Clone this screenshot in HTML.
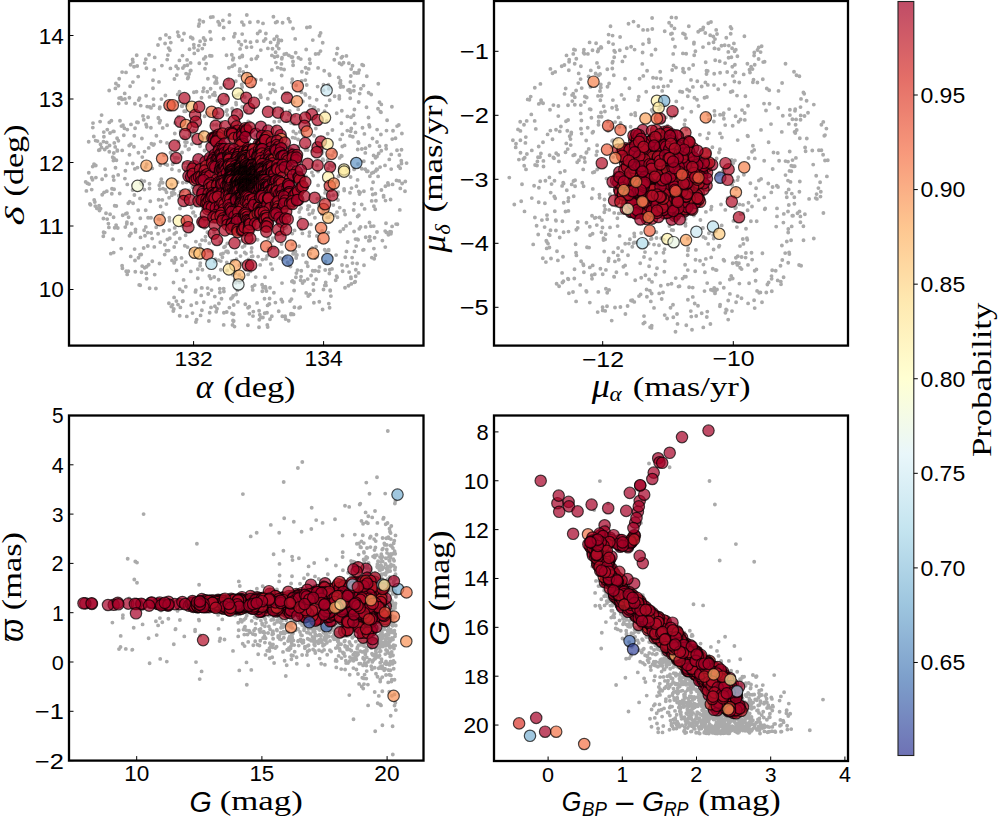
<!DOCTYPE html><html><head><meta charset="utf-8"><style>html,body{margin:0;padding:0;background:#fff;overflow:hidden}svg{display:block}.m circle{r:5.7px;stroke:#000;stroke-width:1.2px;stroke-opacity:.7;fill-opacity:.7}.c0{fill:#313695}.c1{fill:#36469d}.c2{fill:#3b56a5}.c3{fill:#4066ad}.c4{fill:#4676b5}.c5{fill:#5285bc}.c6{fill:#5e93c4}.c7{fill:#6aa2cb}.c8{fill:#77afd2}.c9{fill:#85bbd8}.c10{fill:#93c6df}.c11{fill:#a1d1e5}.c12{fill:#afdbea}.c13{fill:#bde2ee}.c14{fill:#cae8f2}.c15{fill:#d8eff6}.c16{fill:#e3f4f2}.c17{fill:#ebf7e4}.c18{fill:#f3fad5}.c19{fill:#fbfdc6}.c20{fill:#fffbb9}.c21{fill:#fff3ad}.c22{fill:#feeba1}.c23{fill:#fee395}.c24{fill:#fed889}.c25{fill:#fecb7d}.c26{fill:#fdbf71}.c27{fill:#fdb265}.c28{fill:#fba25c}.c29{fill:#f99254}.c30{fill:#f7814c}.c31{fill:#f47045}.c32{fill:#ee603d}.c33{fill:#e75136}.c34{fill:#df412f}.c35{fill:#d83228}.c36{fill:#cb2527}.c37{fill:#bf1927}.c38{fill:#b20c26}.c39{fill:#a50026}</style></head><body>
<svg width="1000" height="818" viewBox="0 0 1000 818">
<rect width="1000" height="818" fill="#fff"/>
<svg x="69" y="1" width="354.5" height="344.6" overflow="hidden"><g transform="translate(-69,-1)">
<path stroke="#aaaaaa" stroke-width="3.9" stroke-linecap="round" fill="none" d="M305.1 93.9h0M270.0 319.2h0M352.5 263.1h0M195.3 205.4h0M159.9 107.1h0M214.3 117.7h0M129.2 145.5h0M286.5 144.7h0M212.9 94.8h0M400.3 188.4h0M246.9 130.0h0M145.8 226.9h0M269.1 221.9h0M200.0 144.7h0M381.4 190.0h0M174.8 133.5h0M210.7 17.3h0M293.5 314.4h0M209.4 276.0h0M330.2 290.7h0M190.7 37.3h0M116.3 206.0h0M281.2 158.5h0M167.9 55.1h0M363.3 65.4h0M310.8 249.2h0M257.5 56.5h0M309.2 214.3h0M199.3 63.2h0M88.7 141.8h0M375.5 157.7h0M216.1 130.9h0M274.0 108.7h0M180.6 130.9h0M398.8 125.0h0M126.9 222.2h0M179.4 60.4h0M264.7 313.3h0M244.7 252.4h0M282.6 22.7h0M283.0 179.9h0M159.8 189.1h0M100.6 208.6h0M134.4 195.0h0M121.2 248.6h0M192.9 212.7h0M305.5 94.9h0M257.6 199.3h0M187.7 78.5h0M315.8 128.5h0M314.6 107.8h0M174.7 193.7h0M194.6 122.4h0M151.2 233.0h0M300.8 59.1h0M241.0 114.9h0M153.3 145.0h0M105.1 169.3h0M207.4 232.2h0M181.8 196.1h0M205.4 165.2h0M252.0 231.9h0M150.9 127.8h0M195.4 291.9h0M280.3 210.6h0M144.8 63.1h0M144.6 267.7h0M144.5 151.6h0M352.5 65.8h0M242.2 87.0h0M141.9 138.5h0M236.0 252.5h0M285.9 257.4h0M335.7 280.2h0M169.5 220.7h0M205.9 138.0h0M239.2 274.9h0M378.7 153.5h0M354.3 203.6h0M162.7 127.9h0M197.3 118.5h0M255.7 277.1h0M253.0 85.9h0M145.0 235.7h0M215.4 208.0h0M185.0 142.1h0M120.0 120.7h0M214.7 261.6h0M292.3 79.2h0M252.7 256.2h0M375.4 255.2h0M174.3 233.9h0M349.2 89.6h0M159.0 81.9h0M354.1 169.4h0M125.3 227.1h0M93.0 123.1h0M344.2 190.6h0M190.2 203.6h0M308.7 68.9h0M153.0 88.2h0M94.2 199.9h0M91.7 177.8h0M155.9 288.5h0M186.1 73.6h0M292.2 193.2h0M344.1 189.0h0M368.8 240.7h0M247.9 77.6h0M337.5 48.4h0M187.4 163.2h0M169.4 217.6h0M218.5 160.2h0M359.3 228.7h0M298.2 109.4h0M128.6 217.2h0M101.5 147.4h0M242.5 247.1h0M162.3 199.9h0M328.8 303.6h0M183.0 301.0h0M292.6 204.1h0M236.1 294.5h0M103.9 136.8h0M246.0 253.6h0M325.2 270.0h0M242.1 162.8h0M218.5 260.1h0M143.0 115.9h0M264.1 173.6h0M110.0 133.0h0M154.3 246.9h0M211.0 173.3h0M104.7 232.6h0M250.2 100.9h0M99.6 149.9h0M182.6 301.2h0M247.9 325.2h0M287.4 193.2h0M125.4 170.7h0M353.8 90.7h0M329.6 307.7h0M173.3 311.0h0M358.4 72.9h0M270.0 287.7h0M200.0 146.3h0M189.6 134.9h0M177.6 182.2h0M334.2 165.0h0M257.6 239.7h0M193.8 44.6h0M108.9 227.4h0M273.4 16.7h0M330.2 290.1h0M258.6 160.1h0M301.9 71.7h0M307.7 209.4h0M152.3 261.3h0M227.7 251.4h0M353.5 115.2h0M181.5 257.9h0M399.4 155.0h0M178.0 68.6h0M93.8 136.5h0M391.2 232.0h0M172.5 304.9h0M306.2 49.5h0M299.4 178.6h0M388.5 184.9h0M318.1 171.5h0M238.9 94.2h0M195.6 189.4h0M271.9 55.4h0M290.1 101.3h0M372.3 162.7h0M300.2 307.2h0M159.6 219.6h0M357.3 239.1h0M292.5 280.9h0M145.7 210.2h0M171.3 306.6h0M373.6 155.4h0M234.3 152.3h0M182.2 106.2h0M86.4 190.9h0M195.1 171.0h0M326.0 285.4h0M200.4 248.3h0M343.5 62.7h0M210.6 88.8h0M294.6 230.4h0M193.9 92.3h0M226.8 262.5h0M135.4 231.9h0M248.2 121.5h0M301.1 229.3h0M294.4 307.3h0M239.9 69.0h0M283.9 149.8h0M246.8 15.0h0M227.3 243.4h0M251.4 59.2h0M226.7 312.0h0M227.1 270.4h0M106.7 142.4h0M307.6 150.0h0M252.7 289.9h0M303.5 135.7h0M115.4 88.4h0M313.5 290.3h0M331.2 214.1h0M312.2 248.0h0M263.8 195.8h0M122.7 215.3h0M248.5 259.5h0M120.9 97.6h0M369.6 145.8h0M196.7 205.2h0M267.9 48.4h0M388.4 234.7h0M264.9 137.6h0M362.1 64.7h0M325.1 192.9h0M320.6 33.0h0M229.5 14.9h0M235.8 282.7h0M129.5 154.7h0M287.9 93.1h0M350.0 135.9h0M268.4 248.4h0M306.2 113.7h0M139.2 284.9h0M386.4 232.4h0M95.6 140.6h0M355.7 276.3h0M356.2 246.1h0M190.8 271.4h0M215.8 152.8h0M165.3 189.8h0M115.5 167.7h0M148.7 147.9h0M265.3 286.6h0M154.1 144.1h0M144.1 230.2h0M269.1 164.0h0M223.7 288.6h0M182.8 182.8h0M310.1 63.3h0M146.3 273.3h0M289.7 110.9h0M301.0 276.6h0M293.3 131.5h0M393.0 130.7h0M105.8 175.5h0M246.2 111.0h0M189.1 74.1h0M206.2 63.6h0M159.5 122.7h0M219.4 24.9h0M124.7 93.4h0M263.8 41.0h0M376.6 169.3h0M309.2 235.9h0M239.6 148.6h0M169.5 37.6h0M375.2 209.3h0M282.2 108.9h0M386.0 223.2h0M107.2 219.1h0M259.1 310.8h0M220.8 261.1h0M163.6 230.7h0M128.3 271.3h0M118.4 140.8h0M243.1 226.7h0M312.2 151.1h0M308.1 205.9h0M209.0 233.6h0M350.4 81.9h0M371.8 188.9h0M310.2 253.8h0M392.1 226.4h0M294.0 123.9h0M209.3 243.3h0M373.4 172.4h0M296.1 85.3h0M236.5 259.2h0M350.2 98.2h0M113.3 176.5h0M252.4 286.8h0M275.6 52.2h0M189.1 149.0h0M371.8 257.6h0M298.8 146.5h0M338.7 77.4h0M228.2 79.4h0M193.7 130.6h0M153.5 99.1h0M355.5 239.1h0M248.1 274.4h0M274.2 184.5h0M212.8 166.6h0M293.2 165.9h0M115.9 83.5h0M222.4 257.2h0M318.1 67.9h0M372.7 194.5h0M281.0 68.7h0M95.9 177.6h0M242.2 278.0h0M315.2 258.1h0M242.2 106.9h0M109.3 151.7h0M241.7 213.6h0M251.4 251.9h0M173.0 192.4h0M337.6 194.6h0M160.2 165.2h0M380.1 167.1h0M313.9 302.7h0M174.1 262.9h0M227.3 114.9h0M309.5 232.2h0M113.8 180.1h0M251.6 256.6h0M361.7 204.5h0M327.5 160.2h0M405.0 191.2h0M138.2 210.2h0M232.6 110.9h0M242.0 153.7h0M386.0 145.6h0M292.4 244.4h0M186.6 182.4h0M170.4 68.4h0M255.8 79.6h0M286.9 120.9h0M322.6 309.5h0M251.7 248.0h0M209.7 312.7h0M401.5 149.7h0M293.0 28.5h0M225.1 246.4h0M126.2 103.1h0M140.0 254.6h0M148.1 117.3h0M247.4 234.4h0M339.6 157.9h0M334.3 59.8h0M262.4 148.4h0M385.4 186.2h0M279.3 121.3h0M340.5 80.8h0M399.2 180.9h0M207.1 175.9h0M130.7 256.4h0M249.8 196.5h0M338.5 176.2h0M259.8 314.7h0M189.1 190.4h0M151.4 143.7h0M219.8 288.7h0M277.5 224.0h0M215.0 210.3h0M165.9 34.9h0M162.7 223.2h0M252.1 215.8h0M118.7 103.5h0M372.5 138.5h0M211.6 158.8h0M295.2 38.9h0M273.8 163.6h0M284.3 202.1h0M133.1 203.2h0M354.6 282.2h0M232.0 260.9h0M296.4 273.1h0M311.1 275.5h0M359.5 194.1h0M400.2 168.3h0M339.6 170.9h0M192.5 313.1h0M390.9 233.7h0M337.0 212.1h0M146.7 126.7h0M347.7 242.0h0M164.0 155.3h0M262.3 291.2h0M113.7 252.6h0M248.0 307.8h0M210.1 31.8h0M233.2 295.9h0M147.2 106.6h0M306.7 147.5h0M318.6 53.8h0M229.6 203.5h0M390.6 199.5h0M137.5 167.6h0M184.8 245.7h0M302.9 101.5h0M293.1 253.8h0M171.9 195.2h0M375.7 170.9h0M242.2 34.1h0M195.9 322.0h0M211.8 219.6h0M104.1 192.4h0M166.4 204.1h0M245.4 269.6h0M169.9 50.2h0M238.1 143.3h0M181.9 197.2h0M234.9 33.7h0M267.8 98.8h0M291.0 123.1h0M267.6 133.4h0M220.1 101.1h0M108.4 223.6h0M233.0 320.5h0M250.9 158.2h0M251.5 47.1h0M256.2 58.5h0M342.6 271.3h0M102.1 179.2h0M158.0 45.0h0M348.9 63.3h0M324.7 249.7h0M114.7 205.7h0M272.3 269.2h0M117.8 228.0h0M214.8 296.6h0M227.1 214.7h0M196.5 91.7h0M127.0 213.2h0M318.9 204.6h0M272.5 48.8h0M375.4 193.7h0M282.3 316.3h0M163.1 188.6h0M223.0 217.6h0M113.8 153.0h0M174.1 297.4h0M340.6 83.8h0M283.5 140.3h0M190.9 122.4h0M354.0 86.1h0M304.3 280.9h0M238.7 228.2h0M302.7 133.8h0M339.5 63.2h0M361.8 149.0h0M159.3 185.2h0M140.5 237.4h0M345.0 287.7h0M201.6 287.9h0M215.8 168.8h0M326.3 105.6h0M123.8 135.2h0M247.2 145.2h0M190.6 182.0h0M314.9 217.7h0M110.1 214.3h0M350.2 223.2h0M276.8 136.6h0M270.4 92.5h0M315.2 270.7h0M398.6 166.2h0M294.0 282.6h0M153.0 80.3h0M397.4 224.2h0M223.9 312.8h0M197.0 186.9h0M343.2 86.8h0M364.6 208.9h0M229.8 203.8h0M113.1 239.3h0M187.1 59.9h0M363.8 161.3h0M247.4 210.6h0M267.7 327.1h0M229.4 307.6h0M152.2 238.6h0M246.6 47.2h0M245.3 304.2h0M116.1 225.1h0M322.1 231.0h0M272.1 241.0h0M295.7 52.8h0M296.2 258.1h0M324.6 111.2h0M200.1 41.3h0M214.6 92.6h0M401.3 160.7h0M205.2 40.3h0M377.1 129.6h0M171.9 169.2h0M294.3 115.7h0M164.8 244.7h0M369.5 222.5h0M318.7 271.3h0M288.9 55.4h0M227.0 110.0h0M185.8 286.7h0M371.7 200.9h0M274.6 57.0h0M201.9 287.9h0M317.3 198.8h0M309.8 294.4h0M232.1 297.8h0M207.6 288.1h0M207.1 112.6h0M94.0 164.3h0M114.1 189.3h0M279.7 218.1h0M126.0 72.4h0M341.8 156.1h0M350.0 192.8h0M377.0 142.0h0M122.2 150.4h0M143.7 119.8h0M233.4 58.1h0M324.8 285.4h0M370.9 226.3h0M332.5 166.1h0M124.9 178.6h0M229.6 229.1h0M290.8 148.7h0M101.6 115.1h0M245.2 150.7h0M293.1 65.3h0M328.3 232.6h0M344.6 145.4h0M275.6 22.6h0M148.1 217.7h0M146.6 266.7h0M174.9 162.2h0M370.1 240.5h0M204.6 116.2h0M299.1 212.1h0M265.3 206.3h0M203.8 58.9h0M200.6 315.4h0M191.9 135.9h0M354.3 72.8h0M325.7 282.5h0M185.8 262.1h0M203.3 21.8h0M328.4 84.8h0M130.1 86.3h0M277.1 234.7h0M89.1 184.1h0M363.5 85.6h0M281.4 40.5h0M317.0 256.7h0M341.3 155.7h0M173.8 102.1h0M257.1 302.9h0M323.5 90.3h0M390.0 231.8h0M115.2 146.9h0M226.2 111.4h0M169.8 238.3h0M237.4 95.4h0M215.0 83.0h0M168.6 250.6h0M146.7 164.3h0M201.5 97.8h0M276.6 161.6h0M199.2 23.9h0M179.8 238.5h0M281.1 117.4h0M149.5 188.5h0M337.1 277.2h0M306.0 176.4h0M189.1 180.5h0M104.7 149.5h0M396.5 180.4h0M168.6 48.1h0M165.4 95.5h0M312.8 40.1h0M357.6 179.9h0M165.2 164.1h0M143.7 248.0h0M301.8 131.3h0M237.5 290.4h0M96.9 208.4h0M240.7 264.1h0M128.3 203.3h0M92.7 166.6h0M234.1 201.7h0M153.6 105.3h0M140.3 218.3h0M218.6 279.7h0M103.4 218.5h0M292.5 57.1h0M232.8 274.7h0M242.3 55.5h0M310.0 27.0h0M288.7 114.6h0M169.1 197.8h0M103.5 141.6h0M103.6 232.3h0M252.4 239.9h0M255.8 186.9h0M160.6 141.6h0M244.6 245.8h0M219.5 23.7h0M172.6 164.2h0M240.5 256.1h0M196.6 319.6h0M328.9 88.8h0M231.6 159.0h0M295.4 251.4h0M132.9 61.9h0M391.2 169.1h0M251.0 184.6h0M305.6 67.8h0M385.5 200.6h0M191.8 144.1h0M161.3 179.2h0M160.1 38.7h0M293.8 253.7h0M106.9 147.4h0M336.7 113.2h0M265.6 38.9h0M200.2 220.1h0M365.7 237.2h0M217.5 100.7h0M273.7 158.7h0M314.0 135.8h0M329.7 200.5h0M113.2 131.4h0M278.1 43.0h0M352.1 257.6h0M94.8 202.0h0M351.5 188.1h0M201.9 310.3h0M218.1 21.7h0M271.1 133.3h0M267.6 305.4h0M224.0 247.3h0M371.2 94.5h0M379.5 102.3h0M205.5 236.7h0M151.0 217.7h0M221.5 122.2h0M135.0 260.5h0M257.6 33.5h0M161.9 65.6h0M295.9 277.3h0M256.5 218.8h0M167.1 125.3h0M178.4 141.5h0M350.7 131.3h0M260.3 95.3h0M160.5 182.8h0M189.5 49.2h0M307.8 266.3h0M328.7 217.2h0M246.4 204.1h0M280.0 258.0h0M170.5 152.8h0M381.3 150.7h0M299.1 246.2h0M122.0 99.4h0M245.3 187.0h0M386.5 130.6h0M140.0 198.4h0M197.3 192.0h0M191.6 207.6h0M195.8 290.2h0M185.8 170.0h0M249.9 22.2h0M260.2 264.9h0M178.8 195.8h0M329.6 196.3h0M203.7 88.2h0M107.3 129.6h0M295.0 138.1h0M113.6 217.2h0M112.0 188.8h0M365.6 226.9h0M117.3 150.9h0M250.5 271.4h0M241.3 44.8h0M234.6 95.9h0M299.7 131.9h0M323.2 160.4h0M159.5 263.5h0M167.3 165.0h0M374.6 237.8h0M230.4 164.7h0M290.9 314.6h0M208.9 321.0h0M290.0 301.1h0M156.4 135.7h0M373.9 248.6h0M219.9 292.5h0M181.6 106.0h0M365.5 148.3h0M395.5 138.3h0M369.9 176.3h0M203.6 38.0h0M216.8 83.0h0M329.7 100.3h0M329.8 269.7h0M181.9 225.7h0M187.3 65.2h0M185.8 167.7h0M226.1 251.5h0M341.4 57.7h0M313.4 107.3h0M91.7 189.6h0M319.3 301.8h0M228.1 252.5h0M346.5 170.0h0M294.2 251.1h0M214.2 76.6h0M207.9 78.7h0M112.7 157.3h0M323.0 199.5h0M321.0 197.8h0M303.4 170.5h0M243.5 131.9h0M329.4 273.5h0M146.6 278.7h0M218.9 303.5h0M103.8 132.1h0M233.0 193.5h0M262.4 259.6h0M253.4 215.6h0M182.1 265.3h0M190.5 225.0h0M264.9 146.7h0M233.4 321.4h0M150.3 201.2h0M268.1 143.2h0M350.3 92.5h0M269.5 83.9h0M232.5 324.9h0M263.0 287.5h0M246.4 205.7h0M345.3 257.3h0M298.4 57.7h0M280.1 231.8h0M285.3 93.2h0M252.3 214.2h0M244.4 129.5h0M312.6 212.8h0M330.9 296.1h0M201.8 249.6h0M217.0 308.8h0M240.1 48.9h0M135.3 271.7h0M254.8 199.9h0M358.8 191.5h0M109.3 122.4h0M168.9 303.2h0M180.0 208.5h0M221.3 190.4h0M276.9 36.5h0M118.4 85.8h0M235.1 273.2h0M328.7 249.8h0M302.6 283.1h0M339.3 96.0h0M360.1 192.4h0M281.8 58.8h0M387.9 183.0h0M129.5 235.7h0M325.5 189.9h0M169.3 230.1h0M134.8 168.9h0M202.3 48.6h0M291.8 82.6h0M385.2 231.1h0M287.7 262.5h0M233.7 305.0h0M182.5 55.6h0M273.9 292.7h0M309.1 124.7h0M241.3 93.7h0M172.0 260.4h0M292.6 137.6h0M311.9 172.4h0M162.8 213.2h0M278.6 40.0h0M95.8 165.5h0M119.7 193.5h0M173.8 189.6h0M173.8 309.0h0M216.3 80.9h0M289.3 265.6h0M223.6 38.7h0M201.2 295.4h0M127.3 184.4h0M254.7 285.1h0M195.3 215.9h0M134.9 103.8h0M165.1 43.5h0M241.3 263.4h0M186.9 105.2h0M260.9 97.2h0M261.5 201.5h0M220.7 150.4h0M234.5 326.6h0M241.1 184.4h0M244.8 97.0h0M281.4 63.9h0M358.1 239.8h0M379.5 146.3h0M324.2 70.8h0M261.1 79.8h0M360.5 226.9h0M387.1 120.3h0M321.9 214.2h0M320.5 51.1h0M185.6 235.2h0M182.9 68.0h0M211.5 290.1h0M392.2 139.1h0M282.2 88.3h0M182.2 40.1h0M190.9 250.0h0M402.1 183.5h0M174.3 262.5h0M185.5 138.3h0M175.3 257.8h0M356.8 73.0h0M222.7 208.8h0M351.0 117.3h0M276.9 45.7h0M215.4 259.3h0M183.6 103.7h0M268.9 304.3h0M151.0 107.9h0M271.8 316.3h0M325.6 261.6h0M132.8 163.5h0M321.9 153.3h0M127.1 163.4h0M238.9 122.9h0M170.8 42.6h0M266.0 258.9h0M336.6 276.1h0M285.4 165.5h0M273.0 134.1h0M198.9 45.6h0M358.2 142.0h0M211.5 134.5h0M182.7 191.2h0M220.3 242.0h0M309.9 105.6h0M176.2 232.4h0M138.4 152.8h0M364.4 133.9h0M397.0 150.2h0M355.8 269.7h0M198.0 50.3h0M401.5 163.5h0M313.3 284.0h0M99.1 205.7h0M290.6 174.3h0M284.1 69.5h0M319.4 266.9h0M319.2 241.0h0M164.7 254.6h0M138.5 257.8h0M174.2 247.0h0M285.6 171.1h0M141.2 254.5h0M183.2 198.3h0M371.8 173.1h0M340.2 139.4h0M329.8 165.0h0M196.8 172.4h0M251.7 127.5h0M185.3 145.9h0M148.7 264.8h0M197.5 168.9h0M198.7 26.1h0M277.6 67.6h0M179.2 101.6h0M213.0 183.5h0M285.1 316.3h0M363.9 191.2h0M301.4 92.3h0M167.2 59.6h0M336.1 255.1h0M323.3 210.8h0M357.7 149.5h0M205.4 240.6h0M234.4 64.9h0M118.2 174.9h0M176.4 301.1h0M210.1 193.3h0M232.5 137.6h0M224.2 84.9h0M231.8 54.7h0M306.7 85.0h0M264.0 186.9h0M307.2 187.4h0M186.9 142.3h0M114.3 142.9h0M380.4 111.8h0M208.3 293.7h0M241.7 84.5h0M209.5 96.9h0M350.9 277.1h0M406.6 163.1h0M190.8 70.5h0M329.3 74.1h0M347.1 265.9h0M299.9 209.4h0M348.5 285.8h0M366.8 76.3h0M293.7 102.3h0M212.9 16.9h0M187.5 247.1h0M263.1 172.3h0M137.2 66.0h0M160.2 120.6h0M288.7 320.8h0M316.1 246.6h0M220.8 87.9h0M282.4 301.7h0M114.7 227.7h0M210.2 156.7h0M117.3 150.3h0M405.3 181.5h0M195.9 241.6h0M244.6 197.7h0M350.0 90.3h0M292.7 195.4h0M175.9 259.5h0M134.0 66.7h0M243.3 72.0h0M332.0 155.5h0M217.9 113.2h0M200.0 170.3h0M274.2 247.8h0M223.9 291.5h0M135.5 229.4h0M223.7 324.9h0M204.6 228.1h0M278.3 191.8h0M132.6 59.4h0M178.4 35.8h0M199.9 244.7h0M243.7 24.9h0M228.9 67.7h0M336.5 182.0h0M355.5 132.4h0M182.1 152.5h0M285.6 319.0h0M267.1 255.9h0M367.8 171.2h0M192.5 38.3h0M179.2 170.7h0M253.7 106.9h0M136.7 55.3h0M215.6 134.6h0M399.8 209.9h0M358.6 143.1h0M116.4 160.3h0M175.1 122.9h0M341.4 123.3h0M342.0 265.0h0M255.6 178.9h0M317.6 86.6h0M146.1 95.8h0M327.7 133.7h0M232.5 233.6h0M290.0 21.8h0M274.3 103.3h0M347.3 130.6h0M141.3 180.4h0M257.3 174.1h0M227.4 131.1h0M215.6 217.1h0M212.1 251.5h0M401.9 133.5h0M320.4 207.5h0M296.9 254.9h0M277.5 56.2h0M241.7 240.8h0M184.2 111.2h0M294.0 282.0h0M122.4 268.3h0M329.7 75.2h0M346.4 251.4h0M292.3 233.6h0M192.6 187.2h0M154.2 69.9h0M127.2 274.4h0M140.6 183.1h0M259.3 319.8h0M95.3 206.1h0M278.8 48.6h0M238.7 41.7h0M204.5 150.5h0M199.6 173.9h0M342.3 146.5h0M183.4 137.3h0M305.3 80.1h0M272.9 238.1h0M201.6 218.4h0M121.4 126.1h0M328.1 168.6h0M233.7 222.9h0M353.7 210.0h0M162.7 182.8h0M250.5 171.2h0M247.4 74.8h0M265.4 168.8h0M360.9 88.7h0M180.4 307.4h0M282.0 57.8h0M138.0 122.5h0M274.1 110.7h0M358.0 164.0h0M138.2 76.6h0M204.4 44.4h0M383.6 196.9h0M221.9 105.2h0M362.5 127.7h0M171.7 192.8h0M389.3 159.4h0M190.6 225.3h0M171.6 184.6h0M275.1 126.6h0M315.6 54.0h0M92.8 127.6h0M246.4 66.3h0M189.5 193.1h0M209.3 134.4h0M196.6 303.0h0M232.7 213.7h0M316.9 236.0h0M146.4 68.3h0M257.0 41.3h0M328.5 195.0h0M158.4 219.1h0M207.7 154.7h0M140.7 105.6h0M156.2 227.3h0M212.1 152.1h0M354.4 251.4h0M338.0 200.0h0M215.3 173.6h0M232.3 66.2h0M316.9 165.4h0M344.1 210.8h0M274.2 121.7h0M141.9 184.4h0M134.3 135.7h0M291.5 299.1h0M373.7 226.1h0M199.6 20.1h0M369.1 125.0h0M265.7 288.3h0M260.1 183.5h0M248.9 165.8h0M233.3 260.8h0M346.4 55.9h0M262.1 284.7h0M142.3 157.1h0M234.6 128.7h0M249.9 122.4h0M348.0 90.2h0M241.0 163.5h0M291.3 201.6h0M179.7 315.8h0M208.5 250.7h0M241.9 22.1h0M369.6 126.8h0M290.5 266.5h0M378.1 176.4h0M264.5 298.8h0M261.9 165.1h0M385.0 165.4h0M382.4 240.6h0M332.4 130.0h0M245.1 194.1h0M217.8 130.2h0M275.9 62.6h0M255.3 135.2h0M300.6 280.3h0M357.6 216.5h0M253.8 220.8h0M294.1 290.5h0M334.6 215.2h0M149.5 183.7h0M144.4 181.1h0M246.2 263.3h0M255.3 149.0h0M216.4 133.0h0M341.7 64.6h0M291.2 259.4h0M265.0 277.2h0M281.6 114.8h0M291.4 56.9h0M352.8 136.7h0M100.5 144.3h0M271.9 69.9h0M177.7 94.4h0M113.4 160.6h0M319.5 35.7h0M184.4 65.9h0M322.6 152.0h0M296.8 198.7h0M179.7 289.3h0M339.7 207.6h0M349.1 272.1h0M301.3 270.8h0M109.6 145.5h0M228.3 220.1h0M149.6 288.3h0M100.1 121.6h0M245.8 191.1h0M203.8 302.3h0M132.9 82.1h0M357.1 263.5h0M200.1 265.7h0M327.1 217.4h0M114.0 158.2h0M210.9 39.2h0M290.0 153.3h0M194.0 47.7h0M375.9 200.8h0M299.1 307.9h0M99.5 210.5h0M368.6 92.8h0M224.8 187.9h0M391.9 106.7h0M265.9 33.5h0M253.3 311.6h0M312.7 270.8h0M358.6 272.9h0M138.7 100.1h0M303.0 255.0h0M323.5 84.7h0M332.0 268.9h0M178.0 304.6h0M328.1 154.9h0M378.3 83.8h0M239.8 282.4h0M216.2 311.7h0M359.2 70.1h0M283.1 235.1h0M130.6 64.7h0M345.1 214.5h0M182.6 291.5h0M267.0 312.7h0M283.1 187.6h0M149.8 106.9h0M144.4 189.6h0M207.3 91.7h0M184.8 221.9h0M212.8 178.3h0M316.1 279.2h0M158.1 233.7h0M347.4 116.4h0M296.0 133.6h0M368.5 117.5h0M237.8 301.9h0M270.6 42.4h0M202.0 240.1h0M167.0 142.9h0M341.8 110.7h0M109.2 90.5h0M318.3 110.0h0M273.7 84.3h0M210.4 218.0h0M229.9 184.5h0M339.7 82.9h0M127.3 129.6h0M397.1 126.1h0M204.2 220.8h0M354.1 231.5h0M208.2 294.0h0M158.4 117.8h0M226.2 214.7h0M126.2 271.3h0M373.1 182.3h0M166.4 250.8h0M233.6 314.3h0M205.5 56.9h0M339.3 98.2h0M342.3 134.4h0M354.8 123.4h0M92.5 179.8h0M309.6 59.3h0M154.7 57.4h0M285.5 137.6h0M216.4 153.2h0M261.9 193.8h0M176.8 75.1h0M361.8 168.8h0M216.5 78.1h0M236.0 102.7h0M378.0 108.8h0M306.9 262.7h0M216.3 132.6h0M177.7 32.1h0M87.3 183.3h0M236.1 111.0h0M176.2 157.8h0M126.8 223.8h0M333.3 205.1h0M359.7 93.6h0M192.3 251.4h0M258.1 256.6h0M339.3 98.7h0M392.6 184.4h0M322.7 42.7h0M293.0 61.5h0M336.7 53.8h0M334.2 152.0h0M205.0 68.7h0M241.5 191.9h0M343.4 229.0h0M342.4 56.6h0M176.1 66.2h0M249.4 313.7h0M192.6 165.8h0M292.0 314.0h0M267.3 324.9h0M297.5 270.1h0M298.1 139.5h0M245.3 41.1h0M306.1 262.4h0M129.7 201.8h0M232.2 108.5h0M225.9 159.0h0M306.7 73.1h0M358.8 215.3h0M374.2 258.7h0M270.8 263.9h0M338.1 192.1h0M383.6 195.6h0M391.2 154.4h0M158.4 118.2h0M190.4 70.7h0M351.0 278.4h0M301.1 208.0h0M235.1 225.4h0M188.3 77.3h0M214.9 306.3h0M310.9 224.4h0M209.9 55.7h0M110.8 253.6h0M249.3 306.7h0M211.2 193.4h0M282.7 259.3h0M142.2 266.1h0M251.6 193.8h0M251.8 210.9h0M351.3 283.9h0M135.1 128.3h0M224.5 134.5h0M325.8 251.1h0M318.1 185.4h0M230.9 298.8h0M113.9 131.4h0M190.0 180.4h0M281.9 252.1h0M197.8 269.2h0M176.6 270.4h0M282.0 283.1h0M281.7 75.5h0M396.1 224.1h0M102.2 194.8h0M365.3 152.9h0M301.6 81.0h0M172.0 155.1h0M297.7 161.7h0M380.9 134.5h0M211.2 217.9h0M366.7 171.2h0M262.9 317.5h0M198.3 222.1h0M184.0 33.5h0M291.0 313.8h0M377.0 156.5h0M180.5 191.8h0M220.9 254.2h0M223.0 253.4h0M381.0 112.2h0M221.5 298.8h0M211.0 307.4h0M229.3 22.3h0M222.1 215.2h0M130.9 144.1h0M355.2 281.8h0M178.2 158.1h0M284.3 54.3h0M239.5 71.3h0M90.5 204.7h0M119.2 78.7h0M242.6 138.9h0M122.1 72.1h0M354.4 109.5h0M351.3 128.5h0M222.9 20.4h0M214.8 177.1h0M226.5 55.3h0M214.2 277.0h0M291.6 57.3h0M333.4 195.2h0M174.9 157.9h0M346.0 225.9h0M239.4 265.2h0M277.1 21.8h0M125.9 213.7h0M197.8 278.3h0M356.4 186.3h0M97.5 141.1h0M239.7 57.5h0M193.5 212.3h0M385.3 247.1h0M133.9 146.7h0M386.2 148.7h0M174.9 105.1h0M266.4 291.0h0M253.0 316.1h0M186.6 177.2h0M217.0 117.7h0M263.0 23.4h0M255.2 229.6h0M241.8 154.5h0M286.4 53.7h0M288.5 18.7h0M160.6 206.5h0M152.3 168.4h0M369.7 236.7h0M236.2 104.5h0M284.3 228.4h0M275.3 91.2h0M307.7 279.1h0M309.6 97.8h0M202.4 132.1h0M209.7 114.5h0M98.8 150.3h0M350.6 177.0h0M300.2 217.6h0M337.5 217.3h0M183.7 163.1h0M351.2 69.1h0M193.2 109.3h0M253.5 162.8h0M363.0 250.1h0M188.0 177.2h0M291.9 281.5h0M296.0 191.6h0M119.1 98.1h0M281.8 166.2h0M194.3 53.4h0M196.9 203.1h0M260.0 31.3h0M316.7 99.8h0M366.5 107.3h0M274.2 39.2h0M216.6 124.9h0M281.4 109.9h0M260.8 317.5h0M306.2 292.9h0M85.7 181.9h0M234.7 280.3h0M176.0 242.4h0M309.4 206.2h0M334.6 96.3h0M269.6 298.5h0M275.4 302.6h0M258.0 21.8h0M201.4 192.3h0M281.3 299.4h0M227.4 134.8h0M259.8 131.9h0M203.0 91.4h0M377.2 169.6h0M220.8 269.7h0M313.2 210.4h0M322.8 159.2h0M188.4 149.5h0M326.7 120.9h0M226.4 95.4h0M231.1 211.6h0M88.8 172.8h0M213.0 124.9h0M373.9 206.3h0M313.2 175.6h0M173.5 282.5h0M299.8 160.6h0M122.1 265.8h0M223.7 27.4h0M243.6 223.6h0M174.7 227.9h0M250.0 79.5h0M286.2 227.6h0M318.8 239.6h0M186.8 316.4h0M161.4 99.1h0M260.8 50.1h0M210.7 278.6h0M174.4 79.0h0M206.3 186.0h0M233.9 36.8h0M158.6 199.8h0M308.2 296.1h0M140.2 285.2h0M147.7 232.6h0M264.2 223.7h0M111.8 193.7h0M350.8 76.0h0M377.0 232.0h0M323.5 289.5h0M307.5 113.5h0M272.7 89.6h0M159.6 108.5h0M269.4 303.9h0M214.3 112.4h0M239.5 75.4h0M146.1 124.4h0M276.9 198.5h0M103.3 236.2h0M211.7 55.9h0M302.4 233.4h0M305.4 150.1h0M358.7 102.0h0M134.6 249.1h0M202.4 269.8h0M214.1 232.2h0M232.1 313.5h0M147.8 246.0h0M167.4 239.5h0M106.0 213.3h0M111.4 120.7h0M248.3 133.7h0M124.9 98.9h0M259.0 327.2h0M275.0 141.9h0M149.0 54.8h0M124.4 128.3h0M252.6 229.7h0M222.2 145.7h0M199.7 169.7h0M160.3 242.2h0M131.0 124.4h0M323.5 198.7h0M200.7 166.3h0M268.3 238.6h0M136.9 122.2h0M193.1 193.2h0M190.6 62.9h0M200.3 263.1h0M271.5 247.6h0M131.7 223.8h0M363.7 249.7h0M306.9 27.5h0M247.7 221.7h0M129.4 97.8h0M141.5 272.2h0M278.7 311.3h0M183.6 279.9h0M145.8 59.3h0M235.8 81.3h0M139.5 98.3h0M364.0 265.3h0M340.2 231.5h0M232.8 59.7h0M191.2 305.2h0M233.7 320.9h0M117.1 138.3h0M178.9 36.4h0M220.8 181.1h0M281.6 244.1h0M292.2 153.7h0M106.8 191.2h0M215.1 95.2h0M219.2 206.3h0M154.7 274.6h0M123.0 125.2h0M296.2 256.7h0M250.5 42.2h0M179.5 91.7h0M192.7 38.8h0M178.4 116.8h0M365.3 169.3h0M130.9 233.4h0M239.0 127.5h0M89.9 204.0h0M242.3 56.5h0M381.3 104.4h0M132.6 190.0h0M328.7 250.5h0M166.5 192.2h0M340.5 87.0h0M185.7 111.2h0M145.6 167.1h0"/><g class="m"><circle cx="169.5" cy="105.2" r="5.7" class="c34"/><circle cx="172.8" cy="105.2" r="5.7" class="c32"/><circle cx="184.4" cy="98.1" r="5.7" class="c38"/><circle cx="191.8" cy="106.8" r="5.7" class="c26"/><circle cx="195.1" cy="115.1" r="5.7" class="c38"/><circle cx="174.5" cy="145.6" r="5.7" class="c38"/><circle cx="180.2" cy="121.7" r="5.7" class="c38"/><circle cx="186.0" cy="125.0" r="5.7" class="c29"/><circle cx="195.9" cy="121.7" r="5.7" class="c38"/><circle cx="192.6" cy="127.5" r="5.7" class="c38"/><circle cx="185.2" cy="134.0" r="5.7" class="c38"/><circle cx="199.2" cy="106.8" r="5.7" class="c38"/><circle cx="211.6" cy="111.8" r="5.7" class="c31"/><circle cx="223.6" cy="99.1" r="5.7" class="c38"/><circle cx="218.2" cy="113.4" r="5.7" class="c38"/><circle cx="197.6" cy="139.0" r="5.7" class="c38"/><circle cx="204.2" cy="136.5" r="5.7" class="c27"/><circle cx="211.5" cy="147.0" r="5.7" class="c39"/><circle cx="215.7" cy="125.8" r="5.7" class="c38"/><circle cx="225.3" cy="126.2" r="5.7" class="c38"/><circle cx="212.5" cy="138.0" r="5.7" class="c39"/><circle cx="215.4" cy="136.5" r="5.7" class="c39"/><circle cx="215.7" cy="137.5" r="5.7" class="c38"/><circle cx="214.1" cy="138.5" r="5.7" class="c39"/><circle cx="218.6" cy="134.7" r="5.7" class="c39"/><circle cx="218.1" cy="137.1" r="5.7" class="c38"/><circle cx="219.4" cy="137.9" r="5.7" class="c39"/><circle cx="216.0" cy="140.7" r="5.7" class="c39"/><circle cx="216.2" cy="141.5" r="5.7" class="c38"/><circle cx="222.5" cy="133.6" r="5.7" class="c37"/><circle cx="221.5" cy="146.2" r="5.7" class="c38"/><circle cx="224.5" cy="143.6" r="5.7" class="c39"/><circle cx="146.4" cy="165.7" r="5.7" class="c28"/><circle cx="162.1" cy="158.5" r="5.7" class="c31"/><circle cx="137.5" cy="185.9" r="5.7" class="c18"/><circle cx="159.7" cy="220.1" r="5.7" class="c30"/><circle cx="176.1" cy="158.0" r="5.7" class="c38"/><circle cx="187.7" cy="166.2" r="5.7" class="c38"/><circle cx="194.3" cy="166.2" r="5.7" class="c38"/><circle cx="192.6" cy="168.7" r="5.7" class="c38"/><circle cx="188.5" cy="176.1" r="5.7" class="c39"/><circle cx="191.1" cy="176.7" r="5.7" class="c39"/><circle cx="192.9" cy="173.9" r="5.7" class="c38"/><circle cx="171.7" cy="183.5" r="5.7" class="c27"/><circle cx="185.2" cy="194.6" r="5.7" class="c35"/><circle cx="194.9" cy="180.0" r="5.7" class="c37"/><circle cx="183.6" cy="201.0" r="5.7" class="c38"/><circle cx="189.9" cy="199.8" r="5.7" class="c38"/><circle cx="198.4" cy="159.4" r="5.7" class="c39"/><circle cx="205.5" cy="161.6" r="5.7" class="c39"/><circle cx="210.1" cy="157.7" r="5.7" class="c39"/><circle cx="210.4" cy="163.5" r="5.7" class="c38"/><circle cx="200.1" cy="169.3" r="5.7" class="c38"/><circle cx="196.8" cy="178.6" r="5.7" class="c39"/><circle cx="199.0" cy="176.9" r="5.7" class="c39"/><circle cx="201.3" cy="176.5" r="5.7" class="c37"/><circle cx="206.0" cy="166.2" r="5.7" class="c37"/><circle cx="204.8" cy="170.5" r="5.7" class="c38"/><circle cx="204.8" cy="175.9" r="5.7" class="c39"/><circle cx="207.2" cy="174.4" r="5.7" class="c38"/><circle cx="205.7" cy="177.5" r="5.7" class="c39"/><circle cx="210.0" cy="175.8" r="5.7" class="c38"/><circle cx="214.7" cy="154.7" r="5.7" class="c39"/><circle cx="219.1" cy="149.2" r="5.7" class="c39"/><circle cx="218.7" cy="151.0" r="5.7" class="c38"/><circle cx="219.5" cy="154.7" r="5.7" class="c39"/><circle cx="213.9" cy="158.3" r="5.7" class="c39"/><circle cx="212.7" cy="160.2" r="5.7" class="c39"/><circle cx="212.1" cy="163.4" r="5.7" class="c38"/><circle cx="216.4" cy="159.5" r="5.7" class="c38"/><circle cx="217.4" cy="158.9" r="5.7" class="c39"/><circle cx="218.4" cy="159.4" r="5.7" class="c38"/><circle cx="218.9" cy="162.3" r="5.7" class="c39"/><circle cx="222.6" cy="149.1" r="5.7" class="c39"/><circle cx="220.4" cy="154.1" r="5.7" class="c38"/><circle cx="221.4" cy="154.9" r="5.7" class="c38"/><circle cx="224.4" cy="149.1" r="5.7" class="c39"/><circle cx="224.7" cy="152.7" r="5.7" class="c39"/><circle cx="227.3" cy="152.7" r="5.7" class="c38"/><circle cx="221.0" cy="158.5" r="5.7" class="c39"/><circle cx="222.3" cy="158.3" r="5.7" class="c39"/><circle cx="222.2" cy="159.3" r="5.7" class="c39"/><circle cx="213.4" cy="166.6" r="5.7" class="c38"/><circle cx="215.2" cy="167.2" r="5.7" class="c39"/><circle cx="219.8" cy="170.5" r="5.7" class="c38"/><circle cx="219.6" cy="173.4" r="5.7" class="c38"/><circle cx="216.8" cy="179.7" r="5.7" class="c38"/><circle cx="221.8" cy="164.4" r="5.7" class="c39"/><circle cx="220.8" cy="167.2" r="5.7" class="c39"/><circle cx="223.5" cy="165.2" r="5.7" class="c39"/><circle cx="221.6" cy="169.4" r="5.7" class="c38"/><circle cx="220.4" cy="170.4" r="5.7" class="c39"/><circle cx="222.4" cy="169.7" r="5.7" class="c38"/><circle cx="223.9" cy="169.6" r="5.7" class="c39"/><circle cx="222.5" cy="170.1" r="5.7" class="c38"/><circle cx="223.7" cy="170.3" r="5.7" class="c39"/><circle cx="224.8" cy="166.2" r="5.7" class="c39"/><circle cx="226.9" cy="167.9" r="5.7" class="c39"/><circle cx="225.6" cy="170.3" r="5.7" class="c38"/><circle cx="222.9" cy="176.9" r="5.7" class="c38"/><circle cx="226.9" cy="172.8" r="5.7" class="c39"/><circle cx="225.2" cy="179.9" r="5.7" class="c39"/><circle cx="201.4" cy="181.0" r="5.7" class="c39"/><circle cx="203.6" cy="180.2" r="5.7" class="c39"/><circle cx="198.4" cy="190.3" r="5.7" class="c38"/><circle cx="202.9" cy="191.9" r="5.7" class="c39"/><circle cx="202.3" cy="194.2" r="5.7" class="c39"/><circle cx="210.5" cy="183.0" r="5.7" class="c39"/><circle cx="209.2" cy="184.7" r="5.7" class="c38"/><circle cx="209.7" cy="188.1" r="5.7" class="c38"/><circle cx="211.0" cy="191.7" r="5.7" class="c37"/><circle cx="208.6" cy="193.5" r="5.7" class="c38"/><circle cx="198.5" cy="201.3" r="5.7" class="c38"/><circle cx="203.3" cy="199.7" r="5.7" class="c39"/><circle cx="203.6" cy="199.8" r="5.7" class="c38"/><circle cx="201.9" cy="200.2" r="5.7" class="c38"/><circle cx="206.5" cy="199.6" r="5.7" class="c38"/><circle cx="206.3" cy="203.4" r="5.7" class="c38"/><circle cx="207.7" cy="202.6" r="5.7" class="c37"/><circle cx="209.2" cy="199.5" r="5.7" class="c39"/><circle cx="210.9" cy="198.3" r="5.7" class="c38"/><circle cx="207.7" cy="209.1" r="5.7" class="c38"/><circle cx="209.0" cy="206.8" r="5.7" class="c39"/><circle cx="211.9" cy="207.3" r="5.7" class="c38"/><circle cx="212.3" cy="186.1" r="5.7" class="c38"/><circle cx="217.7" cy="183.5" r="5.7" class="c38"/><circle cx="218.9" cy="182.1" r="5.7" class="c38"/><circle cx="216.9" cy="185.6" r="5.7" class="c38"/><circle cx="212.3" cy="193.1" r="5.7" class="c39"/><circle cx="212.9" cy="195.0" r="5.7" class="c38"/><circle cx="216.0" cy="192.9" r="5.7" class="c38"/><circle cx="216.0" cy="193.4" r="5.7" class="c39"/><circle cx="218.3" cy="192.1" r="5.7" class="c38"/><circle cx="221.4" cy="181.1" r="5.7" class="c39"/><circle cx="222.7" cy="181.6" r="5.7" class="c39"/><circle cx="221.0" cy="184.3" r="5.7" class="c39"/><circle cx="222.1" cy="184.1" r="5.7" class="c39"/><circle cx="224.4" cy="182.6" r="5.7" class="c38"/><circle cx="227.9" cy="183.9" r="5.7" class="c38"/><circle cx="226.2" cy="185.7" r="5.7" class="c39"/><circle cx="221.0" cy="193.3" r="5.7" class="c39"/><circle cx="221.7" cy="194.4" r="5.7" class="c39"/><circle cx="226.5" cy="192.3" r="5.7" class="c39"/><circle cx="226.5" cy="193.2" r="5.7" class="c38"/><circle cx="212.3" cy="196.5" r="5.7" class="c39"/><circle cx="214.6" cy="198.0" r="5.7" class="c38"/><circle cx="218.0" cy="196.8" r="5.7" class="c38"/><circle cx="215.8" cy="207.7" r="5.7" class="c39"/><circle cx="219.9" cy="205.8" r="5.7" class="c39"/><circle cx="219.6" cy="209.6" r="5.7" class="c39"/><circle cx="222.6" cy="202.9" r="5.7" class="c38"/><circle cx="226.6" cy="196.2" r="5.7" class="c39"/><circle cx="224.3" cy="204.4" r="5.7" class="c38"/><circle cx="224.2" cy="209.2" r="5.7" class="c38"/><circle cx="178.8" cy="220.9" r="5.7" class="c21"/><circle cx="186.8" cy="220.9" r="5.7" class="c35"/><circle cx="188.4" cy="227.2" r="5.7" class="c38"/><circle cx="194.7" cy="252.7" r="5.7" class="c27"/><circle cx="202.5" cy="221.9" r="5.7" class="c39"/><circle cx="205.9" cy="214.5" r="5.7" class="c38"/><circle cx="204.3" cy="222.5" r="5.7" class="c38"/><circle cx="215.4" cy="215.3" r="5.7" class="c38"/><circle cx="213.4" cy="217.2" r="5.7" class="c39"/><circle cx="216.8" cy="217.5" r="5.7" class="c37"/><circle cx="214.6" cy="224.9" r="5.7" class="c38"/><circle cx="221.5" cy="213.1" r="5.7" class="c38"/><circle cx="220.5" cy="215.8" r="5.7" class="c38"/><circle cx="223.3" cy="218.3" r="5.7" class="c38"/><circle cx="226.0" cy="219.6" r="5.7" class="c38"/><circle cx="222.5" cy="220.9" r="5.7" class="c38"/><circle cx="227.6" cy="220.0" r="5.7" class="c39"/><circle cx="227.5" cy="224.8" r="5.7" class="c38"/><circle cx="213.8" cy="233.6" r="5.7" class="c38"/><circle cx="217.0" cy="240.0" r="5.7" class="c38"/><circle cx="224.9" cy="230.4" r="5.7" class="c38"/><circle cx="199.5" cy="253.5" r="5.7" class="c26"/><circle cx="207.4" cy="254.3" r="5.7" class="c35"/><circle cx="211.4" cy="263.8" r="5.7" class="c12"/><circle cx="228.9" cy="83.7" r="5.7" class="c38"/><circle cx="247.0" cy="78.0" r="5.7" class="c29"/><circle cx="250.7" cy="82.1" r="5.7" class="c32"/><circle cx="238.0" cy="93.6" r="5.7" class="c21"/><circle cx="237.2" cy="114.3" r="5.7" class="c38"/><circle cx="246.2" cy="97.8" r="5.7" class="c38"/><circle cx="249.0" cy="108.5" r="5.7" class="c38"/><circle cx="254.0" cy="102.7" r="5.7" class="c38"/><circle cx="233.9" cy="120.9" r="5.7" class="c38"/><circle cx="234.8" cy="131.4" r="5.7" class="c39"/><circle cx="236.5" cy="126.4" r="5.7" class="c38"/><circle cx="237.7" cy="130.7" r="5.7" class="c38"/><circle cx="242.6" cy="132.0" r="5.7" class="c38"/><circle cx="230.1" cy="132.7" r="5.7" class="c38"/><circle cx="232.0" cy="132.9" r="5.7" class="c39"/><circle cx="232.3" cy="134.0" r="5.7" class="c38"/><circle cx="234.4" cy="138.0" r="5.7" class="c37"/><circle cx="238.9" cy="136.7" r="5.7" class="c39"/><circle cx="242.1" cy="133.7" r="5.7" class="c39"/><circle cx="242.3" cy="135.8" r="5.7" class="c39"/><circle cx="239.6" cy="143.7" r="5.7" class="c38"/><circle cx="242.4" cy="141.2" r="5.7" class="c39"/><circle cx="242.7" cy="143.9" r="5.7" class="c38"/><circle cx="240.7" cy="145.0" r="5.7" class="c37"/><circle cx="245.1" cy="128.3" r="5.7" class="c38"/><circle cx="246.4" cy="129.6" r="5.7" class="c38"/><circle cx="246.5" cy="130.9" r="5.7" class="c39"/><circle cx="249.7" cy="127.5" r="5.7" class="c38"/><circle cx="245.4" cy="137.1" r="5.7" class="c39"/><circle cx="255.7" cy="133.9" r="5.7" class="c39"/><circle cx="258.5" cy="144.6" r="5.7" class="c39"/><circle cx="259.6" cy="145.9" r="5.7" class="c38"/><circle cx="259.0" cy="147.8" r="5.7" class="c38"/><circle cx="268.0" cy="111.8" r="5.7" class="c38"/><circle cx="287.0" cy="97.8" r="5.7" class="c38"/><circle cx="278.0" cy="112.6" r="5.7" class="c38"/><circle cx="260.9" cy="126.8" r="5.7" class="c39"/><circle cx="268.1" cy="130.6" r="5.7" class="c39"/><circle cx="262.1" cy="135.8" r="5.7" class="c39"/><circle cx="265.5" cy="138.1" r="5.7" class="c39"/><circle cx="267.3" cy="136.3" r="5.7" class="c37"/><circle cx="261.4" cy="143.7" r="5.7" class="c39"/><circle cx="263.3" cy="143.3" r="5.7" class="c39"/><circle cx="261.4" cy="145.1" r="5.7" class="c39"/><circle cx="262.0" cy="145.2" r="5.7" class="c38"/><circle cx="264.8" cy="140.2" r="5.7" class="c39"/><circle cx="265.4" cy="140.2" r="5.7" class="c38"/><circle cx="271.8" cy="142.3" r="5.7" class="c38"/><circle cx="271.4" cy="147.6" r="5.7" class="c39"/><circle cx="277.0" cy="130.9" r="5.7" class="c38"/><circle cx="286.2" cy="116.7" r="5.7" class="c38"/><circle cx="280.6" cy="135.2" r="5.7" class="c39"/><circle cx="281.3" cy="139.0" r="5.7" class="c29"/><circle cx="277.1" cy="140.8" r="5.7" class="c39"/><circle cx="276.7" cy="145.1" r="5.7" class="c38"/><circle cx="278.7" cy="146.5" r="5.7" class="c38"/><circle cx="284.8" cy="142.5" r="5.7" class="c38"/><circle cx="297.8" cy="86.2" r="5.7" class="c32"/><circle cx="296.9" cy="101.4" r="5.7" class="c29"/><circle cx="311.8" cy="114.3" r="5.7" class="c38"/><circle cx="296.1" cy="119.2" r="5.7" class="c38"/><circle cx="305.2" cy="117.6" r="5.7" class="c38"/><circle cx="304.4" cy="125.8" r="5.7" class="c38"/><circle cx="306.8" cy="131.6" r="5.7" class="c32"/><circle cx="305.2" cy="143.1" r="5.7" class="c38"/><circle cx="317.6" cy="120.0" r="5.7" class="c38"/><circle cx="317.6" cy="147.3" r="5.7" class="c38"/><circle cx="320.9" cy="141.5" r="5.7" class="c38"/><circle cx="326.6" cy="90.3" r="5.7" class="c14"/><circle cx="325.0" cy="117.6" r="5.7" class="c22"/><circle cx="327.5" cy="144.0" r="5.7" class="c22"/><circle cx="229.2" cy="149.0" r="5.7" class="c38"/><circle cx="228.4" cy="155.9" r="5.7" class="c39"/><circle cx="228.5" cy="155.4" r="5.7" class="c39"/><circle cx="229.8" cy="154.1" r="5.7" class="c38"/><circle cx="231.3" cy="153.3" r="5.7" class="c38"/><circle cx="233.8" cy="149.3" r="5.7" class="c39"/><circle cx="235.1" cy="154.0" r="5.7" class="c39"/><circle cx="229.3" cy="157.8" r="5.7" class="c38"/><circle cx="228.9" cy="159.4" r="5.7" class="c38"/><circle cx="229.2" cy="159.5" r="5.7" class="c38"/><circle cx="235.6" cy="159.7" r="5.7" class="c38"/><circle cx="239.7" cy="151.7" r="5.7" class="c38"/><circle cx="238.2" cy="154.9" r="5.7" class="c38"/><circle cx="238.5" cy="154.8" r="5.7" class="c38"/><circle cx="244.0" cy="151.4" r="5.7" class="c39"/><circle cx="237.1" cy="157.2" r="5.7" class="c39"/><circle cx="237.4" cy="157.6" r="5.7" class="c38"/><circle cx="237.3" cy="159.4" r="5.7" class="c38"/><circle cx="239.9" cy="159.9" r="5.7" class="c37"/><circle cx="236.6" cy="162.6" r="5.7" class="c38"/><circle cx="241.4" cy="158.5" r="5.7" class="c39"/><circle cx="243.0" cy="156.7" r="5.7" class="c38"/><circle cx="242.7" cy="160.0" r="5.7" class="c39"/><circle cx="240.7" cy="163.3" r="5.7" class="c39"/><circle cx="241.6" cy="163.1" r="5.7" class="c39"/><circle cx="243.9" cy="160.7" r="5.7" class="c38"/><circle cx="242.3" cy="162.7" r="5.7" class="c39"/><circle cx="228.7" cy="164.0" r="5.7" class="c39"/><circle cx="228.9" cy="165.2" r="5.7" class="c39"/><circle cx="228.8" cy="166.1" r="5.7" class="c38"/><circle cx="231.8" cy="164.3" r="5.7" class="c39"/><circle cx="230.7" cy="166.7" r="5.7" class="c37"/><circle cx="231.0" cy="169.9" r="5.7" class="c38"/><circle cx="230.7" cy="170.3" r="5.7" class="c39"/><circle cx="231.6" cy="170.6" r="5.7" class="c39"/><circle cx="231.2" cy="171.3" r="5.7" class="c38"/><circle cx="235.2" cy="166.1" r="5.7" class="c39"/><circle cx="232.5" cy="169.6" r="5.7" class="c39"/><circle cx="232.2" cy="171.7" r="5.7" class="c39"/><circle cx="233.4" cy="171.3" r="5.7" class="c38"/><circle cx="233.9" cy="171.8" r="5.7" class="c39"/><circle cx="236.0" cy="168.1" r="5.7" class="c38"/><circle cx="235.8" cy="169.3" r="5.7" class="c39"/><circle cx="236.0" cy="169.7" r="5.7" class="c39"/><circle cx="234.8" cy="171.5" r="5.7" class="c38"/><circle cx="235.7" cy="172.0" r="5.7" class="c38"/><circle cx="232.0" cy="172.2" r="5.7" class="c39"/><circle cx="230.2" cy="174.9" r="5.7" class="c38"/><circle cx="231.3" cy="174.2" r="5.7" class="c38"/><circle cx="231.5" cy="175.4" r="5.7" class="c38"/><circle cx="231.7" cy="175.3" r="5.7" class="c38"/><circle cx="228.7" cy="178.1" r="5.7" class="c38"/><circle cx="230.8" cy="176.8" r="5.7" class="c37"/><circle cx="230.1" cy="177.9" r="5.7" class="c38"/><circle cx="230.2" cy="178.1" r="5.7" class="c39"/><circle cx="230.7" cy="179.3" r="5.7" class="c39"/><circle cx="231.7" cy="179.1" r="5.7" class="c36"/><circle cx="235.1" cy="172.9" r="5.7" class="c39"/><circle cx="235.7" cy="173.5" r="5.7" class="c39"/><circle cx="234.8" cy="175.0" r="5.7" class="c38"/><circle cx="235.9" cy="174.4" r="5.7" class="c39"/><circle cx="232.1" cy="176.6" r="5.7" class="c39"/><circle cx="235.3" cy="176.9" r="5.7" class="c38"/><circle cx="235.9" cy="179.6" r="5.7" class="c39"/><circle cx="238.8" cy="166.8" r="5.7" class="c39"/><circle cx="239.5" cy="166.7" r="5.7" class="c37"/><circle cx="239.5" cy="167.1" r="5.7" class="c39"/><circle cx="237.3" cy="169.9" r="5.7" class="c38"/><circle cx="237.7" cy="171.6" r="5.7" class="c38"/><circle cx="238.5" cy="168.7" r="5.7" class="c38"/><circle cx="239.3" cy="168.4" r="5.7" class="c39"/><circle cx="239.5" cy="168.6" r="5.7" class="c38"/><circle cx="238.6" cy="170.9" r="5.7" class="c39"/><circle cx="239.8" cy="171.3" r="5.7" class="c38"/><circle cx="240.6" cy="166.0" r="5.7" class="c39"/><circle cx="240.9" cy="165.7" r="5.7" class="c38"/><circle cx="240.9" cy="165.5" r="5.7" class="c39"/><circle cx="240.5" cy="167.4" r="5.7" class="c39"/><circle cx="242.2" cy="164.4" r="5.7" class="c39"/><circle cx="243.3" cy="165.2" r="5.7" class="c38"/><circle cx="242.9" cy="167.9" r="5.7" class="c39"/><circle cx="243.1" cy="166.1" r="5.7" class="c38"/><circle cx="240.6" cy="168.5" r="5.7" class="c39"/><circle cx="240.5" cy="168.8" r="5.7" class="c37"/><circle cx="240.5" cy="171.0" r="5.7" class="c39"/><circle cx="241.0" cy="170.7" r="5.7" class="c39"/><circle cx="241.9" cy="171.3" r="5.7" class="c39"/><circle cx="243.6" cy="170.4" r="5.7" class="c39"/><circle cx="243.0" cy="171.1" r="5.7" class="c39"/><circle cx="236.2" cy="175.8" r="5.7" class="c38"/><circle cx="236.8" cy="175.2" r="5.7" class="c38"/><circle cx="237.7" cy="174.3" r="5.7" class="c39"/><circle cx="237.6" cy="175.0" r="5.7" class="c39"/><circle cx="239.9" cy="172.7" r="5.7" class="c38"/><circle cx="239.8" cy="173.4" r="5.7" class="c39"/><circle cx="238.4" cy="175.0" r="5.7" class="c38"/><circle cx="236.1" cy="176.6" r="5.7" class="c39"/><circle cx="237.6" cy="176.7" r="5.7" class="c39"/><circle cx="238.0" cy="176.8" r="5.7" class="c39"/><circle cx="237.4" cy="178.7" r="5.7" class="c39"/><circle cx="237.7" cy="178.5" r="5.7" class="c38"/><circle cx="238.1" cy="176.9" r="5.7" class="c39"/><circle cx="238.4" cy="177.0" r="5.7" class="c38"/><circle cx="239.5" cy="176.8" r="5.7" class="c38"/><circle cx="239.6" cy="177.8" r="5.7" class="c38"/><circle cx="240.0" cy="177.8" r="5.7" class="c39"/><circle cx="238.3" cy="178.4" r="5.7" class="c38"/><circle cx="239.2" cy="178.0" r="5.7" class="c38"/><circle cx="239.8" cy="179.5" r="5.7" class="c39"/><circle cx="240.2" cy="172.7" r="5.7" class="c39"/><circle cx="241.0" cy="173.1" r="5.7" class="c38"/><circle cx="241.8" cy="173.4" r="5.7" class="c39"/><circle cx="240.4" cy="174.8" r="5.7" class="c38"/><circle cx="240.6" cy="174.7" r="5.7" class="c39"/><circle cx="241.5" cy="174.7" r="5.7" class="c38"/><circle cx="241.8" cy="174.9" r="5.7" class="c39"/><circle cx="241.6" cy="175.9" r="5.7" class="c38"/><circle cx="242.4" cy="173.7" r="5.7" class="c39"/><circle cx="242.8" cy="173.1" r="5.7" class="c39"/><circle cx="242.8" cy="173.8" r="5.7" class="c38"/><circle cx="243.3" cy="173.3" r="5.7" class="c39"/><circle cx="243.4" cy="173.6" r="5.7" class="c39"/><circle cx="243.9" cy="173.2" r="5.7" class="c37"/><circle cx="242.9" cy="175.9" r="5.7" class="c38"/><circle cx="240.4" cy="176.8" r="5.7" class="c39"/><circle cx="240.9" cy="176.1" r="5.7" class="c38"/><circle cx="240.9" cy="176.0" r="5.7" class="c39"/><circle cx="240.7" cy="177.3" r="5.7" class="c39"/><circle cx="240.9" cy="177.7" r="5.7" class="c38"/><circle cx="242.0" cy="178.2" r="5.7" class="c39"/><circle cx="241.8" cy="178.7" r="5.7" class="c38"/><circle cx="242.0" cy="179.3" r="5.7" class="c39"/><circle cx="241.7" cy="179.6" r="5.7" class="c38"/><circle cx="242.9" cy="176.3" r="5.7" class="c38"/><circle cx="243.0" cy="176.5" r="5.7" class="c39"/><circle cx="243.0" cy="176.7" r="5.7" class="c39"/><circle cx="242.4" cy="177.7" r="5.7" class="c39"/><circle cx="243.9" cy="176.2" r="5.7" class="c38"/><circle cx="243.3" cy="178.7" r="5.7" class="c38"/><circle cx="243.9" cy="178.7" r="5.7" class="c38"/><circle cx="243.8" cy="178.7" r="5.7" class="c38"/><circle cx="247.8" cy="148.4" r="5.7" class="c39"/><circle cx="247.1" cy="151.2" r="5.7" class="c39"/><circle cx="244.1" cy="155.8" r="5.7" class="c38"/><circle cx="248.7" cy="150.2" r="5.7" class="c39"/><circle cx="248.2" cy="152.1" r="5.7" class="c36"/><circle cx="249.0" cy="154.1" r="5.7" class="c39"/><circle cx="249.5" cy="154.7" r="5.7" class="c37"/><circle cx="250.2" cy="155.8" r="5.7" class="c39"/><circle cx="245.2" cy="156.1" r="5.7" class="c37"/><circle cx="245.8" cy="156.4" r="5.7" class="c38"/><circle cx="245.7" cy="158.3" r="5.7" class="c39"/><circle cx="245.4" cy="160.0" r="5.7" class="c37"/><circle cx="246.6" cy="158.1" r="5.7" class="c38"/><circle cx="244.8" cy="160.1" r="5.7" class="c38"/><circle cx="246.7" cy="160.1" r="5.7" class="c38"/><circle cx="249.9" cy="157.2" r="5.7" class="c37"/><circle cx="250.9" cy="157.6" r="5.7" class="c39"/><circle cx="249.7" cy="160.5" r="5.7" class="c39"/><circle cx="249.3" cy="162.1" r="5.7" class="c38"/><circle cx="250.9" cy="163.5" r="5.7" class="c39"/><circle cx="253.1" cy="149.6" r="5.7" class="c39"/><circle cx="253.0" cy="149.5" r="5.7" class="c38"/><circle cx="253.5" cy="149.3" r="5.7" class="c37"/><circle cx="252.1" cy="154.9" r="5.7" class="c38"/><circle cx="254.8" cy="153.2" r="5.7" class="c39"/><circle cx="259.1" cy="149.5" r="5.7" class="c38"/><circle cx="257.8" cy="154.8" r="5.7" class="c37"/><circle cx="258.7" cy="156.0" r="5.7" class="c39"/><circle cx="252.5" cy="162.2" r="5.7" class="c39"/><circle cx="257.2" cy="156.9" r="5.7" class="c38"/><circle cx="258.4" cy="156.5" r="5.7" class="c38"/><circle cx="256.0" cy="163.4" r="5.7" class="c39"/><circle cx="258.5" cy="162.6" r="5.7" class="c39"/><circle cx="259.0" cy="163.5" r="5.7" class="c39"/><circle cx="245.2" cy="164.8" r="5.7" class="c38"/><circle cx="245.1" cy="165.1" r="5.7" class="c39"/><circle cx="245.5" cy="165.9" r="5.7" class="c39"/><circle cx="245.8" cy="166.9" r="5.7" class="c39"/><circle cx="246.1" cy="164.2" r="5.7" class="c38"/><circle cx="247.4" cy="165.3" r="5.7" class="c38"/><circle cx="246.2" cy="167.0" r="5.7" class="c39"/><circle cx="245.7" cy="169.6" r="5.7" class="c39"/><circle cx="245.7" cy="170.1" r="5.7" class="c39"/><circle cx="245.2" cy="171.1" r="5.7" class="c39"/><circle cx="245.8" cy="171.5" r="5.7" class="c39"/><circle cx="246.4" cy="168.8" r="5.7" class="c39"/><circle cx="246.5" cy="168.5" r="5.7" class="c39"/><circle cx="246.7" cy="169.5" r="5.7" class="c38"/><circle cx="247.2" cy="170.0" r="5.7" class="c39"/><circle cx="247.9" cy="169.6" r="5.7" class="c38"/><circle cx="247.0" cy="170.3" r="5.7" class="c39"/><circle cx="246.8" cy="172.0" r="5.7" class="c39"/><circle cx="247.4" cy="170.3" r="5.7" class="c38"/><circle cx="247.7" cy="170.4" r="5.7" class="c39"/><circle cx="248.1" cy="165.6" r="5.7" class="c38"/><circle cx="249.5" cy="165.4" r="5.7" class="c38"/><circle cx="248.6" cy="167.6" r="5.7" class="c37"/><circle cx="251.4" cy="165.4" r="5.7" class="c39"/><circle cx="250.4" cy="166.6" r="5.7" class="c37"/><circle cx="248.9" cy="168.4" r="5.7" class="c39"/><circle cx="248.5" cy="169.5" r="5.7" class="c38"/><circle cx="249.5" cy="169.8" r="5.7" class="c39"/><circle cx="249.7" cy="169.8" r="5.7" class="c38"/><circle cx="248.7" cy="170.8" r="5.7" class="c37"/><circle cx="249.1" cy="170.4" r="5.7" class="c38"/><circle cx="249.4" cy="171.0" r="5.7" class="c39"/><circle cx="251.8" cy="169.7" r="5.7" class="c39"/><circle cx="250.9" cy="172.0" r="5.7" class="c39"/><circle cx="251.1" cy="170.1" r="5.7" class="c39"/><circle cx="251.3" cy="170.1" r="5.7" class="c38"/><circle cx="251.9" cy="170.3" r="5.7" class="c38"/><circle cx="251.6" cy="170.8" r="5.7" class="c38"/><circle cx="251.9" cy="171.4" r="5.7" class="c38"/><circle cx="251.8" cy="171.6" r="5.7" class="c38"/><circle cx="244.3" cy="172.5" r="5.7" class="c39"/><circle cx="244.7" cy="172.6" r="5.7" class="c38"/><circle cx="244.9" cy="173.0" r="5.7" class="c39"/><circle cx="244.5" cy="173.8" r="5.7" class="c39"/><circle cx="244.7" cy="173.0" r="5.7" class="c39"/><circle cx="245.2" cy="173.0" r="5.7" class="c39"/><circle cx="245.8" cy="172.1" r="5.7" class="c38"/><circle cx="244.8" cy="174.7" r="5.7" class="c39"/><circle cx="245.9" cy="174.4" r="5.7" class="c38"/><circle cx="245.5" cy="176.0" r="5.7" class="c39"/><circle cx="245.8" cy="175.6" r="5.7" class="c37"/><circle cx="245.9" cy="175.5" r="5.7" class="c38"/><circle cx="246.0" cy="172.6" r="5.7" class="c38"/><circle cx="246.9" cy="172.1" r="5.7" class="c38"/><circle cx="246.1" cy="173.1" r="5.7" class="c38"/><circle cx="247.7" cy="172.6" r="5.7" class="c38"/><circle cx="247.4" cy="173.2" r="5.7" class="c39"/><circle cx="247.7" cy="173.1" r="5.7" class="c39"/><circle cx="247.0" cy="174.4" r="5.7" class="c39"/><circle cx="246.9" cy="174.5" r="5.7" class="c38"/><circle cx="247.0" cy="175.8" r="5.7" class="c39"/><circle cx="247.2" cy="174.2" r="5.7" class="c38"/><circle cx="247.5" cy="174.1" r="5.7" class="c39"/><circle cx="247.1" cy="175.1" r="5.7" class="c38"/><circle cx="247.9" cy="175.6" r="5.7" class="c39"/><circle cx="244.3" cy="178.4" r="5.7" class="c38"/><circle cx="244.1" cy="179.8" r="5.7" class="c39"/><circle cx="245.0" cy="178.6" r="5.7" class="c39"/><circle cx="245.1" cy="179.8" r="5.7" class="c38"/><circle cx="245.4" cy="179.7" r="5.7" class="c38"/><circle cx="246.3" cy="177.2" r="5.7" class="c38"/><circle cx="246.3" cy="177.8" r="5.7" class="c38"/><circle cx="246.9" cy="177.0" r="5.7" class="c39"/><circle cx="247.5" cy="176.4" r="5.7" class="c38"/><circle cx="246.5" cy="178.2" r="5.7" class="c39"/><circle cx="246.4" cy="178.5" r="5.7" class="c38"/><circle cx="246.8" cy="178.6" r="5.7" class="c38"/><circle cx="246.0" cy="179.1" r="5.7" class="c39"/><circle cx="247.0" cy="179.5" r="5.7" class="c38"/><circle cx="248.0" cy="178.5" r="5.7" class="c38"/><circle cx="247.1" cy="179.6" r="5.7" class="c38"/><circle cx="247.1" cy="179.8" r="5.7" class="c39"/><circle cx="248.2" cy="172.8" r="5.7" class="c38"/><circle cx="248.4" cy="173.4" r="5.7" class="c39"/><circle cx="249.5" cy="172.6" r="5.7" class="c39"/><circle cx="249.7" cy="172.8" r="5.7" class="c38"/><circle cx="249.6" cy="173.9" r="5.7" class="c38"/><circle cx="249.2" cy="174.0" r="5.7" class="c39"/><circle cx="249.0" cy="174.3" r="5.7" class="c39"/><circle cx="249.6" cy="174.6" r="5.7" class="c38"/><circle cx="250.0" cy="174.9" r="5.7" class="c39"/><circle cx="249.7" cy="175.4" r="5.7" class="c39"/><circle cx="250.2" cy="173.2" r="5.7" class="c38"/><circle cx="250.4" cy="173.4" r="5.7" class="c39"/><circle cx="250.1" cy="174.0" r="5.7" class="c38"/><circle cx="250.6" cy="173.3" r="5.7" class="c38"/><circle cx="250.7" cy="173.6" r="5.7" class="c39"/><circle cx="250.8" cy="173.6" r="5.7" class="c38"/><circle cx="251.9" cy="173.7" r="5.7" class="c39"/><circle cx="250.5" cy="175.4" r="5.7" class="c39"/><circle cx="252.0" cy="175.3" r="5.7" class="c39"/><circle cx="252.0" cy="176.0" r="5.7" class="c38"/><circle cx="248.0" cy="176.6" r="5.7" class="c39"/><circle cx="249.1" cy="176.0" r="5.7" class="c39"/><circle cx="249.3" cy="176.9" r="5.7" class="c39"/><circle cx="249.8" cy="176.0" r="5.7" class="c39"/><circle cx="249.5" cy="177.5" r="5.7" class="c38"/><circle cx="250.0" cy="177.2" r="5.7" class="c39"/><circle cx="249.8" cy="177.7" r="5.7" class="c39"/><circle cx="248.9" cy="178.7" r="5.7" class="c37"/><circle cx="248.9" cy="178.6" r="5.7" class="c37"/><circle cx="248.7" cy="179.4" r="5.7" class="c39"/><circle cx="249.1" cy="178.9" r="5.7" class="c39"/><circle cx="250.1" cy="176.9" r="5.7" class="c38"/><circle cx="250.6" cy="177.9" r="5.7" class="c38"/><circle cx="251.2" cy="176.8" r="5.7" class="c38"/><circle cx="251.8" cy="176.3" r="5.7" class="c39"/><circle cx="251.7" cy="176.6" r="5.7" class="c38"/><circle cx="251.5" cy="176.8" r="5.7" class="c38"/><circle cx="251.8" cy="176.8" r="5.7" class="c37"/><circle cx="251.3" cy="177.4" r="5.7" class="c38"/><circle cx="251.3" cy="178.0" r="5.7" class="c39"/><circle cx="250.1" cy="178.6" r="5.7" class="c39"/><circle cx="250.5" cy="178.9" r="5.7" class="c39"/><circle cx="250.5" cy="179.5" r="5.7" class="c38"/><circle cx="251.1" cy="179.6" r="5.7" class="c38"/><circle cx="251.5" cy="179.7" r="5.7" class="c39"/><circle cx="251.3" cy="179.9" r="5.7" class="c39"/><circle cx="252.2" cy="164.8" r="5.7" class="c38"/><circle cx="252.4" cy="165.7" r="5.7" class="c39"/><circle cx="252.5" cy="165.0" r="5.7" class="c39"/><circle cx="254.7" cy="164.9" r="5.7" class="c38"/><circle cx="252.4" cy="168.4" r="5.7" class="c39"/><circle cx="253.2" cy="168.3" r="5.7" class="c39"/><circle cx="253.4" cy="170.8" r="5.7" class="c39"/><circle cx="253.7" cy="171.4" r="5.7" class="c38"/><circle cx="253.8" cy="172.0" r="5.7" class="c38"/><circle cx="255.6" cy="169.8" r="5.7" class="c38"/><circle cx="254.5" cy="170.5" r="5.7" class="c39"/><circle cx="256.4" cy="164.9" r="5.7" class="c39"/><circle cx="256.2" cy="166.7" r="5.7" class="c38"/><circle cx="257.1" cy="166.5" r="5.7" class="c38"/><circle cx="257.6" cy="167.6" r="5.7" class="c38"/><circle cx="258.5" cy="164.0" r="5.7" class="c39"/><circle cx="258.1" cy="167.9" r="5.7" class="c39"/><circle cx="259.4" cy="167.9" r="5.7" class="c39"/><circle cx="256.1" cy="171.0" r="5.7" class="c38"/><circle cx="256.2" cy="171.7" r="5.7" class="c38"/><circle cx="257.1" cy="170.3" r="5.7" class="c38"/><circle cx="259.2" cy="169.9" r="5.7" class="c38"/><circle cx="259.3" cy="172.0" r="5.7" class="c39"/><circle cx="252.6" cy="172.4" r="5.7" class="c39"/><circle cx="252.3" cy="173.2" r="5.7" class="c39"/><circle cx="253.1" cy="172.6" r="5.7" class="c39"/><circle cx="253.9" cy="172.3" r="5.7" class="c39"/><circle cx="253.9" cy="173.0" r="5.7" class="c39"/><circle cx="252.5" cy="174.0" r="5.7" class="c36"/><circle cx="252.0" cy="175.6" r="5.7" class="c38"/><circle cx="252.7" cy="175.3" r="5.7" class="c39"/><circle cx="252.8" cy="175.0" r="5.7" class="c39"/><circle cx="252.9" cy="175.4" r="5.7" class="c39"/><circle cx="252.6" cy="175.9" r="5.7" class="c38"/><circle cx="253.1" cy="174.3" r="5.7" class="c39"/><circle cx="255.0" cy="173.0" r="5.7" class="c38"/><circle cx="254.6" cy="173.7" r="5.7" class="c38"/><circle cx="255.7" cy="172.7" r="5.7" class="c38"/><circle cx="255.7" cy="173.4" r="5.7" class="c39"/><circle cx="255.7" cy="173.8" r="5.7" class="c39"/><circle cx="254.0" cy="174.3" r="5.7" class="c39"/><circle cx="254.8" cy="174.9" r="5.7" class="c38"/><circle cx="255.1" cy="175.1" r="5.7" class="c39"/><circle cx="252.2" cy="176.2" r="5.7" class="c37"/><circle cx="253.0" cy="176.6" r="5.7" class="c38"/><circle cx="252.5" cy="177.4" r="5.7" class="c39"/><circle cx="253.2" cy="177.7" r="5.7" class="c38"/><circle cx="253.4" cy="177.7" r="5.7" class="c39"/><circle cx="253.6" cy="177.2" r="5.7" class="c38"/><circle cx="252.3" cy="178.9" r="5.7" class="c37"/><circle cx="252.6" cy="178.7" r="5.7" class="c39"/><circle cx="253.0" cy="178.7" r="5.7" class="c39"/><circle cx="252.8" cy="179.0" r="5.7" class="c39"/><circle cx="253.0" cy="179.7" r="5.7" class="c38"/><circle cx="253.2" cy="179.9" r="5.7" class="c38"/><circle cx="253.9" cy="179.0" r="5.7" class="c38"/><circle cx="254.9" cy="176.8" r="5.7" class="c38"/><circle cx="254.5" cy="177.7" r="5.7" class="c39"/><circle cx="255.6" cy="177.3" r="5.7" class="c37"/><circle cx="254.3" cy="178.5" r="5.7" class="c39"/><circle cx="254.3" cy="179.2" r="5.7" class="c39"/><circle cx="255.4" cy="178.7" r="5.7" class="c37"/><circle cx="256.0" cy="179.0" r="5.7" class="c38"/><circle cx="256.3" cy="172.1" r="5.7" class="c39"/><circle cx="257.2" cy="172.5" r="5.7" class="c38"/><circle cx="257.2" cy="173.7" r="5.7" class="c39"/><circle cx="257.6" cy="173.2" r="5.7" class="c39"/><circle cx="256.2" cy="174.8" r="5.7" class="c39"/><circle cx="256.8" cy="174.3" r="5.7" class="c37"/><circle cx="259.3" cy="172.6" r="5.7" class="c38"/><circle cx="258.8" cy="174.2" r="5.7" class="c39"/><circle cx="259.5" cy="174.7" r="5.7" class="c39"/><circle cx="259.0" cy="175.2" r="5.7" class="c38"/><circle cx="259.5" cy="175.6" r="5.7" class="c39"/><circle cx="256.3" cy="176.5" r="5.7" class="c39"/><circle cx="256.2" cy="178.8" r="5.7" class="c39"/><circle cx="256.0" cy="179.6" r="5.7" class="c39"/><circle cx="256.4" cy="179.8" r="5.7" class="c38"/><circle cx="257.5" cy="178.9" r="5.7" class="c38"/><circle cx="257.3" cy="179.5" r="5.7" class="c39"/><circle cx="257.7" cy="179.8" r="5.7" class="c38"/><circle cx="258.1" cy="176.2" r="5.7" class="c39"/><circle cx="258.3" cy="176.4" r="5.7" class="c38"/><circle cx="258.2" cy="177.2" r="5.7" class="c38"/><circle cx="258.1" cy="178.0" r="5.7" class="c39"/><circle cx="258.8" cy="178.8" r="5.7" class="c39"/><circle cx="259.2" cy="178.9" r="5.7" class="c39"/><circle cx="259.6" cy="178.4" r="5.7" class="c39"/><circle cx="259.2" cy="179.2" r="5.7" class="c39"/><circle cx="259.5" cy="179.2" r="5.7" class="c38"/><circle cx="259.5" cy="179.0" r="5.7" class="c39"/><circle cx="259.7" cy="179.8" r="5.7" class="c39"/><circle cx="259.8" cy="179.6" r="5.7" class="c38"/><circle cx="228.6" cy="180.3" r="5.7" class="c37"/><circle cx="229.2" cy="180.5" r="5.7" class="c38"/><circle cx="229.6" cy="181.3" r="5.7" class="c39"/><circle cx="228.6" cy="183.3" r="5.7" class="c39"/><circle cx="228.7" cy="183.8" r="5.7" class="c39"/><circle cx="230.2" cy="180.5" r="5.7" class="c38"/><circle cx="230.6" cy="180.7" r="5.7" class="c38"/><circle cx="228.3" cy="186.5" r="5.7" class="c37"/><circle cx="230.4" cy="185.1" r="5.7" class="c39"/><circle cx="230.6" cy="185.8" r="5.7" class="c39"/><circle cx="233.0" cy="181.0" r="5.7" class="c38"/><circle cx="232.1" cy="181.5" r="5.7" class="c38"/><circle cx="235.9" cy="182.3" r="5.7" class="c39"/><circle cx="235.5" cy="183.4" r="5.7" class="c39"/><circle cx="235.4" cy="183.7" r="5.7" class="c39"/><circle cx="235.0" cy="185.2" r="5.7" class="c39"/><circle cx="235.2" cy="187.0" r="5.7" class="c39"/><circle cx="229.2" cy="188.4" r="5.7" class="c39"/><circle cx="229.5" cy="189.9" r="5.7" class="c39"/><circle cx="230.5" cy="190.8" r="5.7" class="c37"/><circle cx="229.7" cy="193.7" r="5.7" class="c39"/><circle cx="229.3" cy="195.4" r="5.7" class="c38"/><circle cx="233.0" cy="189.6" r="5.7" class="c38"/><circle cx="234.5" cy="190.0" r="5.7" class="c37"/><circle cx="234.9" cy="189.8" r="5.7" class="c39"/><circle cx="232.5" cy="193.3" r="5.7" class="c39"/><circle cx="233.8" cy="193.4" r="5.7" class="c39"/><circle cx="233.8" cy="194.7" r="5.7" class="c38"/><circle cx="234.9" cy="193.6" r="5.7" class="c39"/><circle cx="234.9" cy="194.1" r="5.7" class="c39"/><circle cx="236.2" cy="181.4" r="5.7" class="c38"/><circle cx="237.0" cy="181.3" r="5.7" class="c39"/><circle cx="237.3" cy="180.5" r="5.7" class="c38"/><circle cx="237.7" cy="181.4" r="5.7" class="c38"/><circle cx="237.7" cy="181.9" r="5.7" class="c38"/><circle cx="238.5" cy="180.3" r="5.7" class="c38"/><circle cx="239.8" cy="181.6" r="5.7" class="c39"/><circle cx="239.6" cy="183.0" r="5.7" class="c38"/><circle cx="238.0" cy="184.6" r="5.7" class="c39"/><circle cx="237.9" cy="185.2" r="5.7" class="c37"/><circle cx="236.3" cy="186.5" r="5.7" class="c38"/><circle cx="237.0" cy="186.3" r="5.7" class="c39"/><circle cx="237.5" cy="187.6" r="5.7" class="c39"/><circle cx="238.1" cy="185.5" r="5.7" class="c38"/><circle cx="239.0" cy="184.4" r="5.7" class="c39"/><circle cx="239.4" cy="185.4" r="5.7" class="c38"/><circle cx="238.2" cy="186.2" r="5.7" class="c38"/><circle cx="239.8" cy="186.4" r="5.7" class="c38"/><circle cx="240.5" cy="181.9" r="5.7" class="c39"/><circle cx="240.9" cy="181.4" r="5.7" class="c38"/><circle cx="241.4" cy="180.4" r="5.7" class="c39"/><circle cx="241.7" cy="181.2" r="5.7" class="c39"/><circle cx="241.5" cy="182.2" r="5.7" class="c38"/><circle cx="241.6" cy="182.5" r="5.7" class="c39"/><circle cx="242.0" cy="182.3" r="5.7" class="c38"/><circle cx="241.5" cy="183.8" r="5.7" class="c38"/><circle cx="241.9" cy="183.1" r="5.7" class="c38"/><circle cx="242.1" cy="180.2" r="5.7" class="c37"/><circle cx="243.3" cy="180.9" r="5.7" class="c37"/><circle cx="243.1" cy="182.1" r="5.7" class="c38"/><circle cx="243.7" cy="183.5" r="5.7" class="c38"/><circle cx="240.8" cy="184.7" r="5.7" class="c38"/><circle cx="241.1" cy="184.2" r="5.7" class="c39"/><circle cx="241.1" cy="184.6" r="5.7" class="c39"/><circle cx="241.0" cy="184.8" r="5.7" class="c39"/><circle cx="241.7" cy="185.1" r="5.7" class="c38"/><circle cx="243.0" cy="184.3" r="5.7" class="c39"/><circle cx="243.2" cy="184.4" r="5.7" class="c38"/><circle cx="243.6" cy="184.3" r="5.7" class="c37"/><circle cx="243.6" cy="184.6" r="5.7" class="c39"/><circle cx="243.8" cy="184.9" r="5.7" class="c39"/><circle cx="243.5" cy="185.9" r="5.7" class="c39"/><circle cx="243.6" cy="185.3" r="5.7" class="c39"/><circle cx="243.7" cy="185.8" r="5.7" class="c39"/><circle cx="242.6" cy="187.2" r="5.7" class="c39"/><circle cx="243.5" cy="186.1" r="5.7" class="c39"/><circle cx="236.4" cy="191.7" r="5.7" class="c39"/><circle cx="237.0" cy="190.7" r="5.7" class="c38"/><circle cx="238.4" cy="190.5" r="5.7" class="c39"/><circle cx="238.3" cy="190.9" r="5.7" class="c39"/><circle cx="239.7" cy="190.2" r="5.7" class="c38"/><circle cx="239.4" cy="195.1" r="5.7" class="c38"/><circle cx="239.7" cy="195.4" r="5.7" class="c39"/><circle cx="242.3" cy="188.1" r="5.7" class="c39"/><circle cx="243.7" cy="188.2" r="5.7" class="c39"/><circle cx="243.5" cy="189.2" r="5.7" class="c38"/><circle cx="243.6" cy="189.9" r="5.7" class="c39"/><circle cx="243.1" cy="192.8" r="5.7" class="c39"/><circle cx="242.8" cy="195.0" r="5.7" class="c39"/><circle cx="242.1" cy="195.3" r="5.7" class="c37"/><circle cx="228.3" cy="199.6" r="5.7" class="c38"/><circle cx="230.3" cy="199.4" r="5.7" class="c38"/><circle cx="235.6" cy="198.6" r="5.7" class="c39"/><circle cx="233.3" cy="202.5" r="5.7" class="c39"/><circle cx="235.9" cy="202.1" r="5.7" class="c38"/><circle cx="228.6" cy="205.2" r="5.7" class="c39"/><circle cx="229.7" cy="208.2" r="5.7" class="c39"/><circle cx="230.8" cy="209.2" r="5.7" class="c38"/><circle cx="233.1" cy="210.1" r="5.7" class="c38"/><circle cx="235.8" cy="209.2" r="5.7" class="c37"/><circle cx="236.4" cy="199.0" r="5.7" class="c39"/><circle cx="239.9" cy="197.2" r="5.7" class="c37"/><circle cx="238.9" cy="198.5" r="5.7" class="c38"/><circle cx="239.1" cy="199.2" r="5.7" class="c39"/><circle cx="236.3" cy="200.3" r="5.7" class="c39"/><circle cx="240.7" cy="197.8" r="5.7" class="c38"/><circle cx="241.8" cy="197.4" r="5.7" class="c39"/><circle cx="242.0" cy="196.6" r="5.7" class="c38"/><circle cx="242.0" cy="199.9" r="5.7" class="c39"/><circle cx="243.4" cy="198.2" r="5.7" class="c39"/><circle cx="241.9" cy="202.0" r="5.7" class="c39"/><circle cx="240.9" cy="203.1" r="5.7" class="c39"/><circle cx="239.8" cy="204.7" r="5.7" class="c39"/><circle cx="237.3" cy="209.3" r="5.7" class="c38"/><circle cx="239.3" cy="209.1" r="5.7" class="c38"/><circle cx="240.9" cy="204.4" r="5.7" class="c39"/><circle cx="241.6" cy="205.9" r="5.7" class="c39"/><circle cx="243.8" cy="204.6" r="5.7" class="c38"/><circle cx="241.7" cy="209.9" r="5.7" class="c38"/><circle cx="242.1" cy="208.2" r="5.7" class="c38"/><circle cx="244.2" cy="180.4" r="5.7" class="c39"/><circle cx="244.6" cy="180.5" r="5.7" class="c38"/><circle cx="244.7" cy="180.7" r="5.7" class="c39"/><circle cx="244.0" cy="181.3" r="5.7" class="c39"/><circle cx="245.1" cy="180.1" r="5.7" class="c39"/><circle cx="245.3" cy="180.3" r="5.7" class="c39"/><circle cx="245.3" cy="180.7" r="5.7" class="c38"/><circle cx="246.0" cy="181.1" r="5.7" class="c39"/><circle cx="244.9" cy="183.3" r="5.7" class="c38"/><circle cx="245.8" cy="182.6" r="5.7" class="c38"/><circle cx="246.2" cy="180.2" r="5.7" class="c38"/><circle cx="246.2" cy="181.7" r="5.7" class="c38"/><circle cx="246.8" cy="181.6" r="5.7" class="c38"/><circle cx="246.8" cy="181.5" r="5.7" class="c38"/><circle cx="247.6" cy="180.8" r="5.7" class="c38"/><circle cx="246.5" cy="182.2" r="5.7" class="c39"/><circle cx="246.9" cy="182.3" r="5.7" class="c38"/><circle cx="246.9" cy="183.3" r="5.7" class="c38"/><circle cx="245.0" cy="184.3" r="5.7" class="c38"/><circle cx="244.5" cy="185.4" r="5.7" class="c39"/><circle cx="245.0" cy="185.7" r="5.7" class="c39"/><circle cx="245.3" cy="184.5" r="5.7" class="c39"/><circle cx="245.3" cy="185.0" r="5.7" class="c39"/><circle cx="245.6" cy="184.4" r="5.7" class="c39"/><circle cx="245.8" cy="184.9" r="5.7" class="c38"/><circle cx="246.0" cy="185.0" r="5.7" class="c39"/><circle cx="244.9" cy="187.8" r="5.7" class="c38"/><circle cx="245.1" cy="186.9" r="5.7" class="c39"/><circle cx="245.5" cy="187.5" r="5.7" class="c38"/><circle cx="245.8" cy="187.9" r="5.7" class="c38"/><circle cx="246.5" cy="184.3" r="5.7" class="c39"/><circle cx="246.7" cy="184.2" r="5.7" class="c38"/><circle cx="246.5" cy="186.0" r="5.7" class="c39"/><circle cx="246.9" cy="185.4" r="5.7" class="c39"/><circle cx="247.2" cy="184.2" r="5.7" class="c39"/><circle cx="247.6" cy="184.8" r="5.7" class="c37"/><circle cx="246.7" cy="186.3" r="5.7" class="c39"/><circle cx="246.9" cy="187.9" r="5.7" class="c39"/><circle cx="247.2" cy="186.6" r="5.7" class="c38"/><circle cx="248.8" cy="180.1" r="5.7" class="c39"/><circle cx="248.9" cy="181.8" r="5.7" class="c39"/><circle cx="249.3" cy="180.9" r="5.7" class="c38"/><circle cx="249.1" cy="181.2" r="5.7" class="c38"/><circle cx="249.0" cy="181.5" r="5.7" class="c38"/><circle cx="248.1" cy="183.8" r="5.7" class="c39"/><circle cx="248.7" cy="183.2" r="5.7" class="c39"/><circle cx="249.5" cy="182.2" r="5.7" class="c39"/><circle cx="249.6" cy="183.6" r="5.7" class="c39"/><circle cx="250.4" cy="180.1" r="5.7" class="c37"/><circle cx="250.7" cy="180.9" r="5.7" class="c38"/><circle cx="250.5" cy="181.1" r="5.7" class="c38"/><circle cx="250.8" cy="181.4" r="5.7" class="c38"/><circle cx="250.9" cy="181.9" r="5.7" class="c38"/><circle cx="251.4" cy="180.4" r="5.7" class="c38"/><circle cx="252.0" cy="180.2" r="5.7" class="c38"/><circle cx="251.5" cy="181.6" r="5.7" class="c38"/><circle cx="250.0" cy="183.7" r="5.7" class="c38"/><circle cx="251.7" cy="183.1" r="5.7" class="c39"/><circle cx="248.5" cy="184.1" r="5.7" class="c38"/><circle cx="248.7" cy="184.3" r="5.7" class="c38"/><circle cx="248.8" cy="184.4" r="5.7" class="c37"/><circle cx="248.0" cy="185.5" r="5.7" class="c38"/><circle cx="249.5" cy="184.2" r="5.7" class="c38"/><circle cx="249.1" cy="184.9" r="5.7" class="c38"/><circle cx="249.1" cy="185.6" r="5.7" class="c38"/><circle cx="248.5" cy="186.6" r="5.7" class="c39"/><circle cx="248.4" cy="187.6" r="5.7" class="c39"/><circle cx="249.0" cy="187.3" r="5.7" class="c38"/><circle cx="249.1" cy="187.3" r="5.7" class="c38"/><circle cx="250.1" cy="185.8" r="5.7" class="c39"/><circle cx="251.1" cy="184.0" r="5.7" class="c38"/><circle cx="251.8" cy="185.5" r="5.7" class="c38"/><circle cx="250.5" cy="186.0" r="5.7" class="c39"/><circle cx="250.8" cy="187.4" r="5.7" class="c39"/><circle cx="251.1" cy="186.2" r="5.7" class="c39"/><circle cx="251.4" cy="186.2" r="5.7" class="c38"/><circle cx="244.9" cy="188.2" r="5.7" class="c39"/><circle cx="245.9" cy="188.8" r="5.7" class="c38"/><circle cx="244.1" cy="190.0" r="5.7" class="c39"/><circle cx="244.6" cy="191.2" r="5.7" class="c39"/><circle cx="245.9" cy="190.3" r="5.7" class="c38"/><circle cx="245.2" cy="191.1" r="5.7" class="c38"/><circle cx="246.4" cy="189.3" r="5.7" class="c39"/><circle cx="246.9" cy="189.6" r="5.7" class="c38"/><circle cx="247.0" cy="190.0" r="5.7" class="c38"/><circle cx="246.5" cy="190.8" r="5.7" class="c38"/><circle cx="246.2" cy="191.4" r="5.7" class="c39"/><circle cx="246.4" cy="191.6" r="5.7" class="c39"/><circle cx="246.8" cy="191.1" r="5.7" class="c39"/><circle cx="247.1" cy="190.8" r="5.7" class="c38"/><circle cx="245.0" cy="192.4" r="5.7" class="c38"/><circle cx="245.5" cy="192.8" r="5.7" class="c39"/><circle cx="245.8" cy="193.9" r="5.7" class="c39"/><circle cx="247.6" cy="192.2" r="5.7" class="c38"/><circle cx="246.7" cy="194.6" r="5.7" class="c38"/><circle cx="248.0" cy="189.4" r="5.7" class="c39"/><circle cx="248.0" cy="189.7" r="5.7" class="c38"/><circle cx="248.5" cy="189.8" r="5.7" class="c39"/><circle cx="249.2" cy="188.3" r="5.7" class="c39"/><circle cx="249.6" cy="189.3" r="5.7" class="c38"/><circle cx="248.2" cy="190.8" r="5.7" class="c39"/><circle cx="248.9" cy="191.4" r="5.7" class="c38"/><circle cx="249.4" cy="190.9" r="5.7" class="c38"/><circle cx="250.3" cy="188.7" r="5.7" class="c39"/><circle cx="251.7" cy="188.2" r="5.7" class="c38"/><circle cx="250.8" cy="191.1" r="5.7" class="c38"/><circle cx="251.4" cy="190.0" r="5.7" class="c38"/><circle cx="251.1" cy="191.3" r="5.7" class="c39"/><circle cx="249.6" cy="192.3" r="5.7" class="c39"/><circle cx="250.5" cy="192.0" r="5.7" class="c39"/><circle cx="250.7" cy="192.3" r="5.7" class="c38"/><circle cx="251.8" cy="192.9" r="5.7" class="c38"/><circle cx="251.7" cy="193.8" r="5.7" class="c39"/><circle cx="252.6" cy="180.3" r="5.7" class="c38"/><circle cx="252.5" cy="180.6" r="5.7" class="c38"/><circle cx="252.9" cy="180.6" r="5.7" class="c38"/><circle cx="252.4" cy="181.3" r="5.7" class="c38"/><circle cx="252.6" cy="181.8" r="5.7" class="c39"/><circle cx="252.9" cy="181.6" r="5.7" class="c38"/><circle cx="253.2" cy="180.1" r="5.7" class="c38"/><circle cx="252.5" cy="182.4" r="5.7" class="c39"/><circle cx="252.7" cy="182.3" r="5.7" class="c38"/><circle cx="252.6" cy="182.5" r="5.7" class="c39"/><circle cx="252.3" cy="183.8" r="5.7" class="c38"/><circle cx="253.7" cy="182.1" r="5.7" class="c39"/><circle cx="254.0" cy="182.3" r="5.7" class="c38"/><circle cx="254.6" cy="180.5" r="5.7" class="c38"/><circle cx="254.6" cy="180.7" r="5.7" class="c38"/><circle cx="254.4" cy="181.9" r="5.7" class="c38"/><circle cx="254.7" cy="181.2" r="5.7" class="c38"/><circle cx="254.9" cy="182.0" r="5.7" class="c38"/><circle cx="255.1" cy="181.0" r="5.7" class="c37"/><circle cx="255.7" cy="182.0" r="5.7" class="c39"/><circle cx="254.6" cy="183.7" r="5.7" class="c38"/><circle cx="255.9" cy="183.7" r="5.7" class="c38"/><circle cx="252.5" cy="185.5" r="5.7" class="c39"/><circle cx="253.1" cy="185.4" r="5.7" class="c39"/><circle cx="253.2" cy="185.4" r="5.7" class="c38"/><circle cx="253.2" cy="185.6" r="5.7" class="c39"/><circle cx="253.8" cy="185.7" r="5.7" class="c39"/><circle cx="254.5" cy="184.6" r="5.7" class="c39"/><circle cx="254.5" cy="185.1" r="5.7" class="c39"/><circle cx="254.9" cy="185.1" r="5.7" class="c38"/><circle cx="255.3" cy="184.9" r="5.7" class="c38"/><circle cx="254.3" cy="187.5" r="5.7" class="c39"/><circle cx="254.2" cy="187.9" r="5.7" class="c38"/><circle cx="255.4" cy="186.5" r="5.7" class="c39"/><circle cx="256.6" cy="180.1" r="5.7" class="c39"/><circle cx="256.9" cy="180.1" r="5.7" class="c38"/><circle cx="256.6" cy="181.5" r="5.7" class="c38"/><circle cx="256.8" cy="182.1" r="5.7" class="c39"/><circle cx="256.5" cy="183.7" r="5.7" class="c38"/><circle cx="257.1" cy="182.5" r="5.7" class="c39"/><circle cx="257.3" cy="182.5" r="5.7" class="c38"/><circle cx="259.1" cy="180.5" r="5.7" class="c38"/><circle cx="259.0" cy="182.1" r="5.7" class="c38"/><circle cx="256.3" cy="184.7" r="5.7" class="c38"/><circle cx="256.4" cy="184.9" r="5.7" class="c39"/><circle cx="256.8" cy="184.5" r="5.7" class="c39"/><circle cx="257.2" cy="184.3" r="5.7" class="c38"/><circle cx="257.9" cy="184.5" r="5.7" class="c38"/><circle cx="256.9" cy="186.8" r="5.7" class="c38"/><circle cx="257.7" cy="186.0" r="5.7" class="c38"/><circle cx="257.3" cy="188.0" r="5.7" class="c38"/><circle cx="258.9" cy="185.5" r="5.7" class="c39"/><circle cx="259.1" cy="185.7" r="5.7" class="c38"/><circle cx="258.3" cy="186.4" r="5.7" class="c39"/><circle cx="258.3" cy="187.0" r="5.7" class="c38"/><circle cx="252.7" cy="189.3" r="5.7" class="c38"/><circle cx="252.5" cy="190.3" r="5.7" class="c38"/><circle cx="252.6" cy="190.8" r="5.7" class="c39"/><circle cx="253.3" cy="191.2" r="5.7" class="c39"/><circle cx="255.7" cy="191.8" r="5.7" class="c38"/><circle cx="252.6" cy="192.3" r="5.7" class="c38"/><circle cx="252.4" cy="193.0" r="5.7" class="c39"/><circle cx="253.5" cy="193.1" r="5.7" class="c39"/><circle cx="252.5" cy="194.3" r="5.7" class="c38"/><circle cx="252.5" cy="196.0" r="5.7" class="c39"/><circle cx="253.1" cy="194.3" r="5.7" class="c38"/><circle cx="255.1" cy="193.5" r="5.7" class="c39"/><circle cx="257.6" cy="190.6" r="5.7" class="c39"/><circle cx="258.4" cy="188.3" r="5.7" class="c38"/><circle cx="258.6" cy="189.2" r="5.7" class="c39"/><circle cx="259.5" cy="188.6" r="5.7" class="c39"/><circle cx="259.4" cy="189.3" r="5.7" class="c39"/><circle cx="259.1" cy="191.0" r="5.7" class="c39"/><circle cx="257.2" cy="192.4" r="5.7" class="c39"/><circle cx="258.0" cy="195.3" r="5.7" class="c37"/><circle cx="258.6" cy="194.8" r="5.7" class="c38"/><circle cx="259.6" cy="195.4" r="5.7" class="c39"/><circle cx="245.7" cy="197.4" r="5.7" class="c39"/><circle cx="246.4" cy="196.3" r="5.7" class="c38"/><circle cx="247.6" cy="196.9" r="5.7" class="c38"/><circle cx="245.8" cy="201.3" r="5.7" class="c38"/><circle cx="247.7" cy="201.6" r="5.7" class="c39"/><circle cx="249.2" cy="197.9" r="5.7" class="c39"/><circle cx="251.0" cy="199.8" r="5.7" class="c39"/><circle cx="250.5" cy="200.4" r="5.7" class="c38"/><circle cx="248.6" cy="204.5" r="5.7" class="c38"/><circle cx="249.1" cy="208.6" r="5.7" class="c38"/><circle cx="251.4" cy="208.3" r="5.7" class="c39"/><circle cx="253.2" cy="199.0" r="5.7" class="c38"/><circle cx="255.0" cy="202.2" r="5.7" class="c39"/><circle cx="259.1" cy="202.7" r="5.7" class="c38"/><circle cx="253.6" cy="205.1" r="5.7" class="c39"/><circle cx="259.8" cy="206.0" r="5.7" class="c38"/><circle cx="258.8" cy="207.8" r="5.7" class="c38"/><circle cx="261.5" cy="149.0" r="5.7" class="c39"/><circle cx="261.4" cy="149.6" r="5.7" class="c39"/><circle cx="262.5" cy="149.2" r="5.7" class="c39"/><circle cx="260.5" cy="155.1" r="5.7" class="c39"/><circle cx="262.2" cy="153.5" r="5.7" class="c37"/><circle cx="265.5" cy="155.5" r="5.7" class="c38"/><circle cx="260.6" cy="158.2" r="5.7" class="c39"/><circle cx="261.0" cy="161.1" r="5.7" class="c37"/><circle cx="263.5" cy="163.6" r="5.7" class="c39"/><circle cx="265.8" cy="158.9" r="5.7" class="c39"/><circle cx="264.8" cy="163.4" r="5.7" class="c38"/><circle cx="270.1" cy="151.8" r="5.7" class="c39"/><circle cx="269.3" cy="154.3" r="5.7" class="c38"/><circle cx="270.3" cy="155.6" r="5.7" class="c39"/><circle cx="275.0" cy="149.8" r="5.7" class="c39"/><circle cx="269.0" cy="159.5" r="5.7" class="c38"/><circle cx="271.4" cy="160.0" r="5.7" class="c39"/><circle cx="268.5" cy="163.1" r="5.7" class="c39"/><circle cx="271.5" cy="160.7" r="5.7" class="c39"/><circle cx="273.9" cy="159.4" r="5.7" class="c36"/><circle cx="272.7" cy="163.3" r="5.7" class="c39"/><circle cx="261.8" cy="165.9" r="5.7" class="c39"/><circle cx="262.0" cy="164.1" r="5.7" class="c38"/><circle cx="262.9" cy="167.2" r="5.7" class="c39"/><circle cx="263.3" cy="167.9" r="5.7" class="c39"/><circle cx="260.2" cy="169.1" r="5.7" class="c38"/><circle cx="260.7" cy="169.9" r="5.7" class="c39"/><circle cx="261.0" cy="172.0" r="5.7" class="c38"/><circle cx="261.5" cy="170.7" r="5.7" class="c38"/><circle cx="262.5" cy="171.6" r="5.7" class="c39"/><circle cx="263.7" cy="171.3" r="5.7" class="c38"/><circle cx="267.8" cy="165.4" r="5.7" class="c39"/><circle cx="264.3" cy="169.5" r="5.7" class="c38"/><circle cx="265.5" cy="170.6" r="5.7" class="c38"/><circle cx="265.5" cy="171.8" r="5.7" class="c38"/><circle cx="266.9" cy="169.4" r="5.7" class="c38"/><circle cx="267.9" cy="168.9" r="5.7" class="c39"/><circle cx="266.0" cy="170.5" r="5.7" class="c39"/><circle cx="260.6" cy="173.8" r="5.7" class="c38"/><circle cx="261.4" cy="173.4" r="5.7" class="c39"/><circle cx="261.1" cy="173.9" r="5.7" class="c39"/><circle cx="260.3" cy="174.8" r="5.7" class="c39"/><circle cx="261.6" cy="174.3" r="5.7" class="c39"/><circle cx="262.1" cy="172.3" r="5.7" class="c38"/><circle cx="260.7" cy="176.9" r="5.7" class="c38"/><circle cx="261.8" cy="177.7" r="5.7" class="c38"/><circle cx="260.5" cy="179.5" r="5.7" class="c39"/><circle cx="260.6" cy="179.8" r="5.7" class="c38"/><circle cx="261.7" cy="178.1" r="5.7" class="c39"/><circle cx="262.0" cy="176.4" r="5.7" class="c39"/><circle cx="262.3" cy="177.1" r="5.7" class="c39"/><circle cx="263.3" cy="177.6" r="5.7" class="c38"/><circle cx="262.2" cy="178.5" r="5.7" class="c39"/><circle cx="262.1" cy="178.9" r="5.7" class="c38"/><circle cx="262.4" cy="179.1" r="5.7" class="c38"/><circle cx="262.5" cy="179.9" r="5.7" class="c38"/><circle cx="265.2" cy="174.7" r="5.7" class="c38"/><circle cx="267.1" cy="172.6" r="5.7" class="c39"/><circle cx="267.6" cy="173.4" r="5.7" class="c38"/><circle cx="265.2" cy="176.7" r="5.7" class="c38"/><circle cx="264.3" cy="179.9" r="5.7" class="c39"/><circle cx="265.8" cy="179.5" r="5.7" class="c39"/><circle cx="267.1" cy="179.1" r="5.7" class="c39"/><circle cx="268.7" cy="167.9" r="5.7" class="c38"/><circle cx="269.0" cy="166.8" r="5.7" class="c39"/><circle cx="270.8" cy="166.4" r="5.7" class="c38"/><circle cx="268.6" cy="169.5" r="5.7" class="c39"/><circle cx="271.6" cy="168.1" r="5.7" class="c38"/><circle cx="270.4" cy="170.9" r="5.7" class="c38"/><circle cx="272.0" cy="167.2" r="5.7" class="c38"/><circle cx="274.0" cy="170.8" r="5.7" class="c39"/><circle cx="268.4" cy="174.9" r="5.7" class="c38"/><circle cx="271.0" cy="172.9" r="5.7" class="c39"/><circle cx="270.9" cy="175.8" r="5.7" class="c39"/><circle cx="268.5" cy="179.2" r="5.7" class="c38"/><circle cx="269.6" cy="179.0" r="5.7" class="c38"/><circle cx="270.5" cy="176.1" r="5.7" class="c39"/><circle cx="270.3" cy="177.9" r="5.7" class="c39"/><circle cx="271.1" cy="179.2" r="5.7" class="c39"/><circle cx="272.1" cy="172.5" r="5.7" class="c39"/><circle cx="274.3" cy="173.0" r="5.7" class="c38"/><circle cx="274.5" cy="174.1" r="5.7" class="c39"/><circle cx="272.7" cy="179.6" r="5.7" class="c38"/><circle cx="276.1" cy="150.5" r="5.7" class="c39"/><circle cx="278.7" cy="154.6" r="5.7" class="c37"/><circle cx="281.2" cy="148.3" r="5.7" class="c39"/><circle cx="280.2" cy="152.7" r="5.7" class="c39"/><circle cx="283.5" cy="155.5" r="5.7" class="c39"/><circle cx="281.3" cy="156.8" r="5.7" class="c39"/><circle cx="282.5" cy="156.3" r="5.7" class="c39"/><circle cx="289.7" cy="153.7" r="5.7" class="c39"/><circle cx="291.5" cy="155.4" r="5.7" class="c39"/><circle cx="284.0" cy="156.2" r="5.7" class="c39"/><circle cx="286.8" cy="158.6" r="5.7" class="c38"/><circle cx="285.8" cy="163.9" r="5.7" class="c38"/><circle cx="288.0" cy="160.5" r="5.7" class="c38"/><circle cx="277.4" cy="164.9" r="5.7" class="c38"/><circle cx="277.2" cy="168.3" r="5.7" class="c39"/><circle cx="277.5" cy="169.4" r="5.7" class="c38"/><circle cx="282.7" cy="164.9" r="5.7" class="c39"/><circle cx="281.0" cy="170.4" r="5.7" class="c38"/><circle cx="282.7" cy="177.1" r="5.7" class="c38"/><circle cx="284.7" cy="167.4" r="5.7" class="c39"/><circle cx="290.5" cy="171.8" r="5.7" class="c37"/><circle cx="289.6" cy="179.5" r="5.7" class="c38"/><circle cx="261.9" cy="182.2" r="5.7" class="c38"/><circle cx="261.8" cy="183.5" r="5.7" class="c39"/><circle cx="263.0" cy="180.1" r="5.7" class="c39"/><circle cx="262.7" cy="180.7" r="5.7" class="c39"/><circle cx="263.5" cy="180.2" r="5.7" class="c38"/><circle cx="264.0" cy="182.4" r="5.7" class="c38"/><circle cx="260.0" cy="184.6" r="5.7" class="c38"/><circle cx="261.3" cy="184.1" r="5.7" class="c39"/><circle cx="260.4" cy="186.7" r="5.7" class="c39"/><circle cx="260.2" cy="188.0" r="5.7" class="c39"/><circle cx="262.0" cy="187.7" r="5.7" class="c39"/><circle cx="262.2" cy="184.5" r="5.7" class="c38"/><circle cx="262.2" cy="186.1" r="5.7" class="c39"/><circle cx="263.9" cy="187.3" r="5.7" class="c38"/><circle cx="264.3" cy="180.1" r="5.7" class="c38"/><circle cx="265.5" cy="180.4" r="5.7" class="c39"/><circle cx="266.1" cy="182.7" r="5.7" class="c37"/><circle cx="267.7" cy="182.3" r="5.7" class="c38"/><circle cx="264.1" cy="184.9" r="5.7" class="c39"/><circle cx="264.2" cy="187.5" r="5.7" class="c39"/><circle cx="266.2" cy="184.7" r="5.7" class="c38"/><circle cx="266.8" cy="186.6" r="5.7" class="c38"/><circle cx="266.2" cy="187.1" r="5.7" class="c39"/><circle cx="266.3" cy="187.4" r="5.7" class="c38"/><circle cx="266.6" cy="187.2" r="5.7" class="c39"/><circle cx="261.0" cy="195.5" r="5.7" class="c38"/><circle cx="263.8" cy="193.2" r="5.7" class="c39"/><circle cx="266.7" cy="188.5" r="5.7" class="c39"/><circle cx="265.6" cy="192.2" r="5.7" class="c39"/><circle cx="265.3" cy="193.1" r="5.7" class="c38"/><circle cx="265.9" cy="194.9" r="5.7" class="c39"/><circle cx="266.1" cy="195.4" r="5.7" class="c39"/><circle cx="268.7" cy="184.5" r="5.7" class="c39"/><circle cx="269.7" cy="185.6" r="5.7" class="c39"/><circle cx="269.1" cy="186.4" r="5.7" class="c39"/><circle cx="273.3" cy="181.8" r="5.7" class="c38"/><circle cx="275.0" cy="181.5" r="5.7" class="c38"/><circle cx="274.5" cy="183.8" r="5.7" class="c39"/><circle cx="273.5" cy="187.1" r="5.7" class="c38"/><circle cx="269.9" cy="190.5" r="5.7" class="c38"/><circle cx="270.7" cy="190.3" r="5.7" class="c38"/><circle cx="268.8" cy="192.8" r="5.7" class="c38"/><circle cx="269.7" cy="194.6" r="5.7" class="c38"/><circle cx="272.3" cy="189.7" r="5.7" class="c39"/><circle cx="273.3" cy="189.8" r="5.7" class="c38"/><circle cx="274.9" cy="192.4" r="5.7" class="c39"/><circle cx="260.5" cy="196.9" r="5.7" class="c37"/><circle cx="260.5" cy="197.3" r="5.7" class="c39"/><circle cx="262.0" cy="196.2" r="5.7" class="c39"/><circle cx="264.3" cy="198.3" r="5.7" class="c38"/><circle cx="268.0" cy="199.7" r="5.7" class="c39"/><circle cx="267.5" cy="203.6" r="5.7" class="c38"/><circle cx="261.4" cy="209.0" r="5.7" class="c38"/><circle cx="261.4" cy="211.4" r="5.7" class="c39"/><circle cx="262.6" cy="209.2" r="5.7" class="c39"/><circle cx="262.3" cy="211.0" r="5.7" class="c39"/><circle cx="267.4" cy="204.7" r="5.7" class="c39"/><circle cx="268.4" cy="198.0" r="5.7" class="c39"/><circle cx="268.7" cy="198.3" r="5.7" class="c38"/><circle cx="270.0" cy="208.1" r="5.7" class="c38"/><circle cx="275.7" cy="206.1" r="5.7" class="c39"/><circle cx="276.3" cy="180.6" r="5.7" class="c39"/><circle cx="279.0" cy="181.2" r="5.7" class="c38"/><circle cx="279.9" cy="181.9" r="5.7" class="c39"/><circle cx="276.9" cy="187.8" r="5.7" class="c37"/><circle cx="279.6" cy="185.1" r="5.7" class="c39"/><circle cx="281.7" cy="183.1" r="5.7" class="c37"/><circle cx="276.3" cy="191.8" r="5.7" class="c38"/><circle cx="277.4" cy="190.9" r="5.7" class="c38"/><circle cx="279.3" cy="193.7" r="5.7" class="c39"/><circle cx="281.4" cy="191.9" r="5.7" class="c39"/><circle cx="282.5" cy="189.4" r="5.7" class="c39"/><circle cx="281.9" cy="195.8" r="5.7" class="c38"/><circle cx="287.6" cy="187.5" r="5.7" class="c37"/><circle cx="288.2" cy="184.1" r="5.7" class="c38"/><circle cx="288.5" cy="184.4" r="5.7" class="c39"/><circle cx="289.0" cy="186.2" r="5.7" class="c39"/><circle cx="284.6" cy="194.8" r="5.7" class="c38"/><circle cx="286.6" cy="195.9" r="5.7" class="c39"/><circle cx="287.8" cy="195.1" r="5.7" class="c39"/><circle cx="288.9" cy="192.4" r="5.7" class="c38"/><circle cx="289.6" cy="192.3" r="5.7" class="c39"/><circle cx="289.4" cy="194.1" r="5.7" class="c38"/><circle cx="276.5" cy="203.2" r="5.7" class="c39"/><circle cx="278.3" cy="201.4" r="5.7" class="c38"/><circle cx="283.9" cy="196.6" r="5.7" class="c39"/><circle cx="278.1" cy="206.6" r="5.7" class="c37"/><circle cx="277.1" cy="209.3" r="5.7" class="c38"/><circle cx="282.5" cy="207.8" r="5.7" class="c38"/><circle cx="282.6" cy="208.5" r="5.7" class="c39"/><circle cx="285.4" cy="200.7" r="5.7" class="c38"/><circle cx="284.1" cy="203.5" r="5.7" class="c39"/><circle cx="290.1" cy="203.5" r="5.7" class="c38"/><circle cx="286.2" cy="211.5" r="5.7" class="c38"/><circle cx="231.4" cy="212.1" r="5.7" class="c39"/><circle cx="234.5" cy="216.2" r="5.7" class="c39"/><circle cx="231.7" cy="223.5" r="5.7" class="c37"/><circle cx="231.9" cy="224.2" r="5.7" class="c39"/><circle cx="235.7" cy="223.6" r="5.7" class="c39"/><circle cx="233.8" cy="226.2" r="5.7" class="c38"/><circle cx="238.3" cy="212.1" r="5.7" class="c38"/><circle cx="237.3" cy="219.0" r="5.7" class="c38"/><circle cx="239.6" cy="219.5" r="5.7" class="c39"/><circle cx="243.4" cy="219.3" r="5.7" class="c39"/><circle cx="236.9" cy="221.7" r="5.7" class="c39"/><circle cx="243.4" cy="227.5" r="5.7" class="c38"/><circle cx="231.3" cy="228.8" r="5.7" class="c38"/><circle cx="234.5" cy="243.1" r="5.7" class="c38"/><circle cx="237.4" cy="229.8" r="5.7" class="c38"/><circle cx="237.6" cy="232.0" r="5.7" class="c36"/><circle cx="241.9" cy="230.2" r="5.7" class="c39"/><circle cx="243.0" cy="229.9" r="5.7" class="c38"/><circle cx="244.2" cy="213.9" r="5.7" class="c39"/><circle cx="245.3" cy="213.2" r="5.7" class="c39"/><circle cx="246.0" cy="214.9" r="5.7" class="c37"/><circle cx="246.0" cy="217.7" r="5.7" class="c37"/><circle cx="247.8" cy="216.7" r="5.7" class="c39"/><circle cx="247.1" cy="220.1" r="5.7" class="c39"/><circle cx="247.3" cy="220.7" r="5.7" class="c38"/><circle cx="244.6" cy="227.4" r="5.7" class="c38"/><circle cx="248.9" cy="220.9" r="5.7" class="c38"/><circle cx="249.9" cy="221.9" r="5.7" class="c39"/><circle cx="249.4" cy="224.0" r="5.7" class="c39"/><circle cx="249.0" cy="228.0" r="5.7" class="c38"/><circle cx="250.2" cy="224.1" r="5.7" class="c38"/><circle cx="255.1" cy="215.6" r="5.7" class="c38"/><circle cx="254.6" cy="216.1" r="5.7" class="c37"/><circle cx="257.7" cy="213.5" r="5.7" class="c37"/><circle cx="259.8" cy="213.3" r="5.7" class="c39"/><circle cx="255.0" cy="223.6" r="5.7" class="c39"/><circle cx="257.9" cy="224.9" r="5.7" class="c38"/><circle cx="248.6" cy="230.5" r="5.7" class="c38"/><circle cx="247.2" cy="238.4" r="5.7" class="c38"/><circle cx="250.3" cy="238.4" r="5.7" class="c38"/><circle cx="235.3" cy="265.4" r="5.7" class="c28"/><circle cx="228.9" cy="269.4" r="5.7" class="c23"/><circle cx="239.2" cy="275.7" r="5.7" class="c27"/><circle cx="248.0" cy="265.4" r="5.7" class="c38"/><circle cx="251.1" cy="265.4" r="5.7" class="c38"/><circle cx="260.6" cy="212.9" r="5.7" class="c38"/><circle cx="263.8" cy="212.4" r="5.7" class="c38"/><circle cx="265.5" cy="215.8" r="5.7" class="c38"/><circle cx="264.0" cy="219.0" r="5.7" class="c38"/><circle cx="265.0" cy="219.7" r="5.7" class="c38"/><circle cx="266.9" cy="218.1" r="5.7" class="c38"/><circle cx="268.0" cy="222.7" r="5.7" class="c38"/><circle cx="267.4" cy="223.5" r="5.7" class="c38"/><circle cx="265.5" cy="226.4" r="5.7" class="c39"/><circle cx="266.9" cy="226.7" r="5.7" class="c38"/><circle cx="275.1" cy="212.8" r="5.7" class="c38"/><circle cx="274.4" cy="215.2" r="5.7" class="c38"/><circle cx="266.3" cy="231.6" r="5.7" class="c38"/><circle cx="276.4" cy="213.6" r="5.7" class="c39"/><circle cx="279.4" cy="217.7" r="5.7" class="c39"/><circle cx="282.2" cy="222.1" r="5.7" class="c39"/><circle cx="285.2" cy="218.5" r="5.7" class="c39"/><circle cx="287.7" cy="219.3" r="5.7" class="c38"/><circle cx="278.2" cy="229.6" r="5.7" class="c38"/><circle cx="280.5" cy="236.8" r="5.7" class="c38"/><circle cx="286.1" cy="229.6" r="5.7" class="c38"/><circle cx="266.2" cy="246.3" r="5.7" class="c32"/><circle cx="273.4" cy="251.9" r="5.7" class="c38"/><circle cx="290.9" cy="245.5" r="5.7" class="c31"/><circle cx="287.7" cy="260.6" r="5.7" class="c3"/><circle cx="293.9" cy="150.0" r="5.7" class="c39"/><circle cx="293.3" cy="154.9" r="5.7" class="c39"/><circle cx="297.0" cy="155.0" r="5.7" class="c38"/><circle cx="292.6" cy="157.5" r="5.7" class="c38"/><circle cx="296.0" cy="160.3" r="5.7" class="c38"/><circle cx="296.5" cy="157.5" r="5.7" class="c39"/><circle cx="307.7" cy="163.8" r="5.7" class="c38"/><circle cx="292.1" cy="165.7" r="5.7" class="c39"/><circle cx="296.8" cy="171.7" r="5.7" class="c38"/><circle cx="293.0" cy="175.1" r="5.7" class="c39"/><circle cx="298.6" cy="176.9" r="5.7" class="c39"/><circle cx="299.0" cy="177.9" r="5.7" class="c38"/><circle cx="299.8" cy="179.6" r="5.7" class="c38"/><circle cx="300.9" cy="170.1" r="5.7" class="c39"/><circle cx="316.7" cy="152.2" r="5.7" class="c38"/><circle cx="317.6" cy="165.4" r="5.7" class="c38"/><circle cx="293.9" cy="195.5" r="5.7" class="c38"/><circle cx="295.6" cy="193.7" r="5.7" class="c39"/><circle cx="297.7" cy="190.1" r="5.7" class="c39"/><circle cx="298.1" cy="191.6" r="5.7" class="c38"/><circle cx="301.5" cy="187.3" r="5.7" class="c38"/><circle cx="302.7" cy="186.4" r="5.7" class="c38"/><circle cx="305.3" cy="182.1" r="5.7" class="c38"/><circle cx="292.5" cy="201.0" r="5.7" class="c38"/><circle cx="292.4" cy="204.0" r="5.7" class="c38"/><circle cx="298.3" cy="199.8" r="5.7" class="c39"/><circle cx="297.0" cy="200.2" r="5.7" class="c39"/><circle cx="304.4" cy="196.2" r="5.7" class="c38"/><circle cx="314.7" cy="197.8" r="5.7" class="c38"/><circle cx="323.5" cy="209.0" r="5.7" class="c30"/><circle cx="331.6" cy="153.9" r="5.7" class="c32"/><circle cx="330.0" cy="167.0" r="5.7" class="c38"/><circle cx="328.2" cy="177.2" r="5.7" class="c21"/><circle cx="344.0" cy="169.5" r="5.7" class="c21"/><circle cx="344.1" cy="171.6" r="5.7" class="c22"/><circle cx="329.8" cy="185.9" r="5.7" class="c36"/><circle cx="333.8" cy="183.5" r="5.7" class="c30"/><circle cx="332.2" cy="195.4" r="5.7" class="c38"/><circle cx="325.0" cy="204.2" r="5.7" class="c36"/><circle cx="302.8" cy="224.1" r="5.7" class="c38"/><circle cx="321.1" cy="228.0" r="5.7" class="c31"/><circle cx="323.5" cy="238.4" r="5.7" class="c31"/><circle cx="313.1" cy="253.5" r="5.7" class="c29"/><circle cx="328.2" cy="217.7" r="5.7" class="c26"/><circle cx="327.4" cy="259.0" r="5.7" class="c4"/><circle cx="238.4" cy="284.5" r="5.7" class="c16"/><circle cx="356.3" cy="163.0" r="5.7" class="c6"/></g>
</g></svg>
<svg x="494" y="1" width="354" height="344.6" overflow="hidden"><g transform="translate(-494,-1)">
<path stroke="#aaaaaa" stroke-width="3.9" stroke-linecap="round" fill="none" d="M672.2 70.0h0M728.2 319.6h0M676.0 67.6h0M806.6 100.7h0M747.4 63.7h0M551.6 184.1h0M621.6 179.5h0M804.9 214.2h0M651.7 325.7h0M562.4 282.5h0M689.0 68.8h0M711.5 161.1h0M752.9 82.2h0M624.1 99.1h0M824.3 135.8h0M568.9 293.3h0M604.9 111.5h0M789.9 109.7h0M664.3 271.7h0M577.7 227.9h0M728.3 51.9h0M656.1 201.7h0M714.7 48.4h0M758.7 47.4h0M556.2 153.2h0M761.1 178.9h0M607.5 86.8h0M583.6 52.8h0M582.3 182.8h0M799.5 211.4h0M708.8 133.2h0M678.5 286.6h0M607.3 69.2h0M718.9 246.8h0M706.9 97.0h0M639.6 78.7h0M711.2 257.4h0M672.0 33.4h0M676.3 101.4h0M801.1 265.7h0M610.5 26.3h0M586.2 290.9h0M525.8 137.1h0M612.4 62.7h0M705.1 178.9h0M823.3 121.9h0M689.4 90.9h0M724.3 260.7h0M794.7 166.3h0M747.5 135.8h0M640.2 263.3h0M703.0 47.1h0M734.6 51.2h0M791.1 240.3h0M740.6 119.5h0M732.2 184.9h0M663.5 252.8h0M760.4 292.4h0M625.1 201.3h0M574.7 154.8h0M534.9 217.5h0M778.5 90.9h0M580.9 66.3h0M512.9 140.2h0M687.8 238.8h0M782.8 115.8h0M622.4 61.4h0M755.5 195.5h0M732.7 125.7h0M746.0 228.8h0M518.9 159.6h0M772.7 169.0h0M747.6 210.2h0M673.3 317.2h0M638.1 100.1h0M592.6 233.8h0M737.0 95.6h0M793.0 215.7h0M617.0 151.4h0M604.5 199.5h0M521.2 201.3h0M711.0 209.6h0M565.5 152.3h0M586.6 152.2h0M713.0 290.6h0M786.3 192.7h0M645.4 275.3h0M584.6 102.1h0M741.5 298.2h0M595.7 217.6h0M645.3 162.1h0M715.0 293.4h0M691.5 205.3h0M556.0 220.8h0M634.4 236.4h0M729.8 279.5h0M564.8 171.0h0M543.0 142.3h0M543.1 103.2h0M586.2 140.5h0M580.8 105.1h0M793.1 166.2h0M688.2 248.2h0M699.9 134.7h0M600.0 91.0h0M777.0 216.4h0M731.5 28.6h0M673.2 230.3h0M703.4 264.6h0M632.4 300.1h0M592.4 132.7h0M554.8 211.3h0M663.0 292.4h0M687.7 203.7h0M781.9 245.5h0M748.5 202.8h0M625.2 243.8h0M664.7 315.1h0M635.1 112.9h0M739.3 82.5h0M776.8 185.7h0M619.3 179.7h0M563.0 256.8h0M652.0 281.9h0M597.7 51.5h0M794.6 131.9h0M641.2 233.0h0M704.5 291.1h0M620.4 307.0h0M780.8 281.6h0M771.5 276.1h0M575.1 49.9h0M650.8 239.1h0M675.5 331.7h0M524.7 157.7h0M745.9 253.0h0M673.0 304.7h0M683.9 153.0h0M704.9 272.2h0M686.3 325.3h0M567.9 278.8h0M594.8 274.2h0M790.5 181.9h0M718.7 49.1h0M789.7 151.5h0M621.5 213.0h0M580.2 284.9h0M685.5 223.3h0M705.6 238.3h0M515.7 147.4h0M612.7 127.5h0M597.0 151.4h0M568.8 70.3h0M586.7 97.5h0M648.9 39.4h0M687.7 255.2h0M781.0 284.2h0M697.0 99.7h0M695.2 271.3h0M785.5 63.7h0M552.5 139.3h0M739.4 204.4h0M556.6 283.7h0M590.7 109.5h0M736.1 302.2h0M800.5 119.8h0M618.1 189.6h0M648.6 243.5h0M761.0 129.9h0M743.9 174.8h0M594.4 172.0h0M520.2 121.7h0M785.5 161.1h0M580.9 156.7h0M659.2 213.8h0M643.1 29.9h0M563.6 183.6h0M563.7 202.8h0M658.2 87.1h0M661.7 299.0h0M591.8 198.2h0M735.9 257.7h0M721.0 204.5h0M621.5 94.9h0M538.7 146.5h0M758.7 200.1h0M783.6 277.3h0M664.8 261.3h0M799.8 138.3h0M725.3 209.9h0M573.0 292.0h0M713.3 235.0h0M713.6 249.5h0M557.9 260.4h0M595.6 73.4h0M574.5 269.3h0M598.5 124.7h0M788.7 189.4h0M649.9 290.6h0M792.5 160.1h0M625.1 127.0h0M601.5 95.8h0M663.7 121.5h0M701.7 313.2h0M537.4 161.4h0M641.2 277.8h0M823.1 154.8h0M694.2 55.2h0M568.0 105.3h0M764.2 197.4h0M776.2 226.6h0M614.2 212.9h0M614.2 276.9h0M762.8 79.2h0M796.5 75.3h0M605.2 209.5h0M531.8 150.4h0M745.6 257.6h0M754.1 55.6h0M664.5 177.7h0M731.6 160.0h0M625.4 314.0h0M565.7 88.5h0M683.0 68.8h0M687.0 162.6h0M520.4 140.2h0M659.6 158.0h0M598.7 67.3h0M682.6 278.6h0M576.1 90.5h0M743.4 243.9h0M643.3 75.9h0M576.1 301.4h0M762.4 253.3h0M823.4 213.0h0M740.0 246.1h0M656.1 252.7h0M728.6 57.8h0M682.4 108.1h0M653.0 77.7h0M688.8 26.3h0M715.8 231.6h0M696.8 166.3h0M600.1 73.9h0M729.1 109.1h0M538.9 187.8h0M551.0 258.5h0M618.1 248.0h0M769.5 103.8h0M673.2 53.9h0M542.8 258.2h0M825.0 135.1h0M728.8 45.6h0M655.6 274.5h0M651.7 293.5h0M676.9 167.1h0M583.2 169.4h0M805.1 147.4h0M705.3 33.0h0M720.0 114.7h0M661.7 143.9h0M789.4 254.0h0M524.2 165.8h0M620.6 122.9h0M680.0 91.5h0M761.6 46.3h0M652.3 29.0h0M611.5 147.3h0M756.1 188.2h0M708.2 114.7h0M613.1 44.1h0M815.7 198.1h0M564.4 65.0h0M605.9 288.8h0M603.7 106.2h0M601.0 112.5h0M651.5 54.9h0M549.7 235.2h0M617.4 218.2h0M794.4 203.8h0M714.0 85.1h0M754.3 52.5h0M684.4 124.5h0M742.8 239.0h0M573.2 93.8h0M664.7 31.3h0M679.7 180.5h0M667.9 284.6h0M796.1 119.4h0M600.9 87.6h0M748.5 158.0h0M748.0 105.8h0M646.2 91.7h0M682.9 163.5h0M744.4 36.3h0M538.7 202.2h0M656.3 118.3h0M764.2 160.8h0M584.4 53.8h0M625.0 78.8h0M683.0 33.4h0M631.8 300.7h0M562.4 221.2h0M562.1 185.9h0M752.9 145.8h0M732.7 263.2h0M550.4 130.6h0M656.5 78.1h0M566.8 190.3h0M671.2 146.0h0M555.2 198.2h0M726.7 310.1h0M576.0 252.8h0M650.1 327.2h0M689.2 196.4h0M583.9 49.7h0M685.9 164.8h0M628.0 255.3h0M659.2 293.4h0M685.6 219.0h0M693.9 215.6h0M590.8 70.4h0M544.9 203.2h0M692.0 329.8h0M608.1 131.0h0M818.9 150.3h0M573.5 181.0h0M619.8 50.2h0M575.6 244.2h0M541.1 100.2h0M618.8 259.8h0M573.7 196.3h0M691.0 79.9h0M643.3 323.6h0M531.3 114.4h0M581.1 261.2h0M615.1 52.1h0M726.1 309.5h0M690.1 207.7h0M697.6 180.2h0M628.9 243.6h0M720.1 304.8h0M788.2 262.8h0M799.4 191.8h0M630.6 126.8h0M692.7 287.6h0M743.0 204.9h0M796.7 130.0h0M735.1 196.5h0M622.1 251.2h0M615.4 185.2h0M578.9 160.2h0M574.8 104.8h0M766.3 292.5h0M526.0 169.4h0M652.6 111.5h0M608.4 261.0h0M707.2 152.0h0M583.2 264.3h0M804.2 93.7h0M673.5 65.4h0M644.0 316.1h0M612.9 140.3h0M778.0 187.0h0M567.3 130.8h0M671.5 184.6h0M686.3 129.6h0M568.4 279.2h0M737.4 56.3h0M610.1 186.4h0M737.8 256.2h0M653.5 87.3h0M792.3 215.7h0M659.0 245.2h0M600.6 87.4h0M748.0 264.9h0M598.1 51.1h0M757.4 82.5h0M644.0 257.0h0M806.8 138.5h0M635.2 280.3h0M703.3 27.4h0M535.8 128.9h0M723.5 259.8h0M683.1 71.4h0M604.3 212.3h0M754.2 149.9h0M607.0 306.3h0M588.6 76.4h0M663.3 141.9h0M596.3 155.1h0M717.0 34.0h0M629.9 239.3h0M692.1 141.2h0M591.8 275.2h0M712.8 268.8h0M614.2 57.3h0M597.2 169.5h0M545.4 180.8h0M584.9 162.0h0M629.4 88.3h0M767.4 284.5h0M544.6 227.1h0M558.4 106.0h0M801.0 98.9h0M786.8 197.3h0M557.0 251.2h0M732.3 66.8h0M714.2 73.7h0M578.3 83.1h0M651.9 195.2h0M763.2 62.1h0M804.5 116.0h0M726.3 37.8h0M704.5 97.8h0M564.5 93.9h0M631.0 300.4h0M716.6 158.5h0M674.1 217.1h0M719.3 172.7h0M797.5 213.3h0M634.6 49.6h0M674.9 135.5h0M734.9 64.8h0M752.0 206.5h0M758.9 180.5h0M752.0 151.8h0M653.8 113.3h0M724.2 170.8h0M671.4 25.7h0M589.6 109.1h0M572.3 101.1h0M626.8 48.2h0M707.2 283.1h0M619.6 235.9h0M530.7 96.6h0M645.5 144.0h0M586.3 152.7h0M684.4 276.7h0M596.1 43.3h0M723.2 114.9h0M589.1 247.6h0M589.8 302.6h0M671.0 81.0h0M620.1 37.0h0M722.9 171.0h0M791.7 226.4h0M573.9 49.5h0M766.8 88.5h0M596.8 225.1h0M664.5 249.3h0M694.7 303.5h0M743.7 74.4h0M612.6 35.6h0M725.1 63.1h0M535.1 165.0h0M568.4 210.9h0M735.9 207.4h0M625.1 265.4h0M788.0 211.5h0M721.7 225.4h0M733.3 163.0h0M715.2 291.4h0M613.4 252.4h0M691.1 159.7h0M605.2 310.9h0M536.6 225.8h0M678.8 149.1h0M613.8 75.3h0M695.9 249.9h0M589.6 42.4h0M694.0 42.5h0M795.0 110.8h0M638.8 96.7h0M691.3 316.6h0M640.6 294.4h0M705.0 157.6h0M609.9 194.2h0M553.4 105.1h0M725.2 125.1h0M619.4 127.1h0M795.3 133.0h0M709.0 119.4h0M738.2 177.1h0M744.7 113.0h0M732.1 48.2h0M789.5 170.9h0M538.0 157.3h0M754.7 270.7h0M705.9 164.6h0M580.6 79.1h0M703.4 236.9h0M710.2 35.3h0M571.7 184.4h0M684.2 183.4h0M635.3 115.4h0M816.6 194.1h0M613.1 157.1h0M634.3 242.5h0M538.2 234.5h0M599.4 194.6h0M590.4 86.9h0M758.6 59.0h0M649.2 139.6h0M723.5 174.3h0M581.0 128.8h0M660.8 78.8h0M611.1 126.3h0M742.9 213.4h0M661.5 169.0h0M568.1 120.0h0M608.6 34.6h0M594.7 218.1h0M769.2 90.2h0M566.5 55.4h0M636.5 242.5h0M566.3 143.4h0M617.0 109.4h0M638.6 206.5h0M764.6 61.8h0M574.3 278.5h0M617.6 226.1h0M675.0 46.7h0M676.9 161.1h0M750.4 183.2h0M646.2 202.3h0M719.4 245.6h0M618.8 213.4h0M751.2 68.1h0M560.2 172.6h0M655.7 164.4h0M685.1 264.7h0M730.7 92.0h0M616.4 139.5h0M580.7 113.4h0M611.7 320.6h0M561.7 66.3h0M705.4 82.4h0M692.8 296.9h0M809.1 198.9h0M700.3 181.9h0M525.4 142.9h0M732.8 75.9h0M700.0 260.8h0M612.9 100.1h0M682.3 92.0h0M537.0 165.5h0M559.7 237.5h0M768.6 282.4h0M827.8 160.3h0M566.0 121.2h0M552.5 73.3h0M587.7 127.7h0M772.6 187.0h0M717.5 174.9h0M599.5 217.5h0M800.4 216.4h0M737.6 180.1h0M541.2 102.2h0M727.6 198.2h0M550.4 68.9h0M687.6 145.5h0M691.8 170.4h0M751.5 252.7h0M714.4 48.4h0M696.2 316.0h0M605.6 234.3h0M721.5 45.7h0M825.0 160.5h0M563.6 232.2h0M740.2 267.8h0M614.2 50.8h0M795.2 109.3h0M720.0 133.4h0M657.0 268.3h0M600.4 268.8h0M734.4 81.5h0M590.1 235.2h0M786.8 241.5h0M785.2 253.1h0M714.4 110.9h0M600.4 100.2h0M783.8 213.9h0M602.7 274.3h0M757.1 290.9h0M684.9 34.5h0M575.1 186.2h0M609.1 83.5h0M733.6 181.2h0M670.9 34.0h0M560.9 126.5h0M711.5 206.7h0M656.7 188.9h0M756.7 221.2h0M608.7 258.5h0M558.9 161.4h0M818.4 188.1h0M713.3 36.5h0M687.8 96.3h0M518.0 129.4h0M781.8 131.9h0M550.0 109.7h0M671.5 17.4h0M651.6 238.7h0M547.6 134.4h0M534.7 120.9h0M700.4 30.0h0M792.4 119.2h0M687.9 250.4h0M708.8 43.4h0M749.1 283.2h0M732.5 91.2h0M577.8 222.0h0M529.4 99.8h0M546.7 248.4h0M685.4 150.4h0M611.7 124.4h0M688.1 151.2h0M647.1 70.7h0M751.1 66.8h0M720.1 283.1h0M685.9 173.2h0M712.4 147.2h0M800.4 222.2h0M586.5 222.7h0M592.0 215.8h0M733.4 220.9h0M707.3 311.6h0M707.7 71.0h0M734.9 160.4h0M724.8 84.6h0M655.5 49.5h0M698.5 106.0h0M548.0 243.6h0M766.0 110.5h0M685.9 276.7h0M768.3 183.5h0M791.3 165.7h0M586.6 291.7h0M614.9 261.4h0M696.2 164.2h0M549.6 155.2h0M713.5 42.3h0M698.2 31.7h0M703.3 327.4h0M583.9 272.3h0M597.1 145.2h0M622.3 207.8h0M679.5 286.3h0M816.2 175.7h0M718.2 89.3h0M723.9 118.7h0M601.4 47.8h0M675.7 278.1h0M791.8 193.6h0M701.7 86.5h0M756.4 269.4h0M540.0 157.0h0M730.5 26.9h0M645.0 252.1h0M677.0 314.0h0M612.1 107.8h0M522.0 184.2h0M713.7 238.5h0M603.5 240.1h0M698.4 192.6h0M631.1 46.8h0M744.8 119.9h0M731.2 275.9h0M514.3 204.5h0M630.8 150.4h0M765.2 208.4h0M598.3 291.9h0M607.2 292.7h0M710.4 324.0h0M693.9 43.8h0M671.5 283.8h0M813.8 238.5h0M523.4 159.0h0M706.5 70.8h0M741.6 269.1h0M656.5 238.0h0M633.8 150.5h0M729.9 293.9h0M598.7 116.8h0M813.8 104.6h0M650.2 259.1h0M812.3 150.5h0M813.2 164.6h0M750.9 221.3h0M737.4 264.9h0M578.7 73.4h0M558.2 154.9h0M559.1 286.2h0M612.1 140.9h0M671.6 229.9h0M628.8 170.5h0M795.6 124.7h0M616.4 272.2h0M725.4 312.8h0M568.5 231.6h0M589.8 226.7h0M732.7 278.5h0M654.0 244.6h0M660.2 71.7h0M707.4 157.3h0M559.8 131.4h0M600.8 84.5h0M803.4 226.3h0M649.1 279.5h0M592.8 188.9h0M642.6 52.5h0M534.1 185.8h0M646.6 289.5h0M568.2 201.2h0M788.8 205.0h0M714.2 288.0h0M713.8 121.5h0M543.5 166.5h0M634.3 301.9h0M702.8 29.5h0M550.7 192.6h0M587.0 247.2h0M752.1 259.6h0M631.1 114.4h0M746.9 238.3h0M562.1 272.9h0M677.5 323.9h0M757.5 50.0h0M671.2 140.8h0M540.4 83.9h0M719.7 61.2h0M724.7 45.2h0M607.9 121.4h0M627.1 149.7h0M788.3 228.9h0M662.2 90.9h0M664.5 179.0h0M654.0 307.9h0M606.5 178.6h0M638.2 186.6h0M581.6 133.6h0M570.7 145.1h0M659.2 109.3h0M705.8 258.9h0M808.0 112.8h0M816.9 198.9h0M623.4 200.5h0M604.4 205.8h0M750.0 72.6h0M592.0 278.8h0M543.4 160.9h0M736.9 227.1h0M754.8 158.4h0M573.2 155.4h0M772.2 270.2h0M644.7 322.4h0M612.3 68.5h0M570.5 139.1h0M820.1 182.3h0M710.9 289.8h0M614.0 276.7h0M719.9 306.2h0M616.3 106.2h0M524.0 124.8h0M555.2 71.9h0M609.1 289.9h0M738.9 263.2h0M692.9 86.9h0M509.3 177.6h0M626.6 273.9h0M698.4 197.2h0M608.6 42.2h0M760.6 52.1h0M745.4 96.3h0M754.7 308.1h0M646.9 296.8h0M526.7 120.9h0M615.1 122.1h0M700.4 220.0h0M714.7 115.3h0M554.5 180.8h0M627.6 306.0h0M587.9 53.9h0M526.9 154.0h0M789.1 252.5h0M571.3 132.5h0M654.3 211.8h0M625.6 177.3h0M634.2 233.4h0M826.9 176.4h0M651.5 327.9h0M668.0 85.9h0M720.1 72.7h0M618.5 117.4h0M656.4 164.3h0M652.4 129.4h0M727.2 72.0h0M737.7 140.1h0M684.2 72.4h0M736.3 262.8h0M693.2 65.0h0M754.1 300.2h0M597.7 312.1h0M622.5 212.9h0M610.0 227.4h0M548.8 234.4h0M741.6 257.0h0M643.0 44.1h0M665.9 117.4h0M669.6 188.9h0M633.5 243.0h0M799.8 181.5h0M721.9 137.5h0M633.5 21.6h0M589.8 267.4h0M576.4 255.4h0M687.8 270.1h0M605.1 239.4h0M777.7 280.4h0M740.6 214.0h0M550.5 230.2h0M605.9 269.9h0M669.1 22.8h0M660.8 285.7h0M574.8 97.3h0M785.5 175.1h0M684.8 181.3h0M624.9 56.6h0M623.4 266.8h0M775.7 270.8h0M602.7 310.4h0M788.0 180.6h0M592.7 265.4h0M702.9 228.0h0M583.5 265.2h0M556.0 129.8h0M591.4 117.7h0M540.9 153.4h0M576.3 58.8h0M735.6 116.3h0M821.4 124.8h0M581.4 120.5h0M689.1 287.2h0M698.0 305.7h0M752.5 69.1h0M563.2 182.8h0M674.5 28.4h0M672.8 39.1h0M631.2 158.9h0M668.9 152.3h0M820.5 196.6h0M545.9 262.1h0M719.5 174.2h0M584.9 96.5h0M597.0 62.9h0M691.3 111.8h0M531.8 198.1h0M663.6 86.4h0M565.5 211.5h0M667.4 125.7h0M747.3 239.7h0M707.8 84.9h0M656.4 232.2h0M651.7 110.0h0M788.8 123.9h0M730.7 33.7h0M782.1 83.0h0M706.5 74.0h0M749.5 69.7h0M695.5 259.7h0M677.7 199.9h0M783.4 222.6h0M541.9 220.1h0M617.9 255.4h0M764.0 103.6h0M795.9 157.9h0M779.1 160.8h0M628.5 23.8h0M569.1 61.8h0M571.2 133.9h0M642.3 63.9h0M723.7 113.3h0M546.8 241.7h0M576.3 229.7h0M581.7 88.1h0M601.6 116.7h0M676.1 17.8h0M715.2 60.3h0M575.1 180.2h0M661.3 238.3h0M592.5 50.2h0M573.3 53.9h0M592.8 172.6h0M527.7 99.4h0M705.9 211.9h0M568.5 197.9h0M584.4 158.0h0M546.3 240.7h0M676.6 160.8h0M755.6 280.8h0M682.9 53.4h0M538.8 103.9h0M667.1 318.5h0M638.4 26.0h0M742.0 110.1h0M664.2 105.3h0M652.1 18.0h0M612.8 61.6h0M547.0 215.1h0M677.4 136.2h0M569.2 59.7h0M656.0 177.1h0M737.6 296.1h0M671.2 117.8h0M715.0 39.1h0M649.1 266.2h0M574.7 63.7h0M753.5 79.8h0M599.6 197.7h0M820.8 191.8h0M715.9 270.0h0M602.0 220.3h0M716.6 270.1h0M732.0 311.1h0M695.4 51.2h0M707.3 138.4h0M540.2 181.2h0M773.5 152.5h0M674.6 115.6h0M633.9 187.0h0M609.2 209.9h0M708.9 233.2h0M663.8 239.8h0M788.2 232.5h0M735.8 49.8h0M723.8 287.8h0M524.5 211.4h0M777.0 208.4h0M669.8 183.5h0M685.1 120.1h0M583.6 186.2h0M687.9 299.8h0M771.8 291.3h0M735.3 208.3h0M669.4 226.0h0M705.7 62.3h0M800.7 115.4h0M691.2 144.4h0M534.8 87.8h0M778.2 108.0h0M731.4 57.2h0M794.3 197.2h0M708.3 23.2h0M609.8 194.1h0M733.9 43.4h0M803.4 92.4h0M554.3 196.5h0M685.5 225.7h0M549.4 247.5h0M647.6 29.9h0M748.1 303.4h0M821.4 150.3h0M789.9 115.1h0M549.4 177.4h0M780.5 265.7h0M788.0 161.6h0M547.2 219.3h0M697.3 81.2h0M555.9 230.5h0M602.5 227.5h0M670.5 307.7h0M800.5 107.1h0M554.0 158.3h0M735.4 72.5h0M593.2 131.8h0M771.6 278.8h0M708.2 243.9h0M799.4 76.2h0M748.0 136.3h0M567.7 149.1h0M791.3 171.3h0M598.0 95.9h0M577.2 162.3h0M777.8 153.0h0M768.6 142.2h0M615.0 307.5h0M598.6 121.5h0M702.3 154.5h0M553.4 157.5h0M602.6 307.3h0M588.7 148.9h0M569.7 136.2h0M719.9 149.2h0M598.8 75.2h0M632.3 246.7h0M782.3 260.0h0M690.8 311.1h0M803.5 240.3h0M686.0 38.1h0M520.5 152.8h0M649.0 42.3h0M695.3 172.0h0M771.0 124.1h0M719.0 152.5h0M616.2 205.7h0M716.2 29.9h0M764.8 209.2h0M762.0 302.3h0M799.1 265.0h0M580.9 128.7h0M555.8 220.2h0M651.3 185.7h0M634.2 181.4h0M648.8 180.6h0M684.1 195.0h0M563.4 281.3h0M558.3 116.1h0M572.1 95.1h0M604.2 251.5h0M660.3 107.7h0M694.4 97.7h0M739.4 283.6h0M600.9 47.0h0M759.2 292.8h0M595.8 73.9h0M706.8 317.0h0M601.4 232.3h0M771.3 192.4h0M667.4 197.0h0M686.2 53.7h0M689.9 197.5h0M738.6 121.8h0M805.6 151.3h0M603.5 238.2h0M516.0 143.8h0M717.0 289.5h0M711.0 22.0h0M794.0 71.8h0M520.4 130.9h0M736.2 189.1h0M687.1 89.4h0M826.4 128.6h0M598.6 49.3h0M691.6 167.1h0M728.2 300.5h0M754.7 64.8h0M650.8 301.4h0M533.2 244.4h0M639.0 296.1h0"/><g class="m"><circle cx="639.1" cy="190.0" r="5.7" class="c39"/><circle cx="689.2" cy="142.5" r="5.7" class="c39"/><circle cx="696.1" cy="198.7" r="5.7" class="c39"/><circle cx="650.8" cy="171.3" r="5.7" class="c39"/><circle cx="647.3" cy="171.4" r="5.7" class="c39"/><circle cx="677.2" cy="147.6" r="5.7" class="c39"/><circle cx="649.5" cy="180.9" r="5.7" class="c38"/><circle cx="659.2" cy="207.7" r="5.7" class="c39"/><circle cx="672.7" cy="166.2" r="5.7" class="c38"/><circle cx="681.2" cy="197.0" r="5.7" class="c39"/><circle cx="636.6" cy="195.6" r="5.7" class="c38"/><circle cx="672.2" cy="195.3" r="5.7" class="c39"/><circle cx="633.6" cy="159.6" r="5.7" class="c38"/><circle cx="661.7" cy="140.9" r="5.7" class="c39"/><circle cx="638.3" cy="179.9" r="5.7" class="c38"/><circle cx="691.0" cy="169.1" r="5.7" class="c37"/><circle cx="649.6" cy="175.6" r="5.7" class="c39"/><circle cx="649.4" cy="158.0" r="5.7" class="c39"/><circle cx="649.3" cy="173.9" r="5.7" class="c38"/><circle cx="682.5" cy="192.0" r="5.7" class="c39"/><circle cx="651.4" cy="180.4" r="5.7" class="c38"/><circle cx="689.4" cy="183.7" r="5.7" class="c39"/><circle cx="641.4" cy="171.0" r="5.7" class="c39"/><circle cx="667.6" cy="138.8" r="5.7" class="c38"/><circle cx="664.1" cy="131.7" r="5.7" class="c38"/><circle cx="656.3" cy="148.6" r="5.7" class="c39"/><circle cx="638.6" cy="189.7" r="5.7" class="c38"/><circle cx="656.2" cy="130.2" r="5.7" class="c38"/><circle cx="641.6" cy="174.7" r="5.7" class="c38"/><circle cx="619.2" cy="189.6" r="5.7" class="c39"/><circle cx="632.6" cy="168.7" r="5.7" class="c37"/><circle cx="683.9" cy="163.1" r="5.7" class="c38"/><circle cx="636.1" cy="144.2" r="5.7" class="c39"/><circle cx="658.6" cy="187.7" r="5.7" class="c38"/><circle cx="664.3" cy="177.1" r="5.7" class="c39"/><circle cx="645.6" cy="158.5" r="5.7" class="c39"/><circle cx="629.1" cy="156.6" r="5.7" class="c39"/><circle cx="626.9" cy="166.8" r="5.7" class="c39"/><circle cx="657.6" cy="172.6" r="5.7" class="c38"/><circle cx="656.8" cy="180.6" r="5.7" class="c38"/><circle cx="654.2" cy="192.5" r="5.7" class="c38"/><circle cx="667.7" cy="134.2" r="5.7" class="c39"/><circle cx="665.7" cy="163.6" r="5.7" class="c39"/><circle cx="687.6" cy="198.7" r="5.7" class="c38"/><circle cx="692.8" cy="182.7" r="5.7" class="c39"/><circle cx="621.4" cy="184.8" r="5.7" class="c39"/><circle cx="650.4" cy="195.5" r="5.7" class="c39"/><circle cx="667.9" cy="175.8" r="5.7" class="c39"/><circle cx="668.0" cy="189.7" r="5.7" class="c39"/><circle cx="624.0" cy="184.6" r="5.7" class="c38"/><circle cx="653.5" cy="137.5" r="5.7" class="c38"/><circle cx="664.6" cy="170.7" r="5.7" class="c38"/><circle cx="656.8" cy="160.6" r="5.7" class="c38"/><circle cx="645.2" cy="141.8" r="5.7" class="c38"/><circle cx="671.2" cy="183.8" r="5.7" class="c38"/><circle cx="672.6" cy="183.6" r="5.7" class="c39"/><circle cx="643.0" cy="160.9" r="5.7" class="c39"/><circle cx="667.0" cy="174.9" r="5.7" class="c38"/><circle cx="646.7" cy="158.7" r="5.7" class="c38"/><circle cx="655.9" cy="171.7" r="5.7" class="c39"/><circle cx="661.7" cy="200.8" r="5.7" class="c39"/><circle cx="668.3" cy="201.4" r="5.7" class="c38"/><circle cx="698.7" cy="193.2" r="5.7" class="c39"/><circle cx="699.8" cy="165.7" r="5.7" class="c38"/><circle cx="659.7" cy="177.2" r="5.7" class="c38"/><circle cx="658.7" cy="197.6" r="5.7" class="c39"/><circle cx="661.5" cy="175.2" r="5.7" class="c39"/><circle cx="684.3" cy="172.5" r="5.7" class="c38"/><circle cx="684.4" cy="148.7" r="5.7" class="c38"/><circle cx="660.3" cy="161.6" r="5.7" class="c39"/><circle cx="667.5" cy="146.3" r="5.7" class="c38"/><circle cx="665.9" cy="179.9" r="5.7" class="c39"/><circle cx="696.7" cy="183.2" r="5.7" class="c38"/><circle cx="680.5" cy="168.3" r="5.7" class="c38"/><circle cx="657.9" cy="147.5" r="5.7" class="c39"/><circle cx="673.7" cy="196.3" r="5.7" class="c38"/><circle cx="669.5" cy="211.7" r="5.7" class="c38"/><circle cx="656.4" cy="175.4" r="5.7" class="c38"/><circle cx="667.0" cy="172.7" r="5.7" class="c38"/><circle cx="668.0" cy="184.3" r="5.7" class="c37"/><circle cx="655.1" cy="155.0" r="5.7" class="c38"/><circle cx="638.6" cy="182.1" r="5.7" class="c38"/><circle cx="675.1" cy="212.9" r="5.7" class="c38"/><circle cx="688.6" cy="167.5" r="5.7" class="c38"/><circle cx="683.8" cy="166.6" r="5.7" class="c38"/><circle cx="655.2" cy="183.2" r="5.7" class="c38"/><circle cx="670.4" cy="177.1" r="5.7" class="c39"/><circle cx="674.3" cy="196.0" r="5.7" class="c38"/><circle cx="640.6" cy="161.8" r="5.7" class="c39"/><circle cx="658.6" cy="169.8" r="5.7" class="c39"/><circle cx="631.6" cy="155.1" r="5.7" class="c39"/><circle cx="678.2" cy="208.7" r="5.7" class="c38"/><circle cx="700.8" cy="165.6" r="5.7" class="c38"/><circle cx="685.1" cy="146.6" r="5.7" class="c38"/><circle cx="674.6" cy="196.5" r="5.7" class="c39"/><circle cx="642.7" cy="172.3" r="5.7" class="c38"/><circle cx="675.0" cy="188.9" r="5.7" class="c39"/><circle cx="676.9" cy="154.7" r="5.7" class="c39"/><circle cx="625.1" cy="162.7" r="5.7" class="c38"/><circle cx="636.0" cy="213.0" r="5.7" class="c39"/><circle cx="664.1" cy="144.0" r="5.7" class="c39"/><circle cx="666.8" cy="141.8" r="5.7" class="c37"/><circle cx="664.4" cy="146.5" r="5.7" class="c38"/><circle cx="685.4" cy="179.6" r="5.7" class="c38"/><circle cx="636.9" cy="174.6" r="5.7" class="c39"/><circle cx="622.5" cy="150.3" r="5.7" class="c38"/><circle cx="635.4" cy="189.4" r="5.7" class="c38"/><circle cx="662.5" cy="153.9" r="5.7" class="c38"/><circle cx="670.9" cy="179.7" r="5.7" class="c38"/><circle cx="674.5" cy="197.4" r="5.7" class="c39"/><circle cx="648.1" cy="179.8" r="5.7" class="c38"/><circle cx="638.4" cy="170.2" r="5.7" class="c38"/><circle cx="707.5" cy="164.1" r="5.7" class="c38"/><circle cx="657.8" cy="192.3" r="5.7" class="c38"/><circle cx="641.5" cy="178.1" r="5.7" class="c38"/><circle cx="676.0" cy="207.4" r="5.7" class="c38"/><circle cx="652.4" cy="196.4" r="5.7" class="c38"/><circle cx="635.8" cy="145.0" r="5.7" class="c39"/><circle cx="665.4" cy="169.8" r="5.7" class="c39"/><circle cx="676.8" cy="156.7" r="5.7" class="c39"/><circle cx="668.3" cy="151.7" r="5.7" class="c38"/><circle cx="647.2" cy="175.9" r="5.7" class="c38"/><circle cx="673.6" cy="165.6" r="5.7" class="c39"/><circle cx="659.3" cy="182.8" r="5.7" class="c39"/><circle cx="673.7" cy="185.1" r="5.7" class="c38"/><circle cx="628.7" cy="178.0" r="5.7" class="c39"/><circle cx="669.2" cy="140.5" r="5.7" class="c38"/><circle cx="640.7" cy="180.3" r="5.7" class="c38"/><circle cx="620.7" cy="198.3" r="5.7" class="c37"/><circle cx="653.9" cy="173.1" r="5.7" class="c38"/><circle cx="688.0" cy="180.0" r="5.7" class="c38"/><circle cx="685.6" cy="172.4" r="5.7" class="c39"/><circle cx="669.7" cy="174.8" r="5.7" class="c38"/><circle cx="674.6" cy="197.9" r="5.7" class="c39"/><circle cx="630.7" cy="212.0" r="5.7" class="c39"/><circle cx="650.4" cy="213.5" r="5.7" class="c38"/><circle cx="634.3" cy="140.4" r="5.7" class="c38"/><circle cx="672.2" cy="160.2" r="5.7" class="c39"/><circle cx="636.0" cy="174.8" r="5.7" class="c38"/><circle cx="666.1" cy="157.7" r="5.7" class="c39"/><circle cx="668.4" cy="174.6" r="5.7" class="c38"/><circle cx="626.8" cy="157.4" r="5.7" class="c38"/><circle cx="657.1" cy="185.4" r="5.7" class="c39"/><circle cx="637.8" cy="193.0" r="5.7" class="c39"/><circle cx="652.0" cy="200.9" r="5.7" class="c38"/><circle cx="674.7" cy="215.7" r="5.7" class="c38"/><circle cx="661.0" cy="160.1" r="5.7" class="c39"/><circle cx="631.2" cy="193.9" r="5.7" class="c38"/><circle cx="653.8" cy="138.8" r="5.7" class="c38"/><circle cx="637.4" cy="169.2" r="5.7" class="c39"/><circle cx="687.7" cy="164.1" r="5.7" class="c38"/><circle cx="661.2" cy="161.4" r="5.7" class="c39"/><circle cx="625.4" cy="148.3" r="5.7" class="c39"/><circle cx="643.5" cy="185.2" r="5.7" class="c39"/><circle cx="706.6" cy="185.5" r="5.7" class="c38"/><circle cx="679.0" cy="179.5" r="5.7" class="c39"/><circle cx="680.1" cy="145.3" r="5.7" class="c38"/><circle cx="638.3" cy="181.8" r="5.7" class="c39"/><circle cx="634.1" cy="207.8" r="5.7" class="c38"/><circle cx="693.9" cy="158.7" r="5.7" class="c38"/><circle cx="670.1" cy="189.0" r="5.7" class="c39"/><circle cx="654.7" cy="142.1" r="5.7" class="c38"/><circle cx="665.7" cy="161.8" r="5.7" class="c39"/><circle cx="678.5" cy="172.3" r="5.7" class="c39"/><circle cx="657.5" cy="194.8" r="5.7" class="c39"/><circle cx="667.6" cy="131.2" r="5.7" class="c38"/><circle cx="674.6" cy="196.9" r="5.7" class="c39"/><circle cx="636.1" cy="200.2" r="5.7" class="c37"/><circle cx="635.9" cy="161.5" r="5.7" class="c38"/><circle cx="649.5" cy="208.7" r="5.7" class="c39"/><circle cx="672.6" cy="184.7" r="5.7" class="c39"/><circle cx="665.3" cy="170.7" r="5.7" class="c38"/><circle cx="616.1" cy="180.5" r="5.7" class="c39"/><circle cx="635.4" cy="196.0" r="5.7" class="c38"/><circle cx="655.5" cy="176.8" r="5.7" class="c38"/><circle cx="645.4" cy="182.1" r="5.7" class="c38"/><circle cx="656.8" cy="191.2" r="5.7" class="c39"/><circle cx="657.6" cy="145.4" r="5.7" class="c39"/><circle cx="692.3" cy="209.8" r="5.7" class="c37"/><circle cx="639.8" cy="173.2" r="5.7" class="c38"/><circle cx="684.8" cy="178.9" r="5.7" class="c39"/><circle cx="658.8" cy="138.9" r="5.7" class="c39"/><circle cx="654.2" cy="162.7" r="5.7" class="c39"/><circle cx="647.2" cy="193.8" r="5.7" class="c38"/><circle cx="651.5" cy="169.2" r="5.7" class="c39"/><circle cx="706.2" cy="167.0" r="5.7" class="c39"/><circle cx="693.2" cy="163.8" r="5.7" class="c37"/><circle cx="643.6" cy="192.2" r="5.7" class="c39"/><circle cx="662.1" cy="201.4" r="5.7" class="c39"/><circle cx="669.5" cy="181.2" r="5.7" class="c38"/><circle cx="703.4" cy="189.5" r="5.7" class="c38"/><circle cx="674.0" cy="200.0" r="5.7" class="c39"/><circle cx="696.9" cy="195.1" r="5.7" class="c38"/><circle cx="632.1" cy="211.6" r="5.7" class="c39"/><circle cx="660.1" cy="194.8" r="5.7" class="c39"/><circle cx="653.6" cy="153.2" r="5.7" class="c38"/><circle cx="644.4" cy="153.6" r="5.7" class="c39"/><circle cx="680.5" cy="191.6" r="5.7" class="c38"/><circle cx="679.8" cy="179.5" r="5.7" class="c38"/><circle cx="664.1" cy="169.9" r="5.7" class="c38"/><circle cx="630.3" cy="148.2" r="5.7" class="c39"/><circle cx="691.4" cy="179.3" r="5.7" class="c39"/><circle cx="666.8" cy="153.6" r="5.7" class="c39"/><circle cx="639.0" cy="164.1" r="5.7" class="c38"/><circle cx="668.6" cy="196.9" r="5.7" class="c38"/><circle cx="654.2" cy="173.9" r="5.7" class="c38"/><circle cx="662.4" cy="185.1" r="5.7" class="c39"/><circle cx="649.2" cy="189.6" r="5.7" class="c37"/><circle cx="641.9" cy="198.1" r="5.7" class="c39"/><circle cx="680.7" cy="174.6" r="5.7" class="c39"/><circle cx="670.6" cy="154.9" r="5.7" class="c39"/><circle cx="658.2" cy="192.5" r="5.7" class="c38"/><circle cx="630.5" cy="172.3" r="5.7" class="c38"/><circle cx="685.4" cy="132.6" r="5.7" class="c37"/><circle cx="688.8" cy="158.1" r="5.7" class="c38"/><circle cx="669.2" cy="186.7" r="5.7" class="c39"/><circle cx="663.5" cy="159.0" r="5.7" class="c38"/><circle cx="697.5" cy="179.3" r="5.7" class="c39"/><circle cx="675.1" cy="169.5" r="5.7" class="c38"/><circle cx="676.0" cy="195.8" r="5.7" class="c39"/><circle cx="707.1" cy="172.5" r="5.7" class="c38"/><circle cx="646.9" cy="219.1" r="5.7" class="c39"/><circle cx="660.0" cy="152.9" r="5.7" class="c38"/><circle cx="679.2" cy="194.5" r="5.7" class="c38"/><circle cx="685.5" cy="171.0" r="5.7" class="c38"/><circle cx="660.6" cy="186.8" r="5.7" class="c38"/><circle cx="641.7" cy="184.5" r="5.7" class="c38"/><circle cx="669.6" cy="149.3" r="5.7" class="c39"/><circle cx="672.1" cy="162.3" r="5.7" class="c39"/><circle cx="664.9" cy="160.1" r="5.7" class="c38"/><circle cx="671.2" cy="185.0" r="5.7" class="c39"/><circle cx="671.3" cy="172.9" r="5.7" class="c39"/><circle cx="667.5" cy="172.6" r="5.7" class="c39"/><circle cx="618.1" cy="149.5" r="5.7" class="c37"/><circle cx="661.4" cy="158.7" r="5.7" class="c39"/><circle cx="648.3" cy="171.3" r="5.7" class="c38"/><circle cx="675.9" cy="214.0" r="5.7" class="c39"/><circle cx="652.7" cy="157.9" r="5.7" class="c39"/><circle cx="667.5" cy="132.9" r="5.7" class="c38"/><circle cx="662.1" cy="166.4" r="5.7" class="c39"/><circle cx="663.9" cy="192.6" r="5.7" class="c38"/><circle cx="678.6" cy="166.7" r="5.7" class="c38"/><circle cx="665.1" cy="179.2" r="5.7" class="c38"/><circle cx="655.4" cy="171.4" r="5.7" class="c39"/><circle cx="672.9" cy="182.7" r="5.7" class="c39"/><circle cx="688.9" cy="150.7" r="5.7" class="c38"/><circle cx="618.6" cy="176.7" r="5.7" class="c38"/><circle cx="640.4" cy="169.8" r="5.7" class="c38"/><circle cx="697.9" cy="201.2" r="5.7" class="c39"/><circle cx="671.4" cy="170.7" r="5.7" class="c38"/><circle cx="638.0" cy="168.0" r="5.7" class="c39"/><circle cx="700.7" cy="166.5" r="5.7" class="c37"/><circle cx="670.9" cy="158.2" r="5.7" class="c39"/><circle cx="624.6" cy="187.5" r="5.7" class="c38"/><circle cx="655.2" cy="159.4" r="5.7" class="c38"/><circle cx="658.0" cy="173.4" r="5.7" class="c39"/><circle cx="672.3" cy="140.5" r="5.7" class="c38"/><circle cx="657.4" cy="153.7" r="5.7" class="c38"/><circle cx="668.9" cy="152.6" r="5.7" class="c39"/><circle cx="681.6" cy="173.9" r="5.7" class="c39"/><circle cx="686.7" cy="154.4" r="5.7" class="c38"/><circle cx="666.3" cy="164.9" r="5.7" class="c39"/><circle cx="644.1" cy="152.8" r="5.7" class="c38"/><circle cx="652.2" cy="173.1" r="5.7" class="c38"/><circle cx="656.0" cy="204.2" r="5.7" class="c39"/><circle cx="658.7" cy="199.6" r="5.7" class="c39"/><circle cx="619.9" cy="191.8" r="5.7" class="c38"/><circle cx="643.4" cy="184.8" r="5.7" class="c38"/><circle cx="686.7" cy="162.7" r="5.7" class="c39"/><circle cx="694.8" cy="174.3" r="5.7" class="c38"/><circle cx="664.8" cy="187.8" r="5.7" class="c39"/><circle cx="674.3" cy="145.8" r="5.7" class="c39"/><circle cx="662.3" cy="172.2" r="5.7" class="c39"/><circle cx="695.9" cy="184.6" r="5.7" class="c39"/><circle cx="642.5" cy="211.2" r="5.7" class="c38"/><circle cx="665.1" cy="195.2" r="5.7" class="c39"/><circle cx="675.1" cy="188.0" r="5.7" class="c38"/><circle cx="648.8" cy="188.0" r="5.7" class="c39"/><circle cx="682.2" cy="159.1" r="5.7" class="c38"/><circle cx="673.4" cy="175.6" r="5.7" class="c39"/><circle cx="627.4" cy="203.5" r="5.7" class="c39"/><circle cx="672.7" cy="206.2" r="5.7" class="c37"/><circle cx="678.9" cy="165.2" r="5.7" class="c39"/><circle cx="693.1" cy="148.1" r="5.7" class="c38"/><circle cx="697.6" cy="171.2" r="5.7" class="c38"/><circle cx="700.1" cy="201.8" r="5.7" class="c37"/><circle cx="634.1" cy="163.4" r="5.7" class="c39"/><circle cx="644.5" cy="171.5" r="5.7" class="c39"/><circle cx="658.1" cy="163.2" r="5.7" class="c39"/><circle cx="657.6" cy="145.4" r="5.7" class="c38"/><circle cx="639.7" cy="170.2" r="5.7" class="c39"/><circle cx="645.9" cy="168.8" r="5.7" class="c38"/><circle cx="628.9" cy="166.5" r="5.7" class="c39"/><circle cx="667.0" cy="193.5" r="5.7" class="c39"/><circle cx="631.4" cy="193.4" r="5.7" class="c39"/><circle cx="662.6" cy="203.0" r="5.7" class="c38"/><circle cx="672.2" cy="149.7" r="5.7" class="c38"/><circle cx="646.1" cy="200.4" r="5.7" class="c38"/><circle cx="635.3" cy="137.3" r="5.7" class="c39"/><circle cx="665.1" cy="174.6" r="5.7" class="c39"/><circle cx="662.5" cy="180.8" r="5.7" class="c39"/><circle cx="638.9" cy="195.8" r="5.7" class="c37"/><circle cx="644.1" cy="184.3" r="5.7" class="c39"/><circle cx="622.8" cy="156.7" r="5.7" class="c38"/><circle cx="666.9" cy="166.3" r="5.7" class="c39"/><circle cx="619.4" cy="172.0" r="5.7" class="c39"/><circle cx="663.0" cy="194.4" r="5.7" class="c38"/><circle cx="661.4" cy="178.0" r="5.7" class="c38"/><circle cx="674.5" cy="144.0" r="5.7" class="c39"/><circle cx="672.2" cy="134.6" r="5.7" class="c39"/><circle cx="645.9" cy="148.9" r="5.7" class="c38"/><circle cx="664.8" cy="174.3" r="5.7" class="c39"/><circle cx="684.5" cy="211.4" r="5.7" class="c39"/><circle cx="672.6" cy="144.3" r="5.7" class="c38"/><circle cx="648.2" cy="155.3" r="5.7" class="c39"/><circle cx="666.0" cy="168.4" r="5.7" class="c39"/><circle cx="687.8" cy="165.3" r="5.7" class="c39"/><circle cx="634.8" cy="168.9" r="5.7" class="c38"/><circle cx="661.1" cy="165.6" r="5.7" class="c39"/><circle cx="653.0" cy="170.2" r="5.7" class="c39"/><circle cx="649.7" cy="156.0" r="5.7" class="c38"/><circle cx="655.9" cy="180.8" r="5.7" class="c39"/><circle cx="692.2" cy="197.7" r="5.7" class="c39"/><circle cx="705.2" cy="154.2" r="5.7" class="c39"/><circle cx="658.1" cy="155.2" r="5.7" class="c38"/><circle cx="642.0" cy="202.5" r="5.7" class="c38"/><circle cx="684.5" cy="173.6" r="5.7" class="c38"/><circle cx="661.5" cy="162.2" r="5.7" class="c39"/><circle cx="671.2" cy="179.9" r="5.7" class="c39"/><circle cx="667.2" cy="178.2" r="5.7" class="c38"/><circle cx="677.8" cy="136.0" r="5.7" class="c38"/><circle cx="676.2" cy="204.4" r="5.7" class="c38"/><circle cx="675.2" cy="149.5" r="5.7" class="c39"/><circle cx="656.4" cy="156.8" r="5.7" class="c39"/><circle cx="622.8" cy="193.7" r="5.7" class="c38"/><circle cx="680.7" cy="176.1" r="5.7" class="c39"/><circle cx="640.1" cy="212.9" r="5.7" class="c38"/><circle cx="650.2" cy="195.6" r="5.7" class="c39"/><circle cx="652.1" cy="218.6" r="5.7" class="c38"/><circle cx="624.4" cy="169.5" r="5.7" class="c38"/><circle cx="690.5" cy="182.8" r="5.7" class="c37"/><circle cx="658.3" cy="203.0" r="5.7" class="c39"/><circle cx="654.7" cy="177.1" r="5.7" class="c39"/><circle cx="669.8" cy="192.1" r="5.7" class="c38"/><circle cx="644.1" cy="161.8" r="5.7" class="c38"/><circle cx="662.7" cy="140.3" r="5.7" class="c38"/><circle cx="645.2" cy="192.0" r="5.7" class="c38"/><circle cx="654.6" cy="165.1" r="5.7" class="c39"/><circle cx="687.8" cy="144.2" r="5.7" class="c39"/><circle cx="661.7" cy="164.0" r="5.7" class="c39"/><circle cx="630.7" cy="156.7" r="5.7" class="c39"/><circle cx="687.2" cy="157.2" r="5.7" class="c38"/><circle cx="657.3" cy="183.0" r="5.7" class="c38"/><circle cx="675.6" cy="162.5" r="5.7" class="c39"/><circle cx="677.3" cy="201.4" r="5.7" class="c38"/><circle cx="646.1" cy="164.2" r="5.7" class="c39"/><circle cx="639.9" cy="165.5" r="5.7" class="c38"/><circle cx="638.6" cy="212.1" r="5.7" class="c39"/><circle cx="688.8" cy="150.6" r="5.7" class="c39"/><circle cx="646.2" cy="164.0" r="5.7" class="c39"/><circle cx="650.6" cy="203.2" r="5.7" class="c39"/><circle cx="695.0" cy="164.2" r="5.7" class="c39"/><circle cx="633.8" cy="195.6" r="5.7" class="c39"/><circle cx="659.2" cy="165.3" r="5.7" class="c39"/><circle cx="676.5" cy="199.3" r="5.7" class="c39"/><circle cx="681.1" cy="165.6" r="5.7" class="c39"/><circle cx="646.7" cy="192.7" r="5.7" class="c39"/><circle cx="643.8" cy="188.6" r="5.7" class="c39"/><circle cx="627.0" cy="166.9" r="5.7" class="c38"/><circle cx="654.0" cy="169.4" r="5.7" class="c39"/><circle cx="651.3" cy="182.5" r="5.7" class="c37"/><circle cx="659.9" cy="185.4" r="5.7" class="c38"/><circle cx="658.9" cy="164.2" r="5.7" class="c38"/><circle cx="686.2" cy="155.8" r="5.7" class="c39"/><circle cx="649.0" cy="180.5" r="5.7" class="c38"/><circle cx="644.1" cy="167.4" r="5.7" class="c39"/><circle cx="642.7" cy="130.1" r="5.7" class="c39"/><circle cx="695.3" cy="202.8" r="5.7" class="c39"/><circle cx="652.1" cy="157.8" r="5.7" class="c38"/><circle cx="664.3" cy="160.5" r="5.7" class="c38"/><circle cx="622.6" cy="187.8" r="5.7" class="c38"/><circle cx="688.6" cy="141.2" r="5.7" class="c39"/><circle cx="645.8" cy="173.6" r="5.7" class="c38"/><circle cx="662.1" cy="148.3" r="5.7" class="c38"/><circle cx="640.2" cy="173.8" r="5.7" class="c38"/><circle cx="689.0" cy="183.3" r="5.7" class="c39"/><circle cx="643.2" cy="177.5" r="5.7" class="c38"/><circle cx="649.8" cy="164.2" r="5.7" class="c39"/><circle cx="648.3" cy="192.2" r="5.7" class="c37"/><circle cx="657.1" cy="182.3" r="5.7" class="c39"/><circle cx="662.6" cy="158.6" r="5.7" class="c39"/><circle cx="677.4" cy="163.1" r="5.7" class="c38"/><circle cx="673.6" cy="142.0" r="5.7" class="c38"/><circle cx="693.5" cy="173.6" r="5.7" class="c39"/><circle cx="701.7" cy="170.4" r="5.7" class="c39"/><circle cx="700.0" cy="165.2" r="5.7" class="c39"/><circle cx="652.0" cy="130.8" r="5.7" class="c38"/><circle cx="637.8" cy="165.4" r="5.7" class="c39"/><circle cx="649.7" cy="195.8" r="5.7" class="c39"/><circle cx="645.1" cy="150.6" r="5.7" class="c39"/><circle cx="645.3" cy="201.0" r="5.7" class="c38"/><circle cx="677.4" cy="166.3" r="5.7" class="c38"/><circle cx="660.5" cy="187.8" r="5.7" class="c39"/><circle cx="671.7" cy="139.7" r="5.7" class="c39"/><circle cx="678.8" cy="147.6" r="5.7" class="c39"/><circle cx="662.2" cy="183.2" r="5.7" class="c37"/><circle cx="663.2" cy="171.4" r="5.7" class="c39"/><circle cx="664.1" cy="156.4" r="5.7" class="c38"/><circle cx="618.3" cy="182.4" r="5.7" class="c38"/><circle cx="661.8" cy="198.6" r="5.7" class="c38"/><circle cx="664.2" cy="172.7" r="5.7" class="c39"/><circle cx="633.5" cy="135.5" r="5.7" class="c38"/><circle cx="647.5" cy="149.6" r="5.7" class="c38"/><circle cx="653.9" cy="183.6" r="5.7" class="c39"/><circle cx="662.6" cy="138.5" r="5.7" class="c38"/><circle cx="660.1" cy="175.3" r="5.7" class="c38"/><circle cx="655.9" cy="189.0" r="5.7" class="c38"/><circle cx="676.4" cy="135.4" r="5.7" class="c39"/><circle cx="656.1" cy="187.7" r="5.7" class="c38"/><circle cx="651.9" cy="170.8" r="5.7" class="c38"/><circle cx="668.3" cy="149.5" r="5.7" class="c38"/><circle cx="674.5" cy="163.4" r="5.7" class="c38"/><circle cx="676.5" cy="190.6" r="5.7" class="c37"/><circle cx="671.7" cy="190.1" r="5.7" class="c38"/><circle cx="670.9" cy="182.8" r="5.7" class="c39"/><circle cx="668.9" cy="177.5" r="5.7" class="c38"/><circle cx="642.3" cy="157.3" r="5.7" class="c39"/><circle cx="678.4" cy="181.4" r="5.7" class="c39"/><circle cx="645.1" cy="155.8" r="5.7" class="c38"/><circle cx="634.3" cy="174.1" r="5.7" class="c37"/><circle cx="644.5" cy="167.9" r="5.7" class="c38"/><circle cx="641.4" cy="166.1" r="5.7" class="c38"/><circle cx="687.9" cy="177.5" r="5.7" class="c39"/><circle cx="659.1" cy="167.5" r="5.7" class="c38"/><circle cx="634.5" cy="164.6" r="5.7" class="c38"/><circle cx="631.8" cy="162.2" r="5.7" class="c39"/><circle cx="635.1" cy="176.4" r="5.7" class="c38"/><circle cx="650.1" cy="173.6" r="5.7" class="c39"/><circle cx="668.1" cy="201.2" r="5.7" class="c38"/><circle cx="670.9" cy="142.3" r="5.7" class="c39"/><circle cx="675.8" cy="186.4" r="5.7" class="c38"/><circle cx="637.3" cy="181.0" r="5.7" class="c38"/><circle cx="671.8" cy="150.3" r="5.7" class="c38"/><circle cx="681.6" cy="175.9" r="5.7" class="c39"/><circle cx="679.8" cy="210.6" r="5.7" class="c37"/><circle cx="668.4" cy="181.8" r="5.7" class="c38"/><circle cx="631.4" cy="155.7" r="5.7" class="c39"/><circle cx="661.8" cy="199.5" r="5.7" class="c39"/><circle cx="671.8" cy="172.5" r="5.7" class="c39"/><circle cx="687.0" cy="161.7" r="5.7" class="c38"/><circle cx="633.3" cy="163.1" r="5.7" class="c38"/><circle cx="664.0" cy="178.5" r="5.7" class="c37"/><circle cx="676.6" cy="195.2" r="5.7" class="c37"/><circle cx="659.5" cy="180.0" r="5.7" class="c38"/><circle cx="662.3" cy="183.4" r="5.7" class="c39"/><circle cx="645.1" cy="215.4" r="5.7" class="c38"/><circle cx="630.3" cy="191.2" r="5.7" class="c39"/><circle cx="627.9" cy="178.4" r="5.7" class="c37"/><circle cx="661.3" cy="174.4" r="5.7" class="c39"/><circle cx="674.4" cy="174.0" r="5.7" class="c39"/><circle cx="677.6" cy="166.3" r="5.7" class="c39"/><circle cx="651.5" cy="144.8" r="5.7" class="c39"/><circle cx="674.7" cy="193.8" r="5.7" class="c39"/><circle cx="694.8" cy="160.7" r="5.7" class="c39"/><circle cx="681.2" cy="149.5" r="5.7" class="c39"/><circle cx="651.1" cy="170.1" r="5.7" class="c39"/><circle cx="625.8" cy="208.9" r="5.7" class="c38"/><circle cx="685.1" cy="172.9" r="5.7" class="c39"/><circle cx="666.4" cy="158.0" r="5.7" class="c39"/><circle cx="658.6" cy="140.5" r="5.7" class="c39"/><circle cx="643.0" cy="208.2" r="5.7" class="c38"/><circle cx="655.9" cy="155.0" r="5.7" class="c38"/><circle cx="668.7" cy="183.4" r="5.7" class="c39"/><circle cx="670.9" cy="181.4" r="5.7" class="c38"/><circle cx="676.3" cy="160.4" r="5.7" class="c39"/><circle cx="672.2" cy="171.9" r="5.7" class="c39"/><circle cx="637.1" cy="138.7" r="5.7" class="c38"/><circle cx="687.1" cy="164.0" r="5.7" class="c39"/><circle cx="663.7" cy="159.1" r="5.7" class="c39"/><circle cx="670.0" cy="159.8" r="5.7" class="c39"/><circle cx="652.3" cy="165.9" r="5.7" class="c38"/><circle cx="670.5" cy="170.8" r="5.7" class="c39"/><circle cx="669.9" cy="195.2" r="5.7" class="c38"/><circle cx="655.9" cy="171.5" r="5.7" class="c39"/><circle cx="712.2" cy="164.7" r="5.7" class="c39"/><circle cx="648.4" cy="165.0" r="5.7" class="c38"/><circle cx="682.5" cy="191.1" r="5.7" class="c39"/><circle cx="643.4" cy="179.1" r="5.7" class="c39"/><circle cx="665.4" cy="182.7" r="5.7" class="c38"/><circle cx="671.6" cy="166.1" r="5.7" class="c39"/><circle cx="685.3" cy="209.0" r="5.7" class="c38"/><circle cx="653.4" cy="176.8" r="5.7" class="c39"/><circle cx="653.9" cy="201.3" r="5.7" class="c38"/><circle cx="658.7" cy="150.6" r="5.7" class="c38"/><circle cx="654.0" cy="178.4" r="5.7" class="c38"/><circle cx="671.8" cy="219.6" r="5.7" class="c39"/><circle cx="683.3" cy="171.2" r="5.7" class="c37"/><circle cx="688.6" cy="188.8" r="5.7" class="c39"/><circle cx="651.5" cy="201.4" r="5.7" class="c39"/><circle cx="658.5" cy="180.2" r="5.7" class="c38"/><circle cx="633.5" cy="181.4" r="5.7" class="c37"/><circle cx="663.8" cy="175.9" r="5.7" class="c39"/><circle cx="675.0" cy="175.7" r="5.7" class="c39"/><circle cx="638.9" cy="165.6" r="5.7" class="c38"/><circle cx="667.6" cy="161.0" r="5.7" class="c39"/><circle cx="647.6" cy="178.7" r="5.7" class="c38"/><circle cx="643.9" cy="170.6" r="5.7" class="c39"/><circle cx="681.2" cy="149.7" r="5.7" class="c38"/><circle cx="659.0" cy="178.7" r="5.7" class="c38"/><circle cx="669.4" cy="190.5" r="5.7" class="c38"/><circle cx="650.2" cy="179.7" r="5.7" class="c39"/><circle cx="647.2" cy="162.6" r="5.7" class="c39"/><circle cx="679.7" cy="219.3" r="5.7" class="c39"/><circle cx="622.8" cy="149.3" r="5.7" class="c38"/><circle cx="678.9" cy="192.6" r="5.7" class="c39"/><circle cx="656.4" cy="151.9" r="5.7" class="c38"/><circle cx="645.7" cy="202.4" r="5.7" class="c39"/><circle cx="655.2" cy="209.2" r="5.7" class="c39"/><circle cx="649.5" cy="206.2" r="5.7" class="c39"/><circle cx="659.1" cy="196.5" r="5.7" class="c37"/><circle cx="676.3" cy="191.6" r="5.7" class="c38"/><circle cx="652.2" cy="178.9" r="5.7" class="c39"/><circle cx="701.0" cy="168.3" r="5.7" class="c39"/><circle cx="676.9" cy="160.2" r="5.7" class="c39"/><circle cx="654.1" cy="157.5" r="5.7" class="c39"/><circle cx="658.2" cy="179.5" r="5.7" class="c39"/><circle cx="651.3" cy="148.1" r="5.7" class="c38"/><circle cx="639.0" cy="135.0" r="5.7" class="c38"/><circle cx="659.3" cy="153.2" r="5.7" class="c37"/><circle cx="687.8" cy="199.4" r="5.7" class="c39"/><circle cx="640.0" cy="187.2" r="5.7" class="c38"/><circle cx="650.7" cy="143.7" r="5.7" class="c39"/><circle cx="693.9" cy="162.6" r="5.7" class="c39"/><circle cx="636.8" cy="168.8" r="5.7" class="c39"/><circle cx="636.5" cy="179.2" r="5.7" class="c38"/><circle cx="636.2" cy="187.0" r="5.7" class="c38"/><circle cx="614.1" cy="200.5" r="5.7" class="c38"/><circle cx="663.0" cy="155.6" r="5.7" class="c39"/><circle cx="666.5" cy="206.2" r="5.7" class="c39"/><circle cx="651.7" cy="140.4" r="5.7" class="c37"/><circle cx="668.2" cy="153.3" r="5.7" class="c38"/><circle cx="666.8" cy="146.5" r="5.7" class="c37"/><circle cx="639.9" cy="187.2" r="5.7" class="c39"/><circle cx="665.0" cy="176.6" r="5.7" class="c39"/><circle cx="683.2" cy="200.0" r="5.7" class="c38"/><circle cx="652.6" cy="181.8" r="5.7" class="c37"/><circle cx="671.1" cy="173.6" r="5.7" class="c38"/><circle cx="654.6" cy="154.9" r="5.7" class="c39"/><circle cx="656.4" cy="139.3" r="5.7" class="c39"/><circle cx="678.9" cy="155.8" r="5.7" class="c38"/><circle cx="687.9" cy="187.2" r="5.7" class="c39"/><circle cx="670.6" cy="205.0" r="5.7" class="c39"/><circle cx="667.1" cy="161.3" r="5.7" class="c38"/><circle cx="685.6" cy="154.8" r="5.7" class="c39"/><circle cx="667.0" cy="172.7" r="5.7" class="c38"/><circle cx="640.0" cy="204.0" r="5.7" class="c39"/><circle cx="645.7" cy="177.1" r="5.7" class="c38"/><circle cx="653.5" cy="176.7" r="5.7" class="c39"/><circle cx="692.3" cy="171.1" r="5.7" class="c38"/><circle cx="680.5" cy="161.3" r="5.7" class="c38"/><circle cx="655.2" cy="186.3" r="5.7" class="c39"/><circle cx="666.4" cy="153.2" r="5.7" class="c39"/><circle cx="680.8" cy="194.4" r="5.7" class="c39"/><circle cx="663.3" cy="161.9" r="5.7" class="c38"/><circle cx="659.7" cy="162.4" r="5.7" class="c38"/><circle cx="651.9" cy="183.5" r="5.7" class="c38"/><circle cx="667.5" cy="188.0" r="5.7" class="c38"/><circle cx="643.7" cy="152.7" r="5.7" class="c39"/><circle cx="665.4" cy="181.5" r="5.7" class="c38"/><circle cx="634.5" cy="167.0" r="5.7" class="c39"/><circle cx="658.1" cy="188.5" r="5.7" class="c39"/><circle cx="666.6" cy="176.1" r="5.7" class="c38"/><circle cx="657.6" cy="200.3" r="5.7" class="c38"/><circle cx="665.9" cy="186.6" r="5.7" class="c39"/><circle cx="650.2" cy="182.2" r="5.7" class="c38"/><circle cx="658.1" cy="151.7" r="5.7" class="c38"/><circle cx="632.4" cy="174.0" r="5.7" class="c39"/><circle cx="662.7" cy="155.4" r="5.7" class="c38"/><circle cx="637.0" cy="191.0" r="5.7" class="c39"/><circle cx="647.3" cy="190.0" r="5.7" class="c39"/><circle cx="664.7" cy="213.2" r="5.7" class="c38"/><circle cx="647.4" cy="170.2" r="5.7" class="c39"/><circle cx="671.1" cy="195.1" r="5.7" class="c38"/><circle cx="625.9" cy="159.3" r="5.7" class="c39"/><circle cx="653.1" cy="179.1" r="5.7" class="c39"/><circle cx="651.8" cy="147.6" r="5.7" class="c39"/><circle cx="671.4" cy="164.3" r="5.7" class="c39"/><circle cx="656.5" cy="175.5" r="5.7" class="c38"/><circle cx="648.7" cy="186.9" r="5.7" class="c39"/><circle cx="654.4" cy="209.6" r="5.7" class="c39"/><circle cx="702.5" cy="174.1" r="5.7" class="c39"/><circle cx="638.1" cy="190.9" r="5.7" class="c39"/><circle cx="678.0" cy="156.0" r="5.7" class="c39"/><circle cx="656.9" cy="210.5" r="5.7" class="c39"/><circle cx="663.6" cy="187.1" r="5.7" class="c38"/><circle cx="649.6" cy="194.0" r="5.7" class="c38"/><circle cx="630.3" cy="192.2" r="5.7" class="c39"/><circle cx="668.1" cy="184.2" r="5.7" class="c39"/><circle cx="635.0" cy="167.3" r="5.7" class="c39"/><circle cx="667.1" cy="209.9" r="5.7" class="c38"/><circle cx="666.8" cy="154.2" r="5.7" class="c39"/><circle cx="662.7" cy="185.5" r="5.7" class="c38"/><circle cx="677.2" cy="147.3" r="5.7" class="c38"/><circle cx="678.7" cy="204.7" r="5.7" class="c39"/><circle cx="685.3" cy="209.5" r="5.7" class="c38"/><circle cx="676.7" cy="172.4" r="5.7" class="c39"/><circle cx="649.6" cy="175.0" r="5.7" class="c38"/><circle cx="639.2" cy="188.1" r="5.7" class="c39"/><circle cx="645.6" cy="171.4" r="5.7" class="c38"/><circle cx="673.3" cy="190.3" r="5.7" class="c39"/><circle cx="669.8" cy="209.6" r="5.7" class="c39"/><circle cx="655.5" cy="184.3" r="5.7" class="c38"/><circle cx="651.2" cy="187.9" r="5.7" class="c39"/><circle cx="677.8" cy="163.8" r="5.7" class="c39"/><circle cx="634.6" cy="171.0" r="5.7" class="c39"/><circle cx="673.3" cy="206.6" r="5.7" class="c37"/><circle cx="657.3" cy="194.6" r="5.7" class="c38"/><circle cx="682.8" cy="143.8" r="5.7" class="c39"/><circle cx="646.4" cy="197.9" r="5.7" class="c39"/><circle cx="662.3" cy="171.9" r="5.7" class="c38"/><circle cx="682.8" cy="153.6" r="5.7" class="c38"/><circle cx="636.4" cy="134.1" r="5.7" class="c39"/><circle cx="612.6" cy="181.8" r="5.7" class="c39"/><circle cx="667.3" cy="183.6" r="5.7" class="c38"/><circle cx="659.9" cy="197.4" r="5.7" class="c38"/><circle cx="662.5" cy="160.2" r="5.7" class="c39"/><circle cx="649.3" cy="190.8" r="5.7" class="c38"/><circle cx="698.4" cy="175.1" r="5.7" class="c39"/><circle cx="665.6" cy="173.9" r="5.7" class="c39"/><circle cx="681.9" cy="196.5" r="5.7" class="c37"/><circle cx="681.7" cy="165.6" r="5.7" class="c38"/><circle cx="671.0" cy="141.2" r="5.7" class="c39"/><circle cx="662.8" cy="194.3" r="5.7" class="c39"/><circle cx="653.0" cy="178.7" r="5.7" class="c38"/><circle cx="649.7" cy="177.1" r="5.7" class="c39"/><circle cx="636.9" cy="145.1" r="5.7" class="c39"/><circle cx="668.1" cy="182.0" r="5.7" class="c39"/><circle cx="701.8" cy="177.5" r="5.7" class="c39"/><circle cx="636.8" cy="183.8" r="5.7" class="c37"/><circle cx="703.6" cy="165.8" r="5.7" class="c39"/><circle cx="666.2" cy="191.1" r="5.7" class="c39"/><circle cx="651.3" cy="182.8" r="5.7" class="c39"/><circle cx="641.7" cy="142.7" r="5.7" class="c38"/><circle cx="673.4" cy="155.3" r="5.7" class="c39"/><circle cx="658.3" cy="159.1" r="5.7" class="c38"/><circle cx="622.9" cy="194.6" r="5.7" class="c38"/><circle cx="640.7" cy="148.6" r="5.7" class="c37"/><circle cx="669.2" cy="193.4" r="5.7" class="c39"/><circle cx="657.8" cy="179.5" r="5.7" class="c39"/><circle cx="675.8" cy="170.1" r="5.7" class="c37"/><circle cx="655.8" cy="175.5" r="5.7" class="c38"/><circle cx="693.1" cy="179.7" r="5.7" class="c38"/><circle cx="687.8" cy="184.1" r="5.7" class="c38"/><circle cx="687.4" cy="207.2" r="5.7" class="c39"/><circle cx="637.1" cy="169.3" r="5.7" class="c39"/><circle cx="655.3" cy="178.8" r="5.7" class="c38"/><circle cx="660.2" cy="186.8" r="5.7" class="c38"/><circle cx="688.6" cy="158.2" r="5.7" class="c37"/><circle cx="659.7" cy="146.6" r="5.7" class="c38"/><circle cx="641.5" cy="202.5" r="5.7" class="c37"/><circle cx="698.9" cy="199.0" r="5.7" class="c38"/><circle cx="673.8" cy="190.6" r="5.7" class="c39"/><circle cx="649.9" cy="170.2" r="5.7" class="c38"/><circle cx="629.7" cy="149.8" r="5.7" class="c38"/><circle cx="659.8" cy="134.3" r="5.7" class="c38"/><circle cx="669.3" cy="164.0" r="5.7" class="c38"/><circle cx="689.6" cy="198.7" r="5.7" class="c37"/><circle cx="679.8" cy="180.2" r="5.7" class="c39"/><circle cx="683.8" cy="157.3" r="5.7" class="c38"/><circle cx="681.9" cy="165.7" r="5.7" class="c38"/><circle cx="659.0" cy="180.8" r="5.7" class="c38"/><circle cx="686.0" cy="171.6" r="5.7" class="c39"/><circle cx="664.6" cy="145.2" r="5.7" class="c39"/><circle cx="663.7" cy="203.6" r="5.7" class="c38"/><circle cx="662.1" cy="164.7" r="5.7" class="c38"/><circle cx="683.7" cy="201.8" r="5.7" class="c39"/><circle cx="635.8" cy="172.0" r="5.7" class="c37"/><circle cx="630.3" cy="199.0" r="5.7" class="c38"/><circle cx="667.3" cy="160.7" r="5.7" class="c39"/><circle cx="644.3" cy="157.5" r="5.7" class="c39"/><circle cx="670.5" cy="172.9" r="5.7" class="c38"/><circle cx="653.6" cy="198.3" r="5.7" class="c38"/><circle cx="667.7" cy="200.7" r="5.7" class="c39"/><circle cx="657.6" cy="178.1" r="5.7" class="c39"/><circle cx="663.7" cy="184.6" r="5.7" class="c38"/><circle cx="656.4" cy="199.8" r="5.7" class="c38"/><circle cx="675.4" cy="185.3" r="5.7" class="c38"/><circle cx="709.3" cy="162.6" r="5.7" class="c37"/><circle cx="678.4" cy="208.1" r="5.7" class="c39"/><circle cx="658.0" cy="166.5" r="5.7" class="c37"/><circle cx="684.0" cy="166.8" r="5.7" class="c39"/><circle cx="645.5" cy="148.7" r="5.7" class="c38"/><circle cx="681.2" cy="195.3" r="5.7" class="c39"/><circle cx="654.7" cy="176.6" r="5.7" class="c39"/><circle cx="636.8" cy="181.5" r="5.7" class="c38"/><circle cx="646.9" cy="179.7" r="5.7" class="c39"/><circle cx="674.2" cy="198.4" r="5.7" class="c39"/><circle cx="667.3" cy="212.7" r="5.7" class="c39"/><circle cx="703.8" cy="162.8" r="5.7" class="c39"/><circle cx="683.4" cy="159.2" r="5.7" class="c39"/><circle cx="650.4" cy="141.8" r="5.7" class="c39"/><circle cx="677.5" cy="154.8" r="5.7" class="c38"/><circle cx="646.3" cy="150.5" r="5.7" class="c39"/><circle cx="682.4" cy="171.1" r="5.7" class="c38"/><circle cx="703.7" cy="183.3" r="5.7" class="c39"/><circle cx="644.8" cy="151.9" r="5.7" class="c39"/><circle cx="619.6" cy="177.4" r="5.7" class="c39"/><circle cx="658.4" cy="217.0" r="5.7" class="c39"/><circle cx="666.1" cy="146.6" r="5.7" class="c39"/><circle cx="674.5" cy="183.4" r="5.7" class="c39"/><circle cx="655.4" cy="137.0" r="5.7" class="c38"/><circle cx="642.0" cy="170.1" r="5.7" class="c39"/><circle cx="644.3" cy="143.6" r="5.7" class="c39"/><circle cx="705.7" cy="153.2" r="5.7" class="c37"/><circle cx="652.9" cy="174.6" r="5.7" class="c39"/><circle cx="666.7" cy="177.3" r="5.7" class="c39"/><circle cx="643.5" cy="202.4" r="5.7" class="c38"/><circle cx="671.5" cy="168.6" r="5.7" class="c38"/><circle cx="698.6" cy="183.2" r="5.7" class="c37"/><circle cx="670.9" cy="152.8" r="5.7" class="c38"/><circle cx="673.4" cy="159.5" r="5.7" class="c39"/><circle cx="635.2" cy="145.9" r="5.7" class="c39"/><circle cx="678.6" cy="176.9" r="5.7" class="c38"/><circle cx="678.8" cy="175.4" r="5.7" class="c39"/><circle cx="670.5" cy="176.7" r="5.7" class="c38"/><circle cx="692.0" cy="177.8" r="5.7" class="c37"/><circle cx="673.7" cy="196.3" r="5.7" class="c39"/><circle cx="684.2" cy="173.1" r="5.7" class="c38"/><circle cx="692.7" cy="165.9" r="5.7" class="c38"/><circle cx="642.9" cy="149.1" r="5.7" class="c38"/><circle cx="651.9" cy="210.8" r="5.7" class="c38"/><circle cx="662.8" cy="175.8" r="5.7" class="c39"/><circle cx="656.4" cy="191.8" r="5.7" class="c39"/><circle cx="678.4" cy="193.4" r="5.7" class="c39"/><circle cx="661.0" cy="196.0" r="5.7" class="c38"/><circle cx="689.1" cy="152.0" r="5.7" class="c38"/><circle cx="656.2" cy="192.3" r="5.7" class="c39"/><circle cx="671.5" cy="191.9" r="5.7" class="c39"/><circle cx="647.8" cy="177.0" r="5.7" class="c38"/><circle cx="674.5" cy="172.3" r="5.7" class="c39"/><circle cx="645.0" cy="176.8" r="5.7" class="c39"/><circle cx="641.2" cy="138.8" r="5.7" class="c39"/><circle cx="656.6" cy="204.9" r="5.7" class="c39"/><circle cx="672.4" cy="168.8" r="5.7" class="c38"/><circle cx="672.7" cy="185.8" r="5.7" class="c39"/><circle cx="654.4" cy="189.3" r="5.7" class="c39"/><circle cx="649.5" cy="160.3" r="5.7" class="c38"/><circle cx="649.5" cy="190.0" r="5.7" class="c39"/><circle cx="668.8" cy="152.1" r="5.7" class="c38"/><circle cx="668.5" cy="201.0" r="5.7" class="c38"/><circle cx="689.5" cy="142.0" r="5.7" class="c38"/><circle cx="664.4" cy="201.4" r="5.7" class="c39"/><circle cx="671.7" cy="207.3" r="5.7" class="c39"/><circle cx="684.0" cy="161.4" r="5.7" class="c39"/><circle cx="667.0" cy="169.4" r="5.7" class="c37"/><circle cx="647.7" cy="166.5" r="5.7" class="c38"/><circle cx="656.7" cy="166.1" r="5.7" class="c38"/><circle cx="664.3" cy="188.4" r="5.7" class="c39"/><circle cx="654.2" cy="189.9" r="5.7" class="c38"/><circle cx="634.2" cy="204.4" r="5.7" class="c38"/><circle cx="683.1" cy="186.2" r="5.7" class="c39"/><circle cx="641.3" cy="179.8" r="5.7" class="c39"/><circle cx="677.1" cy="176.7" r="5.7" class="c38"/><circle cx="697.2" cy="164.9" r="5.7" class="c39"/><circle cx="638.8" cy="184.6" r="5.7" class="c38"/><circle cx="652.6" cy="189.8" r="5.7" class="c37"/><circle cx="669.5" cy="160.7" r="5.7" class="c38"/><circle cx="685.7" cy="196.7" r="5.7" class="c39"/><circle cx="633.8" cy="168.0" r="5.7" class="c39"/><circle cx="629.3" cy="195.0" r="5.7" class="c38"/><circle cx="666.7" cy="200.5" r="5.7" class="c39"/><circle cx="655.7" cy="175.5" r="5.7" class="c38"/><circle cx="652.8" cy="156.9" r="5.7" class="c37"/><circle cx="629.9" cy="191.0" r="5.7" class="c38"/><circle cx="637.3" cy="191.6" r="5.7" class="c39"/><circle cx="644.5" cy="159.6" r="5.7" class="c38"/><circle cx="641.6" cy="191.8" r="5.7" class="c39"/><circle cx="657.0" cy="174.7" r="5.7" class="c38"/><circle cx="691.5" cy="208.7" r="5.7" class="c39"/><circle cx="663.4" cy="210.0" r="5.7" class="c39"/><circle cx="639.3" cy="156.1" r="5.7" class="c38"/><circle cx="639.1" cy="141.8" r="5.7" class="c38"/><circle cx="678.3" cy="184.3" r="5.7" class="c39"/><circle cx="660.0" cy="157.0" r="5.7" class="c39"/><circle cx="664.7" cy="194.2" r="5.7" class="c38"/><circle cx="697.4" cy="198.1" r="5.7" class="c38"/><circle cx="693.0" cy="187.1" r="5.7" class="c38"/><circle cx="680.6" cy="172.0" r="5.7" class="c39"/><circle cx="685.5" cy="164.8" r="5.7" class="c39"/><circle cx="672.6" cy="167.9" r="5.7" class="c39"/><circle cx="666.8" cy="159.9" r="5.7" class="c39"/><circle cx="657.6" cy="158.1" r="5.7" class="c39"/><circle cx="641.5" cy="166.2" r="5.7" class="c39"/><circle cx="643.6" cy="146.9" r="5.7" class="c38"/><circle cx="659.8" cy="156.7" r="5.7" class="c38"/><circle cx="693.8" cy="157.6" r="5.7" class="c39"/><circle cx="682.6" cy="182.4" r="5.7" class="c38"/><circle cx="623.8" cy="181.6" r="5.7" class="c39"/><circle cx="632.5" cy="203.5" r="5.7" class="c39"/><circle cx="651.3" cy="195.7" r="5.7" class="c37"/><circle cx="660.5" cy="186.7" r="5.7" class="c39"/><circle cx="634.6" cy="152.4" r="5.7" class="c39"/><circle cx="665.6" cy="204.4" r="5.7" class="c38"/><circle cx="673.2" cy="211.0" r="5.7" class="c39"/><circle cx="686.3" cy="196.3" r="5.7" class="c38"/><circle cx="649.6" cy="164.3" r="5.7" class="c38"/><circle cx="628.3" cy="194.8" r="5.7" class="c38"/><circle cx="662.5" cy="180.2" r="5.7" class="c38"/><circle cx="676.2" cy="183.3" r="5.7" class="c38"/><circle cx="682.1" cy="191.6" r="5.7" class="c39"/><circle cx="687.2" cy="193.7" r="5.7" class="c38"/><circle cx="643.9" cy="186.6" r="5.7" class="c39"/><circle cx="674.4" cy="186.7" r="5.7" class="c39"/><circle cx="658.0" cy="156.6" r="5.7" class="c38"/><circle cx="657.0" cy="212.9" r="5.7" class="c39"/><circle cx="620.4" cy="202.0" r="5.7" class="c37"/><circle cx="662.4" cy="207.5" r="5.7" class="c38"/><circle cx="670.3" cy="176.8" r="5.7" class="c39"/><circle cx="677.6" cy="200.3" r="5.7" class="c39"/><circle cx="663.2" cy="198.7" r="5.7" class="c37"/><circle cx="661.0" cy="196.6" r="5.7" class="c38"/><circle cx="644.0" cy="184.6" r="5.7" class="c38"/><circle cx="665.9" cy="178.6" r="5.7" class="c39"/><circle cx="651.8" cy="165.1" r="5.7" class="c39"/><circle cx="622.0" cy="155.8" r="5.7" class="c38"/><circle cx="630.2" cy="172.6" r="5.7" class="c38"/><circle cx="682.5" cy="178.8" r="5.7" class="c37"/><circle cx="682.5" cy="157.7" r="5.7" class="c38"/><circle cx="669.9" cy="135.8" r="5.7" class="c39"/><circle cx="657.0" cy="210.6" r="5.7" class="c38"/><circle cx="635.6" cy="213.4" r="5.7" class="c39"/><circle cx="659.8" cy="160.9" r="5.7" class="c38"/><circle cx="656.9" cy="194.6" r="5.7" class="c38"/><circle cx="644.9" cy="182.7" r="5.7" class="c39"/><circle cx="628.7" cy="160.7" r="5.7" class="c38"/><circle cx="678.7" cy="166.8" r="5.7" class="c39"/><circle cx="673.2" cy="158.5" r="5.7" class="c38"/><circle cx="679.7" cy="172.4" r="5.7" class="c38"/><circle cx="637.2" cy="210.1" r="5.7" class="c39"/><circle cx="684.1" cy="149.7" r="5.7" class="c39"/><circle cx="669.3" cy="149.2" r="5.7" class="c39"/><circle cx="651.6" cy="168.8" r="5.7" class="c38"/><circle cx="654.9" cy="176.8" r="5.7" class="c38"/><circle cx="674.9" cy="189.9" r="5.7" class="c39"/><circle cx="677.7" cy="158.3" r="5.7" class="c39"/><circle cx="665.1" cy="155.3" r="5.7" class="c39"/><circle cx="685.8" cy="184.3" r="5.7" class="c39"/><circle cx="668.6" cy="158.4" r="5.7" class="c38"/><circle cx="687.6" cy="175.8" r="5.7" class="c39"/><circle cx="674.5" cy="168.1" r="5.7" class="c39"/><circle cx="687.4" cy="183.0" r="5.7" class="c39"/><circle cx="707.0" cy="178.7" r="5.7" class="c39"/><circle cx="659.9" cy="197.0" r="5.7" class="c38"/><circle cx="652.5" cy="195.9" r="5.7" class="c38"/><circle cx="670.9" cy="143.7" r="5.7" class="c38"/><circle cx="654.0" cy="145.5" r="5.7" class="c39"/><circle cx="697.4" cy="179.6" r="5.7" class="c37"/><circle cx="674.8" cy="148.7" r="5.7" class="c38"/><circle cx="634.1" cy="164.7" r="5.7" class="c39"/><circle cx="683.7" cy="183.7" r="5.7" class="c38"/><circle cx="697.4" cy="150.8" r="5.7" class="c39"/><circle cx="694.0" cy="173.1" r="5.7" class="c38"/><circle cx="669.7" cy="158.2" r="5.7" class="c38"/><circle cx="692.3" cy="167.1" r="5.7" class="c38"/><circle cx="695.3" cy="177.3" r="5.7" class="c38"/><circle cx="677.8" cy="201.9" r="5.7" class="c38"/><circle cx="640.7" cy="190.2" r="5.7" class="c39"/><circle cx="632.8" cy="191.2" r="5.7" class="c39"/><circle cx="673.0" cy="161.6" r="5.7" class="c39"/><circle cx="640.4" cy="219.5" r="5.7" class="c39"/><circle cx="660.2" cy="164.5" r="5.7" class="c38"/><circle cx="642.4" cy="171.5" r="5.7" class="c39"/><circle cx="593.5" cy="81.7" r="5.7" class="c30"/><circle cx="656.9" cy="100.8" r="5.7" class="c21"/><circle cx="664.2" cy="100.8" r="5.7" class="c8"/><circle cx="658.6" cy="107.7" r="5.7" class="c22"/><circle cx="672.5" cy="111.2" r="5.7" class="c38"/><circle cx="645.5" cy="118.5" r="5.7" class="c28"/><circle cx="660.0" cy="118.5" r="5.7" class="c38"/><circle cx="656.9" cy="118.5" r="5.7" class="c31"/><circle cx="705.8" cy="117.4" r="5.7" class="c30"/><circle cx="608.1" cy="125.7" r="5.7" class="c33"/><circle cx="620.5" cy="129.9" r="5.7" class="c32"/><circle cx="618.5" cy="143.4" r="5.7" class="c25"/><circle cx="607.0" cy="149.6" r="5.7" class="c32"/><circle cx="615.3" cy="158.0" r="5.7" class="c30"/><circle cx="601.8" cy="163.2" r="5.7" class="c38"/><circle cx="720.3" cy="177.7" r="5.7" class="c2"/><circle cx="728.6" cy="169.4" r="5.7" class="c38"/><circle cx="725.5" cy="163.2" r="5.7" class="c38"/><circle cx="727.6" cy="179.8" r="5.7" class="c38"/><circle cx="744.2" cy="167.3" r="5.7" class="c30"/><circle cx="735.9" cy="192.3" r="5.7" class="c29"/><circle cx="731.8" cy="201.6" r="5.7" class="c38"/><circle cx="739.0" cy="217.2" r="5.7" class="c38"/><circle cx="713.0" cy="226.6" r="5.7" class="c13"/><circle cx="719.3" cy="233.8" r="5.7" class="c25"/><circle cx="696.4" cy="231.8" r="5.7" class="c14"/><circle cx="686.0" cy="240.1" r="5.7" class="c28"/><circle cx="667.3" cy="239.0" r="5.7" class="c21"/><circle cx="673.6" cy="242.2" r="5.7" class="c17"/><circle cx="649.6" cy="230.7" r="5.7" class="c32"/><circle cx="642.4" cy="243.2" r="5.7" class="c12"/><circle cx="627.8" cy="208.9" r="5.7" class="c19"/><circle cx="623.7" cy="190.2" r="5.7" class="c28"/><circle cx="636.1" cy="181.9" r="5.7" class="c29"/><circle cx="642.4" cy="201.6" r="5.7" class="c29"/><circle cx="648.6" cy="217.2" r="5.7" class="c30"/><circle cx="681.9" cy="174.6" r="5.7" class="c32"/><circle cx="698.5" cy="177.7" r="5.7" class="c32"/><circle cx="675.6" cy="191.2" r="5.7" class="c32"/></g>
</g></svg>
<svg x="69" y="415.5" width="354.5" height="345.1" overflow="hidden"><g transform="translate(-69,-415.5)">
<path stroke="#aaaaaa" stroke-width="3.9" stroke-linecap="round" fill="none" d="M354.3 592.1h0M337.4 603.6h0M391.0 564.4h0M378.2 619.7h0M321.9 582.8h0M386.1 621.1h0M318.7 579.0h0M363.7 632.5h0M344.4 601.5h0M142.6 624.4h0M391.8 639.9h0M272.6 632.3h0M365.3 615.7h0M314.8 631.6h0M183.2 608.2h0M378.8 621.4h0M299.7 618.9h0M378.0 561.2h0M363.6 586.9h0M359.9 580.2h0M296.3 604.9h0M365.9 559.6h0M368.6 563.0h0M375.3 639.2h0M363.7 617.9h0M359.1 683.9h0M343.8 590.9h0M370.0 572.3h0M364.6 674.6h0M135.3 561.5h0M349.9 657.1h0M376.8 620.2h0M129.1 598.5h0M264.6 600.2h0M384.5 615.5h0M287.1 605.5h0M380.3 679.5h0M366.4 665.6h0M392.9 548.1h0M386.0 661.5h0M365.9 575.0h0M313.3 638.2h0M390.9 600.5h0M285.8 676.0h0M387.3 642.8h0M306.8 594.4h0M369.7 632.2h0M360.1 637.8h0M371.2 572.1h0M277.0 621.9h0M308.6 645.3h0M143.6 514.1h0M370.7 569.5h0M363.1 523.7h0M379.5 628.7h0M304.9 646.8h0M378.8 611.2h0M363.1 602.9h0M297.3 591.1h0M395.8 594.9h0M344.9 595.9h0M395.8 710.1h0M351.1 575.9h0M380.2 602.7h0M366.8 657.4h0M292.4 620.0h0M286.2 620.2h0M294.6 613.5h0M379.8 576.0h0M344.6 634.4h0M378.4 612.1h0M384.6 603.9h0M368.1 705.4h0M363.4 627.9h0M303.4 625.3h0M288.3 625.6h0M367.7 608.8h0M364.3 633.1h0M364.0 604.9h0M318.2 604.9h0M366.0 639.0h0M380.3 637.0h0M313.4 600.0h0M392.3 554.0h0M315.0 576.4h0M363.1 665.4h0M244.4 610.9h0M378.8 695.9h0M349.0 586.9h0M312.9 622.7h0M366.9 587.9h0M393.5 645.1h0M322.6 612.4h0M355.7 599.7h0M388.8 616.0h0M289.0 650.1h0M272.7 647.2h0M321.0 635.8h0M322.9 611.6h0M381.0 568.6h0M337.2 601.3h0M345.2 632.2h0M321.0 608.1h0M358.7 636.9h0M303.4 642.4h0M377.3 600.2h0M393.5 586.9h0M356.9 543.8h0M376.9 579.1h0M385.2 613.9h0M364.2 577.9h0M353.2 598.7h0M372.0 653.8h0M362.8 535.2h0M336.7 661.1h0M388.1 614.5h0M395.2 617.2h0M321.2 591.4h0M382.7 618.2h0M322.0 589.3h0M374.9 628.6h0M119.0 649.1h0M382.2 549.6h0M363.2 611.5h0M392.1 655.2h0M395.2 553.7h0M371.9 669.2h0M353.5 561.7h0M358.8 574.3h0M364.0 646.0h0M272.2 657.3h0M160.2 658.9h0M384.8 642.1h0M364.6 662.9h0M381.4 619.7h0M196.9 543.7h0M276.8 629.8h0M361.6 614.8h0M314.2 563.0h0M371.9 647.5h0M315.9 600.5h0M362.2 651.9h0M366.7 671.1h0M383.6 624.0h0M380.8 644.9h0M267.6 598.7h0M277.0 591.1h0M353.5 719.3h0M251.7 606.1h0M366.4 522.2h0M353.4 659.1h0M382.6 611.3h0M374.4 604.7h0M383.7 517.8h0M267.0 595.1h0M349.2 506.9h0M201.6 671.4h0M323.4 599.4h0M173.8 644.3h0M389.0 644.1h0M220.2 638.4h0M294.9 619.9h0M387.5 579.2h0M302.1 655.0h0M335.0 519.3h0M365.7 606.3h0M379.6 640.0h0M284.6 633.5h0M356.4 614.4h0M390.9 675.4h0M389.3 608.0h0M304.3 628.5h0M316.3 603.3h0M271.6 609.4h0M255.2 641.2h0M388.8 583.6h0M337.9 612.9h0M298.5 601.8h0M279.2 532.8h0M301.1 601.4h0M371.0 622.2h0M353.3 566.1h0M366.7 584.3h0M376.3 582.2h0M373.4 594.3h0M196.0 662.1h0M266.0 622.6h0M302.5 642.9h0M280.7 632.8h0M369.9 537.9h0M331.7 598.3h0M323.3 622.6h0M347.4 626.1h0M357.2 654.7h0M360.9 640.5h0M334.2 603.3h0M120.7 635.9h0M314.2 644.5h0M365.2 609.7h0M300.3 619.1h0M395.0 591.0h0M290.6 617.2h0M377.4 564.3h0M341.2 669.1h0M363.2 657.7h0M289.8 636.4h0M284.4 643.6h0M308.6 566.4h0M383.9 582.0h0M320.4 625.5h0M359.1 585.8h0M225.2 609.0h0M360.3 503.6h0M380.0 589.5h0M244.3 634.6h0M363.8 543.1h0M379.1 621.6h0M385.7 600.4h0M259.3 629.8h0M366.9 650.7h0M317.2 635.6h0M394.1 560.7h0M361.5 612.7h0M356.0 601.3h0M379.7 640.6h0M305.9 625.7h0M336.6 639.3h0M321.7 610.5h0M320.1 617.3h0M388.9 653.2h0M271.6 613.4h0M344.8 624.0h0M356.3 659.4h0M302.9 600.7h0M132.2 649.9h0M393.0 616.3h0M329.5 630.5h0M389.2 554.5h0M356.1 563.7h0M354.8 534.6h0M380.2 662.8h0M302.4 623.3h0M383.7 635.8h0M384.5 595.7h0M351.7 645.5h0M263.7 631.8h0M380.3 604.4h0M349.4 642.0h0M321.5 623.0h0M366.9 649.8h0M325.7 640.4h0M237.7 598.3h0M343.1 588.7h0M381.3 585.1h0M342.6 557.0h0M360.8 621.3h0M379.1 602.3h0M388.8 638.8h0M313.6 603.1h0M374.9 582.8h0M371.4 622.3h0M369.3 639.5h0M358.6 620.7h0M333.9 631.1h0M286.3 625.6h0M325.5 618.1h0M351.7 614.5h0M322.0 642.8h0M320.7 601.8h0M386.3 609.9h0M330.3 618.0h0M376.9 620.5h0M354.8 608.9h0M364.9 584.5h0M334.3 600.1h0M277.4 620.2h0M376.1 599.1h0M394.5 679.7h0M279.5 563.9h0M265.1 618.7h0M355.6 628.6h0M343.0 616.0h0M348.1 572.8h0M345.8 660.8h0M283.9 613.3h0M345.4 632.3h0M385.5 639.5h0M254.5 617.2h0M159.9 618.1h0M238.2 636.4h0M357.8 563.1h0M367.1 597.5h0M283.4 550.7h0M374.7 667.8h0M383.4 607.0h0M348.2 629.7h0M374.7 557.6h0M309.2 639.5h0M389.1 645.6h0M381.5 661.5h0M368.3 516.3h0M355.7 593.9h0M385.7 642.8h0M292.3 637.9h0M335.0 616.1h0M383.7 573.9h0M381.4 644.3h0M354.1 575.8h0M337.2 635.4h0M343.1 607.7h0M362.7 590.4h0M390.6 663.3h0M347.1 649.6h0M122.8 617.9h0M327.2 654.8h0M376.9 616.5h0M326.5 638.0h0M240.6 619.8h0M339.1 616.8h0M312.5 636.9h0M323.3 611.0h0M376.8 601.5h0M347.1 618.3h0M260.3 640.7h0M381.5 604.7h0M322.2 626.2h0M366.4 620.8h0M363.3 634.8h0M301.8 592.1h0M345.1 669.5h0M395.7 578.9h0M352.4 588.3h0M355.7 630.3h0M349.7 592.1h0M324.9 617.7h0M388.3 621.8h0M372.1 626.0h0M276.9 590.5h0M382.1 638.3h0M291.1 583.5h0M298.3 640.8h0M390.9 613.0h0M326.7 612.6h0M382.6 538.0h0M351.1 605.5h0M393.6 622.2h0M319.1 639.9h0M369.6 595.5h0M393.8 590.6h0M247.5 634.5h0M303.2 614.2h0M328.7 626.1h0M337.7 627.2h0M327.1 593.8h0M316.0 619.8h0M381.2 593.5h0M376.0 673.8h0M339.7 649.5h0M360.3 651.1h0M377.8 603.8h0M365.8 664.7h0M367.8 608.7h0M371.3 621.6h0M264.5 633.0h0M356.9 598.1h0M269.7 658.3h0M385.6 596.5h0M342.9 570.2h0M363.6 603.9h0M273.0 631.2h0M393.7 565.7h0M388.4 639.1h0M360.1 620.9h0M357.7 610.5h0M390.8 578.3h0M301.6 641.4h0M345.1 605.8h0M384.0 604.4h0M365.1 567.1h0M376.4 584.1h0M304.0 630.3h0M255.5 600.6h0M370.6 621.4h0M352.6 580.5h0M350.2 643.9h0M353.4 668.1h0M369.0 598.6h0M378.5 577.3h0M156.7 635.1h0M393.5 660.9h0M386.9 618.6h0M337.0 623.3h0M322.3 614.8h0M244.5 627.4h0M279.6 617.0h0M341.6 594.9h0M354.5 616.7h0M306.0 603.9h0M360.4 547.0h0M368.9 621.0h0M299.4 591.0h0M378.2 584.5h0M249.1 630.6h0M112.4 622.6h0M372.6 625.2h0M377.4 522.9h0M376.9 581.4h0M260.0 610.2h0M382.5 643.9h0M292.5 560.1h0M390.3 588.0h0M298.0 600.5h0M262.7 586.2h0M358.6 596.0h0M384.7 625.5h0M264.4 636.5h0M365.6 616.1h0M378.4 656.9h0M338.1 619.5h0M378.2 615.4h0M358.6 608.5h0M324.7 644.6h0M352.0 612.7h0M388.9 590.4h0M367.9 614.6h0M368.0 602.8h0M363.5 588.2h0M367.7 567.8h0M268.1 633.0h0M375.6 589.8h0M370.2 571.9h0M290.3 617.9h0M301.6 531.8h0M395.2 567.5h0M374.7 692.0h0M199.1 620.5h0M383.4 610.9h0M349.6 649.5h0M283.7 482.0h0M322.2 620.0h0M327.8 574.3h0M366.3 678.6h0M278.1 616.1h0M347.9 627.6h0M377.5 676.8h0M381.3 632.8h0M342.1 627.1h0M291.4 659.3h0M133.7 627.8h0M373.8 614.0h0M279.8 608.4h0M327.6 626.3h0M384.4 592.5h0M319.7 658.6h0M395.5 603.5h0M366.3 482.6h0M319.5 607.3h0M254.5 610.8h0M354.5 562.1h0M327.3 611.3h0M392.7 593.6h0M371.0 615.0h0M361.4 541.4h0M293.8 521.7h0M351.3 650.8h0M385.2 595.8h0M329.8 622.9h0M342.5 601.3h0M378.9 565.4h0M367.0 618.3h0M370.5 621.7h0M387.6 614.9h0M363.1 601.0h0M158.1 625.4h0M379.3 648.0h0M342.7 552.2h0M382.5 581.5h0M371.9 575.0h0M379.3 569.6h0M381.3 554.3h0M374.2 609.9h0M332.9 606.3h0M390.6 556.0h0M389.3 597.4h0M355.5 656.7h0M321.3 612.5h0M369.2 631.1h0M356.1 627.3h0M347.7 602.6h0M388.2 682.4h0M354.8 652.7h0M329.9 650.3h0M280.2 622.2h0M376.7 647.7h0M259.9 631.0h0M367.1 613.3h0M284.2 518.2h0M320.4 613.5h0M253.3 645.3h0M315.5 606.0h0M365.6 652.4h0M320.1 635.3h0M352.3 637.7h0M305.3 619.2h0M335.3 627.4h0M303.4 640.4h0M354.0 599.7h0M380.2 604.9h0M395.8 625.5h0M391.0 661.7h0M349.1 602.9h0M309.9 602.9h0M290.4 626.9h0M318.4 643.3h0M365.6 599.2h0M346.3 615.2h0M381.0 575.4h0M387.4 626.3h0M292.6 616.1h0M273.5 619.8h0M323.6 628.2h0M324.9 664.7h0M323.3 616.8h0M127.7 558.8h0M341.7 621.1h0M340.1 609.2h0M376.9 600.8h0M295.2 615.9h0M260.4 594.2h0M315.3 634.2h0M279.3 636.1h0M392.4 654.9h0M391.7 652.0h0M257.0 618.3h0M342.9 652.4h0M379.3 647.6h0M303.7 619.8h0M310.2 612.7h0M381.8 630.7h0M316.2 520.1h0M393.0 655.3h0M353.5 617.5h0M364.6 584.9h0M360.0 613.6h0M394.4 694.4h0M328.3 625.5h0M345.8 600.1h0M388.1 610.6h0M336.1 593.1h0M269.2 611.4h0M357.9 573.4h0M385.9 573.0h0M370.3 618.2h0M322.1 607.1h0M195.1 629.7h0M288.5 632.3h0M389.1 556.7h0M394.5 705.6h0M338.4 624.5h0M304.4 627.1h0M385.9 558.2h0M323.0 618.4h0M345.0 617.8h0M382.9 548.6h0M372.3 626.2h0M387.8 633.5h0M374.3 615.1h0M313.1 649.5h0M380.2 704.4h0M237.1 606.2h0M362.3 677.8h0M375.1 585.3h0M284.6 606.4h0M335.5 607.5h0M279.1 608.0h0M394.9 569.8h0M341.9 611.3h0M270.0 629.2h0M375.0 572.6h0M354.6 587.6h0M326.5 615.9h0M381.8 668.4h0M336.3 667.4h0M395.5 574.2h0M311.1 625.3h0M393.7 668.7h0M334.2 636.1h0M260.9 620.4h0M379.0 590.2h0M380.7 579.4h0M391.1 590.4h0M386.8 549.4h0M338.0 600.0h0M365.1 595.8h0M374.1 591.6h0M341.7 601.9h0M337.7 641.2h0M344.2 612.6h0M269.1 615.8h0M359.7 637.8h0M281.0 627.7h0M368.2 640.5h0M385.5 564.0h0M291.3 641.4h0M287.8 605.9h0M372.2 590.9h0M354.5 617.2h0M390.2 656.6h0M155.9 621.2h0M291.6 623.6h0M389.4 674.8h0M386.5 617.4h0M292.9 633.4h0M348.1 586.2h0M292.2 627.9h0M387.0 552.9h0M378.7 668.3h0M340.9 632.2h0M292.0 576.3h0M364.2 625.3h0M296.9 620.3h0M362.7 624.9h0M394.3 633.1h0M375.7 607.7h0M381.0 589.4h0M390.1 589.8h0M345.2 623.5h0M384.3 543.5h0M365.3 585.3h0M329.9 632.5h0M372.2 639.5h0M239.3 670.4h0M291.2 640.8h0M263.3 604.5h0M377.1 600.3h0M341.9 636.5h0M385.2 493.6h0M125.8 648.9h0M373.1 556.5h0M341.9 626.8h0M369.1 611.7h0M349.9 634.6h0M376.5 534.7h0M388.0 591.5h0M389.6 560.9h0M387.4 624.5h0M323.3 621.4h0M376.1 649.4h0M314.1 626.8h0M387.8 663.9h0M258.2 654.2h0M346.1 663.1h0M328.7 604.4h0M326.2 613.6h0M276.6 646.7h0M367.0 548.0h0M381.3 643.3h0M383.2 518.9h0M388.8 579.1h0M380.6 638.7h0M342.7 623.6h0M365.9 606.8h0M394.2 606.4h0M175.6 628.9h0M272.8 618.9h0M341.5 629.5h0M365.4 623.6h0M324.1 649.9h0M349.8 614.6h0M385.8 645.7h0M382.3 677.1h0M393.6 565.7h0M366.1 621.8h0M281.9 620.7h0M380.1 666.9h0M391.3 619.7h0M341.3 588.6h0M349.3 608.2h0M319.7 608.8h0M342.6 535.5h0M373.9 605.9h0M291.4 655.2h0M255.2 634.7h0M388.2 624.9h0M372.5 621.5h0M390.8 539.1h0M301.8 604.8h0M385.0 668.7h0M224.5 639.5h0M387.6 630.5h0M360.5 663.6h0M235.0 615.4h0M376.5 578.5h0M318.9 626.0h0M363.8 678.4h0M353.1 616.0h0M295.5 609.1h0M380.7 613.1h0M380.9 604.7h0M392.6 663.7h0M395.2 645.6h0M379.1 616.0h0M386.0 607.5h0M377.9 581.7h0M325.1 634.3h0M307.6 645.9h0M346.1 610.5h0M246.8 684.8h0M382.2 667.7h0M308.9 619.4h0M374.1 539.1h0M287.2 649.7h0M246.1 630.1h0M308.7 602.5h0M122.9 615.2h0M239.0 600.8h0M393.9 581.3h0M367.3 557.8h0M283.0 651.9h0M248.2 641.9h0M262.1 623.5h0M379.5 585.0h0M389.5 528.7h0M282.3 633.4h0M358.9 632.5h0M261.1 596.4h0M373.6 605.9h0M349.2 591.6h0M367.4 565.5h0M315.3 653.0h0M366.0 641.2h0M372.5 584.6h0M371.8 622.0h0M355.4 605.6h0M251.7 620.9h0M346.5 604.7h0M376.5 612.7h0M388.3 537.1h0M389.9 624.3h0M393.3 559.2h0M319.4 607.0h0M168.4 618.8h0M316.6 613.1h0M295.8 630.2h0M395.5 593.4h0M357.4 567.1h0M289.8 599.5h0M344.9 640.8h0M339.1 625.4h0M301.3 612.5h0M363.7 596.5h0M345.0 645.7h0M362.1 619.9h0M324.6 607.8h0M292.0 635.9h0M200.2 635.5h0M365.2 612.0h0M342.7 632.1h0M348.1 633.8h0M354.3 592.2h0M370.7 596.0h0M298.1 613.3h0M308.9 597.7h0M134.3 579.5h0M347.8 624.4h0M375.7 657.8h0M363.2 688.5h0M393.6 662.2h0M339.5 600.7h0M342.7 613.4h0M342.4 626.4h0M380.2 681.6h0M305.7 603.7h0M313.8 586.2h0M368.2 626.3h0M380.1 570.2h0M377.7 703.2h0M281.8 624.6h0M318.3 628.4h0M278.4 616.3h0M315.9 590.2h0M293.0 655.6h0M391.9 638.0h0M274.4 623.9h0M363.9 551.9h0M365.5 618.3h0M264.8 637.1h0M308.9 632.9h0M319.0 650.2h0M385.8 634.6h0M380.7 646.7h0M377.9 607.3h0M361.7 577.1h0M386.8 644.9h0M390.1 605.3h0M325.8 602.3h0M334.2 609.9h0M338.5 636.3h0M354.0 619.3h0M316.0 641.8h0M387.9 566.5h0M368.8 606.7h0M288.4 597.2h0M298.2 614.2h0M360.3 590.4h0M302.1 625.0h0M280.4 618.4h0M360.6 605.1h0M269.8 600.4h0M362.1 621.1h0M333.2 627.0h0M361.0 629.8h0M353.2 654.8h0M389.2 560.3h0M339.7 594.4h0M359.2 632.8h0M313.3 638.8h0M376.4 639.7h0M179.9 620.0h0M386.7 599.8h0M242.7 643.7h0M371.2 648.0h0M369.3 644.4h0M345.5 617.2h0M385.3 654.1h0M297.2 599.4h0M322.0 651.5h0M318.7 616.2h0M346.0 609.3h0M376.7 555.1h0M269.5 590.1h0M283.6 631.7h0M393.0 639.4h0M373.3 660.3h0M384.9 584.6h0M392.9 655.5h0M306.1 617.1h0M370.4 547.1h0M250.0 632.2h0M375.1 586.1h0M381.6 574.1h0M329.6 615.7h0M344.9 656.1h0M382.7 561.4h0M390.6 533.1h0M368.8 600.7h0M390.6 599.7h0M378.9 575.8h0M367.9 603.6h0M378.3 588.8h0M378.8 635.7h0M326.9 596.3h0M378.1 594.7h0M357.5 647.2h0M267.9 609.1h0M352.1 602.8h0M364.0 621.3h0M394.0 608.2h0M263.2 632.3h0M391.4 681.6h0M345.0 505.8h0M344.0 625.2h0M322.4 628.7h0M256.9 588.7h0M388.6 634.9h0M374.7 618.2h0M320.4 639.3h0M364.5 651.2h0M222.3 619.4h0M378.2 582.7h0M362.9 602.9h0M338.4 609.9h0M276.9 589.5h0M361.2 603.4h0M353.5 660.8h0M390.9 553.9h0M380.4 587.0h0M304.8 613.4h0M383.4 645.9h0M376.5 628.8h0M382.1 569.4h0M318.9 629.2h0M379.2 644.0h0M387.3 571.9h0M386.9 571.3h0M349.3 621.9h0M310.2 621.7h0M390.3 567.0h0M338.7 642.8h0M345.8 595.9h0M394.6 551.3h0M391.8 679.8h0M321.3 611.9h0M340.1 595.9h0M362.8 631.5h0M358.3 630.7h0M386.5 644.9h0M379.6 617.2h0M381.1 569.2h0M264.6 637.2h0M120.5 647.0h0M246.5 662.4h0M342.0 589.4h0M356.4 603.5h0M376.1 585.9h0M329.5 609.8h0M377.6 567.5h0M244.0 619.8h0M282.2 627.3h0M295.5 623.6h0M307.0 588.4h0M346.0 613.5h0M390.3 557.4h0M289.1 638.0h0M343.3 623.6h0M132.4 649.6h0M320.0 605.8h0M372.3 661.9h0M368.3 592.0h0M373.7 610.4h0M341.5 658.1h0M371.2 666.2h0M166.8 661.6h0M319.7 640.4h0M391.8 602.1h0M286.6 632.0h0M385.3 612.4h0M375.8 651.1h0M388.6 630.7h0M325.2 627.4h0M339.0 604.9h0M334.6 610.1h0M368.0 661.9h0M382.2 578.9h0M375.7 541.1h0M356.1 578.7h0M339.9 595.7h0M373.4 583.6h0M381.5 659.3h0M365.6 512.4h0M314.1 614.8h0M284.1 596.8h0M326.2 622.5h0M382.3 691.3h0M237.8 612.7h0M357.8 619.6h0M386.8 544.9h0M387.2 643.6h0M347.2 589.1h0M287.4 615.8h0M319.6 634.7h0M330.2 613.9h0M380.0 557.1h0M391.6 632.4h0M395.9 596.7h0M367.0 629.7h0M367.8 634.4h0M311.7 507.7h0M297.1 609.3h0M267.2 650.8h0M280.1 605.1h0M380.9 561.7h0M386.8 606.0h0M374.0 655.8h0M377.5 600.6h0M310.7 624.9h0M322.1 640.3h0M351.8 603.4h0M390.7 715.7h0M357.6 624.6h0M374.9 575.9h0M372.2 517.4h0M352.1 620.8h0M382.5 556.9h0M369.9 605.8h0M311.2 626.2h0M257.4 614.0h0M352.5 658.8h0M392.4 646.5h0M364.1 562.6h0M294.2 645.1h0M351.1 560.9h0M346.4 627.8h0M359.7 504.5h0M381.6 613.3h0M378.5 591.8h0M175.4 629.4h0M273.2 633.7h0M388.2 627.1h0M370.8 618.9h0M320.5 616.7h0M199.7 679.1h0M353.0 589.2h0M351.8 629.2h0M367.3 588.3h0M364.8 633.7h0M381.3 605.9h0M361.7 686.5h0M380.8 634.3h0M334.0 639.3h0M338.6 655.9h0M259.5 645.5h0M366.5 649.7h0M374.7 555.5h0M384.8 544.9h0M361.0 579.1h0M286.4 601.0h0M390.8 605.3h0M324.5 637.8h0M260.1 632.0h0M394.7 617.6h0M356.9 655.8h0M338.1 595.8h0M382.1 642.3h0M390.3 670.2h0M367.9 625.7h0M363.1 587.9h0M335.8 648.1h0M377.2 622.1h0M355.8 641.6h0M381.1 565.4h0M379.1 602.2h0M309.7 625.0h0M347.8 630.5h0M343.3 653.5h0M355.0 604.6h0M195.1 631.3h0M319.7 630.1h0M351.2 612.6h0M363.3 596.8h0M369.7 579.4h0M338.8 605.2h0M364.1 643.8h0M349.4 602.6h0M386.5 568.4h0M337.3 618.9h0M316.6 592.5h0M307.7 638.7h0M218.4 610.9h0M299.8 622.7h0M320.0 613.6h0M351.1 586.5h0M309.2 650.2h0M292.1 556.6h0M386.3 601.8h0M246.7 615.8h0M353.3 630.1h0M327.8 621.9h0M393.7 543.3h0M314.2 629.4h0M314.9 651.0h0M291.9 634.4h0M351.6 563.7h0M356.4 669.5h0M366.5 628.4h0M243.8 602.0h0M371.5 581.4h0M381.5 638.0h0M384.4 629.3h0M389.6 647.1h0M364.1 624.7h0M382.3 666.7h0M365.7 609.9h0M376.6 620.8h0M391.9 546.6h0M338.2 622.0h0M302.0 635.4h0M394.9 575.7h0M260.6 628.9h0M359.4 570.8h0M296.8 608.1h0M349.4 599.3h0M284.5 607.3h0M387.7 569.4h0M303.6 612.3h0M356.1 629.2h0M363.9 606.4h0M392.6 726.2h0M305.4 621.8h0M307.5 612.7h0M265.3 619.2h0M335.5 632.6h0M364.7 631.3h0M238.8 581.4h0M371.9 626.6h0M351.0 606.2h0M335.9 565.5h0M374.1 582.2h0M288.0 641.1h0M386.1 621.5h0M364.8 607.3h0M382.6 625.4h0M332.8 630.1h0M337.8 612.0h0M313.2 631.5h0M381.0 645.0h0M298.7 645.6h0M314.2 604.2h0M345.4 632.4h0M364.2 659.4h0M250.7 536.4h0M312.4 628.9h0M318.8 616.9h0M384.2 587.0h0M327.8 625.1h0M390.5 616.8h0M388.8 603.2h0M304.0 578.3h0M393.6 582.8h0M264.1 617.3h0M395.4 702.8h0M290.4 638.7h0M275.2 592.0h0M293.9 611.0h0M365.2 640.9h0M339.7 627.8h0M349.8 660.9h0M363.5 580.8h0M306.9 655.0h0M363.9 602.7h0M302.3 462.0h0M239.8 586.0h0M367.9 523.2h0M332.5 636.7h0M268.9 626.4h0M353.6 583.6h0M223.1 610.1h0M367.3 634.9h0M383.6 584.9h0M268.3 597.5h0M346.5 616.4h0M177.5 610.9h0M323.0 645.7h0M373.5 620.3h0M393.7 631.7h0M329.4 606.6h0M369.7 659.6h0M300.6 639.5h0M317.6 615.7h0M299.9 614.3h0M335.1 611.8h0M358.0 674.0h0M394.4 630.7h0M326.8 642.9h0M318.5 625.7h0M375.2 731.3h0M323.3 632.2h0M325.8 609.8h0M345.3 595.2h0M364.5 640.8h0M364.3 595.4h0M358.1 654.2h0M148.6 638.3h0M366.7 567.9h0M279.6 575.5h0M332.4 615.0h0M278.2 637.3h0M301.0 634.9h0M356.8 618.1h0M380.6 636.5h0M314.3 637.3h0M254.0 630.4h0M269.5 648.1h0M335.6 660.9h0M345.2 646.7h0M290.8 622.2h0M316.8 614.5h0M316.4 624.7h0M368.5 623.8h0M358.6 554.6h0M385.6 598.1h0M384.9 612.4h0M219.6 641.0h0M245.5 618.2h0M382.1 633.0h0M341.0 616.5h0M383.2 593.5h0M304.4 616.7h0M394.3 540.8h0M267.9 598.0h0M326.4 621.6h0M387.5 523.0h0M281.0 639.6h0M293.4 640.4h0M373.2 637.6h0M332.9 606.9h0M336.0 659.6h0M341.6 614.3h0M335.9 596.5h0M347.4 612.1h0M370.2 642.7h0M328.9 605.4h0M386.2 615.3h0M341.3 603.6h0M385.3 623.5h0M274.1 663.0h0M341.1 644.2h0M370.7 536.4h0M389.6 664.9h0M326.0 640.9h0M198.8 619.6h0M388.5 538.1h0M365.1 607.6h0M395.2 634.1h0M394.0 662.2h0M380.5 600.4h0M391.0 590.2h0M264.9 642.6h0M339.3 648.4h0M330.7 610.7h0M394.0 648.6h0M390.6 545.5h0M279.6 638.9h0M370.9 619.9h0M339.9 650.8h0M324.9 629.9h0M293.5 600.1h0M375.1 658.7h0M366.5 639.1h0M377.4 600.1h0M245.0 626.8h0M384.0 567.3h0M382.2 616.5h0M265.5 654.9h0M367.8 634.2h0M347.2 646.8h0M393.2 604.0h0M265.6 638.2h0M332.4 620.6h0M343.7 607.1h0M306.9 632.6h0M394.9 577.8h0M345.6 614.0h0M370.9 614.4h0M312.5 613.4h0M348.8 598.5h0M297.9 468.0h0M363.6 559.5h0M385.4 620.9h0M368.8 585.8h0M364.0 626.4h0M370.0 584.0h0M386.3 637.5h0M364.1 616.0h0M350.3 613.6h0M348.9 623.9h0M355.1 618.3h0M314.1 642.6h0M377.7 620.1h0M362.0 582.4h0M327.3 625.8h0M391.4 609.9h0M338.1 640.6h0M375.0 511.0h0M386.4 664.3h0M373.2 619.2h0M301.4 621.2h0M233.0 650.9h0M380.0 624.3h0M338.7 632.2h0M389.1 584.3h0M282.7 627.3h0M272.2 634.5h0M372.0 614.4h0M341.7 613.8h0M352.6 584.3h0M376.1 652.7h0M370.2 614.3h0M353.6 589.6h0M264.9 626.3h0M340.0 637.4h0M380.8 583.0h0M287.3 603.3h0M369.0 607.5h0M338.0 601.3h0M289.8 623.1h0M337.1 614.7h0M162.3 622.2h0M355.4 627.3h0M364.0 684.1h0M351.2 597.2h0M383.2 608.7h0M298.1 629.0h0M376.6 655.8h0M377.9 627.3h0M382.1 666.3h0M279.1 581.4h0M361.0 547.4h0M296.8 663.8h0M273.6 554.3h0M314.9 645.5h0M314.4 617.0h0M331.1 651.5h0M291.7 643.3h0M359.3 634.2h0M382.8 643.3h0M359.6 600.3h0M271.2 620.0h0M385.6 589.0h0M367.5 572.8h0M394.9 503.5h0M386.9 583.7h0M374.5 550.1h0M337.0 617.8h0M344.0 597.7h0M263.1 638.0h0M255.7 623.6h0M347.1 596.9h0M378.9 668.1h0M374.0 655.0h0M298.9 558.3h0M289.1 647.9h0M137.0 562.6h0M326.5 626.2h0M292.4 621.1h0M392.4 618.9h0M377.1 566.8h0M255.3 628.6h0M304.9 648.3h0M273.1 638.8h0M389.7 588.2h0M384.8 590.2h0M362.6 584.8h0M321.6 622.2h0M384.4 581.0h0M341.8 623.8h0M386.3 538.3h0M298.9 619.9h0M344.4 641.5h0M337.1 620.8h0M360.0 594.0h0M315.9 616.3h0M137.0 582.8h0M322.9 581.6h0M393.1 603.2h0M345.4 612.5h0M364.4 583.1h0M321.8 606.8h0M310.5 600.9h0M252.8 634.0h0M283.8 637.8h0M395.0 636.3h0M356.0 658.5h0M337.8 598.1h0M378.3 611.2h0M386.2 609.9h0M298.3 598.6h0M362.0 636.9h0M161.0 610.6h0M337.9 645.6h0M296.6 657.2h0M364.0 644.7h0M386.0 675.0h0M277.0 630.6h0M366.5 647.7h0M298.0 641.2h0M364.0 552.7h0M286.7 665.3h0M326.0 610.9h0M377.1 605.1h0M269.8 643.2h0M299.2 593.2h0M334.1 601.2h0M307.2 617.9h0M376.3 631.9h0M390.0 531.7h0M269.5 651.0h0M307.8 574.5h0M386.0 650.0h0M341.7 623.2h0M354.9 614.1h0M376.3 575.3h0M314.6 639.3h0M395.0 607.9h0M379.8 605.4h0M263.6 613.4h0M328.8 636.5h0M349.7 674.7h0M300.3 607.8h0M314.5 596.9h0M308.4 629.1h0M389.3 691.8h0M388.4 670.0h0M288.6 639.8h0M284.6 660.8h0M264.6 595.7h0M372.9 636.4h0M318.3 602.7h0M287.4 624.1h0M348.0 663.0h0M373.5 584.2h0M266.7 604.5h0M275.3 648.1h0M382.9 594.2h0M270.9 645.9h0M368.9 610.1h0M385.6 574.7h0M358.5 645.2h0M382.4 725.2h0M372.0 602.9h0M376.3 584.4h0M368.6 582.2h0M391.9 695.8h0M376.1 594.7h0M371.1 638.2h0M218.6 628.9h0M319.6 599.9h0M244.6 646.1h0M390.1 647.8h0M309.4 628.6h0M315.6 628.2h0M365.3 654.3h0M217.3 604.4h0M375.5 613.9h0M381.0 705.4h0M389.3 621.0h0M349.3 695.1h0M343.2 578.9h0M360.0 581.5h0M264.5 608.4h0M390.8 613.3h0M342.4 588.1h0M256.7 532.8h0M273.0 644.4h0M352.6 630.7h0M381.7 574.9h0M391.3 526.0h0M363.1 658.3h0M353.6 605.5h0M363.6 614.0h0M283.7 624.6h0M390.6 578.3h0M333.4 602.4h0M347.9 616.9h0M361.8 644.7h0M393.8 606.4h0M362.9 608.7h0M384.0 586.9h0M390.8 629.8h0M369.6 619.2h0M387.4 651.0h0M366.2 588.1h0M327.2 630.2h0M383.1 627.4h0M394.6 662.4h0M389.3 632.3h0M363.4 618.0h0M331.4 624.5h0M389.8 577.1h0M322.6 522.9h0M357.8 616.1h0M370.0 611.0h0M278.2 635.9h0M238.7 630.3h0M371.6 638.3h0M358.4 594.1h0M392.8 622.6h0M358.3 621.1h0M366.2 557.0h0M372.1 626.4h0M373.9 629.1h0M314.0 631.7h0M281.6 604.8h0M355.1 659.3h0M357.2 648.7h0M333.5 606.1h0M384.2 670.2h0M395.4 501.1h0M307.6 651.5h0M345.4 593.2h0M257.5 644.8h0M330.1 619.5h0M330.0 640.9h0M313.9 614.4h0M252.4 592.2h0M355.8 605.6h0M315.2 623.8h0M339.3 618.5h0M377.5 620.9h0M308.7 590.3h0M384.9 663.4h0M347.7 635.9h0M390.0 641.6h0M365.3 622.3h0M371.6 620.0h0M262.3 624.7h0M327.2 591.6h0M334.0 634.4h0M310.4 633.9h0M321.2 663.8h0M380.3 608.2h0M392.8 754.5h0M380.7 651.0h0M361.7 614.4h0M366.6 623.5h0M388.3 571.5h0M242.9 494.1h0M365.7 601.3h0M359.2 663.7h0M311.2 640.8h0M372.4 654.8h0M375.4 547.5h0M357.3 605.6h0M390.2 571.0h0M373.5 632.0h0M238.2 622.8h0M311.3 529.0h0M349.5 633.2h0M368.8 593.3h0M241.8 621.7h0M310.7 619.9h0M368.5 636.7h0M379.8 651.8h0M344.0 604.2h0M379.6 655.6h0M336.1 617.7h0M364.2 590.6h0M387.8 431.0h0M345.5 621.4h0M199.1 584.8h0M392.8 593.9h0M381.3 558.4h0M326.8 559.5h0M269.9 604.2h0M377.5 620.9h0M382.9 646.5h0M332.3 604.9h0M360.6 644.9h0M364.8 601.0h0M368.5 615.0h0M377.0 477.2h0M339.4 615.8h0M251.3 669.9h0M308.2 665.3h0M391.9 601.0h0M367.9 684.6h0M300.0 632.0h0M379.2 610.6h0M358.1 596.3h0M388.1 580.8h0M357.1 653.0h0M372.3 629.4h0M294.7 651.7h0M315.6 604.3h0M328.0 588.0h0M380.8 576.9h0M291.1 624.6h0M395.1 605.8h0M344.0 653.2h0M376.9 573.9h0M316.7 598.2h0M361.5 520.9h0M395.5 535.4h0M392.6 625.7h0M356.2 584.4h0M326.5 634.5h0M218.1 614.9h0M358.9 635.2h0M356.7 613.2h0M353.3 605.2h0M351.9 627.5h0M338.1 594.5h0M379.6 570.3h0M379.0 606.0h0M319.6 601.3h0M290.5 648.4h0M375.8 654.1h0M374.0 573.7h0M369.5 493.7h0M377.4 609.3h0M264.9 594.9h0M184.3 636.4h0M380.4 599.6h0M390.4 661.8h0M270.8 524.9h0M343.2 620.6h0M364.4 625.5h0M149.6 663.3h0M260.2 612.8h0M349.1 616.5h0M356.3 600.2h0M386.4 588.6h0M370.1 640.8h0M243.5 629.6h0M358.8 543.5h0M316.9 612.2h0M300.0 583.7h0M362.9 597.1h0M377.0 621.7h0M308.7 599.7h0M385.7 524.3h0M297.0 620.1h0M354.3 636.1h0M331.5 596.0h0M297.6 603.5h0M375.6 629.6h0M346.8 618.0h0M362.7 633.7h0M290.9 646.2h0M346.1 625.8h0"/><g class="m"><circle cx="322.9" cy="594.2" r="5.7" class="c39"/><circle cx="228.8" cy="602.9" r="5.7" class="c38"/><circle cx="299.3" cy="607.5" r="5.7" class="c38"/><circle cx="286.8" cy="607.8" r="5.7" class="c9"/><circle cx="326.2" cy="595.8" r="5.7" class="c38"/><circle cx="333.3" cy="599.6" r="5.7" class="c2"/><circle cx="261.6" cy="605.0" r="5.7" class="c26"/><circle cx="308.5" cy="597.3" r="5.7" class="c39"/><circle cx="274.4" cy="604.1" r="5.7" class="c33"/><circle cx="295.2" cy="601.3" r="5.7" class="c39"/><circle cx="351.0" cy="598.5" r="5.7" class="c38"/><circle cx="330.1" cy="602.7" r="5.7" class="c38"/><circle cx="266.2" cy="607.8" r="5.7" class="c38"/><circle cx="350.8" cy="610.4" r="5.7" class="c19"/><circle cx="261.8" cy="602.4" r="5.7" class="c37"/><circle cx="332.4" cy="596.5" r="5.7" class="c39"/><circle cx="322.0" cy="607.2" r="5.7" class="c33"/><circle cx="315.0" cy="602.1" r="5.7" class="c38"/><circle cx="360.2" cy="625.1" r="5.7" class="c36"/><circle cx="299.1" cy="597.8" r="5.7" class="c39"/><circle cx="232.7" cy="608.1" r="5.7" class="c38"/><circle cx="220.1" cy="605.1" r="5.7" class="c38"/><circle cx="232.9" cy="605.0" r="5.7" class="c38"/><circle cx="195.1" cy="604.3" r="5.7" class="c39"/><circle cx="326.5" cy="626.3" r="5.7" class="c3"/><circle cx="191.6" cy="604.2" r="5.7" class="c31"/><circle cx="369.0" cy="623.3" r="5.7" class="c6"/><circle cx="393.9" cy="616.6" r="5.7" class="c31"/><circle cx="255.9" cy="607.2" r="5.7" class="c38"/><circle cx="369.0" cy="610.2" r="5.7" class="c38"/><circle cx="287.4" cy="608.1" r="5.7" class="c38"/><circle cx="359.5" cy="597.7" r="5.7" class="c38"/><circle cx="350.0" cy="607.8" r="5.7" class="c39"/><circle cx="262.7" cy="602.4" r="5.7" class="c38"/><circle cx="279.9" cy="605.1" r="5.7" class="c39"/><circle cx="331.2" cy="610.1" r="5.7" class="c39"/><circle cx="206.2" cy="601.5" r="5.7" class="c39"/><circle cx="275.4" cy="606.4" r="5.7" class="c38"/><circle cx="253.2" cy="607.8" r="5.7" class="c38"/><circle cx="237.6" cy="600.5" r="5.7" class="c39"/><circle cx="230.6" cy="600.8" r="5.7" class="c39"/><circle cx="300.4" cy="604.6" r="5.7" class="c38"/><circle cx="196.9" cy="602.7" r="5.7" class="c38"/><circle cx="252.8" cy="601.3" r="5.7" class="c39"/><circle cx="251.3" cy="603.0" r="5.7" class="c39"/><circle cx="370.7" cy="613.7" r="5.7" class="c39"/><circle cx="398.1" cy="589.0" r="5.7" class="c8"/><circle cx="354.5" cy="614.6" r="5.7" class="c37"/><circle cx="245.8" cy="600.7" r="5.7" class="c39"/><circle cx="325.1" cy="583.3" r="5.7" class="c39"/><circle cx="320.7" cy="596.0" r="5.7" class="c37"/><circle cx="198.6" cy="605.8" r="5.7" class="c38"/><circle cx="269.6" cy="604.0" r="5.7" class="c39"/><circle cx="317.9" cy="618.7" r="5.7" class="c39"/><circle cx="297.6" cy="602.4" r="5.7" class="c38"/><circle cx="158.4" cy="604.0" r="5.7" class="c39"/><circle cx="252.4" cy="601.7" r="5.7" class="c39"/><circle cx="197.2" cy="605.0" r="5.7" class="c38"/><circle cx="325.1" cy="607.7" r="5.7" class="c38"/><circle cx="324.5" cy="601.9" r="5.7" class="c39"/><circle cx="336.8" cy="612.9" r="5.7" class="c39"/><circle cx="271.3" cy="600.8" r="5.7" class="c38"/><circle cx="226.5" cy="603.8" r="5.7" class="c38"/><circle cx="232.8" cy="602.0" r="5.7" class="c37"/><circle cx="256.4" cy="606.3" r="5.7" class="c38"/><circle cx="256.0" cy="602.7" r="5.7" class="c38"/><circle cx="340.0" cy="591.4" r="5.7" class="c36"/><circle cx="253.2" cy="602.6" r="5.7" class="c39"/><circle cx="312.5" cy="607.1" r="5.7" class="c38"/><circle cx="214.1" cy="603.4" r="5.7" class="c39"/><circle cx="379.9" cy="614.5" r="5.7" class="c38"/><circle cx="261.3" cy="611.6" r="5.7" class="c39"/><circle cx="157.4" cy="603.8" r="5.7" class="c39"/><circle cx="273.5" cy="604.0" r="5.7" class="c39"/><circle cx="197.6" cy="605.6" r="5.7" class="c39"/><circle cx="200.5" cy="603.7" r="5.7" class="c39"/><circle cx="320.4" cy="594.7" r="5.7" class="c38"/><circle cx="236.8" cy="607.2" r="5.7" class="c37"/><circle cx="385.4" cy="615.6" r="5.7" class="c35"/><circle cx="282.5" cy="603.1" r="5.7" class="c38"/><circle cx="261.6" cy="602.3" r="5.7" class="c38"/><circle cx="316.4" cy="619.6" r="5.7" class="c39"/><circle cx="343.0" cy="602.2" r="5.7" class="c38"/><circle cx="274.6" cy="601.7" r="5.7" class="c37"/><circle cx="365.0" cy="582.7" r="5.7" class="c38"/><circle cx="274.9" cy="604.6" r="5.7" class="c39"/><circle cx="333.3" cy="596.1" r="5.7" class="c39"/><circle cx="276.1" cy="610.3" r="5.7" class="c38"/><circle cx="315.9" cy="598.8" r="5.7" class="c39"/><circle cx="372.0" cy="615.0" r="5.7" class="c39"/><circle cx="331.9" cy="604.3" r="5.7" class="c38"/><circle cx="304.6" cy="609.2" r="5.7" class="c39"/><circle cx="353.5" cy="601.5" r="5.7" class="c37"/><circle cx="288.4" cy="603.8" r="5.7" class="c37"/><circle cx="210.7" cy="604.7" r="5.7" class="c39"/><circle cx="323.9" cy="600.7" r="5.7" class="c39"/><circle cx="312.7" cy="608.8" r="5.7" class="c39"/><circle cx="300.5" cy="600.5" r="5.7" class="c39"/><circle cx="288.2" cy="606.2" r="5.7" class="c39"/><circle cx="381.1" cy="614.6" r="5.7" class="c38"/><circle cx="357.5" cy="615.2" r="5.7" class="c38"/><circle cx="323.5" cy="604.7" r="5.7" class="c38"/><circle cx="368.1" cy="607.8" r="5.7" class="c38"/><circle cx="327.1" cy="601.1" r="5.7" class="c38"/><circle cx="258.5" cy="599.6" r="5.7" class="c37"/><circle cx="263.4" cy="601.9" r="5.7" class="c38"/><circle cx="366.2" cy="568.9" r="5.7" class="c39"/><circle cx="202.9" cy="602.2" r="5.7" class="c39"/><circle cx="261.3" cy="611.1" r="5.7" class="c38"/><circle cx="282.5" cy="603.4" r="5.7" class="c39"/><circle cx="312.2" cy="600.2" r="5.7" class="c38"/><circle cx="318.1" cy="610.9" r="5.7" class="c38"/><circle cx="366.3" cy="624.1" r="5.7" class="c32"/><circle cx="372.3" cy="628.3" r="5.7" class="c38"/><circle cx="236.6" cy="603.3" r="5.7" class="c38"/><circle cx="231.5" cy="602.8" r="5.7" class="c38"/><circle cx="377.7" cy="597.0" r="5.7" class="c38"/><circle cx="248.8" cy="605.5" r="5.7" class="c39"/><circle cx="197.4" cy="602.6" r="5.7" class="c39"/><circle cx="310.6" cy="601.0" r="5.7" class="c38"/><circle cx="279.0" cy="605.2" r="5.7" class="c38"/><circle cx="309.5" cy="599.6" r="5.7" class="c39"/><circle cx="258.1" cy="606.5" r="5.7" class="c38"/><circle cx="277.3" cy="601.5" r="5.7" class="c39"/><circle cx="205.4" cy="603.6" r="5.7" class="c38"/><circle cx="381.6" cy="594.2" r="5.7" class="c39"/><circle cx="345.8" cy="606.0" r="5.7" class="c39"/><circle cx="326.9" cy="602.3" r="5.7" class="c38"/><circle cx="253.8" cy="600.6" r="5.7" class="c39"/><circle cx="251.1" cy="603.9" r="5.7" class="c38"/><circle cx="333.9" cy="602.3" r="5.7" class="c39"/><circle cx="326.2" cy="605.9" r="5.7" class="c39"/><circle cx="278.3" cy="601.9" r="5.7" class="c39"/><circle cx="326.7" cy="602.6" r="5.7" class="c39"/><circle cx="199.0" cy="605.1" r="5.7" class="c38"/><circle cx="351.4" cy="599.1" r="5.7" class="c39"/><circle cx="204.3" cy="602.3" r="5.7" class="c39"/><circle cx="365.5" cy="592.6" r="5.7" class="c39"/><circle cx="228.0" cy="606.8" r="5.7" class="c37"/><circle cx="302.8" cy="604.9" r="5.7" class="c39"/><circle cx="212.2" cy="600.8" r="5.7" class="c39"/><circle cx="191.1" cy="603.8" r="5.7" class="c39"/><circle cx="284.2" cy="601.4" r="5.7" class="c37"/><circle cx="366.8" cy="628.0" r="5.7" class="c39"/><circle cx="329.1" cy="613.2" r="5.7" class="c38"/><circle cx="317.5" cy="614.5" r="5.7" class="c38"/><circle cx="211.7" cy="604.5" r="5.7" class="c38"/><circle cx="294.2" cy="604.7" r="5.7" class="c39"/><circle cx="317.8" cy="602.0" r="5.7" class="c38"/><circle cx="352.1" cy="595.5" r="5.7" class="c38"/><circle cx="337.2" cy="596.7" r="5.7" class="c38"/><circle cx="253.6" cy="606.1" r="5.7" class="c39"/><circle cx="385.3" cy="619.2" r="5.7" class="c39"/><circle cx="218.1" cy="599.8" r="5.7" class="c39"/><circle cx="273.2" cy="607.0" r="5.7" class="c38"/><circle cx="385.8" cy="606.3" r="5.7" class="c39"/><circle cx="317.1" cy="600.8" r="5.7" class="c38"/><circle cx="324.3" cy="594.4" r="5.7" class="c32"/><circle cx="311.0" cy="608.2" r="5.7" class="c37"/><circle cx="237.2" cy="599.9" r="5.7" class="c38"/><circle cx="199.8" cy="603.3" r="5.7" class="c39"/><circle cx="355.5" cy="615.6" r="5.7" class="c28"/><circle cx="273.5" cy="603.1" r="5.7" class="c39"/><circle cx="340.5" cy="585.3" r="5.7" class="c39"/><circle cx="301.6" cy="604.8" r="5.7" class="c39"/><circle cx="356.2" cy="598.1" r="5.7" class="c38"/><circle cx="289.5" cy="604.9" r="5.7" class="c36"/><circle cx="362.9" cy="612.8" r="5.7" class="c14"/><circle cx="347.9" cy="604.9" r="5.7" class="c38"/><circle cx="322.9" cy="592.6" r="5.7" class="c39"/><circle cx="300.9" cy="601.0" r="5.7" class="c3"/><circle cx="351.0" cy="586.2" r="5.7" class="c39"/><circle cx="383.6" cy="609.2" r="5.7" class="c17"/><circle cx="351.2" cy="622.4" r="5.7" class="c3"/><circle cx="349.1" cy="606.2" r="5.7" class="c39"/><circle cx="203.5" cy="605.7" r="5.7" class="c38"/><circle cx="335.8" cy="610.7" r="5.7" class="c39"/><circle cx="347.1" cy="623.6" r="5.7" class="c12"/><circle cx="196.8" cy="603.1" r="5.7" class="c39"/><circle cx="308.8" cy="613.4" r="5.7" class="c38"/><circle cx="313.1" cy="599.0" r="5.7" class="c39"/><circle cx="333.2" cy="599.6" r="5.7" class="c38"/><circle cx="340.2" cy="606.9" r="5.7" class="c38"/><circle cx="304.4" cy="609.0" r="5.7" class="c39"/><circle cx="218.5" cy="600.5" r="5.7" class="c38"/><circle cx="270.0" cy="602.5" r="5.7" class="c39"/><circle cx="363.5" cy="623.0" r="5.7" class="c39"/><circle cx="331.8" cy="620.9" r="5.7" class="c38"/><circle cx="345.6" cy="590.0" r="5.7" class="c39"/><circle cx="350.6" cy="600.5" r="5.7" class="c38"/><circle cx="315.7" cy="609.8" r="5.7" class="c38"/><circle cx="266.8" cy="603.6" r="5.7" class="c39"/><circle cx="393.9" cy="581.2" r="5.7" class="c39"/><circle cx="277.7" cy="606.2" r="5.7" class="c39"/><circle cx="350.4" cy="610.2" r="5.7" class="c39"/><circle cx="204.9" cy="606.2" r="5.7" class="c38"/><circle cx="211.7" cy="602.2" r="5.7" class="c38"/><circle cx="344.1" cy="611.4" r="5.7" class="c38"/><circle cx="370.2" cy="585.3" r="5.7" class="c38"/><circle cx="221.0" cy="604.9" r="5.7" class="c39"/><circle cx="216.5" cy="602.9" r="5.7" class="c39"/><circle cx="238.3" cy="609.5" r="5.7" class="c39"/><circle cx="256.3" cy="604.0" r="5.7" class="c39"/><circle cx="296.3" cy="597.0" r="5.7" class="c37"/><circle cx="333.7" cy="608.9" r="5.7" class="c39"/><circle cx="267.0" cy="605.9" r="5.7" class="c39"/><circle cx="368.7" cy="615.0" r="5.7" class="c39"/><circle cx="379.8" cy="607.6" r="5.7" class="c39"/><circle cx="206.2" cy="605.0" r="5.7" class="c39"/><circle cx="259.0" cy="603.3" r="5.7" class="c38"/><circle cx="207.4" cy="602.6" r="5.7" class="c38"/><circle cx="367.9" cy="585.7" r="5.7" class="c38"/><circle cx="211.3" cy="604.5" r="5.7" class="c39"/><circle cx="257.1" cy="603.2" r="5.7" class="c39"/><circle cx="336.9" cy="595.2" r="5.7" class="c37"/><circle cx="324.8" cy="599.2" r="5.7" class="c39"/><circle cx="306.5" cy="611.3" r="5.7" class="c38"/><circle cx="275.3" cy="596.3" r="5.7" class="c37"/><circle cx="255.6" cy="604.9" r="5.7" class="c38"/><circle cx="352.0" cy="606.3" r="5.7" class="c38"/><circle cx="300.5" cy="610.0" r="5.7" class="c39"/><circle cx="284.3" cy="600.6" r="5.7" class="c39"/><circle cx="212.1" cy="603.8" r="5.7" class="c38"/><circle cx="195.1" cy="605.6" r="5.7" class="c38"/><circle cx="381.9" cy="588.4" r="5.7" class="c39"/><circle cx="361.7" cy="593.8" r="5.7" class="c39"/><circle cx="310.7" cy="598.0" r="5.7" class="c39"/><circle cx="329.5" cy="608.5" r="5.7" class="c39"/><circle cx="344.2" cy="631.3" r="5.7" class="c39"/><circle cx="297.7" cy="609.4" r="5.7" class="c38"/><circle cx="201.9" cy="603.2" r="5.7" class="c38"/><circle cx="282.9" cy="609.5" r="5.7" class="c38"/><circle cx="373.6" cy="609.7" r="5.7" class="c39"/><circle cx="319.8" cy="600.4" r="5.7" class="c39"/><circle cx="371.1" cy="621.9" r="5.7" class="c38"/><circle cx="128.3" cy="603.6" r="5.7" class="c39"/><circle cx="327.2" cy="609.9" r="5.7" class="c38"/><circle cx="253.7" cy="606.7" r="5.7" class="c39"/><circle cx="342.2" cy="599.7" r="5.7" class="c39"/><circle cx="338.2" cy="603.2" r="5.7" class="c39"/><circle cx="219.1" cy="602.8" r="5.7" class="c39"/><circle cx="228.8" cy="609.7" r="5.7" class="c38"/><circle cx="352.4" cy="612.9" r="5.7" class="c38"/><circle cx="370.9" cy="621.9" r="5.7" class="c39"/><circle cx="272.4" cy="609.6" r="5.7" class="c39"/><circle cx="276.4" cy="607.7" r="5.7" class="c38"/><circle cx="309.4" cy="607.9" r="5.7" class="c1"/><circle cx="236.6" cy="604.5" r="5.7" class="c38"/><circle cx="306.7" cy="605.1" r="5.7" class="c37"/><circle cx="321.5" cy="598.3" r="5.7" class="c35"/><circle cx="361.7" cy="606.1" r="5.7" class="c38"/><circle cx="249.6" cy="602.1" r="5.7" class="c39"/><circle cx="221.3" cy="606.4" r="5.7" class="c39"/><circle cx="197.0" cy="603.9" r="5.7" class="c39"/><circle cx="271.3" cy="600.5" r="5.7" class="c39"/><circle cx="254.9" cy="605.6" r="5.7" class="c39"/><circle cx="320.0" cy="600.6" r="5.7" class="c37"/><circle cx="199.6" cy="602.4" r="5.7" class="c39"/><circle cx="349.2" cy="611.9" r="5.7" class="c39"/><circle cx="261.7" cy="602.4" r="5.7" class="c39"/><circle cx="360.1" cy="609.2" r="5.7" class="c39"/><circle cx="317.7" cy="590.1" r="5.7" class="c39"/><circle cx="208.7" cy="601.5" r="5.7" class="c39"/><circle cx="325.9" cy="607.4" r="5.7" class="c39"/><circle cx="363.4" cy="591.5" r="5.7" class="c38"/><circle cx="380.5" cy="606.1" r="5.7" class="c36"/><circle cx="258.4" cy="605.1" r="5.7" class="c38"/><circle cx="214.9" cy="604.1" r="5.7" class="c39"/><circle cx="342.4" cy="587.9" r="5.7" class="c39"/><circle cx="267.2" cy="604.7" r="5.7" class="c38"/><circle cx="366.3" cy="602.3" r="5.7" class="c38"/><circle cx="215.2" cy="602.9" r="5.7" class="c38"/><circle cx="363.4" cy="608.5" r="5.7" class="c39"/><circle cx="313.8" cy="613.4" r="5.7" class="c36"/><circle cx="327.1" cy="600.3" r="5.7" class="c39"/><circle cx="290.4" cy="604.1" r="5.7" class="c39"/><circle cx="349.1" cy="614.1" r="5.7" class="c38"/><circle cx="241.2" cy="608.9" r="5.7" class="c37"/><circle cx="349.1" cy="600.8" r="5.7" class="c38"/><circle cx="375.6" cy="608.6" r="5.7" class="c39"/><circle cx="272.6" cy="606.5" r="5.7" class="c39"/><circle cx="255.3" cy="606.2" r="5.7" class="c38"/><circle cx="335.7" cy="595.5" r="5.7" class="c37"/><circle cx="252.8" cy="603.4" r="5.7" class="c39"/><circle cx="310.3" cy="607.1" r="5.7" class="c38"/><circle cx="229.0" cy="602.1" r="5.7" class="c38"/><circle cx="314.3" cy="609.4" r="5.7" class="c39"/><circle cx="212.8" cy="602.3" r="5.7" class="c38"/><circle cx="168.5" cy="601.8" r="5.7" class="c39"/><circle cx="257.3" cy="597.3" r="5.7" class="c39"/><circle cx="198.8" cy="604.8" r="5.7" class="c39"/><circle cx="347.0" cy="609.4" r="5.7" class="c38"/><circle cx="309.6" cy="614.2" r="5.7" class="c39"/><circle cx="310.6" cy="604.3" r="5.7" class="c38"/><circle cx="358.4" cy="613.9" r="5.7" class="c39"/><circle cx="264.7" cy="599.1" r="5.7" class="c38"/><circle cx="248.7" cy="603.5" r="5.7" class="c39"/><circle cx="289.7" cy="603.0" r="5.7" class="c39"/><circle cx="289.8" cy="601.5" r="5.7" class="c38"/><circle cx="352.9" cy="603.0" r="5.7" class="c38"/><circle cx="237.4" cy="605.0" r="5.7" class="c39"/><circle cx="324.1" cy="586.9" r="5.7" class="c38"/><circle cx="360.6" cy="628.8" r="5.7" class="c38"/><circle cx="298.7" cy="606.6" r="5.7" class="c39"/><circle cx="217.4" cy="606.3" r="5.7" class="c38"/><circle cx="213.1" cy="605.0" r="5.7" class="c39"/><circle cx="198.9" cy="605.1" r="5.7" class="c38"/><circle cx="191.9" cy="605.1" r="5.7" class="c39"/><circle cx="336.3" cy="598.4" r="5.7" class="c36"/><circle cx="296.3" cy="594.1" r="5.7" class="c38"/><circle cx="330.0" cy="589.1" r="5.7" class="c37"/><circle cx="369.4" cy="610.2" r="5.7" class="c38"/><circle cx="269.3" cy="603.1" r="5.7" class="c39"/><circle cx="366.6" cy="616.9" r="5.7" class="c38"/><circle cx="282.8" cy="608.3" r="5.7" class="c38"/><circle cx="179.6" cy="604.1" r="5.7" class="c39"/><circle cx="250.4" cy="596.1" r="5.7" class="c38"/><circle cx="342.5" cy="598.0" r="5.7" class="c38"/><circle cx="335.0" cy="588.6" r="5.7" class="c37"/><circle cx="237.7" cy="608.0" r="5.7" class="c39"/><circle cx="280.1" cy="606.2" r="5.7" class="c39"/><circle cx="197.5" cy="607.3" r="5.7" class="c38"/><circle cx="367.1" cy="619.2" r="5.7" class="c37"/><circle cx="292.3" cy="602.5" r="5.7" class="c39"/><circle cx="353.2" cy="598.4" r="5.7" class="c38"/><circle cx="330.0" cy="610.1" r="5.7" class="c37"/><circle cx="299.6" cy="606.1" r="5.7" class="c39"/><circle cx="308.6" cy="595.9" r="5.7" class="c39"/><circle cx="351.4" cy="601.9" r="5.7" class="c38"/><circle cx="323.3" cy="601.2" r="5.7" class="c38"/><circle cx="305.1" cy="600.0" r="5.7" class="c38"/><circle cx="256.7" cy="601.3" r="5.7" class="c39"/><circle cx="356.6" cy="600.3" r="5.7" class="c38"/><circle cx="322.0" cy="599.0" r="5.7" class="c38"/><circle cx="351.0" cy="588.6" r="5.7" class="c39"/><circle cx="258.9" cy="606.2" r="5.7" class="c39"/><circle cx="300.1" cy="598.5" r="5.7" class="c38"/><circle cx="223.1" cy="599.6" r="5.7" class="c38"/><circle cx="251.6" cy="605.6" r="5.7" class="c38"/><circle cx="333.3" cy="611.0" r="5.7" class="c38"/><circle cx="383.9" cy="587.7" r="5.7" class="c38"/><circle cx="260.1" cy="607.0" r="5.7" class="c39"/><circle cx="298.0" cy="598.7" r="5.7" class="c39"/><circle cx="283.1" cy="604.6" r="5.7" class="c39"/><circle cx="338.4" cy="614.7" r="5.7" class="c39"/><circle cx="289.7" cy="606.5" r="5.7" class="c38"/><circle cx="291.8" cy="601.8" r="5.7" class="c38"/><circle cx="344.2" cy="618.0" r="5.7" class="c39"/><circle cx="308.1" cy="600.8" r="5.7" class="c39"/><circle cx="287.0" cy="612.2" r="5.7" class="c38"/><circle cx="252.6" cy="602.6" r="5.7" class="c38"/><circle cx="363.2" cy="637.6" r="5.7" class="c38"/><circle cx="283.1" cy="610.2" r="5.7" class="c38"/><circle cx="211.5" cy="603.4" r="5.7" class="c39"/><circle cx="354.7" cy="609.1" r="5.7" class="c37"/><circle cx="340.5" cy="612.6" r="5.7" class="c38"/><circle cx="335.0" cy="607.9" r="5.7" class="c38"/><circle cx="293.8" cy="604.2" r="5.7" class="c39"/><circle cx="167.6" cy="605.0" r="5.7" class="c39"/><circle cx="318.3" cy="606.8" r="5.7" class="c39"/><circle cx="264.6" cy="601.9" r="5.7" class="c39"/><circle cx="375.9" cy="598.7" r="5.7" class="c38"/><circle cx="232.7" cy="605.4" r="5.7" class="c39"/><circle cx="336.3" cy="600.1" r="5.7" class="c38"/><circle cx="343.4" cy="616.3" r="5.7" class="c39"/><circle cx="307.0" cy="596.2" r="5.7" class="c38"/><circle cx="368.6" cy="587.2" r="5.7" class="c39"/><circle cx="244.8" cy="607.6" r="5.7" class="c39"/><circle cx="291.3" cy="596.7" r="5.7" class="c39"/><circle cx="309.2" cy="601.4" r="5.7" class="c39"/><circle cx="253.6" cy="604.8" r="5.7" class="c38"/><circle cx="327.6" cy="592.6" r="5.7" class="c38"/><circle cx="236.3" cy="604.1" r="5.7" class="c38"/><circle cx="223.5" cy="608.7" r="5.7" class="c38"/><circle cx="174.9" cy="604.1" r="5.7" class="c39"/><circle cx="297.6" cy="609.0" r="5.7" class="c39"/><circle cx="310.4" cy="605.4" r="5.7" class="c38"/><circle cx="323.6" cy="612.4" r="5.7" class="c39"/><circle cx="247.2" cy="605.4" r="5.7" class="c38"/><circle cx="296.0" cy="602.0" r="5.7" class="c38"/><circle cx="332.1" cy="608.9" r="5.7" class="c37"/><circle cx="324.6" cy="587.5" r="5.7" class="c38"/><circle cx="291.0" cy="603.3" r="5.7" class="c38"/><circle cx="324.1" cy="599.0" r="5.7" class="c39"/><circle cx="263.3" cy="597.9" r="5.7" class="c38"/><circle cx="359.4" cy="619.5" r="5.7" class="c38"/><circle cx="199.9" cy="604.1" r="5.7" class="c39"/><circle cx="295.1" cy="596.3" r="5.7" class="c38"/><circle cx="354.7" cy="597.8" r="5.7" class="c38"/><circle cx="208.4" cy="602.9" r="5.7" class="c38"/><circle cx="310.8" cy="604.0" r="5.7" class="c39"/><circle cx="307.1" cy="599.1" r="5.7" class="c38"/><circle cx="349.4" cy="596.8" r="5.7" class="c39"/><circle cx="324.7" cy="608.7" r="5.7" class="c39"/><circle cx="113.7" cy="604.8" r="5.7" class="c39"/><circle cx="366.8" cy="599.3" r="5.7" class="c38"/><circle cx="330.3" cy="599.6" r="5.7" class="c39"/><circle cx="198.5" cy="603.9" r="5.7" class="c38"/><circle cx="327.3" cy="595.9" r="5.7" class="c38"/><circle cx="193.0" cy="604.4" r="5.7" class="c38"/><circle cx="108.0" cy="605.0" r="5.7" class="c39"/><circle cx="233.9" cy="607.0" r="5.7" class="c37"/><circle cx="323.3" cy="608.2" r="5.7" class="c39"/><circle cx="266.9" cy="604.6" r="5.7" class="c38"/><circle cx="303.5" cy="605.1" r="5.7" class="c39"/><circle cx="377.1" cy="617.4" r="5.7" class="c38"/><circle cx="234.9" cy="607.4" r="5.7" class="c38"/><circle cx="198.0" cy="604.3" r="5.7" class="c39"/><circle cx="348.9" cy="595.1" r="5.7" class="c38"/><circle cx="141.7" cy="604.4" r="5.7" class="c39"/><circle cx="329.2" cy="601.6" r="5.7" class="c38"/><circle cx="242.0" cy="597.2" r="5.7" class="c39"/><circle cx="278.2" cy="603.3" r="5.7" class="c39"/><circle cx="276.8" cy="610.2" r="5.7" class="c39"/><circle cx="117.8" cy="602.8" r="5.7" class="c39"/><circle cx="350.7" cy="598.1" r="5.7" class="c38"/><circle cx="341.4" cy="602.2" r="5.7" class="c39"/><circle cx="381.1" cy="602.2" r="5.7" class="c39"/><circle cx="336.2" cy="603.6" r="5.7" class="c38"/><circle cx="346.7" cy="608.7" r="5.7" class="c39"/><circle cx="264.1" cy="606.7" r="5.7" class="c39"/><circle cx="335.5" cy="596.7" r="5.7" class="c39"/><circle cx="378.7" cy="616.9" r="5.7" class="c39"/><circle cx="298.3" cy="606.3" r="5.7" class="c38"/><circle cx="310.9" cy="604.1" r="5.7" class="c39"/><circle cx="374.6" cy="581.7" r="5.7" class="c39"/><circle cx="351.6" cy="609.5" r="5.7" class="c38"/><circle cx="353.7" cy="610.6" r="5.7" class="c38"/><circle cx="385.7" cy="598.4" r="5.7" class="c39"/><circle cx="366.6" cy="611.8" r="5.7" class="c38"/><circle cx="201.7" cy="604.1" r="5.7" class="c39"/><circle cx="346.0" cy="601.4" r="5.7" class="c38"/><circle cx="315.8" cy="611.3" r="5.7" class="c39"/><circle cx="270.0" cy="593.7" r="5.7" class="c39"/><circle cx="195.4" cy="603.6" r="5.7" class="c39"/><circle cx="332.9" cy="610.5" r="5.7" class="c38"/><circle cx="324.0" cy="601.2" r="5.7" class="c39"/><circle cx="332.2" cy="614.5" r="5.7" class="c38"/><circle cx="305.4" cy="603.9" r="5.7" class="c39"/><circle cx="336.1" cy="604.9" r="5.7" class="c39"/><circle cx="292.5" cy="606.2" r="5.7" class="c39"/><circle cx="308.6" cy="601.9" r="5.7" class="c39"/><circle cx="275.9" cy="600.5" r="5.7" class="c39"/><circle cx="276.3" cy="603.8" r="5.7" class="c39"/><circle cx="335.1" cy="602.8" r="5.7" class="c38"/><circle cx="313.9" cy="603.5" r="5.7" class="c38"/><circle cx="347.4" cy="613.7" r="5.7" class="c39"/><circle cx="274.2" cy="602.2" r="5.7" class="c39"/><circle cx="278.2" cy="604.7" r="5.7" class="c39"/><circle cx="369.9" cy="605.3" r="5.7" class="c38"/><circle cx="258.7" cy="599.0" r="5.7" class="c39"/><circle cx="345.1" cy="603.9" r="5.7" class="c38"/><circle cx="267.4" cy="604.9" r="5.7" class="c38"/><circle cx="302.0" cy="608.4" r="5.7" class="c38"/><circle cx="238.4" cy="603.4" r="5.7" class="c39"/><circle cx="295.8" cy="606.6" r="5.7" class="c38"/><circle cx="246.9" cy="606.8" r="5.7" class="c38"/><circle cx="313.0" cy="601.1" r="5.7" class="c39"/><circle cx="347.5" cy="589.1" r="5.7" class="c38"/><circle cx="381.3" cy="598.4" r="5.7" class="c36"/><circle cx="330.5" cy="602.5" r="5.7" class="c39"/><circle cx="315.9" cy="613.6" r="5.7" class="c39"/><circle cx="91.9" cy="603.9" r="5.7" class="c39"/><circle cx="306.8" cy="602.0" r="5.7" class="c38"/><circle cx="361.3" cy="616.4" r="5.7" class="c38"/><circle cx="248.9" cy="602.4" r="5.7" class="c39"/><circle cx="301.7" cy="593.2" r="5.7" class="c39"/><circle cx="327.9" cy="602.7" r="5.7" class="c39"/><circle cx="367.1" cy="577.9" r="5.7" class="c39"/><circle cx="374.3" cy="590.3" r="5.7" class="c38"/><circle cx="242.1" cy="604.5" r="5.7" class="c38"/><circle cx="283.4" cy="606.1" r="5.7" class="c39"/><circle cx="310.9" cy="584.7" r="5.7" class="c39"/><circle cx="330.1" cy="621.2" r="5.7" class="c39"/><circle cx="314.5" cy="610.4" r="5.7" class="c39"/><circle cx="269.9" cy="602.8" r="5.7" class="c39"/><circle cx="303.1" cy="606.5" r="5.7" class="c37"/><circle cx="200.3" cy="605.6" r="5.7" class="c39"/><circle cx="298.3" cy="610.8" r="5.7" class="c38"/><circle cx="280.4" cy="601.7" r="5.7" class="c38"/><circle cx="305.7" cy="603.6" r="5.7" class="c38"/><circle cx="361.9" cy="601.9" r="5.7" class="c39"/><circle cx="213.3" cy="605.8" r="5.7" class="c39"/><circle cx="266.3" cy="604.2" r="5.7" class="c39"/><circle cx="356.8" cy="607.9" r="5.7" class="c39"/><circle cx="299.8" cy="597.5" r="5.7" class="c39"/><circle cx="277.1" cy="605.2" r="5.7" class="c39"/><circle cx="281.4" cy="597.8" r="5.7" class="c37"/><circle cx="301.9" cy="614.7" r="5.7" class="c38"/><circle cx="217.4" cy="605.5" r="5.7" class="c39"/><circle cx="243.4" cy="606.4" r="5.7" class="c39"/><circle cx="298.6" cy="597.1" r="5.7" class="c39"/><circle cx="282.7" cy="608.1" r="5.7" class="c39"/><circle cx="264.9" cy="605.3" r="5.7" class="c39"/><circle cx="329.7" cy="604.9" r="5.7" class="c38"/><circle cx="220.7" cy="604.9" r="5.7" class="c39"/><circle cx="251.7" cy="604.4" r="5.7" class="c39"/><circle cx="278.9" cy="607.1" r="5.7" class="c39"/><circle cx="359.7" cy="610.6" r="5.7" class="c37"/><circle cx="210.6" cy="604.5" r="5.7" class="c39"/><circle cx="259.1" cy="598.2" r="5.7" class="c38"/><circle cx="334.7" cy="604.1" r="5.7" class="c38"/><circle cx="275.8" cy="600.8" r="5.7" class="c38"/><circle cx="267.7" cy="606.9" r="5.7" class="c38"/><circle cx="331.6" cy="599.0" r="5.7" class="c38"/><circle cx="251.1" cy="608.3" r="5.7" class="c38"/><circle cx="350.4" cy="606.5" r="5.7" class="c38"/><circle cx="335.9" cy="597.4" r="5.7" class="c39"/><circle cx="231.2" cy="598.8" r="5.7" class="c39"/><circle cx="294.4" cy="599.6" r="5.7" class="c38"/><circle cx="204.9" cy="605.4" r="5.7" class="c39"/><circle cx="349.6" cy="602.6" r="5.7" class="c39"/><circle cx="256.4" cy="604.5" r="5.7" class="c38"/><circle cx="279.5" cy="599.9" r="5.7" class="c39"/><circle cx="312.0" cy="600.3" r="5.7" class="c39"/><circle cx="266.1" cy="610.2" r="5.7" class="c38"/><circle cx="306.2" cy="601.7" r="5.7" class="c36"/><circle cx="118.3" cy="604.3" r="5.7" class="c39"/><circle cx="249.1" cy="604.0" r="5.7" class="c38"/><circle cx="276.4" cy="608.6" r="5.7" class="c38"/><circle cx="201.8" cy="599.1" r="5.7" class="c39"/><circle cx="305.4" cy="617.4" r="5.7" class="c39"/><circle cx="301.8" cy="601.6" r="5.7" class="c38"/><circle cx="343.0" cy="589.6" r="5.7" class="c39"/><circle cx="336.2" cy="605.4" r="5.7" class="c38"/><circle cx="330.8" cy="597.3" r="5.7" class="c38"/><circle cx="311.6" cy="600.0" r="5.7" class="c38"/><circle cx="290.2" cy="602.2" r="5.7" class="c38"/><circle cx="341.6" cy="609.9" r="5.7" class="c39"/><circle cx="236.1" cy="604.5" r="5.7" class="c39"/><circle cx="340.0" cy="607.3" r="5.7" class="c38"/><circle cx="367.0" cy="600.7" r="5.7" class="c39"/><circle cx="339.0" cy="610.4" r="5.7" class="c39"/><circle cx="335.9" cy="587.2" r="5.7" class="c38"/><circle cx="281.5" cy="606.2" r="5.7" class="c39"/><circle cx="234.5" cy="603.5" r="5.7" class="c38"/><circle cx="235.4" cy="603.9" r="5.7" class="c38"/><circle cx="334.2" cy="602.3" r="5.7" class="c38"/><circle cx="294.8" cy="607.6" r="5.7" class="c38"/><circle cx="278.7" cy="607.3" r="5.7" class="c37"/><circle cx="369.8" cy="596.0" r="5.7" class="c38"/><circle cx="323.0" cy="600.2" r="5.7" class="c39"/><circle cx="367.0" cy="603.9" r="5.7" class="c39"/><circle cx="284.6" cy="605.1" r="5.7" class="c38"/><circle cx="328.7" cy="601.6" r="5.7" class="c38"/><circle cx="309.7" cy="597.9" r="5.7" class="c39"/><circle cx="331.8" cy="602.5" r="5.7" class="c38"/><circle cx="233.3" cy="605.8" r="5.7" class="c39"/><circle cx="254.6" cy="602.7" r="5.7" class="c38"/><circle cx="357.1" cy="626.3" r="5.7" class="c36"/><circle cx="209.7" cy="600.5" r="5.7" class="c39"/><circle cx="163.0" cy="604.5" r="5.7" class="c39"/><circle cx="235.8" cy="603.2" r="5.7" class="c38"/><circle cx="228.1" cy="600.5" r="5.7" class="c38"/><circle cx="233.6" cy="604.3" r="5.7" class="c39"/><circle cx="136.7" cy="604.0" r="5.7" class="c39"/><circle cx="373.0" cy="614.1" r="5.7" class="c38"/><circle cx="294.6" cy="606.9" r="5.7" class="c39"/><circle cx="247.9" cy="604.1" r="5.7" class="c38"/><circle cx="341.1" cy="611.1" r="5.7" class="c39"/><circle cx="221.9" cy="600.7" r="5.7" class="c38"/><circle cx="338.8" cy="605.0" r="5.7" class="c39"/><circle cx="246.9" cy="600.2" r="5.7" class="c39"/><circle cx="198.8" cy="602.0" r="5.7" class="c38"/><circle cx="357.5" cy="613.6" r="5.7" class="c39"/><circle cx="264.0" cy="604.3" r="5.7" class="c38"/><circle cx="327.7" cy="598.5" r="5.7" class="c39"/><circle cx="338.1" cy="597.3" r="5.7" class="c39"/><circle cx="343.6" cy="603.7" r="5.7" class="c38"/><circle cx="224.7" cy="603.6" r="5.7" class="c39"/><circle cx="264.8" cy="607.3" r="5.7" class="c39"/><circle cx="270.5" cy="601.8" r="5.7" class="c38"/><circle cx="306.4" cy="614.3" r="5.7" class="c38"/><circle cx="347.5" cy="591.6" r="5.7" class="c39"/><circle cx="314.1" cy="599.7" r="5.7" class="c38"/><circle cx="316.0" cy="607.7" r="5.7" class="c39"/><circle cx="371.1" cy="630.8" r="5.7" class="c39"/><circle cx="292.8" cy="599.7" r="5.7" class="c38"/><circle cx="260.8" cy="600.2" r="5.7" class="c36"/><circle cx="372.5" cy="643.0" r="5.7" class="c39"/><circle cx="297.1" cy="603.8" r="5.7" class="c38"/><circle cx="260.2" cy="603.1" r="5.7" class="c39"/><circle cx="357.1" cy="582.2" r="5.7" class="c39"/><circle cx="256.6" cy="601.5" r="5.7" class="c39"/><circle cx="347.8" cy="610.8" r="5.7" class="c39"/><circle cx="163.0" cy="604.1" r="5.7" class="c39"/><circle cx="320.2" cy="605.5" r="5.7" class="c39"/><circle cx="195.4" cy="602.9" r="5.7" class="c39"/><circle cx="202.2" cy="603.6" r="5.7" class="c39"/><circle cx="259.9" cy="602.2" r="5.7" class="c38"/><circle cx="302.5" cy="599.6" r="5.7" class="c37"/><circle cx="338.0" cy="584.1" r="5.7" class="c38"/><circle cx="363.0" cy="606.8" r="5.7" class="c38"/><circle cx="337.8" cy="593.5" r="5.7" class="c38"/><circle cx="316.7" cy="605.6" r="5.7" class="c38"/><circle cx="325.7" cy="601.7" r="5.7" class="c38"/><circle cx="219.1" cy="601.0" r="5.7" class="c38"/><circle cx="368.7" cy="617.5" r="5.7" class="c38"/><circle cx="279.7" cy="605.0" r="5.7" class="c39"/><circle cx="343.8" cy="593.8" r="5.7" class="c38"/><circle cx="364.9" cy="616.2" r="5.7" class="c39"/><circle cx="159.7" cy="602.6" r="5.7" class="c39"/><circle cx="345.5" cy="606.3" r="5.7" class="c38"/><circle cx="280.8" cy="599.8" r="5.7" class="c39"/><circle cx="351.7" cy="590.7" r="5.7" class="c39"/><circle cx="337.2" cy="615.7" r="5.7" class="c39"/><circle cx="307.7" cy="603.6" r="5.7" class="c38"/><circle cx="317.1" cy="597.8" r="5.7" class="c39"/><circle cx="373.2" cy="614.7" r="5.7" class="c38"/><circle cx="323.8" cy="608.1" r="5.7" class="c39"/><circle cx="333.8" cy="595.8" r="5.7" class="c38"/><circle cx="315.3" cy="610.6" r="5.7" class="c38"/><circle cx="248.1" cy="604.5" r="5.7" class="c38"/><circle cx="300.5" cy="603.5" r="5.7" class="c39"/><circle cx="322.2" cy="599.7" r="5.7" class="c38"/><circle cx="253.1" cy="603.4" r="5.7" class="c39"/><circle cx="356.3" cy="597.4" r="5.7" class="c39"/><circle cx="202.9" cy="605.7" r="5.7" class="c38"/><circle cx="366.1" cy="583.3" r="5.7" class="c38"/><circle cx="182.4" cy="602.0" r="5.7" class="c39"/><circle cx="338.6" cy="607.0" r="5.7" class="c39"/><circle cx="294.3" cy="608.3" r="5.7" class="c38"/><circle cx="241.1" cy="604.6" r="5.7" class="c38"/><circle cx="359.6" cy="591.4" r="5.7" class="c39"/><circle cx="364.3" cy="609.9" r="5.7" class="c39"/><circle cx="328.0" cy="593.4" r="5.7" class="c38"/><circle cx="339.7" cy="588.0" r="5.7" class="c39"/><circle cx="385.0" cy="621.1" r="5.7" class="c37"/><circle cx="295.6" cy="602.1" r="5.7" class="c39"/><circle cx="316.8" cy="601.3" r="5.7" class="c38"/><circle cx="301.5" cy="596.9" r="5.7" class="c39"/><circle cx="303.0" cy="600.8" r="5.7" class="c38"/><circle cx="168.1" cy="605.6" r="5.7" class="c39"/><circle cx="326.7" cy="617.2" r="5.7" class="c39"/><circle cx="199.9" cy="603.6" r="5.7" class="c39"/><circle cx="240.8" cy="599.1" r="5.7" class="c39"/><circle cx="352.8" cy="595.4" r="5.7" class="c38"/><circle cx="324.4" cy="599.3" r="5.7" class="c38"/><circle cx="285.7" cy="607.4" r="5.7" class="c39"/><circle cx="276.0" cy="605.2" r="5.7" class="c39"/><circle cx="188.8" cy="605.6" r="5.7" class="c39"/><circle cx="243.6" cy="604.8" r="5.7" class="c38"/><circle cx="352.4" cy="621.5" r="5.7" class="c37"/><circle cx="200.3" cy="601.8" r="5.7" class="c38"/><circle cx="193.2" cy="605.3" r="5.7" class="c38"/><circle cx="327.6" cy="603.5" r="5.7" class="c39"/><circle cx="253.8" cy="605.9" r="5.7" class="c39"/><circle cx="345.0" cy="609.9" r="5.7" class="c39"/><circle cx="277.0" cy="603.1" r="5.7" class="c39"/><circle cx="350.6" cy="585.1" r="5.7" class="c38"/><circle cx="259.5" cy="611.9" r="5.7" class="c39"/><circle cx="337.7" cy="613.1" r="5.7" class="c37"/><circle cx="261.3" cy="600.5" r="5.7" class="c38"/><circle cx="345.6" cy="592.9" r="5.7" class="c38"/><circle cx="267.1" cy="600.4" r="5.7" class="c38"/><circle cx="372.9" cy="608.3" r="5.7" class="c39"/><circle cx="238.5" cy="603.5" r="5.7" class="c39"/><circle cx="329.5" cy="616.7" r="5.7" class="c39"/><circle cx="364.7" cy="605.1" r="5.7" class="c38"/><circle cx="304.2" cy="612.2" r="5.7" class="c38"/><circle cx="263.0" cy="600.4" r="5.7" class="c38"/><circle cx="204.5" cy="607.0" r="5.7" class="c38"/><circle cx="267.2" cy="600.4" r="5.7" class="c39"/><circle cx="341.2" cy="598.8" r="5.7" class="c38"/><circle cx="151.0" cy="602.8" r="5.7" class="c39"/><circle cx="371.3" cy="606.5" r="5.7" class="c39"/><circle cx="321.2" cy="603.6" r="5.7" class="c38"/><circle cx="214.8" cy="604.5" r="5.7" class="c38"/><circle cx="363.8" cy="604.7" r="5.7" class="c39"/><circle cx="203.6" cy="603.1" r="5.7" class="c39"/><circle cx="265.7" cy="603.1" r="5.7" class="c38"/><circle cx="316.4" cy="608.1" r="5.7" class="c38"/><circle cx="323.6" cy="597.8" r="5.7" class="c38"/><circle cx="201.5" cy="603.2" r="5.7" class="c38"/><circle cx="232.4" cy="604.9" r="5.7" class="c39"/><circle cx="213.1" cy="600.5" r="5.7" class="c39"/><circle cx="361.8" cy="607.7" r="5.7" class="c38"/><circle cx="338.5" cy="614.0" r="5.7" class="c38"/><circle cx="358.4" cy="592.1" r="5.7" class="c39"/><circle cx="299.1" cy="597.7" r="5.7" class="c37"/><circle cx="201.7" cy="603.9" r="5.7" class="c39"/><circle cx="257.4" cy="602.9" r="5.7" class="c37"/><circle cx="275.7" cy="611.5" r="5.7" class="c39"/><circle cx="332.8" cy="603.7" r="5.7" class="c38"/><circle cx="348.9" cy="599.6" r="5.7" class="c39"/><circle cx="289.3" cy="608.6" r="5.7" class="c39"/><circle cx="269.0" cy="591.2" r="5.7" class="c38"/><circle cx="283.0" cy="597.8" r="5.7" class="c38"/><circle cx="282.9" cy="602.5" r="5.7" class="c39"/><circle cx="250.8" cy="603.0" r="5.7" class="c37"/><circle cx="347.9" cy="603.7" r="5.7" class="c39"/><circle cx="342.4" cy="619.4" r="5.7" class="c38"/><circle cx="301.7" cy="606.3" r="5.7" class="c38"/><circle cx="141.3" cy="603.7" r="5.7" class="c39"/><circle cx="367.2" cy="597.0" r="5.7" class="c38"/><circle cx="297.8" cy="595.4" r="5.7" class="c39"/><circle cx="341.8" cy="605.2" r="5.7" class="c39"/><circle cx="300.6" cy="611.3" r="5.7" class="c38"/><circle cx="280.9" cy="604.1" r="5.7" class="c38"/><circle cx="195.3" cy="602.9" r="5.7" class="c37"/><circle cx="278.6" cy="603.2" r="5.7" class="c39"/><circle cx="309.7" cy="605.6" r="5.7" class="c38"/><circle cx="232.5" cy="603.6" r="5.7" class="c38"/><circle cx="369.1" cy="604.7" r="5.7" class="c39"/><circle cx="358.1" cy="567.3" r="5.7" class="c38"/><circle cx="308.3" cy="599.0" r="5.7" class="c38"/><circle cx="298.7" cy="607.6" r="5.7" class="c39"/><circle cx="344.4" cy="585.8" r="5.7" class="c38"/><circle cx="284.5" cy="613.8" r="5.7" class="c38"/><circle cx="287.2" cy="607.9" r="5.7" class="c39"/><circle cx="268.8" cy="605.5" r="5.7" class="c39"/><circle cx="274.8" cy="605.8" r="5.7" class="c38"/><circle cx="269.2" cy="605.3" r="5.7" class="c39"/><circle cx="253.9" cy="602.3" r="5.7" class="c39"/><circle cx="237.4" cy="599.6" r="5.7" class="c39"/><circle cx="358.2" cy="614.4" r="5.7" class="c38"/><circle cx="241.6" cy="599.6" r="5.7" class="c38"/><circle cx="326.0" cy="594.7" r="5.7" class="c39"/><circle cx="328.9" cy="611.9" r="5.7" class="c37"/><circle cx="338.9" cy="615.7" r="5.7" class="c39"/><circle cx="319.9" cy="596.8" r="5.7" class="c38"/><circle cx="222.8" cy="601.3" r="5.7" class="c38"/><circle cx="228.2" cy="604.9" r="5.7" class="c39"/><circle cx="323.2" cy="611.9" r="5.7" class="c39"/><circle cx="310.2" cy="605.5" r="5.7" class="c39"/><circle cx="347.3" cy="630.0" r="5.7" class="c38"/><circle cx="312.3" cy="593.7" r="5.7" class="c38"/><circle cx="353.4" cy="590.4" r="5.7" class="c38"/><circle cx="327.6" cy="598.5" r="5.7" class="c38"/><circle cx="354.3" cy="582.6" r="5.7" class="c38"/><circle cx="383.9" cy="615.9" r="5.7" class="c38"/><circle cx="368.8" cy="621.5" r="5.7" class="c38"/><circle cx="365.1" cy="597.1" r="5.7" class="c38"/><circle cx="311.0" cy="608.8" r="5.7" class="c38"/><circle cx="215.4" cy="604.7" r="5.7" class="c39"/><circle cx="238.6" cy="607.2" r="5.7" class="c39"/><circle cx="190.8" cy="603.3" r="5.7" class="c39"/><circle cx="265.3" cy="605.2" r="5.7" class="c38"/><circle cx="254.2" cy="605.1" r="5.7" class="c39"/><circle cx="331.3" cy="606.0" r="5.7" class="c38"/><circle cx="371.3" cy="586.8" r="5.7" class="c39"/><circle cx="247.7" cy="603.4" r="5.7" class="c38"/><circle cx="238.3" cy="605.1" r="5.7" class="c38"/><circle cx="272.0" cy="603.4" r="5.7" class="c38"/><circle cx="345.4" cy="597.5" r="5.7" class="c39"/><circle cx="275.9" cy="599.8" r="5.7" class="c38"/><circle cx="265.8" cy="603.4" r="5.7" class="c37"/><circle cx="347.4" cy="604.2" r="5.7" class="c38"/><circle cx="200.9" cy="605.7" r="5.7" class="c39"/><circle cx="332.6" cy="610.7" r="5.7" class="c38"/><circle cx="304.1" cy="599.5" r="5.7" class="c39"/><circle cx="295.6" cy="602.5" r="5.7" class="c39"/><circle cx="345.1" cy="593.9" r="5.7" class="c38"/><circle cx="233.7" cy="604.1" r="5.7" class="c39"/><circle cx="192.5" cy="602.6" r="5.7" class="c39"/><circle cx="250.4" cy="600.9" r="5.7" class="c39"/><circle cx="193.3" cy="606.9" r="5.7" class="c39"/><circle cx="221.1" cy="606.8" r="5.7" class="c39"/><circle cx="289.8" cy="605.4" r="5.7" class="c38"/><circle cx="339.7" cy="582.0" r="5.7" class="c37"/><circle cx="349.3" cy="587.2" r="5.7" class="c39"/><circle cx="213.7" cy="603.1" r="5.7" class="c39"/><circle cx="339.7" cy="607.5" r="5.7" class="c38"/><circle cx="202.8" cy="604.9" r="5.7" class="c38"/><circle cx="319.0" cy="605.7" r="5.7" class="c39"/><circle cx="333.5" cy="609.4" r="5.7" class="c38"/><circle cx="315.5" cy="602.1" r="5.7" class="c39"/><circle cx="371.0" cy="595.3" r="5.7" class="c39"/><circle cx="202.5" cy="604.6" r="5.7" class="c39"/><circle cx="308.7" cy="603.8" r="5.7" class="c38"/><circle cx="336.7" cy="601.7" r="5.7" class="c38"/><circle cx="271.7" cy="603.2" r="5.7" class="c38"/><circle cx="192.5" cy="601.0" r="5.7" class="c39"/><circle cx="253.4" cy="608.3" r="5.7" class="c39"/><circle cx="209.1" cy="607.1" r="5.7" class="c39"/><circle cx="284.1" cy="600.5" r="5.7" class="c39"/><circle cx="261.2" cy="599.7" r="5.7" class="c39"/><circle cx="279.6" cy="607.3" r="5.7" class="c38"/><circle cx="267.7" cy="602.7" r="5.7" class="c39"/><circle cx="223.9" cy="603.7" r="5.7" class="c39"/><circle cx="287.5" cy="609.7" r="5.7" class="c36"/><circle cx="279.4" cy="601.0" r="5.7" class="c38"/><circle cx="296.9" cy="602.7" r="5.7" class="c38"/><circle cx="310.9" cy="610.7" r="5.7" class="c38"/><circle cx="347.3" cy="614.9" r="5.7" class="c39"/><circle cx="332.0" cy="614.5" r="5.7" class="c38"/><circle cx="375.0" cy="577.7" r="5.7" class="c38"/><circle cx="326.7" cy="604.7" r="5.7" class="c38"/><circle cx="371.9" cy="614.7" r="5.7" class="c39"/><circle cx="283.9" cy="598.6" r="5.7" class="c38"/><circle cx="301.7" cy="603.9" r="5.7" class="c39"/><circle cx="359.3" cy="627.3" r="5.7" class="c38"/><circle cx="329.3" cy="612.5" r="5.7" class="c39"/><circle cx="283.4" cy="598.5" r="5.7" class="c38"/><circle cx="151.9" cy="602.5" r="5.7" class="c39"/><circle cx="339.5" cy="610.2" r="5.7" class="c39"/><circle cx="281.2" cy="600.7" r="5.7" class="c39"/><circle cx="283.5" cy="604.5" r="5.7" class="c38"/><circle cx="370.4" cy="580.9" r="5.7" class="c38"/><circle cx="198.1" cy="607.1" r="5.7" class="c38"/><circle cx="374.1" cy="618.1" r="5.7" class="c39"/><circle cx="307.7" cy="604.5" r="5.7" class="c38"/><circle cx="368.8" cy="614.4" r="5.7" class="c39"/><circle cx="215.7" cy="604.2" r="5.7" class="c39"/><circle cx="227.7" cy="603.2" r="5.7" class="c39"/><circle cx="161.1" cy="605.4" r="5.7" class="c39"/><circle cx="304.8" cy="617.0" r="5.7" class="c38"/><circle cx="276.0" cy="606.0" r="5.7" class="c39"/><circle cx="340.3" cy="609.7" r="5.7" class="c38"/><circle cx="230.1" cy="603.4" r="5.7" class="c38"/><circle cx="348.8" cy="622.5" r="5.7" class="c38"/><circle cx="372.6" cy="587.0" r="5.7" class="c37"/><circle cx="380.8" cy="602.0" r="5.7" class="c38"/><circle cx="357.1" cy="608.9" r="5.7" class="c38"/><circle cx="265.4" cy="603.8" r="5.7" class="c39"/><circle cx="225.4" cy="606.4" r="5.7" class="c39"/><circle cx="371.5" cy="611.3" r="5.7" class="c39"/><circle cx="266.3" cy="603.8" r="5.7" class="c39"/><circle cx="168.5" cy="604.5" r="5.7" class="c39"/><circle cx="362.2" cy="592.1" r="5.7" class="c38"/><circle cx="221.6" cy="604.7" r="5.7" class="c38"/><circle cx="349.8" cy="609.3" r="5.7" class="c39"/><circle cx="282.9" cy="597.8" r="5.7" class="c39"/><circle cx="221.5" cy="607.7" r="5.7" class="c38"/><circle cx="288.7" cy="608.8" r="5.7" class="c39"/><circle cx="267.4" cy="601.4" r="5.7" class="c38"/><circle cx="331.5" cy="607.8" r="5.7" class="c39"/><circle cx="323.5" cy="611.8" r="5.7" class="c39"/><circle cx="351.4" cy="599.0" r="5.7" class="c38"/><circle cx="373.6" cy="606.8" r="5.7" class="c39"/><circle cx="241.0" cy="600.9" r="5.7" class="c39"/><circle cx="273.0" cy="606.6" r="5.7" class="c38"/><circle cx="339.9" cy="616.9" r="5.7" class="c38"/><circle cx="240.6" cy="601.8" r="5.7" class="c36"/><circle cx="314.4" cy="602.3" r="5.7" class="c38"/><circle cx="360.4" cy="594.9" r="5.7" class="c39"/><circle cx="366.8" cy="615.7" r="5.7" class="c39"/><circle cx="347.7" cy="630.2" r="5.7" class="c38"/><circle cx="336.9" cy="596.9" r="5.7" class="c38"/><circle cx="337.4" cy="604.3" r="5.7" class="c38"/><circle cx="320.8" cy="611.4" r="5.7" class="c38"/><circle cx="360.0" cy="593.9" r="5.7" class="c38"/><circle cx="235.1" cy="606.4" r="5.7" class="c36"/><circle cx="313.7" cy="592.6" r="5.7" class="c39"/><circle cx="379.4" cy="607.2" r="5.7" class="c38"/><circle cx="209.3" cy="605.8" r="5.7" class="c39"/><circle cx="332.8" cy="605.6" r="5.7" class="c38"/><circle cx="382.9" cy="614.8" r="5.7" class="c39"/><circle cx="242.6" cy="604.4" r="5.7" class="c38"/><circle cx="253.0" cy="604.3" r="5.7" class="c39"/><circle cx="359.6" cy="602.9" r="5.7" class="c38"/><circle cx="273.0" cy="605.4" r="5.7" class="c39"/><circle cx="275.4" cy="596.0" r="5.7" class="c38"/><circle cx="281.4" cy="600.5" r="5.7" class="c39"/><circle cx="324.2" cy="605.8" r="5.7" class="c38"/><circle cx="206.2" cy="607.1" r="5.7" class="c38"/><circle cx="280.0" cy="603.0" r="5.7" class="c39"/><circle cx="302.4" cy="595.0" r="5.7" class="c38"/><circle cx="293.7" cy="601.6" r="5.7" class="c39"/><circle cx="284.7" cy="599.6" r="5.7" class="c39"/><circle cx="271.1" cy="606.3" r="5.7" class="c39"/><circle cx="292.7" cy="597.0" r="5.7" class="c38"/><circle cx="280.5" cy="603.3" r="5.7" class="c39"/><circle cx="258.3" cy="608.9" r="5.7" class="c38"/><circle cx="375.6" cy="603.5" r="5.7" class="c39"/><circle cx="241.7" cy="601.0" r="5.7" class="c38"/><circle cx="359.8" cy="601.8" r="5.7" class="c39"/><circle cx="279.6" cy="600.8" r="5.7" class="c38"/><circle cx="332.1" cy="606.3" r="5.7" class="c39"/><circle cx="363.4" cy="632.8" r="5.7" class="c36"/><circle cx="234.0" cy="603.3" r="5.7" class="c38"/><circle cx="215.0" cy="604.0" r="5.7" class="c38"/><circle cx="372.1" cy="618.0" r="5.7" class="c38"/><circle cx="359.8" cy="632.9" r="5.7" class="c39"/><circle cx="356.6" cy="571.5" r="5.7" class="c38"/><circle cx="293.5" cy="599.2" r="5.7" class="c38"/><circle cx="327.9" cy="597.2" r="5.7" class="c39"/><circle cx="219.8" cy="604.7" r="5.7" class="c39"/><circle cx="215.1" cy="601.5" r="5.7" class="c38"/><circle cx="360.4" cy="585.2" r="5.7" class="c37"/><circle cx="341.5" cy="608.9" r="5.7" class="c39"/><circle cx="238.9" cy="605.7" r="5.7" class="c38"/><circle cx="322.6" cy="610.2" r="5.7" class="c39"/><circle cx="254.3" cy="603.3" r="5.7" class="c38"/><circle cx="197.4" cy="604.5" r="5.7" class="c39"/><circle cx="321.4" cy="602.0" r="5.7" class="c38"/><circle cx="302.5" cy="603.5" r="5.7" class="c39"/><circle cx="205.0" cy="600.2" r="5.7" class="c38"/><circle cx="359.6" cy="583.4" r="5.7" class="c38"/><circle cx="367.8" cy="632.9" r="5.7" class="c38"/><circle cx="331.5" cy="611.4" r="5.7" class="c39"/><circle cx="266.8" cy="603.2" r="5.7" class="c38"/><circle cx="214.3" cy="606.9" r="5.7" class="c39"/><circle cx="322.8" cy="592.4" r="5.7" class="c38"/><circle cx="243.0" cy="604.9" r="5.7" class="c38"/><circle cx="277.2" cy="605.5" r="5.7" class="c38"/><circle cx="271.0" cy="601.7" r="5.7" class="c38"/><circle cx="300.2" cy="599.2" r="5.7" class="c39"/><circle cx="316.0" cy="607.1" r="5.7" class="c37"/><circle cx="216.8" cy="602.2" r="5.7" class="c38"/><circle cx="353.4" cy="569.4" r="5.7" class="c39"/><circle cx="333.5" cy="602.7" r="5.7" class="c39"/><circle cx="331.2" cy="601.9" r="5.7" class="c39"/><circle cx="298.4" cy="606.4" r="5.7" class="c39"/><circle cx="316.9" cy="606.4" r="5.7" class="c39"/><circle cx="271.1" cy="606.1" r="5.7" class="c39"/><circle cx="295.5" cy="599.6" r="5.7" class="c38"/><circle cx="255.7" cy="598.7" r="5.7" class="c39"/><circle cx="355.7" cy="601.4" r="5.7" class="c39"/><circle cx="347.1" cy="621.3" r="5.7" class="c39"/><circle cx="382.7" cy="589.0" r="5.7" class="c38"/><circle cx="233.0" cy="599.8" r="5.7" class="c38"/><circle cx="299.4" cy="598.4" r="5.7" class="c38"/><circle cx="324.8" cy="605.3" r="5.7" class="c39"/><circle cx="282.2" cy="604.4" r="5.7" class="c39"/><circle cx="269.2" cy="599.2" r="5.7" class="c37"/><circle cx="376.2" cy="627.0" r="5.7" class="c39"/><circle cx="279.7" cy="603.3" r="5.7" class="c39"/><circle cx="233.5" cy="606.3" r="5.7" class="c39"/><circle cx="338.4" cy="596.8" r="5.7" class="c39"/><circle cx="312.8" cy="608.6" r="5.7" class="c38"/><circle cx="371.7" cy="607.4" r="5.7" class="c38"/><circle cx="359.0" cy="600.9" r="5.7" class="c38"/><circle cx="228.9" cy="610.1" r="5.7" class="c38"/><circle cx="353.7" cy="606.6" r="5.7" class="c38"/><circle cx="205.9" cy="600.6" r="5.7" class="c39"/><circle cx="290.0" cy="613.0" r="5.7" class="c39"/><circle cx="277.4" cy="609.6" r="5.7" class="c39"/><circle cx="369.5" cy="615.4" r="5.7" class="c38"/><circle cx="320.3" cy="594.2" r="5.7" class="c38"/><circle cx="332.5" cy="596.3" r="5.7" class="c38"/><circle cx="343.9" cy="602.7" r="5.7" class="c38"/><circle cx="212.2" cy="605.8" r="5.7" class="c39"/><circle cx="354.1" cy="612.0" r="5.7" class="c39"/><circle cx="201.7" cy="606.9" r="5.7" class="c39"/><circle cx="288.9" cy="596.0" r="5.7" class="c39"/><circle cx="330.2" cy="610.7" r="5.7" class="c39"/><circle cx="342.3" cy="609.0" r="5.7" class="c39"/><circle cx="199.4" cy="605.1" r="5.7" class="c38"/><circle cx="240.4" cy="604.4" r="5.7" class="c38"/><circle cx="287.1" cy="600.3" r="5.7" class="c38"/><circle cx="327.5" cy="604.3" r="5.7" class="c39"/><circle cx="326.2" cy="592.6" r="5.7" class="c38"/><circle cx="265.4" cy="602.2" r="5.7" class="c38"/><circle cx="247.9" cy="602.6" r="5.7" class="c39"/><circle cx="329.4" cy="597.8" r="5.7" class="c39"/><circle cx="242.3" cy="602.8" r="5.7" class="c38"/><circle cx="342.1" cy="611.4" r="5.7" class="c39"/><circle cx="351.9" cy="599.6" r="5.7" class="c39"/><circle cx="355.6" cy="603.7" r="5.7" class="c39"/><circle cx="336.8" cy="605.8" r="5.7" class="c39"/><circle cx="325.0" cy="609.6" r="5.7" class="c38"/><circle cx="318.1" cy="592.0" r="5.7" class="c38"/><circle cx="199.5" cy="603.9" r="5.7" class="c38"/><circle cx="305.5" cy="605.0" r="5.7" class="c39"/><circle cx="206.0" cy="603.0" r="5.7" class="c37"/><circle cx="294.0" cy="607.6" r="5.7" class="c37"/><circle cx="293.7" cy="601.9" r="5.7" class="c39"/><circle cx="350.4" cy="597.7" r="5.7" class="c39"/><circle cx="85.3" cy="603.4" r="5.7" class="c39"/><circle cx="322.9" cy="603.8" r="5.7" class="c39"/><circle cx="369.4" cy="594.5" r="5.7" class="c39"/><circle cx="291.0" cy="610.5" r="5.7" class="c39"/><circle cx="203.4" cy="602.9" r="5.7" class="c38"/><circle cx="223.6" cy="605.5" r="5.7" class="c37"/><circle cx="262.6" cy="601.8" r="5.7" class="c39"/><circle cx="307.2" cy="589.8" r="5.7" class="c39"/><circle cx="339.8" cy="597.2" r="5.7" class="c38"/><circle cx="216.9" cy="604.3" r="5.7" class="c38"/><circle cx="344.4" cy="598.3" r="5.7" class="c39"/><circle cx="346.1" cy="600.4" r="5.7" class="c38"/><circle cx="371.4" cy="619.0" r="5.7" class="c39"/><circle cx="251.5" cy="604.8" r="5.7" class="c38"/><circle cx="199.6" cy="603.4" r="5.7" class="c39"/><circle cx="222.4" cy="603.2" r="5.7" class="c39"/><circle cx="254.5" cy="608.2" r="5.7" class="c38"/><circle cx="288.3" cy="591.8" r="5.7" class="c38"/><circle cx="329.5" cy="609.0" r="5.7" class="c38"/><circle cx="262.9" cy="603.8" r="5.7" class="c39"/><circle cx="361.2" cy="614.1" r="5.7" class="c39"/><circle cx="353.3" cy="603.3" r="5.7" class="c39"/><circle cx="238.1" cy="605.9" r="5.7" class="c39"/><circle cx="318.3" cy="610.4" r="5.7" class="c39"/><circle cx="268.5" cy="602.3" r="5.7" class="c38"/><circle cx="366.7" cy="617.1" r="5.7" class="c39"/><circle cx="254.4" cy="600.4" r="5.7" class="c39"/><circle cx="267.5" cy="604.6" r="5.7" class="c39"/><circle cx="208.6" cy="601.1" r="5.7" class="c38"/><circle cx="353.3" cy="593.6" r="5.7" class="c39"/><circle cx="354.1" cy="606.6" r="5.7" class="c39"/><circle cx="329.2" cy="594.3" r="5.7" class="c39"/><circle cx="317.6" cy="608.9" r="5.7" class="c38"/><circle cx="357.7" cy="606.9" r="5.7" class="c36"/><circle cx="316.8" cy="608.4" r="5.7" class="c37"/><circle cx="290.9" cy="603.3" r="5.7" class="c39"/><circle cx="339.8" cy="605.7" r="5.7" class="c36"/><circle cx="304.4" cy="608.4" r="5.7" class="c39"/><circle cx="362.9" cy="595.7" r="5.7" class="c39"/><circle cx="316.1" cy="591.7" r="5.7" class="c39"/><circle cx="200.8" cy="603.9" r="5.7" class="c39"/><circle cx="194.8" cy="606.3" r="5.7" class="c39"/><circle cx="363.2" cy="581.2" r="5.7" class="c39"/><circle cx="275.1" cy="603.0" r="5.7" class="c39"/><circle cx="339.8" cy="632.4" r="5.7" class="c38"/><circle cx="287.4" cy="602.2" r="5.7" class="c39"/><circle cx="344.9" cy="603.2" r="5.7" class="c39"/><circle cx="258.1" cy="602.7" r="5.7" class="c38"/><circle cx="368.6" cy="598.8" r="5.7" class="c38"/><circle cx="256.0" cy="606.2" r="5.7" class="c38"/><circle cx="210.0" cy="604.6" r="5.7" class="c37"/><circle cx="262.3" cy="605.2" r="5.7" class="c39"/><circle cx="314.3" cy="593.1" r="5.7" class="c39"/><circle cx="354.5" cy="585.8" r="5.7" class="c38"/><circle cx="282.3" cy="602.1" r="5.7" class="c38"/><circle cx="278.1" cy="603.6" r="5.7" class="c39"/><circle cx="250.2" cy="606.2" r="5.7" class="c39"/><circle cx="365.7" cy="581.2" r="5.7" class="c36"/><circle cx="278.8" cy="599.2" r="5.7" class="c39"/><circle cx="311.8" cy="603.6" r="5.7" class="c39"/><circle cx="336.9" cy="604.6" r="5.7" class="c39"/><circle cx="293.3" cy="597.7" r="5.7" class="c38"/><circle cx="263.6" cy="604.5" r="5.7" class="c38"/><circle cx="281.7" cy="602.1" r="5.7" class="c39"/><circle cx="250.1" cy="599.1" r="5.7" class="c39"/><circle cx="378.3" cy="607.1" r="5.7" class="c38"/><circle cx="197.8" cy="606.8" r="5.7" class="c38"/><circle cx="212.9" cy="602.9" r="5.7" class="c39"/><circle cx="309.6" cy="603.0" r="5.7" class="c38"/><circle cx="322.7" cy="615.4" r="5.7" class="c38"/><circle cx="359.5" cy="612.4" r="5.7" class="c39"/><circle cx="329.3" cy="612.5" r="5.7" class="c39"/><circle cx="318.7" cy="619.1" r="5.7" class="c39"/><circle cx="241.1" cy="601.0" r="5.7" class="c39"/><circle cx="274.2" cy="606.4" r="5.7" class="c38"/><circle cx="258.9" cy="600.7" r="5.7" class="c38"/><circle cx="345.5" cy="598.3" r="5.7" class="c39"/><circle cx="297.0" cy="596.6" r="5.7" class="c38"/><circle cx="309.6" cy="594.3" r="5.7" class="c38"/><circle cx="329.1" cy="591.8" r="5.7" class="c38"/><circle cx="199.6" cy="601.3" r="5.7" class="c39"/><circle cx="238.6" cy="605.0" r="5.7" class="c39"/><circle cx="281.6" cy="602.3" r="5.7" class="c38"/><circle cx="315.4" cy="620.6" r="5.7" class="c38"/><circle cx="230.1" cy="608.2" r="5.7" class="c38"/><circle cx="332.4" cy="599.6" r="5.7" class="c38"/><circle cx="233.9" cy="599.9" r="5.7" class="c38"/><circle cx="329.3" cy="603.8" r="5.7" class="c38"/><circle cx="269.4" cy="601.8" r="5.7" class="c38"/><circle cx="255.4" cy="601.8" r="5.7" class="c38"/><circle cx="347.9" cy="622.1" r="5.7" class="c38"/><circle cx="212.4" cy="602.9" r="5.7" class="c38"/><circle cx="351.8" cy="582.5" r="5.7" class="c38"/><circle cx="343.2" cy="591.8" r="5.7" class="c39"/><circle cx="307.9" cy="602.8" r="5.7" class="c39"/><circle cx="355.0" cy="610.0" r="5.7" class="c38"/><circle cx="149.1" cy="605.6" r="5.7" class="c39"/><circle cx="228.8" cy="604.9" r="5.7" class="c37"/><circle cx="246.9" cy="605.6" r="5.7" class="c38"/><circle cx="283.5" cy="600.2" r="5.7" class="c38"/><circle cx="304.5" cy="602.0" r="5.7" class="c38"/><circle cx="293.1" cy="598.3" r="5.7" class="c39"/><circle cx="185.1" cy="604.1" r="5.7" class="c39"/><circle cx="315.0" cy="607.8" r="5.7" class="c38"/><circle cx="225.0" cy="598.7" r="5.7" class="c38"/><circle cx="240.2" cy="600.1" r="5.7" class="c39"/><circle cx="291.8" cy="603.2" r="5.7" class="c38"/><circle cx="325.6" cy="611.1" r="5.7" class="c39"/><circle cx="317.2" cy="592.2" r="5.7" class="c39"/><circle cx="197.0" cy="605.3" r="5.7" class="c37"/><circle cx="362.1" cy="598.4" r="5.7" class="c38"/><circle cx="238.0" cy="600.3" r="5.7" class="c39"/><circle cx="267.3" cy="601.6" r="5.7" class="c38"/><circle cx="250.9" cy="604.0" r="5.7" class="c39"/><circle cx="366.2" cy="629.0" r="5.7" class="c38"/><circle cx="316.1" cy="605.0" r="5.7" class="c38"/><circle cx="352.3" cy="608.6" r="5.7" class="c39"/><circle cx="258.6" cy="606.1" r="5.7" class="c38"/><circle cx="297.3" cy="598.4" r="5.7" class="c39"/><circle cx="224.7" cy="606.6" r="5.7" class="c39"/><circle cx="199.9" cy="606.8" r="5.7" class="c38"/><circle cx="233.7" cy="608.0" r="5.7" class="c39"/><circle cx="292.3" cy="601.8" r="5.7" class="c38"/><circle cx="238.0" cy="600.5" r="5.7" class="c38"/><circle cx="253.0" cy="608.7" r="5.7" class="c39"/><circle cx="370.0" cy="607.0" r="5.7" class="c39"/><circle cx="203.6" cy="603.8" r="5.7" class="c39"/><circle cx="237.2" cy="604.3" r="5.7" class="c39"/><circle cx="310.3" cy="601.3" r="5.7" class="c39"/><circle cx="315.6" cy="601.9" r="5.7" class="c38"/><circle cx="273.5" cy="610.4" r="5.7" class="c39"/><circle cx="256.8" cy="602.7" r="5.7" class="c38"/><circle cx="255.7" cy="603.5" r="5.7" class="c39"/><circle cx="298.9" cy="598.5" r="5.7" class="c39"/><circle cx="203.4" cy="607.1" r="5.7" class="c39"/><circle cx="134.9" cy="603.9" r="5.7" class="c39"/><circle cx="313.8" cy="599.7" r="5.7" class="c38"/><circle cx="239.1" cy="606.7" r="5.7" class="c39"/><circle cx="276.7" cy="607.6" r="5.7" class="c36"/><circle cx="313.6" cy="604.2" r="5.7" class="c39"/><circle cx="312.4" cy="615.6" r="5.7" class="c37"/><circle cx="297.3" cy="615.7" r="5.7" class="c39"/><circle cx="269.6" cy="601.6" r="5.7" class="c39"/><circle cx="340.0" cy="596.1" r="5.7" class="c39"/><circle cx="262.0" cy="606.6" r="5.7" class="c38"/><circle cx="255.5" cy="600.0" r="5.7" class="c39"/><circle cx="363.6" cy="586.2" r="5.7" class="c38"/><circle cx="307.1" cy="596.2" r="5.7" class="c38"/><circle cx="253.8" cy="606.5" r="5.7" class="c38"/><circle cx="249.3" cy="605.6" r="5.7" class="c39"/><circle cx="261.8" cy="598.8" r="5.7" class="c39"/><circle cx="315.4" cy="607.7" r="5.7" class="c26"/><circle cx="321.3" cy="598.8" r="5.7" class="c38"/><circle cx="345.9" cy="602.3" r="5.7" class="c38"/><circle cx="275.5" cy="602.4" r="5.7" class="c39"/><circle cx="305.0" cy="595.1" r="5.7" class="c39"/><circle cx="353.3" cy="622.1" r="5.7" class="c39"/><circle cx="334.8" cy="597.6" r="5.7" class="c39"/><circle cx="335.2" cy="604.5" r="5.7" class="c38"/><circle cx="321.4" cy="593.1" r="5.7" class="c39"/><circle cx="353.9" cy="614.5" r="5.7" class="c39"/><circle cx="306.5" cy="596.6" r="5.7" class="c39"/><circle cx="329.3" cy="604.4" r="5.7" class="c39"/><circle cx="343.1" cy="598.9" r="5.7" class="c38"/><circle cx="364.1" cy="613.1" r="5.7" class="c38"/><circle cx="309.3" cy="599.5" r="5.7" class="c38"/><circle cx="253.1" cy="604.1" r="5.7" class="c39"/><circle cx="280.9" cy="603.0" r="5.7" class="c39"/><circle cx="215.8" cy="607.9" r="5.7" class="c38"/><circle cx="199.2" cy="604.4" r="5.7" class="c39"/><circle cx="321.3" cy="603.1" r="5.7" class="c38"/><circle cx="372.7" cy="603.9" r="5.7" class="c38"/><circle cx="367.3" cy="583.5" r="5.7" class="c39"/><circle cx="280.5" cy="600.8" r="5.7" class="c39"/><circle cx="230.0" cy="610.6" r="5.7" class="c38"/><circle cx="382.4" cy="584.5" r="5.7" class="c11"/><circle cx="355.6" cy="604.1" r="5.7" class="c36"/><circle cx="197.1" cy="602.2" r="5.7" class="c39"/><circle cx="369.0" cy="619.4" r="5.7" class="c36"/><circle cx="372.7" cy="639.1" r="5.7" class="c39"/><circle cx="199.9" cy="604.6" r="5.7" class="c39"/><circle cx="328.5" cy="608.0" r="5.7" class="c38"/><circle cx="314.8" cy="609.3" r="5.7" class="c39"/><circle cx="334.5" cy="602.1" r="5.7" class="c38"/><circle cx="199.9" cy="601.5" r="5.7" class="c39"/><circle cx="324.8" cy="604.2" r="5.7" class="c39"/><circle cx="263.8" cy="598.8" r="5.7" class="c37"/><circle cx="230.4" cy="607.9" r="5.7" class="c38"/><circle cx="308.2" cy="613.6" r="5.7" class="c38"/><circle cx="324.2" cy="614.6" r="5.7" class="c39"/><circle cx="346.6" cy="601.5" r="5.7" class="c38"/><circle cx="269.4" cy="598.6" r="5.7" class="c39"/><circle cx="164.8" cy="602.8" r="5.7" class="c39"/><circle cx="342.5" cy="602.5" r="5.7" class="c38"/><circle cx="348.7" cy="594.4" r="5.7" class="c39"/><circle cx="313.2" cy="597.8" r="5.7" class="c39"/><circle cx="360.4" cy="599.9" r="5.7" class="c38"/><circle cx="324.4" cy="604.7" r="5.7" class="c39"/><circle cx="228.7" cy="604.0" r="5.7" class="c39"/><circle cx="353.8" cy="587.1" r="5.7" class="c38"/><circle cx="355.8" cy="602.8" r="5.7" class="c39"/><circle cx="352.5" cy="584.7" r="5.7" class="c11"/><circle cx="406.5" cy="592.4" r="5.7" class="c31"/><circle cx="337.4" cy="596.1" r="5.7" class="c37"/><circle cx="347.6" cy="596.0" r="5.7" class="c39"/><circle cx="305.5" cy="610.1" r="5.7" class="c38"/><circle cx="312.0" cy="610.7" r="5.7" class="c38"/><circle cx="299.4" cy="607.3" r="5.7" class="c38"/><circle cx="269.0" cy="599.7" r="5.7" class="c38"/><circle cx="262.0" cy="601.2" r="5.7" class="c39"/><circle cx="359.7" cy="607.9" r="5.7" class="c38"/><circle cx="384.2" cy="585.3" r="5.7" class="c24"/><circle cx="357.5" cy="605.8" r="5.7" class="c38"/><circle cx="256.7" cy="603.0" r="5.7" class="c39"/><circle cx="357.9" cy="587.0" r="5.7" class="c38"/><circle cx="354.6" cy="604.0" r="5.7" class="c39"/><circle cx="337.5" cy="607.3" r="5.7" class="c37"/><circle cx="385.0" cy="612.5" r="5.7" class="c34"/><circle cx="371.0" cy="600.1" r="5.7" class="c28"/><circle cx="304.5" cy="604.1" r="5.7" class="c39"/><circle cx="290.0" cy="603.0" r="5.7" class="c38"/><circle cx="335.2" cy="607.7" r="5.7" class="c27"/><circle cx="340.6" cy="604.4" r="5.7" class="c22"/><circle cx="397.5" cy="494.6" r="5.7" class="c8"/><circle cx="406.3" cy="641.3" r="5.7" class="c29"/><circle cx="393.6" cy="695.9" r="5.7" class="c29"/><circle cx="291.0" cy="627.2" r="5.7" class="c30"/><circle cx="309.3" cy="622.3" r="5.7" class="c2"/><circle cx="203.1" cy="640.1" r="5.7" class="c38"/><circle cx="136.0" cy="613.3" r="5.7" class="c39"/><circle cx="83.5" cy="603.3" r="5.7" class="c39"/><circle cx="91.6" cy="603.3" r="5.7" class="c39"/></g>
</g></svg>
<svg x="494" y="415.5" width="354" height="345.5" overflow="hidden"><g transform="translate(-494,-415.5)">
<path stroke="#aaaaaa" stroke-width="3.9" stroke-linecap="round" fill="none" d="M759.0 693.1h0M690.9 676.5h0M723.3 728.9h0M737.2 716.4h0M661.3 661.5h0M709.5 724.1h0M629.2 658.3h0M730.4 702.2h0M675.2 683.4h0M725.0 729.6h0M626.4 613.3h0M764.0 703.8h0M663.4 654.5h0M606.6 526.1h0M714.8 717.0h0M676.1 639.8h0M744.4 716.2h0M702.8 702.1h0M708.4 698.5h0M650.7 636.4h0M659.5 704.4h0M683.8 707.1h0M709.0 713.5h0M714.7 702.3h0M758.4 697.8h0M685.9 682.8h0M726.4 708.3h0M732.8 703.1h0M707.2 688.7h0M690.8 715.0h0M612.2 605.6h0M744.7 722.5h0M660.4 627.5h0M717.5 718.4h0M688.3 704.9h0M729.0 730.7h0M678.5 724.0h0M710.8 704.4h0M649.2 653.0h0M730.4 728.7h0M628.0 626.2h0M764.2 725.2h0M631.9 646.7h0M715.0 708.1h0M730.2 698.7h0M651.6 709.5h0M639.0 617.6h0M692.2 648.5h0M734.3 709.0h0M740.9 701.7h0M735.6 717.7h0M663.7 644.9h0M751.5 717.0h0M688.4 701.6h0M653.4 637.5h0M708.8 733.5h0M708.8 683.9h0M717.3 733.6h0M739.4 689.9h0M740.1 718.3h0M730.1 705.3h0M670.2 632.7h0M630.6 626.7h0M692.0 634.8h0M747.2 717.9h0M659.8 683.6h0M662.1 716.6h0M735.1 722.6h0M670.4 706.5h0M721.7 702.0h0M660.9 643.4h0M642.3 628.7h0M732.8 706.2h0M760.4 702.9h0M677.1 702.5h0M678.7 657.8h0M711.1 704.5h0M759.4 718.4h0M669.6 653.2h0M742.0 730.1h0M684.1 654.7h0M719.4 701.6h0M606.2 585.8h0M712.3 717.0h0M691.1 687.9h0M641.8 652.6h0M746.6 705.4h0M735.0 731.3h0M669.9 662.2h0M701.4 694.4h0M702.9 726.7h0M617.8 629.4h0M629.0 613.4h0M681.6 660.6h0M659.1 662.4h0M709.6 719.1h0M705.7 676.3h0M701.4 684.2h0M686.7 660.5h0M712.7 697.3h0M667.4 643.4h0M669.9 715.5h0M684.0 731.3h0M715.4 695.6h0M739.1 715.1h0M691.3 723.2h0M739.2 702.7h0M726.7 691.9h0M736.4 710.3h0M700.3 701.3h0M675.9 675.8h0M711.6 726.0h0M719.7 733.0h0M671.5 660.8h0M693.5 720.8h0M670.1 661.5h0M656.7 713.2h0M649.0 463.5h0M733.8 720.3h0M680.0 701.7h0M757.0 729.9h0M714.6 733.0h0M786.7 710.2h0M725.1 692.3h0M693.6 697.4h0M726.1 702.5h0M623.7 613.0h0M724.4 722.8h0M708.7 703.1h0M758.6 719.5h0M614.2 617.4h0M683.8 700.2h0M652.5 653.9h0M721.9 710.2h0M677.0 655.6h0M669.9 700.8h0M759.4 705.1h0M687.1 721.6h0M731.8 718.9h0M625.5 608.5h0M611.2 617.6h0M659.0 692.3h0M615.9 593.0h0M739.9 704.9h0M673.7 692.1h0M670.5 720.6h0M717.8 712.6h0M742.0 721.8h0M626.9 607.9h0M700.7 688.1h0M735.9 544.1h0M642.9 662.9h0M772.3 726.9h0M655.8 635.1h0M736.6 725.4h0M652.4 642.1h0M702.1 674.3h0M683.6 704.2h0M728.6 717.8h0M639.8 625.1h0M672.3 695.1h0M673.6 728.8h0M684.8 727.2h0M668.2 644.3h0M682.7 655.9h0M657.9 612.4h0M607.2 596.4h0M679.6 726.7h0M660.1 677.1h0M668.5 638.6h0M644.3 619.8h0M663.4 641.1h0M709.6 709.4h0M685.4 692.1h0M679.6 705.1h0M736.4 714.5h0M763.2 711.7h0M705.7 538.6h0M634.4 606.9h0M652.4 642.6h0M635.6 621.3h0M751.2 708.3h0M699.1 671.1h0M709.3 662.8h0M705.6 686.3h0M765.5 695.9h0M755.2 699.5h0M704.4 673.5h0M694.4 654.0h0M719.7 703.6h0M656.7 640.3h0M749.5 732.7h0M658.0 630.9h0M722.5 715.6h0M690.9 680.3h0M727.0 701.7h0M650.3 630.2h0M642.2 624.9h0M667.7 648.5h0M739.0 722.0h0M660.4 659.9h0M677.2 697.7h0M771.9 698.9h0M732.9 718.2h0M614.7 585.8h0M721.0 702.3h0M733.9 717.2h0M735.9 723.7h0M618.6 600.3h0M703.2 705.4h0M679.0 656.9h0M739.1 731.9h0M674.3 700.1h0M685.0 694.7h0M683.8 717.9h0M679.1 645.8h0M711.7 675.7h0M673.6 661.3h0M708.6 659.7h0M729.2 726.8h0M622.1 612.4h0M667.9 683.8h0M745.3 695.0h0M638.7 642.9h0M717.8 730.8h0M700.0 668.8h0M707.2 727.1h0M750.0 694.8h0M715.4 693.6h0M735.0 718.3h0M661.4 642.4h0M734.4 721.8h0M694.4 722.5h0M682.5 690.6h0M635.8 604.7h0M728.8 718.4h0M688.2 688.3h0M695.6 661.1h0M735.6 705.4h0M704.0 665.2h0M608.7 579.3h0M724.0 682.1h0M758.0 719.4h0M704.5 681.7h0M709.5 699.4h0M688.9 717.2h0M651.5 726.7h0M696.5 653.3h0M737.8 713.2h0M661.4 709.8h0M669.7 707.6h0M689.8 697.3h0M673.7 673.2h0M665.0 626.7h0M666.2 665.0h0M759.2 690.6h0M655.8 661.6h0M647.6 660.3h0M753.5 724.3h0M712.3 669.7h0M741.2 715.1h0M672.8 693.5h0M738.3 703.4h0M675.9 673.5h0M638.9 618.0h0M727.9 714.4h0M725.6 732.3h0M637.5 620.1h0M626.4 606.1h0M705.6 694.4h0M645.4 682.0h0M658.8 687.0h0M686.1 684.8h0M668.1 624.4h0M681.8 684.4h0M657.0 723.5h0M605.5 595.7h0M608.1 503.4h0M613.6 579.8h0M669.2 696.5h0M687.5 705.5h0M664.1 623.9h0M732.5 712.9h0M708.5 721.4h0M712.0 687.1h0M692.3 712.9h0M674.3 649.1h0M717.3 727.0h0M742.3 719.6h0M773.0 706.7h0M703.8 694.5h0M717.2 723.7h0M684.3 632.6h0M725.9 674.2h0M693.4 721.8h0M732.6 719.5h0M721.8 692.9h0M756.6 676.3h0M704.6 682.1h0M665.8 701.2h0M757.9 728.5h0M726.5 686.1h0M706.3 666.6h0M761.7 715.1h0M699.8 665.9h0M618.5 582.1h0M696.9 678.2h0M696.1 652.3h0M681.9 662.8h0M721.6 715.0h0M741.0 686.0h0M633.8 601.4h0M713.6 719.6h0M721.2 661.7h0M697.7 704.8h0M729.6 701.9h0M671.5 641.8h0M671.6 684.1h0M760.0 733.5h0M696.9 691.2h0M766.2 694.4h0M737.2 688.6h0M669.5 664.4h0M692.1 726.3h0M690.6 710.5h0M625.9 617.5h0M752.9 720.2h0M679.2 631.4h0M622.5 638.5h0M714.4 728.8h0M689.1 666.2h0M704.8 720.6h0M704.9 690.0h0M775.1 731.4h0M675.4 658.7h0M740.2 708.0h0M781.5 731.6h0M621.8 588.9h0M693.6 643.2h0M687.4 668.1h0M744.1 676.8h0M676.8 666.5h0M708.7 655.6h0M718.4 719.3h0M706.5 714.2h0M672.6 678.8h0M710.2 698.9h0M788.3 716.0h0M717.5 704.3h0M732.5 706.2h0M732.5 709.6h0M703.1 605.4h0M646.7 695.6h0M622.0 610.6h0M696.9 723.6h0M673.0 681.9h0M687.9 702.2h0M614.4 613.7h0M737.7 731.5h0M732.2 726.3h0M749.3 698.7h0M780.9 696.4h0M729.8 728.7h0M718.6 641.7h0M685.9 684.1h0M717.6 722.1h0M700.0 703.6h0M725.8 714.7h0M654.9 644.0h0M622.8 596.7h0M719.5 709.0h0M706.2 691.4h0M660.1 689.1h0M731.0 692.1h0M716.3 707.4h0M712.8 716.7h0M716.6 731.3h0M781.0 724.9h0M687.3 676.2h0M692.9 661.8h0M600.8 585.9h0M658.0 620.2h0M654.1 680.6h0M710.2 693.2h0M734.4 646.0h0M677.3 699.0h0M737.9 707.3h0M657.3 639.5h0M681.2 716.4h0M604.2 590.4h0M675.0 710.9h0M725.9 715.6h0M691.8 715.1h0M618.7 601.1h0M723.2 720.6h0M647.9 632.7h0M711.9 728.2h0M671.8 638.1h0M622.0 603.7h0M705.0 697.2h0M703.7 722.7h0M604.6 605.4h0M695.0 704.0h0M725.6 716.6h0M715.5 677.3h0M738.4 716.4h0M729.2 697.3h0M652.6 664.2h0M690.9 690.8h0M721.3 726.8h0M684.1 706.4h0M728.1 706.4h0M711.8 702.0h0M689.7 706.1h0M623.2 608.9h0M769.9 713.8h0M687.4 708.6h0M672.6 630.6h0M688.6 641.6h0M738.0 732.9h0M730.6 713.0h0M759.3 721.4h0M729.1 688.5h0M623.0 624.2h0M640.2 661.7h0M682.7 667.2h0M748.3 704.8h0M641.9 618.8h0M666.0 686.8h0M709.0 715.7h0M739.6 719.4h0M682.1 681.1h0M678.5 631.7h0M746.3 712.1h0M619.5 620.4h0M699.3 667.0h0M760.0 722.5h0M665.7 659.3h0M706.2 733.3h0M711.4 704.8h0M669.7 659.1h0M635.3 595.7h0M730.6 693.3h0M650.5 666.7h0M684.4 730.5h0M692.1 709.3h0M731.3 700.0h0M650.4 634.0h0M687.6 690.1h0M738.2 723.2h0M692.2 669.2h0M697.6 681.5h0M684.4 717.1h0M758.2 705.5h0M737.1 708.9h0M748.9 725.6h0M689.9 701.7h0M721.1 717.5h0M712.6 681.7h0M728.8 720.6h0M735.5 710.3h0M739.4 717.5h0M728.7 719.4h0M667.7 712.5h0M710.3 672.2h0M658.1 728.4h0M762.2 727.2h0M698.8 694.2h0M721.1 660.9h0M721.5 707.6h0M684.0 694.8h0M679.7 686.6h0M760.1 726.2h0M707.3 693.5h0M706.9 669.3h0M635.5 620.8h0M727.8 714.9h0M619.1 601.0h0M653.8 705.6h0M676.3 624.6h0M703.7 660.0h0M608.1 594.5h0M686.8 655.2h0M691.8 704.1h0M673.9 659.7h0M680.9 691.1h0M671.4 645.3h0M670.0 674.5h0M655.1 643.4h0M700.1 692.8h0M726.6 718.4h0M699.7 733.5h0M694.8 728.9h0M693.4 688.0h0M642.9 649.7h0M626.2 630.7h0M668.9 658.1h0M699.2 704.1h0M725.7 685.2h0M687.1 719.2h0M671.5 725.3h0M645.1 632.9h0M614.1 614.3h0M701.9 663.1h0M714.8 664.4h0M666.9 662.8h0M714.0 680.8h0M740.0 679.2h0M748.4 715.2h0M662.6 635.4h0M620.5 601.4h0M678.9 655.0h0M626.4 619.9h0M725.8 730.2h0M757.8 729.6h0M628.9 598.2h0M701.2 681.9h0M704.2 717.4h0M681.7 643.7h0M654.1 650.0h0M766.9 719.8h0M718.5 655.9h0M749.3 730.8h0M727.4 692.3h0M683.3 703.1h0M766.6 698.7h0M736.9 732.2h0M679.2 667.7h0M680.5 684.8h0M745.8 726.1h0M689.4 675.3h0M621.5 610.0h0M722.8 696.6h0M775.1 723.9h0M719.4 708.7h0M653.8 661.7h0M602.6 537.7h0M641.3 628.8h0M769.2 727.1h0M714.5 732.3h0M700.0 677.5h0M659.8 644.4h0M719.2 723.9h0M679.0 662.6h0M688.6 684.0h0M685.5 721.0h0M732.7 710.6h0M689.5 725.8h0M744.0 712.6h0M671.4 652.9h0M683.8 718.4h0M612.4 578.7h0M742.4 700.8h0M699.1 713.4h0M658.1 625.1h0M694.7 674.8h0M649.7 619.7h0M727.1 732.7h0M721.4 681.0h0M611.4 610.8h0M686.3 713.3h0M710.8 693.3h0M685.4 665.9h0M780.4 719.9h0M710.5 675.5h0M723.3 733.2h0M717.0 650.9h0M775.0 731.5h0M680.9 673.5h0M626.0 602.0h0M769.2 717.2h0M681.6 718.8h0M699.3 729.0h0M722.8 724.7h0M701.3 677.2h0M788.8 703.6h0M689.2 712.3h0M668.0 680.8h0M742.4 676.8h0M704.8 683.2h0M632.4 609.9h0M723.0 698.3h0M638.7 621.5h0M672.1 706.6h0M716.7 723.5h0M646.5 631.6h0M645.5 628.2h0M690.1 710.5h0M721.5 693.2h0M762.3 728.1h0M671.2 631.9h0M724.5 727.3h0M742.3 724.5h0M658.7 633.1h0M690.7 687.0h0M655.1 632.4h0M715.6 725.0h0M750.1 716.9h0M706.0 680.0h0M638.6 632.3h0M730.9 702.7h0M648.2 637.0h0M760.5 701.3h0M706.8 732.1h0M737.9 714.0h0M737.3 719.1h0M718.3 728.0h0M714.8 684.2h0M716.4 722.4h0M710.5 703.8h0M715.9 669.2h0M658.8 710.5h0M596.0 580.9h0M650.7 631.5h0M693.5 604.3h0M743.9 715.3h0M680.0 680.9h0M748.0 723.2h0M709.5 711.4h0M701.7 680.9h0M754.0 707.5h0M693.6 688.8h0M719.0 714.7h0M663.3 726.0h0M733.9 727.5h0M682.1 725.3h0M700.3 662.9h0M691.0 714.3h0M668.4 653.8h0M708.9 725.7h0M601.3 599.3h0M762.8 685.1h0M692.2 668.1h0M660.0 665.6h0M649.9 617.2h0M717.5 705.5h0M673.6 719.4h0M705.6 721.3h0M726.5 726.7h0M734.4 718.7h0M719.7 681.8h0M742.6 704.4h0M704.4 731.9h0M627.2 613.5h0M740.8 680.5h0M739.5 703.9h0M653.4 663.6h0M673.5 688.6h0M705.2 723.8h0M702.6 720.4h0M748.3 731.4h0M706.7 704.6h0M623.9 622.4h0M699.4 718.2h0M791.2 729.1h0M690.6 680.3h0M716.7 688.2h0M662.4 659.3h0M693.0 681.6h0M697.2 712.2h0M635.2 631.7h0M604.2 596.3h0M754.6 726.1h0M711.1 710.8h0M743.8 728.7h0M677.9 641.8h0M691.7 723.0h0M592.3 566.4h0M719.3 725.6h0M665.9 699.1h0M613.0 576.7h0M680.9 714.7h0M667.7 658.5h0M723.8 702.4h0M709.5 691.9h0M692.6 635.7h0M684.6 718.8h0M691.5 719.0h0M749.9 730.4h0M706.2 733.0h0M726.9 717.3h0M729.0 723.9h0M718.7 716.1h0M644.8 664.6h0M667.3 647.5h0M680.0 685.1h0M613.7 588.1h0M706.5 720.3h0M643.8 648.8h0M720.9 712.3h0M635.1 627.6h0M608.0 587.5h0M699.3 648.6h0M669.6 467.3h0M616.3 580.5h0M769.1 731.7h0M709.3 705.8h0M616.1 623.5h0M620.3 589.6h0M607.0 603.1h0M763.8 717.6h0M740.3 727.4h0M637.8 622.8h0M713.2 697.6h0M614.3 602.1h0M743.4 711.9h0M704.2 688.1h0M713.2 705.9h0M672.3 655.0h0M727.5 704.5h0M709.0 710.8h0M757.9 710.1h0M710.2 694.1h0M595.1 592.9h0M690.5 685.5h0M676.7 714.7h0M749.2 726.2h0M746.6 727.8h0M772.0 731.1h0M671.5 659.1h0M683.2 656.2h0M691.6 636.0h0M727.9 733.2h0M689.8 696.1h0M641.6 630.2h0M691.5 683.9h0M671.3 678.2h0M666.6 641.3h0M708.4 702.2h0M685.8 684.0h0M739.1 700.6h0M698.2 664.1h0M669.5 632.2h0M741.1 703.7h0M708.0 681.7h0M692.1 687.0h0M748.1 693.0h0M747.8 709.1h0M683.3 638.2h0M657.3 648.7h0M727.9 686.7h0M742.8 713.9h0M739.1 701.8h0M691.5 731.4h0M679.5 678.6h0M716.4 681.8h0M693.9 681.5h0M675.2 718.3h0M684.0 645.6h0M663.4 653.6h0M741.6 706.7h0M697.5 718.2h0M722.4 715.9h0M644.8 622.3h0M668.5 657.9h0M632.3 619.0h0M647.5 655.6h0M631.4 633.3h0M746.6 729.8h0M622.3 615.1h0M705.4 702.4h0M724.0 704.0h0M595.3 605.7h0M698.2 648.7h0M626.1 658.7h0M750.8 723.8h0M725.7 718.8h0M711.7 716.1h0M682.8 700.3h0M760.9 724.8h0M733.7 728.0h0M698.3 665.3h0M724.3 673.5h0M687.0 677.6h0M712.8 692.8h0M630.9 655.7h0M787.1 725.8h0M681.0 707.2h0M671.9 628.8h0M659.5 638.3h0M707.6 698.9h0M649.2 642.1h0M651.4 621.0h0M699.9 699.2h0M612.5 610.6h0M708.1 700.6h0M637.8 672.4h0M725.5 699.6h0M719.7 691.9h0M737.9 727.1h0M710.2 678.8h0M700.9 697.8h0M662.6 653.1h0M723.6 714.6h0M641.0 522.9h0M720.4 724.6h0M603.5 584.2h0M738.8 709.5h0M742.0 707.7h0M694.8 684.5h0M697.2 723.3h0M676.5 637.3h0M705.4 661.5h0M664.5 658.4h0M700.6 684.9h0M735.0 714.9h0M647.4 610.3h0M632.6 624.1h0M751.6 730.8h0M725.7 711.6h0M674.7 722.9h0M716.6 730.7h0M682.4 646.1h0M751.6 708.8h0M612.1 591.3h0M747.4 713.4h0M750.2 719.7h0M691.9 668.9h0M683.7 683.9h0M733.4 720.7h0M747.0 728.5h0M703.4 707.2h0M707.1 728.5h0M707.0 717.1h0M728.3 706.3h0M727.2 716.5h0M720.6 717.0h0M679.2 666.3h0M690.1 716.3h0M657.1 696.1h0M623.3 608.7h0M677.7 690.9h0M753.1 702.6h0M724.1 731.8h0M633.7 604.2h0M752.4 729.3h0M677.5 684.0h0M697.1 683.0h0M663.9 661.9h0M624.2 598.1h0M700.6 726.6h0M693.0 713.0h0M647.9 659.9h0M680.3 703.0h0M704.1 716.4h0M729.1 701.4h0M687.1 677.6h0M651.4 617.6h0M692.5 699.8h0M784.1 692.3h0M694.1 728.8h0M691.3 718.5h0M633.5 644.8h0M721.1 721.4h0M726.2 714.8h0M758.5 720.2h0M649.7 658.6h0M703.9 717.3h0M676.8 725.3h0M709.7 724.8h0M664.5 688.2h0M671.8 650.0h0M715.3 728.2h0M625.4 677.8h0M741.0 684.8h0M662.5 732.4h0M787.4 729.6h0M728.9 660.9h0M698.2 679.2h0M749.4 701.3h0M694.1 697.0h0M755.0 724.5h0M721.8 717.7h0M730.2 719.2h0M610.4 605.6h0M608.6 587.9h0M714.6 681.1h0M745.7 695.1h0M719.9 714.3h0M670.2 668.8h0M711.6 715.8h0M613.3 585.5h0M641.5 622.7h0M666.6 635.7h0M710.9 646.9h0M699.4 684.9h0M725.9 728.2h0M634.5 629.5h0M684.1 682.3h0M669.5 659.6h0M772.3 710.6h0M707.1 706.7h0M737.9 712.0h0M703.0 680.6h0M726.9 709.5h0M594.2 510.1h0M740.2 659.3h0M727.1 729.6h0M645.7 627.0h0M741.6 723.3h0M699.8 714.0h0M767.2 726.5h0M675.6 664.7h0M708.7 678.1h0M707.5 673.8h0M743.1 706.5h0M728.6 720.3h0M703.4 714.0h0M752.4 694.8h0M688.7 679.0h0M742.7 711.7h0M723.5 719.6h0M700.7 704.1h0M694.3 653.8h0M626.4 624.6h0M655.7 665.6h0M729.6 720.4h0M608.4 579.4h0M728.9 696.4h0M726.2 724.8h0M696.8 725.1h0M720.8 686.1h0M651.3 627.8h0M668.2 659.2h0M690.9 669.6h0M712.5 718.1h0M725.1 729.4h0M720.7 733.6h0M724.4 705.5h0M701.7 706.3h0M681.3 651.5h0M652.1 637.3h0M600.6 608.1h0M629.7 620.7h0M688.5 719.0h0M717.3 724.8h0M680.9 712.2h0M726.2 715.7h0M676.3 650.5h0M667.1 661.6h0M707.8 690.7h0M736.1 728.6h0M746.5 696.3h0M786.4 713.2h0M786.6 710.5h0M697.2 690.9h0M745.1 720.6h0M741.6 708.3h0M682.6 651.0h0M630.1 598.5h0M710.9 691.3h0M809.8 730.2h0M707.7 702.6h0M666.1 634.5h0M696.1 690.0h0M714.5 685.4h0M742.5 698.4h0M673.1 719.7h0M709.9 716.7h0M620.8 613.9h0M718.4 726.1h0M724.0 709.2h0M692.0 660.1h0M712.0 691.8h0M705.4 690.6h0M772.6 705.8h0M722.7 703.3h0M724.9 719.4h0M698.9 700.3h0M745.7 718.9h0M694.5 673.2h0M742.1 677.7h0M611.2 600.6h0M743.1 704.9h0M759.0 712.9h0M696.8 722.8h0M823.0 699.6h0M629.1 626.8h0M676.4 728.6h0M697.3 664.0h0M606.7 601.1h0M686.2 732.5h0M718.1 695.6h0M697.9 677.3h0M734.1 720.2h0M753.7 728.1h0M744.1 706.3h0M721.9 701.6h0M752.9 675.0h0M733.6 715.4h0M736.7 694.5h0M735.0 719.2h0M748.2 717.2h0M661.4 649.6h0M705.2 686.7h0M701.0 682.4h0M711.8 693.7h0M688.4 659.3h0M718.6 690.0h0M704.0 701.8h0M693.4 708.1h0M700.0 677.9h0M727.9 702.6h0M723.6 688.3h0M703.5 724.5h0M705.4 676.5h0M678.4 656.3h0M686.9 647.6h0M719.7 560.5h0M688.6 639.9h0M708.1 659.6h0M703.3 689.9h0M686.4 649.0h0M657.4 632.4h0M735.9 724.3h0M621.0 588.0h0M735.6 692.1h0M673.1 667.2h0M729.9 731.5h0M679.8 654.0h0M676.3 654.6h0M661.0 632.2h0M715.4 690.5h0M700.1 695.1h0M744.1 705.0h0M605.7 585.3h0M687.4 709.8h0M728.0 719.6h0M688.3 722.4h0M743.4 727.5h0M707.0 702.6h0M728.3 720.4h0M749.4 704.2h0M705.6 714.9h0M669.5 729.8h0M684.7 677.3h0M629.1 642.1h0M698.5 732.7h0M612.1 601.6h0M707.1 698.0h0M646.4 637.0h0M728.6 688.3h0M665.3 625.0h0M721.7 725.7h0M700.6 643.6h0M707.6 694.8h0M639.1 702.4h0M739.1 730.4h0M655.5 645.4h0M664.1 647.4h0M616.8 606.2h0M678.7 674.8h0M751.9 703.2h0M607.2 580.4h0M730.3 710.2h0M761.3 689.9h0M774.2 675.1h0M668.6 712.4h0M615.7 628.4h0M774.1 724.1h0M737.5 703.3h0M783.1 720.6h0M688.2 672.1h0M663.5 676.9h0M672.9 653.0h0M675.2 719.1h0M675.0 638.8h0M694.2 653.9h0M698.7 684.4h0M730.0 702.7h0M605.7 592.0h0M675.5 652.2h0M681.9 658.4h0M783.6 722.3h0M704.2 667.2h0M728.7 728.4h0M767.8 726.7h0M661.0 644.0h0M764.4 731.4h0M627.0 605.0h0M685.1 733.1h0M689.8 630.7h0M622.8 615.9h0M626.4 634.2h0M693.8 703.6h0M680.9 678.8h0M699.6 688.6h0M715.5 702.1h0M669.1 646.8h0M764.4 702.4h0M651.3 642.3h0M602.1 581.3h0M751.1 706.3h0M737.2 671.8h0M634.6 609.7h0M721.4 692.4h0M724.3 705.7h0M677.2 721.6h0M619.4 609.1h0M691.5 685.5h0M655.3 662.5h0M712.4 711.8h0M737.5 731.5h0M684.9 668.8h0M726.9 708.0h0M656.5 640.6h0M708.3 657.2h0M658.7 640.0h0M698.9 674.3h0M740.3 696.7h0M658.2 732.2h0M682.8 666.2h0M698.5 658.2h0M680.7 713.4h0M662.3 662.9h0M654.5 665.3h0M702.1 684.3h0M730.5 703.0h0M752.2 702.8h0M684.2 696.8h0M768.3 705.2h0M654.5 620.2h0M693.0 671.7h0M623.0 618.8h0M672.4 641.1h0M684.5 695.5h0M650.0 718.7h0M688.1 654.0h0M642.8 595.2h0M638.8 610.4h0M691.0 674.8h0M720.0 684.1h0M677.2 631.1h0M666.3 656.5h0M682.2 656.1h0M727.6 706.9h0M725.9 697.2h0M671.5 723.6h0M729.6 722.9h0M754.2 561.7h0M606.9 586.9h0M707.5 720.2h0M685.7 680.1h0M734.0 721.2h0M668.0 644.3h0M775.4 732.1h0M625.3 608.7h0M656.0 665.8h0M749.7 725.4h0M654.7 621.5h0M633.1 633.6h0M628.5 711.5h0M724.1 672.2h0M706.8 675.3h0M693.3 680.7h0M687.0 675.1h0M701.2 686.3h0M714.3 708.6h0M692.4 668.2h0M738.3 724.2h0M692.6 680.4h0M718.0 723.3h0M649.5 614.8h0M695.5 680.2h0M712.0 709.0h0M698.9 727.5h0M707.9 665.4h0M672.5 726.4h0M715.8 703.6h0M725.1 733.0h0M711.3 731.8h0M715.7 718.7h0M705.7 728.9h0M633.3 605.9h0M693.7 678.4h0M650.9 670.1h0M781.0 731.8h0M701.4 728.5h0M649.0 620.2h0M714.9 709.3h0M715.6 679.0h0M719.3 664.4h0M626.6 633.8h0M749.7 713.4h0M731.1 705.0h0M733.2 715.5h0M620.5 586.4h0M751.0 722.0h0M694.6 720.2h0M622.6 606.4h0M697.9 706.2h0M756.4 686.1h0M721.0 731.0h0M617.8 606.6h0M681.5 671.7h0M711.9 682.7h0M697.2 646.8h0M696.1 732.7h0M701.1 684.5h0M680.2 709.3h0M682.3 652.3h0M750.7 687.7h0M665.4 638.0h0M765.9 702.1h0M702.5 723.4h0M694.9 707.2h0M710.4 702.6h0M743.0 708.4h0M751.0 724.3h0M738.9 702.6h0M696.2 689.1h0M707.9 687.8h0M677.7 693.8h0M656.8 653.8h0M728.6 715.9h0M779.6 700.6h0M657.9 666.7h0M746.3 729.2h0M683.6 677.3h0M697.5 713.3h0M685.9 724.3h0M706.1 711.5h0M676.1 641.5h0M598.3 574.7h0M733.9 718.2h0M698.8 677.9h0M706.5 727.0h0M654.0 623.2h0M626.0 613.0h0M702.1 710.3h0M689.9 680.8h0M676.0 691.4h0M711.8 714.3h0M692.9 708.6h0M738.1 692.4h0M627.0 605.9h0M679.5 679.1h0M695.7 718.9h0M639.2 627.7h0M678.8 707.4h0M724.8 677.2h0M674.6 630.1h0M654.9 676.3h0M709.4 694.1h0M701.3 702.6h0M730.7 690.0h0M721.0 721.2h0M677.1 638.2h0M737.2 714.8h0M707.3 716.1h0M700.9 720.2h0M637.6 619.7h0M701.2 699.6h0M635.1 636.9h0M624.7 614.4h0M655.6 654.6h0M631.6 654.1h0M690.1 670.4h0M678.1 632.0h0M674.1 698.0h0M699.2 720.9h0M703.3 698.3h0M631.3 611.9h0M746.6 723.6h0M708.7 705.9h0M749.6 732.7h0M710.1 724.9h0M708.5 712.7h0M680.0 676.2h0M714.7 683.0h0M619.9 604.0h0M617.3 596.9h0M707.4 686.0h0M717.7 717.1h0M718.8 712.3h0M650.3 639.0h0M637.4 629.4h0M599.9 481.1h0M687.5 665.9h0M601.8 632.7h0M759.5 730.3h0M730.7 715.3h0M621.7 596.5h0M658.7 644.9h0M652.9 613.9h0M727.6 727.6h0M756.3 722.8h0M717.4 701.2h0M680.3 661.2h0M693.7 722.4h0M664.9 680.9h0M701.6 724.3h0M642.1 639.1h0M727.0 683.4h0M667.4 676.2h0M694.4 698.7h0M666.8 655.6h0M709.5 481.0h0M672.5 662.4h0M708.1 730.9h0M675.6 684.4h0M748.7 702.9h0M674.1 661.4h0M639.0 650.3h0M613.9 594.1h0M629.1 624.2h0M723.2 732.7h0M714.3 694.7h0M756.0 677.0h0M696.4 716.5h0M727.6 724.2h0M661.8 638.4h0M750.6 700.5h0M714.9 504.5h0M732.1 677.1h0M725.1 636.8h0M766.9 702.5h0M677.0 724.0h0M638.1 617.7h0M702.8 704.9h0M660.8 638.1h0M699.8 702.5h0M652.4 627.1h0M674.2 665.5h0M710.2 715.3h0M634.5 610.6h0M659.3 639.3h0M692.9 673.4h0M678.9 647.1h0M748.4 714.5h0M754.5 727.9h0M637.9 610.3h0M651.2 647.7h0M740.3 724.0h0M696.6 680.8h0M731.9 693.7h0M710.0 714.6h0M686.0 654.4h0M704.2 732.8h0M730.9 717.9h0M624.3 604.5h0M699.0 668.2h0M750.5 688.6h0M637.6 640.4h0M675.6 654.2h0M673.3 648.3h0M764.5 727.2h0M758.7 726.4h0M655.7 628.9h0M631.9 625.1h0M629.9 605.6h0M679.8 711.2h0M673.2 658.0h0M666.1 627.8h0M693.4 686.9h0M779.6 711.8h0M653.3 607.6h0M613.2 616.0h0M730.0 720.9h0M646.0 611.7h0M705.8 707.3h0M720.4 723.6h0M697.2 697.1h0M702.3 720.5h0M703.7 710.4h0M696.3 714.6h0M710.8 707.0h0M710.9 729.8h0M727.6 714.3h0M734.8 709.4h0M661.7 659.3h0M598.5 586.1h0M709.6 728.0h0M657.9 649.3h0M673.2 655.3h0M681.1 703.8h0M718.5 713.7h0M725.7 719.1h0M740.1 727.2h0M668.4 688.2h0M690.1 682.3h0M688.5 698.6h0M642.0 605.4h0M712.5 728.7h0M702.0 681.5h0M624.7 597.8h0M647.2 613.7h0M741.0 691.4h0M726.4 719.8h0M738.8 729.1h0M729.5 701.6h0M691.1 692.4h0M745.1 702.1h0M644.4 624.2h0M744.8 728.4h0M680.9 672.6h0M669.8 686.8h0M734.9 700.4h0M690.9 731.6h0M727.3 701.5h0M742.6 722.0h0M725.7 728.6h0M767.1 708.0h0M678.0 725.3h0M692.5 704.7h0M691.2 666.7h0M730.5 721.2h0M767.6 732.3h0M713.6 727.2h0M714.2 702.0h0M702.2 670.7h0M758.8 727.7h0M648.7 662.2h0M691.3 696.4h0M664.0 708.4h0M633.1 618.8h0M599.6 580.3h0M714.4 709.9h0M733.4 697.1h0M707.7 730.6h0M724.9 696.9h0M727.5 704.7h0M714.3 710.5h0M709.3 712.2h0M683.9 653.7h0M605.9 622.1h0M730.3 693.8h0M759.6 695.9h0M725.9 672.8h0M749.6 722.2h0M715.2 733.2h0M680.6 647.5h0M683.0 684.4h0M609.3 598.6h0M664.6 669.5h0M663.6 669.3h0M688.0 653.7h0M618.5 593.7h0M754.2 694.5h0M670.0 654.9h0M644.1 678.4h0M718.3 715.7h0M687.8 648.6h0M701.2 722.9h0M711.9 686.6h0M749.1 727.9h0M744.2 703.8h0M710.6 709.9h0M613.0 603.3h0M666.5 666.7h0M691.7 673.3h0M660.3 650.2h0M687.0 660.8h0M731.8 718.4h0M742.8 730.6h0M735.5 718.8h0M756.7 700.3h0M736.8 705.1h0M742.7 726.2h0M607.5 584.3h0M654.9 704.2h0M685.7 697.8h0M681.0 651.0h0M747.2 710.8h0M726.7 713.6h0M705.2 695.9h0M687.6 728.0h0M704.5 711.8h0M607.2 579.8h0M691.5 651.1h0M715.5 688.4h0M703.9 707.2h0M621.8 583.3h0M686.0 650.5h0M692.7 706.9h0M654.8 717.9h0M745.8 683.1h0M726.5 717.7h0M721.4 675.3h0M733.5 702.8h0M780.0 725.8h0M751.0 684.4h0M745.1 730.7h0M733.5 719.4h0M687.9 666.2h0M644.4 610.7h0M743.3 715.7h0M728.4 721.0h0M661.6 671.6h0M714.5 699.2h0M704.7 703.3h0M735.8 706.9h0M741.7 715.2h0M719.1 678.5h0M608.6 592.6h0M662.7 648.1h0M713.4 729.8h0M743.0 706.3h0M642.8 640.1h0M735.7 717.4h0M701.7 696.7h0M694.2 726.0h0M722.6 695.8h0M757.0 710.6h0M664.4 634.9h0M645.1 655.3h0M699.5 667.4h0M726.6 718.9h0M654.5 631.4h0M712.7 732.9h0M748.7 683.0h0M747.2 715.2h0M647.2 656.3h0M692.8 700.0h0M729.3 733.3h0M731.5 730.5h0M660.0 694.9h0M662.3 665.9h0M708.2 697.6h0M708.4 695.4h0M675.8 692.1h0M662.2 690.7h0M670.8 677.2h0M718.9 717.8h0M769.8 717.2h0M664.2 659.2h0M620.8 630.8h0M687.1 714.1h0M729.2 712.3h0M770.1 707.9h0M702.2 715.6h0M599.5 605.8h0M738.8 718.5h0M699.3 728.3h0M639.0 611.6h0M700.4 682.2h0M685.9 702.9h0M608.6 601.3h0M677.8 688.0h0M761.7 695.0h0M728.0 724.3h0M721.0 708.5h0M609.0 584.9h0M771.3 697.5h0M700.5 656.6h0M657.3 640.0h0M729.9 701.5h0M696.2 715.2h0M601.2 648.5h0M705.3 723.7h0M658.3 637.2h0M678.1 693.1h0M731.1 670.8h0M651.7 637.7h0M790.2 713.8h0M745.6 685.7h0M717.6 701.3h0M671.0 631.2h0M616.1 685.0h0"/><g class="m"><circle cx="706.4" cy="662.4" r="5.7" class="c39"/><circle cx="603.1" cy="570.6" r="5.7" class="c38"/><circle cx="675.7" cy="639.4" r="5.7" class="c38"/><circle cx="662.4" cy="627.2" r="5.7" class="c9"/><circle cx="711.0" cy="665.7" r="5.7" class="c38"/><circle cx="693.7" cy="672.5" r="5.7" class="c2"/><circle cx="640.4" cy="602.6" r="5.7" class="c26"/><circle cx="675.3" cy="648.3" r="5.7" class="c39"/><circle cx="640.3" cy="615.1" r="5.7" class="c33"/><circle cx="667.7" cy="635.4" r="5.7" class="c39"/><circle cx="729.9" cy="689.8" r="5.7" class="c38"/><circle cx="706.3" cy="669.4" r="5.7" class="c38"/><circle cx="632.8" cy="607.2" r="5.7" class="c38"/><circle cx="723.4" cy="689.7" r="5.7" class="c19"/><circle cx="634.0" cy="602.8" r="5.7" class="c37"/><circle cx="723.1" cy="671.7" r="5.7" class="c39"/><circle cx="702.5" cy="661.5" r="5.7" class="c33"/><circle cx="695.3" cy="654.8" r="5.7" class="c38"/><circle cx="715.3" cy="698.9" r="5.7" class="c36"/><circle cx="658.3" cy="639.2" r="5.7" class="c39"/><circle cx="609.5" cy="574.4" r="5.7" class="c38"/><circle cx="608.8" cy="562.1" r="5.7" class="c38"/><circle cx="613.3" cy="574.6" r="5.7" class="c38"/><circle cx="610.1" cy="537.8" r="5.7" class="c39"/><circle cx="698.9" cy="665.9" r="5.7" class="c3"/><circle cx="588.0" cy="534.3" r="5.7" class="c31"/><circle cx="732.1" cy="707.4" r="5.7" class="c6"/><circle cx="556.2" cy="731.7" r="5.7" class="c31"/><circle cx="615.5" cy="597.1" r="5.7" class="c38"/><circle cx="720.9" cy="707.4" r="5.7" class="c38"/><circle cx="655.2" cy="627.8" r="5.7" class="c38"/><circle cx="727.2" cy="698.2" r="5.7" class="c38"/><circle cx="710.6" cy="688.9" r="5.7" class="c39"/><circle cx="636.6" cy="603.7" r="5.7" class="c38"/><circle cx="644.9" cy="620.5" r="5.7" class="c39"/><circle cx="686.9" cy="670.5" r="5.7" class="c39"/><circle cx="598.7" cy="548.6" r="5.7" class="c39"/><circle cx="651.1" cy="616.1" r="5.7" class="c38"/><circle cx="619.1" cy="594.4" r="5.7" class="c38"/><circle cx="612.1" cy="579.2" r="5.7" class="c39"/><circle cx="613.8" cy="572.4" r="5.7" class="c39"/><circle cx="663.8" cy="640.4" r="5.7" class="c38"/><circle cx="597.5" cy="539.5" r="5.7" class="c38"/><circle cx="614.0" cy="594.0" r="5.7" class="c39"/><circle cx="622.6" cy="592.6" r="5.7" class="c39"/><circle cx="530.0" cy="735.8" r="5.7" class="c8"/><circle cx="717.8" cy="693.3" r="5.7" class="c37"/><circle cx="622.1" cy="587.2" r="5.7" class="c39"/><circle cx="701.6" cy="664.6" r="5.7" class="c39"/><circle cx="700.2" cy="660.3" r="5.7" class="c37"/><circle cx="594.4" cy="541.2" r="5.7" class="c38"/><circle cx="633.6" cy="610.4" r="5.7" class="c39"/><circle cx="698.8" cy="657.5" r="5.7" class="c39"/><circle cx="670.4" cy="637.7" r="5.7" class="c38"/><circle cx="568.6" cy="501.9" r="5.7" class="c39"/><circle cx="618.1" cy="593.6" r="5.7" class="c39"/><circle cx="595.1" cy="539.8" r="5.7" class="c38"/><circle cx="697.8" cy="664.6" r="5.7" class="c38"/><circle cx="700.5" cy="664.0" r="5.7" class="c39"/><circle cx="701.6" cy="676.0" r="5.7" class="c39"/><circle cx="640.0" cy="612.1" r="5.7" class="c38"/><circle cx="611.7" cy="568.4" r="5.7" class="c38"/><circle cx="614.6" cy="574.5" r="5.7" class="c37"/><circle cx="617.3" cy="597.6" r="5.7" class="c38"/><circle cx="621.8" cy="597.1" r="5.7" class="c38"/><circle cx="722.5" cy="679.1" r="5.7" class="c36"/><circle cx="622.0" cy="594.4" r="5.7" class="c39"/><circle cx="674.5" cy="652.3" r="5.7" class="c38"/><circle cx="605.8" cy="556.3" r="5.7" class="c39"/><circle cx="623.6" cy="602.4" r="5.7" class="c39"/><circle cx="639.7" cy="501.0" r="5.7" class="c39"/><circle cx="647.9" cy="614.3" r="5.7" class="c39"/><circle cx="594.0" cy="540.2" r="5.7" class="c39"/><circle cx="591.0" cy="543.0" r="5.7" class="c39"/><circle cx="695.6" cy="660.0" r="5.7" class="c38"/><circle cx="615.4" cy="578.4" r="5.7" class="c37"/><circle cx="519.1" cy="723.4" r="5.7" class="c35"/><circle cx="660.8" cy="623.0" r="5.7" class="c38"/><circle cx="626.8" cy="602.6" r="5.7" class="c38"/><circle cx="686.3" cy="656.1" r="5.7" class="c39"/><circle cx="717.0" cy="682.0" r="5.7" class="c38"/><circle cx="642.1" cy="615.3" r="5.7" class="c37"/><circle cx="718.8" cy="703.5" r="5.7" class="c38"/><circle cx="646.2" cy="615.6" r="5.7" class="c39"/><circle cx="707.4" cy="672.6" r="5.7" class="c39"/><circle cx="640.1" cy="616.8" r="5.7" class="c38"/><circle cx="693.3" cy="655.6" r="5.7" class="c39"/><circle cx="688.4" cy="671.2" r="5.7" class="c38"/><circle cx="678.6" cy="644.5" r="5.7" class="c39"/><circle cx="720.9" cy="692.3" r="5.7" class="c37"/><circle cx="652.4" cy="628.8" r="5.7" class="c37"/><circle cx="592.5" cy="552.9" r="5.7" class="c39"/><circle cx="708.4" cy="663.4" r="5.7" class="c39"/><circle cx="696.4" cy="652.5" r="5.7" class="c39"/><circle cx="665.9" cy="640.6" r="5.7" class="c39"/><circle cx="658.4" cy="628.6" r="5.7" class="c39"/><circle cx="724.9" cy="696.1" r="5.7" class="c38"/><circle cx="690.3" cy="663.0" r="5.7" class="c38"/><circle cx="720.1" cy="706.5" r="5.7" class="c38"/><circle cx="685.3" cy="666.5" r="5.7" class="c38"/><circle cx="617.7" cy="599.6" r="5.7" class="c37"/><circle cx="628.9" cy="604.4" r="5.7" class="c38"/><circle cx="732.7" cy="704.7" r="5.7" class="c39"/><circle cx="597.6" cy="545.4" r="5.7" class="c39"/><circle cx="633.9" cy="602.3" r="5.7" class="c38"/><circle cx="644.3" cy="623.0" r="5.7" class="c39"/><circle cx="680.6" cy="652.0" r="5.7" class="c38"/><circle cx="693.4" cy="657.8" r="5.7" class="c38"/><circle cx="718.8" cy="704.8" r="5.7" class="c32"/><circle cx="613.9" cy="578.2" r="5.7" class="c38"/><circle cx="606.2" cy="573.2" r="5.7" class="c38"/><circle cx="614.1" cy="590.2" r="5.7" class="c39"/><circle cx="620.0" cy="540.0" r="5.7" class="c39"/><circle cx="671.2" cy="650.4" r="5.7" class="c38"/><circle cx="645.3" cy="619.6" r="5.7" class="c38"/><circle cx="677.1" cy="649.3" r="5.7" class="c39"/><circle cx="630.8" cy="599.2" r="5.7" class="c38"/><circle cx="638.4" cy="617.9" r="5.7" class="c39"/><circle cx="592.5" cy="547.8" r="5.7" class="c38"/><circle cx="709.1" cy="684.7" r="5.7" class="c39"/><circle cx="692.4" cy="666.3" r="5.7" class="c38"/><circle cx="626.7" cy="595.0" r="5.7" class="c39"/><circle cx="624.5" cy="592.4" r="5.7" class="c38"/><circle cx="712.0" cy="673.1" r="5.7" class="c39"/><circle cx="692.5" cy="665.7" r="5.7" class="c39"/><circle cx="652.5" cy="618.9" r="5.7" class="c39"/><circle cx="711.4" cy="666.2" r="5.7" class="c39"/><circle cx="595.9" cy="541.6" r="5.7" class="c38"/><circle cx="717.4" cy="690.3" r="5.7" class="c39"/><circle cx="620.3" cy="546.7" r="5.7" class="c39"/><circle cx="716.8" cy="704.0" r="5.7" class="c39"/><circle cx="602.9" cy="569.8" r="5.7" class="c37"/><circle cx="682.5" cy="642.8" r="5.7" class="c39"/><circle cx="605.9" cy="554.4" r="5.7" class="c39"/><circle cx="573.1" cy="533.8" r="5.7" class="c39"/><circle cx="653.7" cy="624.7" r="5.7" class="c37"/><circle cx="725.6" cy="705.3" r="5.7" class="c39"/><circle cx="712.3" cy="668.4" r="5.7" class="c38"/><circle cx="685.7" cy="657.2" r="5.7" class="c38"/><circle cx="598.3" cy="553.9" r="5.7" class="c38"/><circle cx="673.0" cy="634.4" r="5.7" class="c39"/><circle cx="687.2" cy="657.5" r="5.7" class="c38"/><circle cx="723.7" cy="690.9" r="5.7" class="c38"/><circle cx="701.2" cy="676.4" r="5.7" class="c38"/><circle cx="621.6" cy="594.8" r="5.7" class="c39"/><circle cx="609.4" cy="560.1" r="5.7" class="c39"/><circle cx="633.8" cy="613.9" r="5.7" class="c38"/><circle cx="688.7" cy="656.8" r="5.7" class="c38"/><circle cx="682.3" cy="663.8" r="5.7" class="c32"/><circle cx="691.8" cy="650.8" r="5.7" class="c37"/><circle cx="609.9" cy="578.8" r="5.7" class="c38"/><circle cx="613.0" cy="542.4" r="5.7" class="c39"/><circle cx="732.8" cy="694.3" r="5.7" class="c28"/><circle cx="637.0" cy="614.2" r="5.7" class="c39"/><circle cx="711.5" cy="679.6" r="5.7" class="c39"/><circle cx="671.2" cy="641.6" r="5.7" class="c39"/><circle cx="724.1" cy="694.9" r="5.7" class="c38"/><circle cx="664.2" cy="629.8" r="5.7" class="c36"/><circle cx="727.9" cy="701.5" r="5.7" class="c14"/><circle cx="728.0" cy="686.8" r="5.7" class="c38"/><circle cx="683.4" cy="662.4" r="5.7" class="c39"/><circle cx="629.5" cy="641.0" r="5.7" class="c3"/><circle cx="711.0" cy="689.9" r="5.7" class="c39"/><circle cx="732.4" cy="690.0" r="5.7" class="c3"/><circle cx="718.1" cy="688.0" r="5.7" class="c39"/><circle cx="596.9" cy="545.9" r="5.7" class="c38"/><circle cx="696.2" cy="675.0" r="5.7" class="c39"/><circle cx="724.5" cy="686.0" r="5.7" class="c12"/><circle cx="596.9" cy="539.4" r="5.7" class="c39"/><circle cx="687.1" cy="648.6" r="5.7" class="c38"/><circle cx="695.6" cy="652.9" r="5.7" class="c39"/><circle cx="707.9" cy="672.5" r="5.7" class="c38"/><circle cx="720.2" cy="679.3" r="5.7" class="c38"/><circle cx="669.2" cy="644.3" r="5.7" class="c39"/><circle cx="604.8" cy="560.6" r="5.7" class="c38"/><circle cx="640.0" cy="610.8" r="5.7" class="c39"/><circle cx="723.6" cy="702.0" r="5.7" class="c39"/><circle cx="701.0" cy="671.1" r="5.7" class="c38"/><circle cx="721.3" cy="684.6" r="5.7" class="c39"/><circle cx="715.4" cy="689.5" r="5.7" class="c38"/><circle cx="680.9" cy="655.4" r="5.7" class="c38"/><circle cx="632.6" cy="607.7" r="5.7" class="c39"/><circle cx="545.1" cy="731.7" r="5.7" class="c39"/><circle cx="644.2" cy="618.3" r="5.7" class="c39"/><circle cx="714.1" cy="689.2" r="5.7" class="c39"/><circle cx="590.8" cy="547.3" r="5.7" class="c38"/><circle cx="596.2" cy="553.9" r="5.7" class="c38"/><circle cx="719.8" cy="683.1" r="5.7" class="c38"/><circle cx="599.0" cy="563.0" r="5.7" class="c39"/><circle cx="599.2" cy="558.6" r="5.7" class="c39"/><circle cx="616.2" cy="579.9" r="5.7" class="c39"/><circle cx="624.0" cy="597.5" r="5.7" class="c39"/><circle cx="674.1" cy="636.5" r="5.7" class="c37"/><circle cx="708.5" cy="673.0" r="5.7" class="c39"/><circle cx="631.2" cy="607.9" r="5.7" class="c39"/><circle cx="716.9" cy="707.1" r="5.7" class="c39"/><circle cx="536.2" cy="717.9" r="5.7" class="c39"/><circle cx="600.2" cy="548.6" r="5.7" class="c39"/><circle cx="638.0" cy="600.1" r="5.7" class="c38"/><circle cx="597.1" cy="549.8" r="5.7" class="c38"/><circle cx="719.2" cy="706.3" r="5.7" class="c38"/><circle cx="601.0" cy="553.5" r="5.7" class="c39"/><circle cx="623.2" cy="598.2" r="5.7" class="c39"/><circle cx="703.0" cy="676.1" r="5.7" class="c37"/><circle cx="690.8" cy="664.3" r="5.7" class="c39"/><circle cx="672.2" cy="646.4" r="5.7" class="c38"/><circle cx="655.0" cy="616.0" r="5.7" class="c37"/><circle cx="629.2" cy="596.7" r="5.7" class="c38"/><circle cx="726.6" cy="690.8" r="5.7" class="c38"/><circle cx="681.2" cy="640.6" r="5.7" class="c39"/><circle cx="660.4" cy="624.7" r="5.7" class="c39"/><circle cx="602.4" cy="554.3" r="5.7" class="c38"/><circle cx="605.9" cy="537.7" r="5.7" class="c38"/><circle cx="716.4" cy="700.3" r="5.7" class="c39"/><circle cx="694.0" cy="650.6" r="5.7" class="c39"/><circle cx="702.8" cy="668.9" r="5.7" class="c39"/><circle cx="708.0" cy="683.2" r="5.7" class="c39"/><circle cx="654.5" cy="637.8" r="5.7" class="c38"/><circle cx="593.0" cy="544.4" r="5.7" class="c38"/><circle cx="650.2" cy="623.4" r="5.7" class="c38"/><circle cx="695.6" cy="659.4" r="5.7" class="c39"/><circle cx="653.7" cy="472.6" r="5.7" class="c39"/><circle cx="698.4" cy="666.6" r="5.7" class="c38"/><circle cx="627.9" cy="594.9" r="5.7" class="c39"/><circle cx="712.4" cy="681.3" r="5.7" class="c39"/><circle cx="720.7" cy="677.4" r="5.7" class="c39"/><circle cx="607.0" cy="561.1" r="5.7" class="c39"/><circle cx="604.0" cy="570.7" r="5.7" class="c38"/><circle cx="719.0" cy="691.2" r="5.7" class="c38"/><circle cx="652.8" cy="613.1" r="5.7" class="c39"/><circle cx="658.8" cy="617.1" r="5.7" class="c38"/><circle cx="633.1" cy="649.3" r="5.7" class="c1"/><circle cx="618.5" cy="578.2" r="5.7" class="c38"/><circle cx="679.0" cy="646.6" r="5.7" class="c37"/><circle cx="709.6" cy="661.0" r="5.7" class="c35"/><circle cx="729.5" cy="700.3" r="5.7" class="c38"/><circle cx="615.4" cy="590.9" r="5.7" class="c39"/><circle cx="597.1" cy="563.3" r="5.7" class="c39"/><circle cx="602.4" cy="539.6" r="5.7" class="c39"/><circle cx="631.8" cy="612.1" r="5.7" class="c39"/><circle cx="633.6" cy="596.1" r="5.7" class="c39"/><circle cx="689.3" cy="659.6" r="5.7" class="c37"/><circle cx="598.7" cy="542.1" r="5.7" class="c39"/><circle cx="728.5" cy="688.1" r="5.7" class="c39"/><circle cx="620.4" cy="602.7" r="5.7" class="c39"/><circle cx="716.3" cy="698.7" r="5.7" class="c39"/><circle cx="694.8" cy="657.4" r="5.7" class="c39"/><circle cx="597.5" cy="551.0" r="5.7" class="c39"/><circle cx="693.1" cy="665.4" r="5.7" class="c39"/><circle cx="720.1" cy="702.0" r="5.7" class="c38"/><circle cx="619.8" cy="599.5" r="5.7" class="c38"/><circle cx="601.2" cy="557.0" r="5.7" class="c39"/><circle cx="726.5" cy="681.4" r="5.7" class="c39"/><circle cx="639.7" cy="608.1" r="5.7" class="c38"/><circle cx="729.6" cy="704.8" r="5.7" class="c38"/><circle cx="602.4" cy="557.4" r="5.7" class="c38"/><circle cx="713.9" cy="701.9" r="5.7" class="c39"/><circle cx="691.5" cy="653.5" r="5.7" class="c36"/><circle cx="689.7" cy="666.5" r="5.7" class="c39"/><circle cx="653.3" cy="630.7" r="5.7" class="c39"/><circle cx="720.9" cy="688.0" r="5.7" class="c38"/><circle cx="620.1" cy="582.7" r="5.7" class="c37"/><circle cx="720.9" cy="688.0" r="5.7" class="c38"/><circle cx="644.3" cy="613.3" r="5.7" class="c39"/><circle cx="614.3" cy="596.5" r="5.7" class="c38"/><circle cx="695.5" cy="674.9" r="5.7" class="c37"/><circle cx="623.0" cy="594.1" r="5.7" class="c39"/><circle cx="694.1" cy="650.1" r="5.7" class="c38"/><circle cx="607.0" cy="570.8" r="5.7" class="c38"/><circle cx="683.8" cy="654.1" r="5.7" class="c39"/><circle cx="598.1" cy="555.0" r="5.7" class="c38"/><circle cx="637.9" cy="511.8" r="5.7" class="c39"/><circle cx="627.7" cy="598.4" r="5.7" class="c39"/><circle cx="601.7" cy="541.3" r="5.7" class="c39"/><circle cx="704.0" cy="686.0" r="5.7" class="c38"/><circle cx="685.4" cy="649.5" r="5.7" class="c39"/><circle cx="692.7" cy="650.5" r="5.7" class="c38"/><circle cx="718.5" cy="697.0" r="5.7" class="c39"/><circle cx="643.8" cy="605.7" r="5.7" class="c38"/><circle cx="623.5" cy="590.0" r="5.7" class="c39"/><circle cx="653.5" cy="630.0" r="5.7" class="c39"/><circle cx="668.2" cy="630.1" r="5.7" class="c38"/><circle cx="726.9" cy="691.7" r="5.7" class="c38"/><circle cx="608.8" cy="579.0" r="5.7" class="c39"/><circle cx="693.7" cy="663.6" r="5.7" class="c38"/><circle cx="714.5" cy="699.2" r="5.7" class="c38"/><circle cx="666.8" cy="638.8" r="5.7" class="c39"/><circle cx="609.8" cy="559.5" r="5.7" class="c38"/><circle cx="600.1" cy="555.3" r="5.7" class="c39"/><circle cx="597.1" cy="541.4" r="5.7" class="c38"/><circle cx="601.4" cy="534.7" r="5.7" class="c39"/><circle cx="697.9" cy="675.5" r="5.7" class="c36"/><circle cx="675.0" cy="636.5" r="5.7" class="c38"/><circle cx="691.7" cy="669.3" r="5.7" class="c37"/><circle cx="718.0" cy="707.8" r="5.7" class="c38"/><circle cx="642.4" cy="610.1" r="5.7" class="c39"/><circle cx="720.6" cy="705.1" r="5.7" class="c38"/><circle cx="651.6" cy="623.3" r="5.7" class="c38"/><circle cx="635.2" cy="522.6" r="5.7" class="c39"/><circle cx="615.6" cy="591.6" r="5.7" class="c38"/><circle cx="719.1" cy="681.6" r="5.7" class="c38"/><circle cx="697.0" cy="674.2" r="5.7" class="c37"/><circle cx="606.4" cy="579.3" r="5.7" class="c39"/><circle cx="655.6" cy="620.7" r="5.7" class="c39"/><circle cx="611.3" cy="540.1" r="5.7" class="c38"/><circle cx="723.4" cy="705.5" r="5.7" class="c37"/><circle cx="656.7" cy="632.6" r="5.7" class="c39"/><circle cx="734.1" cy="692.0" r="5.7" class="c38"/><circle cx="690.5" cy="669.4" r="5.7" class="c37"/><circle cx="678.1" cy="639.7" r="5.7" class="c39"/><circle cx="676.6" cy="648.5" r="5.7" class="c39"/><circle cx="732.2" cy="690.2" r="5.7" class="c38"/><circle cx="702.8" cy="662.8" r="5.7" class="c38"/><circle cx="683.7" cy="645.0" r="5.7" class="c38"/><circle cx="627.4" cy="597.8" r="5.7" class="c39"/><circle cx="730.6" cy="695.3" r="5.7" class="c38"/><circle cx="707.6" cy="661.5" r="5.7" class="c38"/><circle cx="713.6" cy="689.9" r="5.7" class="c39"/><circle cx="625.2" cy="600.0" r="5.7" class="c39"/><circle cx="665.5" cy="640.2" r="5.7" class="c38"/><circle cx="597.6" cy="565.1" r="5.7" class="c38"/><circle cx="625.3" cy="592.8" r="5.7" class="c38"/><circle cx="712.1" cy="672.6" r="5.7" class="c38"/><circle cx="624.5" cy="601.2" r="5.7" class="c39"/><circle cx="674.7" cy="638.1" r="5.7" class="c39"/><circle cx="666.1" cy="623.6" r="5.7" class="c39"/><circle cx="711.4" cy="677.6" r="5.7" class="c39"/><circle cx="665.7" cy="630.0" r="5.7" class="c38"/><circle cx="676.4" cy="632.1" r="5.7" class="c38"/><circle cx="716.2" cy="683.2" r="5.7" class="c39"/><circle cx="672.8" cy="648.0" r="5.7" class="c39"/><circle cx="653.1" cy="627.4" r="5.7" class="c38"/><circle cx="626.5" cy="593.9" r="5.7" class="c38"/><circle cx="720.8" cy="701.7" r="5.7" class="c38"/><circle cx="654.1" cy="623.6" r="5.7" class="c38"/><circle cx="604.6" cy="553.7" r="5.7" class="c39"/><circle cx="722.1" cy="693.4" r="5.7" class="c37"/><circle cx="723.9" cy="679.6" r="5.7" class="c38"/><circle cx="696.7" cy="674.2" r="5.7" class="c38"/><circle cx="672.1" cy="634.0" r="5.7" class="c39"/><circle cx="626.2" cy="510.9" r="5.7" class="c39"/><circle cx="677.3" cy="657.9" r="5.7" class="c39"/><circle cx="628.6" cy="605.6" r="5.7" class="c39"/><circle cx="605.0" cy="574.4" r="5.7" class="c39"/><circle cx="719.9" cy="675.5" r="5.7" class="c38"/><circle cx="714.1" cy="682.4" r="5.7" class="c39"/><circle cx="667.1" cy="647.0" r="5.7" class="c38"/><circle cx="734.5" cy="707.0" r="5.7" class="c39"/><circle cx="617.7" cy="586.2" r="5.7" class="c39"/><circle cx="671.9" cy="631.5" r="5.7" class="c39"/><circle cx="673.4" cy="649.1" r="5.7" class="c39"/><circle cx="622.7" cy="594.8" r="5.7" class="c38"/><circle cx="712.4" cy="667.0" r="5.7" class="c38"/><circle cx="609.6" cy="577.9" r="5.7" class="c38"/><circle cx="603.0" cy="565.5" r="5.7" class="c38"/><circle cx="636.5" cy="518.0" r="5.7" class="c39"/><circle cx="682.2" cy="637.7" r="5.7" class="c39"/><circle cx="683.5" cy="650.3" r="5.7" class="c38"/><circle cx="709.0" cy="663.1" r="5.7" class="c39"/><circle cx="616.4" cy="588.6" r="5.7" class="c38"/><circle cx="679.6" cy="636.2" r="5.7" class="c38"/><circle cx="703.5" cy="671.4" r="5.7" class="c37"/><circle cx="694.7" cy="664.1" r="5.7" class="c38"/><circle cx="677.0" cy="631.3" r="5.7" class="c38"/><circle cx="701.6" cy="663.6" r="5.7" class="c39"/><circle cx="633.7" cy="604.3" r="5.7" class="c38"/><circle cx="715.9" cy="698.1" r="5.7" class="c38"/><circle cx="610.0" cy="542.4" r="5.7" class="c39"/><circle cx="664.4" cy="635.3" r="5.7" class="c38"/><circle cx="736.6" cy="693.4" r="5.7" class="c38"/><circle cx="605.3" cy="550.7" r="5.7" class="c38"/><circle cx="667.7" cy="650.6" r="5.7" class="c39"/><circle cx="676.3" cy="647.0" r="5.7" class="c38"/><circle cx="713.4" cy="688.3" r="5.7" class="c39"/><circle cx="698.4" cy="664.2" r="5.7" class="c39"/><circle cx="658.2" cy="458.3" r="5.7" class="c39"/><circle cx="724.9" cy="705.3" r="5.7" class="c38"/><circle cx="692.2" cy="669.6" r="5.7" class="c39"/><circle cx="597.1" cy="541.0" r="5.7" class="c38"/><circle cx="713.6" cy="666.7" r="5.7" class="c38"/><circle cx="634.9" cy="535.7" r="5.7" class="c38"/><circle cx="669.7" cy="452.8" r="5.7" class="c39"/><circle cx="614.0" cy="575.6" r="5.7" class="c37"/><circle cx="691.2" cy="662.8" r="5.7" class="c39"/><circle cx="639.4" cy="607.8" r="5.7" class="c38"/><circle cx="685.7" cy="643.5" r="5.7" class="c39"/><circle cx="607.8" cy="576.6" r="5.7" class="c38"/><circle cx="592.0" cy="540.6" r="5.7" class="c39"/><circle cx="710.6" cy="687.8" r="5.7" class="c38"/><circle cx="640.2" cy="485.6" r="5.7" class="c39"/><circle cx="715.7" cy="668.6" r="5.7" class="c38"/><circle cx="634.2" cy="583.5" r="5.7" class="c39"/><circle cx="644.4" cy="618.8" r="5.7" class="c39"/><circle cx="648.9" cy="617.4" r="5.7" class="c39"/><circle cx="659.5" cy="462.3" r="5.7" class="c39"/><circle cx="716.6" cy="689.6" r="5.7" class="c38"/><circle cx="701.8" cy="680.4" r="5.7" class="c39"/><circle cx="700.8" cy="675.4" r="5.7" class="c38"/><circle cx="707.1" cy="685.6" r="5.7" class="c39"/><circle cx="620.8" cy="605.0" r="5.7" class="c39"/><circle cx="714.7" cy="674.7" r="5.7" class="c39"/><circle cx="677.3" cy="638.4" r="5.7" class="c38"/><circle cx="671.8" cy="650.7" r="5.7" class="c39"/><circle cx="733.4" cy="712.9" r="5.7" class="c39"/><circle cx="732.6" cy="690.5" r="5.7" class="c38"/><circle cx="723.7" cy="692.5" r="5.7" class="c38"/><circle cx="728.6" cy="705.1" r="5.7" class="c38"/><circle cx="600.1" cy="544.2" r="5.7" class="c39"/><circle cx="717.3" cy="684.9" r="5.7" class="c38"/><circle cx="685.7" cy="655.5" r="5.7" class="c39"/><circle cx="646.2" cy="610.8" r="5.7" class="c39"/><circle cx="598.0" cy="538.0" r="5.7" class="c39"/><circle cx="698.1" cy="672.2" r="5.7" class="c38"/><circle cx="693.7" cy="663.5" r="5.7" class="c39"/><circle cx="719.0" cy="671.5" r="5.7" class="c38"/><circle cx="683.4" cy="645.3" r="5.7" class="c39"/><circle cx="713.4" cy="675.3" r="5.7" class="c39"/><circle cx="655.6" cy="632.8" r="5.7" class="c39"/><circle cx="668.3" cy="648.5" r="5.7" class="c39"/><circle cx="635.6" cy="616.6" r="5.7" class="c39"/><circle cx="649.9" cy="617.0" r="5.7" class="c39"/><circle cx="711.9" cy="674.3" r="5.7" class="c38"/><circle cx="677.6" cy="653.7" r="5.7" class="c38"/><circle cx="709.1" cy="686.3" r="5.7" class="c39"/><circle cx="637.6" cy="614.9" r="5.7" class="c39"/><circle cx="642.6" cy="618.8" r="5.7" class="c39"/><circle cx="733.4" cy="708.3" r="5.7" class="c38"/><circle cx="623.1" cy="599.8" r="5.7" class="c39"/><circle cx="732.9" cy="684.1" r="5.7" class="c38"/><circle cx="637.6" cy="608.3" r="5.7" class="c38"/><circle cx="661.5" cy="642.0" r="5.7" class="c38"/><circle cx="608.0" cy="580.0" r="5.7" class="c39"/><circle cx="675.1" cy="636.0" r="5.7" class="c38"/><circle cx="617.4" cy="588.3" r="5.7" class="c38"/><circle cx="677.6" cy="652.8" r="5.7" class="c39"/><circle cx="709.1" cy="686.4" r="5.7" class="c38"/><circle cx="696.3" cy="669.8" r="5.7" class="c39"/><circle cx="694.6" cy="655.6" r="5.7" class="c39"/><circle cx="682.0" cy="437.1" r="5.7" class="c39"/><circle cx="670.8" cy="646.7" r="5.7" class="c38"/><circle cx="713.8" cy="699.9" r="5.7" class="c38"/><circle cx="617.8" cy="590.2" r="5.7" class="c39"/><circle cx="670.6" cy="641.7" r="5.7" class="c39"/><circle cx="701.7" cy="667.3" r="5.7" class="c39"/><circle cx="737.2" cy="705.6" r="5.7" class="c39"/><circle cx="620.4" cy="583.6" r="5.7" class="c38"/><circle cx="665.5" cy="623.9" r="5.7" class="c39"/><circle cx="685.0" cy="650.7" r="5.7" class="c39"/><circle cx="695.0" cy="669.4" r="5.7" class="c39"/><circle cx="694.1" cy="654.2" r="5.7" class="c39"/><circle cx="641.6" cy="610.7" r="5.7" class="c39"/><circle cx="676.6" cy="643.1" r="5.7" class="c37"/><circle cx="599.4" cy="542.8" r="5.7" class="c39"/><circle cx="670.1" cy="638.5" r="5.7" class="c38"/><circle cx="665.5" cy="621.0" r="5.7" class="c38"/><circle cx="666.9" cy="645.7" r="5.7" class="c38"/><circle cx="725.8" cy="700.4" r="5.7" class="c39"/><circle cx="605.2" cy="555.5" r="5.7" class="c39"/><circle cx="622.1" cy="607.2" r="5.7" class="c39"/><circle cx="714.5" cy="695.5" r="5.7" class="c39"/><circle cx="678.7" cy="639.9" r="5.7" class="c39"/><circle cx="639.6" cy="617.7" r="5.7" class="c39"/><circle cx="647.4" cy="622.0" r="5.7" class="c37"/><circle cx="670.5" cy="641.9" r="5.7" class="c38"/><circle cx="603.3" cy="559.5" r="5.7" class="c39"/><circle cx="621.7" cy="584.8" r="5.7" class="c39"/><circle cx="668.3" cy="638.7" r="5.7" class="c39"/><circle cx="645.2" cy="623.2" r="5.7" class="c39"/><circle cx="628.9" cy="605.9" r="5.7" class="c39"/><circle cx="708.2" cy="669.0" r="5.7" class="c38"/><circle cx="608.1" cy="562.7" r="5.7" class="c39"/><circle cx="622.9" cy="592.9" r="5.7" class="c39"/><circle cx="653.9" cy="619.5" r="5.7" class="c39"/><circle cx="726.6" cy="698.3" r="5.7" class="c37"/><circle cx="601.4" cy="552.8" r="5.7" class="c39"/><circle cx="621.3" cy="600.1" r="5.7" class="c38"/><circle cx="694.3" cy="673.9" r="5.7" class="c38"/><circle cx="644.4" cy="616.5" r="5.7" class="c38"/><circle cx="634.6" cy="608.6" r="5.7" class="c38"/><circle cx="688.3" cy="670.9" r="5.7" class="c38"/><circle cx="629.6" cy="592.4" r="5.7" class="c38"/><circle cx="713.3" cy="689.3" r="5.7" class="c38"/><circle cx="724.5" cy="675.1" r="5.7" class="c39"/><circle cx="606.0" cy="573.0" r="5.7" class="c39"/><circle cx="661.3" cy="634.6" r="5.7" class="c38"/><circle cx="628.0" cy="547.3" r="5.7" class="c39"/><circle cx="714.9" cy="688.5" r="5.7" class="c39"/><circle cx="629.7" cy="597.5" r="5.7" class="c38"/><circle cx="657.4" cy="620.1" r="5.7" class="c39"/><circle cx="697.1" cy="651.8" r="5.7" class="c39"/><circle cx="630.0" cy="607.0" r="5.7" class="c38"/><circle cx="676.8" cy="646.2" r="5.7" class="c36"/><circle cx="662.2" cy="462.8" r="5.7" class="c39"/><circle cx="619.5" cy="590.4" r="5.7" class="c38"/><circle cx="652.9" cy="617.1" r="5.7" class="c38"/><circle cx="600.6" cy="544.3" r="5.7" class="c39"/><circle cx="690.5" cy="645.4" r="5.7" class="c39"/><circle cx="662.0" cy="641.8" r="5.7" class="c38"/><circle cx="720.8" cy="682.1" r="5.7" class="c39"/><circle cx="715.0" cy="675.4" r="5.7" class="c38"/><circle cx="701.2" cy="670.2" r="5.7" class="c38"/><circle cx="685.8" cy="651.4" r="5.7" class="c38"/><circle cx="663.3" cy="630.5" r="5.7" class="c38"/><circle cx="710.9" cy="680.7" r="5.7" class="c39"/><circle cx="607.4" cy="577.7" r="5.7" class="c39"/><circle cx="721.4" cy="679.1" r="5.7" class="c38"/><circle cx="719.8" cy="705.4" r="5.7" class="c39"/><circle cx="725.2" cy="678.1" r="5.7" class="c39"/><circle cx="696.6" cy="675.1" r="5.7" class="c38"/><circle cx="656.4" cy="622.0" r="5.7" class="c39"/><circle cx="610.6" cy="576.2" r="5.7" class="c38"/><circle cx="616.9" cy="577.0" r="5.7" class="c38"/><circle cx="719.0" cy="673.5" r="5.7" class="c38"/><circle cx="676.3" cy="635.0" r="5.7" class="c38"/><circle cx="650.3" cy="619.3" r="5.7" class="c37"/><circle cx="735.3" cy="708.2" r="5.7" class="c38"/><circle cx="692.8" cy="662.6" r="5.7" class="c39"/><circle cx="735.0" cy="705.5" r="5.7" class="c39"/><circle cx="655.7" cy="625.1" r="5.7" class="c38"/><circle cx="703.0" cy="668.1" r="5.7" class="c38"/><circle cx="670.5" cy="649.6" r="5.7" class="c39"/><circle cx="720.7" cy="671.1" r="5.7" class="c38"/><circle cx="609.5" cy="575.0" r="5.7" class="c39"/><circle cx="630.7" cy="595.8" r="5.7" class="c38"/><circle cx="714.3" cy="695.8" r="5.7" class="c36"/><circle cx="596.7" cy="551.9" r="5.7" class="c39"/><circle cx="569.0" cy="506.4" r="5.7" class="c39"/><circle cx="609.6" cy="577.4" r="5.7" class="c38"/><circle cx="602.8" cy="569.9" r="5.7" class="c38"/><circle cx="607.4" cy="575.3" r="5.7" class="c39"/><circle cx="540.7" cy="480.8" r="5.7" class="c39"/><circle cx="734.9" cy="711.3" r="5.7" class="c38"/><circle cx="659.9" cy="634.9" r="5.7" class="c39"/><circle cx="613.4" cy="589.2" r="5.7" class="c38"/><circle cx="719.2" cy="680.2" r="5.7" class="c39"/><circle cx="603.6" cy="563.9" r="5.7" class="c38"/><circle cx="703.9" cy="677.9" r="5.7" class="c39"/><circle cx="613.9" cy="588.3" r="5.7" class="c39"/><circle cx="590.8" cy="541.4" r="5.7" class="c38"/><circle cx="714.1" cy="696.2" r="5.7" class="c39"/><circle cx="628.6" cy="605.0" r="5.7" class="c38"/><circle cx="704.7" cy="667.2" r="5.7" class="c39"/><circle cx="718.8" cy="677.2" r="5.7" class="c39"/><circle cx="717.1" cy="682.6" r="5.7" class="c38"/><circle cx="604.0" cy="566.6" r="5.7" class="c39"/><circle cx="627.3" cy="605.7" r="5.7" class="c39"/><circle cx="647.1" cy="611.3" r="5.7" class="c38"/><circle cx="685.5" cy="646.3" r="5.7" class="c38"/><circle cx="728.2" cy="686.4" r="5.7" class="c39"/><circle cx="689.8" cy="653.8" r="5.7" class="c38"/><circle cx="699.5" cy="655.7" r="5.7" class="c39"/><circle cx="664.2" cy="633.1" r="5.7" class="c38"/><circle cx="626.0" cy="601.8" r="5.7" class="c36"/><circle cx="656.8" cy="637.3" r="5.7" class="c38"/><circle cx="620.4" cy="601.3" r="5.7" class="c39"/><circle cx="719.0" cy="695.8" r="5.7" class="c39"/><circle cx="623.7" cy="597.8" r="5.7" class="c39"/><circle cx="732.1" cy="686.7" r="5.7" class="c39"/><circle cx="638.8" cy="506.4" r="5.7" class="c39"/><circle cx="677.2" cy="659.7" r="5.7" class="c39"/><circle cx="632.5" cy="538.0" r="5.7" class="c39"/><circle cx="600.7" cy="544.7" r="5.7" class="c39"/><circle cx="640.3" cy="601.0" r="5.7" class="c38"/><circle cx="674.6" cy="642.5" r="5.7" class="c37"/><circle cx="706.1" cy="677.2" r="5.7" class="c38"/><circle cx="714.1" cy="701.6" r="5.7" class="c38"/><circle cx="722.0" cy="677.0" r="5.7" class="c38"/><circle cx="685.0" cy="656.4" r="5.7" class="c38"/><circle cx="697.0" cy="665.2" r="5.7" class="c38"/><circle cx="606.7" cy="561.2" r="5.7" class="c38"/><circle cx="743.0" cy="707.1" r="5.7" class="c38"/><circle cx="652.3" cy="620.3" r="5.7" class="c39"/><circle cx="723.0" cy="682.8" r="5.7" class="c38"/><circle cx="725.8" cy="703.4" r="5.7" class="c39"/><circle cx="557.4" cy="503.2" r="5.7" class="c39"/><circle cx="714.4" cy="684.5" r="5.7" class="c38"/><circle cx="658.2" cy="621.4" r="5.7" class="c39"/><circle cx="716.4" cy="690.5" r="5.7" class="c39"/><circle cx="708.5" cy="676.4" r="5.7" class="c39"/><circle cx="679.9" cy="647.6" r="5.7" class="c38"/><circle cx="691.6" cy="656.8" r="5.7" class="c39"/><circle cx="706.4" cy="663.3" r="5.7" class="c39"/><circle cx="714.0" cy="673.1" r="5.7" class="c38"/><circle cx="688.3" cy="655.0" r="5.7" class="c38"/><circle cx="614.8" cy="589.4" r="5.7" class="c38"/><circle cx="669.7" cy="640.6" r="5.7" class="c39"/><circle cx="693.3" cy="661.8" r="5.7" class="c38"/><circle cx="628.3" cy="594.3" r="5.7" class="c39"/><circle cx="708.8" cy="695.0" r="5.7" class="c39"/><circle cx="598.8" cy="545.3" r="5.7" class="c38"/><circle cx="720.5" cy="704.6" r="5.7" class="c38"/><circle cx="604.6" cy="525.3" r="5.7" class="c39"/><circle cx="709.3" cy="677.7" r="5.7" class="c39"/><circle cx="668.4" cy="634.5" r="5.7" class="c38"/><circle cx="606.9" cy="582.6" r="5.7" class="c38"/><circle cx="716.8" cy="698.2" r="5.7" class="c39"/><circle cx="726.1" cy="702.8" r="5.7" class="c39"/><circle cx="690.3" cy="667.4" r="5.7" class="c38"/><circle cx="704.8" cy="678.8" r="5.7" class="c39"/><circle cx="670.8" cy="635.8" r="5.7" class="c39"/><circle cx="676.7" cy="656.5" r="5.7" class="c38"/><circle cx="674.1" cy="641.5" r="5.7" class="c39"/><circle cx="682.8" cy="643.0" r="5.7" class="c38"/><circle cx="577.6" cy="511.4" r="5.7" class="c39"/><circle cx="703.6" cy="666.1" r="5.7" class="c39"/><circle cx="631.6" cy="542.4" r="5.7" class="c39"/><circle cx="604.9" cy="582.3" r="5.7" class="c39"/><circle cx="729.5" cy="691.6" r="5.7" class="c38"/><circle cx="686.4" cy="663.9" r="5.7" class="c38"/><circle cx="649.2" cy="626.2" r="5.7" class="c39"/><circle cx="652.6" cy="616.7" r="5.7" class="c39"/><circle cx="604.6" cy="531.6" r="5.7" class="c39"/><circle cx="612.2" cy="585.0" r="5.7" class="c38"/><circle cx="721.1" cy="691.3" r="5.7" class="c37"/><circle cx="595.4" cy="542.8" r="5.7" class="c38"/><circle cx="599.5" cy="535.9" r="5.7" class="c38"/><circle cx="696.7" cy="667.0" r="5.7" class="c39"/><circle cx="627.0" cy="595.0" r="5.7" class="c39"/><circle cx="726.2" cy="684.0" r="5.7" class="c39"/><circle cx="639.8" cy="617.6" r="5.7" class="c39"/><circle cx="729.5" cy="689.4" r="5.7" class="c38"/><circle cx="634.6" cy="600.6" r="5.7" class="c39"/><circle cx="706.8" cy="676.8" r="5.7" class="c37"/><circle cx="629.3" cy="602.4" r="5.7" class="c38"/><circle cx="720.6" cy="684.5" r="5.7" class="c38"/><circle cx="630.8" cy="608.0" r="5.7" class="c38"/><circle cx="728.5" cy="711.2" r="5.7" class="c39"/><circle cx="607.9" cy="580.1" r="5.7" class="c39"/><circle cx="701.5" cy="668.8" r="5.7" class="c39"/><circle cx="717.9" cy="703.2" r="5.7" class="c38"/><circle cx="668.4" cy="644.2" r="5.7" class="c38"/><circle cx="640.9" cy="603.9" r="5.7" class="c38"/><circle cx="590.2" cy="546.9" r="5.7" class="c38"/><circle cx="634.0" cy="608.0" r="5.7" class="c39"/><circle cx="723.7" cy="680.3" r="5.7" class="c38"/><circle cx="644.2" cy="494.7" r="5.7" class="c39"/><circle cx="695.3" cy="660.8" r="5.7" class="c38"/><circle cx="600.6" cy="557.0" r="5.7" class="c38"/><circle cx="721.0" cy="702.3" r="5.7" class="c39"/><circle cx="628.0" cy="546.0" r="5.7" class="c39"/><circle cx="630.0" cy="606.6" r="5.7" class="c38"/><circle cx="686.3" cy="656.0" r="5.7" class="c38"/><circle cx="684.8" cy="663.1" r="5.7" class="c38"/><circle cx="598.9" cy="543.9" r="5.7" class="c38"/><circle cx="614.6" cy="574.2" r="5.7" class="c39"/><circle cx="592.9" cy="555.3" r="5.7" class="c39"/><circle cx="725.1" cy="700.4" r="5.7" class="c38"/><circle cx="709.9" cy="677.6" r="5.7" class="c38"/><circle cx="736.9" cy="697.0" r="5.7" class="c39"/><circle cx="671.3" cy="639.2" r="5.7" class="c37"/><circle cx="588.4" cy="544.2" r="5.7" class="c39"/><circle cx="625.1" cy="598.5" r="5.7" class="c37"/><circle cx="651.0" cy="616.4" r="5.7" class="c39"/><circle cx="700.7" cy="672.1" r="5.7" class="c38"/><circle cx="727.4" cy="687.7" r="5.7" class="c39"/><circle cx="664.4" cy="629.6" r="5.7" class="c39"/><circle cx="629.0" cy="609.9" r="5.7" class="c38"/><circle cx="662.3" cy="623.5" r="5.7" class="c38"/><circle cx="643.0" cy="623.4" r="5.7" class="c39"/><circle cx="625.1" cy="592.1" r="5.7" class="c37"/><circle cx="739.1" cy="686.8" r="5.7" class="c39"/><circle cx="701.3" cy="681.4" r="5.7" class="c38"/><circle cx="676.3" cy="641.8" r="5.7" class="c38"/><circle cx="640.2" cy="485.2" r="5.7" class="c39"/><circle cx="738.4" cy="705.6" r="5.7" class="c38"/><circle cx="677.4" cy="637.9" r="5.7" class="c39"/><circle cx="699.3" cy="680.8" r="5.7" class="c39"/><circle cx="680.7" cy="640.6" r="5.7" class="c38"/><circle cx="641.6" cy="621.4" r="5.7" class="c38"/><circle cx="633.7" cy="537.9" r="5.7" class="c37"/><circle cx="657.3" cy="619.2" r="5.7" class="c39"/><circle cx="683.4" cy="649.5" r="5.7" class="c38"/><circle cx="607.0" cy="574.2" r="5.7" class="c38"/><circle cx="731.6" cy="707.5" r="5.7" class="c39"/><circle cx="733.6" cy="696.7" r="5.7" class="c38"/><circle cx="675.7" cy="648.2" r="5.7" class="c38"/><circle cx="669.2" cy="638.8" r="5.7" class="c39"/><circle cx="713.7" cy="683.4" r="5.7" class="c38"/><circle cx="638.7" cy="625.0" r="5.7" class="c38"/><circle cx="661.4" cy="627.6" r="5.7" class="c39"/><circle cx="634.9" cy="609.6" r="5.7" class="c39"/><circle cx="649.7" cy="615.5" r="5.7" class="c38"/><circle cx="636.0" cy="610.0" r="5.7" class="c39"/><circle cx="632.6" cy="595.1" r="5.7" class="c39"/><circle cx="627.4" cy="579.0" r="5.7" class="c39"/><circle cx="715.2" cy="696.9" r="5.7" class="c38"/><circle cx="618.2" cy="583.1" r="5.7" class="c38"/><circle cx="698.3" cy="665.4" r="5.7" class="c39"/><circle cx="699.3" cy="668.2" r="5.7" class="c37"/><circle cx="729.9" cy="678.0" r="5.7" class="c39"/><circle cx="689.8" cy="659.5" r="5.7" class="c38"/><circle cx="605.0" cy="564.7" r="5.7" class="c38"/><circle cx="604.5" cy="570.0" r="5.7" class="c39"/><circle cx="706.0" cy="662.8" r="5.7" class="c39"/><circle cx="671.8" cy="650.1" r="5.7" class="c39"/><circle cx="717.6" cy="686.2" r="5.7" class="c38"/><circle cx="696.1" cy="652.1" r="5.7" class="c38"/><circle cx="715.7" cy="692.1" r="5.7" class="c38"/><circle cx="717.8" cy="667.0" r="5.7" class="c38"/><circle cx="721.3" cy="693.0" r="5.7" class="c38"/><circle cx="715.2" cy="707.2" r="5.7" class="c38"/><circle cx="722.5" cy="703.6" r="5.7" class="c38"/><circle cx="682.3" cy="650.8" r="5.7" class="c38"/><circle cx="602.4" cy="557.5" r="5.7" class="c39"/><circle cx="615.6" cy="580.1" r="5.7" class="c39"/><circle cx="599.5" cy="533.6" r="5.7" class="c39"/><circle cx="627.8" cy="606.2" r="5.7" class="c38"/><circle cx="624.5" cy="595.4" r="5.7" class="c39"/><circle cx="692.7" cy="670.6" r="5.7" class="c38"/><circle cx="623.2" cy="589.0" r="5.7" class="c38"/><circle cx="606.4" cy="579.9" r="5.7" class="c38"/><circle cx="650.8" cy="612.8" r="5.7" class="c38"/><circle cx="723.7" cy="684.4" r="5.7" class="c39"/><circle cx="641.4" cy="616.6" r="5.7" class="c38"/><circle cx="636.9" cy="606.7" r="5.7" class="c37"/><circle cx="719.4" cy="686.4" r="5.7" class="c38"/><circle cx="630.4" cy="543.3" r="5.7" class="c39"/><circle cx="696.7" cy="671.9" r="5.7" class="c38"/><circle cx="677.9" cy="644.1" r="5.7" class="c39"/><circle cx="663.7" cy="635.8" r="5.7" class="c39"/><circle cx="714.1" cy="684.1" r="5.7" class="c38"/><circle cx="606.2" cy="575.4" r="5.7" class="c39"/><circle cx="634.3" cy="535.2" r="5.7" class="c39"/><circle cx="621.9" cy="591.7" r="5.7" class="c39"/><circle cx="603.0" cy="536.0" r="5.7" class="c39"/><circle cx="642.8" cy="563.1" r="5.7" class="c39"/><circle cx="647.9" cy="630.1" r="5.7" class="c38"/><circle cx="725.4" cy="678.8" r="5.7" class="c37"/><circle cx="722.6" cy="688.2" r="5.7" class="c39"/><circle cx="639.7" cy="555.9" r="5.7" class="c39"/><circle cx="703.8" cy="678.8" r="5.7" class="c38"/><circle cx="620.3" cy="545.2" r="5.7" class="c38"/><circle cx="691.0" cy="658.6" r="5.7" class="c39"/><circle cx="708.0" cy="672.8" r="5.7" class="c38"/><circle cx="688.2" cy="655.2" r="5.7" class="c39"/><circle cx="727.0" cy="709.3" r="5.7" class="c39"/><circle cx="594.0" cy="545.0" r="5.7" class="c39"/><circle cx="686.5" cy="648.6" r="5.7" class="c38"/><circle cx="723.2" cy="675.9" r="5.7" class="c38"/><circle cx="647.2" cy="612.5" r="5.7" class="c38"/><circle cx="613.6" cy="535.2" r="5.7" class="c39"/><circle cx="615.9" cy="594.6" r="5.7" class="c39"/><circle cx="597.0" cy="551.4" r="5.7" class="c39"/><circle cx="654.1" cy="624.6" r="5.7" class="c39"/><circle cx="629.9" cy="602.2" r="5.7" class="c39"/><circle cx="655.0" cy="620.2" r="5.7" class="c38"/><circle cx="635.6" cy="608.5" r="5.7" class="c39"/><circle cx="602.6" cy="565.8" r="5.7" class="c39"/><circle cx="648.3" cy="627.9" r="5.7" class="c36"/><circle cx="643.7" cy="620.0" r="5.7" class="c38"/><circle cx="673.0" cy="637.0" r="5.7" class="c38"/><circle cx="688.8" cy="650.7" r="5.7" class="c38"/><circle cx="714.5" cy="686.3" r="5.7" class="c39"/><circle cx="708.0" cy="671.3" r="5.7" class="c38"/><circle cx="736.1" cy="713.3" r="5.7" class="c38"/><circle cx="699.7" cy="666.1" r="5.7" class="c38"/><circle cx="717.3" cy="710.2" r="5.7" class="c39"/><circle cx="654.9" cy="624.3" r="5.7" class="c38"/><circle cx="681.4" cy="641.8" r="5.7" class="c39"/><circle cx="729.9" cy="697.9" r="5.7" class="c38"/><circle cx="700.4" cy="668.7" r="5.7" class="c39"/><circle cx="663.6" cy="623.9" r="5.7" class="c38"/><circle cx="558.7" cy="495.6" r="5.7" class="c39"/><circle cx="704.1" cy="678.6" r="5.7" class="c39"/><circle cx="650.9" cy="621.8" r="5.7" class="c39"/><circle cx="649.9" cy="624.0" r="5.7" class="c38"/><circle cx="739.9" cy="708.8" r="5.7" class="c38"/><circle cx="630.4" cy="540.7" r="5.7" class="c38"/><circle cx="670.5" cy="647.6" r="5.7" class="c38"/><circle cx="739.0" cy="707.2" r="5.7" class="c39"/><circle cx="604.8" cy="557.9" r="5.7" class="c39"/><circle cx="608.4" cy="569.5" r="5.7" class="c39"/><circle cx="591.6" cy="504.6" r="5.7" class="c39"/><circle cx="680.0" cy="644.8" r="5.7" class="c38"/><circle cx="640.5" cy="616.7" r="5.7" class="c39"/><circle cx="702.4" cy="679.4" r="5.7" class="c38"/><circle cx="604.9" cy="571.9" r="5.7" class="c38"/><circle cx="715.2" cy="687.7" r="5.7" class="c38"/><circle cx="741.4" cy="710.9" r="5.7" class="c37"/><circle cx="724.1" cy="695.8" r="5.7" class="c38"/><circle cx="628.9" cy="606.3" r="5.7" class="c39"/><circle cx="609.6" cy="567.3" r="5.7" class="c39"/><circle cx="731.8" cy="709.8" r="5.7" class="c39"/><circle cx="645.8" cy="607.2" r="5.7" class="c39"/><circle cx="559.2" cy="511.8" r="5.7" class="c39"/><circle cx="718.5" cy="700.7" r="5.7" class="c38"/><circle cx="605.0" cy="563.6" r="5.7" class="c38"/><circle cx="720.4" cy="688.6" r="5.7" class="c39"/><circle cx="652.6" cy="623.4" r="5.7" class="c39"/><circle cx="608.1" cy="563.5" r="5.7" class="c38"/><circle cx="664.6" cy="629.1" r="5.7" class="c39"/><circle cx="635.3" cy="608.3" r="5.7" class="c38"/><circle cx="700.1" cy="670.8" r="5.7" class="c39"/><circle cx="693.8" cy="663.0" r="5.7" class="c39"/><circle cx="718.4" cy="690.3" r="5.7" class="c38"/><circle cx="614.3" cy="582.6" r="5.7" class="c39"/><circle cx="637.1" cy="613.8" r="5.7" class="c38"/><circle cx="727.8" cy="679.0" r="5.7" class="c38"/><circle cx="610.7" cy="582.2" r="5.7" class="c36"/><circle cx="672.1" cy="654.1" r="5.7" class="c38"/><circle cx="724.7" cy="699.0" r="5.7" class="c39"/><circle cx="739.3" cy="705.2" r="5.7" class="c39"/><circle cx="729.2" cy="686.6" r="5.7" class="c38"/><circle cx="712.0" cy="676.1" r="5.7" class="c38"/><circle cx="703.0" cy="676.5" r="5.7" class="c38"/><circle cx="688.5" cy="660.4" r="5.7" class="c38"/><circle cx="718.9" cy="698.6" r="5.7" class="c38"/><circle cx="603.8" cy="576.8" r="5.7" class="c36"/><circle cx="673.3" cy="653.5" r="5.7" class="c39"/><circle cx="595.1" cy="551.5" r="5.7" class="c39"/><circle cx="715.8" cy="672.1" r="5.7" class="c38"/><circle cx="610.9" cy="584.1" r="5.7" class="c38"/><circle cx="614.0" cy="594.2" r="5.7" class="c39"/><circle cx="718.8" cy="698.2" r="5.7" class="c38"/><circle cx="643.3" cy="613.7" r="5.7" class="c39"/><circle cx="636.3" cy="616.1" r="5.7" class="c38"/><circle cx="645.5" cy="622.0" r="5.7" class="c39"/><circle cx="691.3" cy="663.7" r="5.7" class="c38"/><circle cx="598.2" cy="548.5" r="5.7" class="c38"/><circle cx="653.0" cy="620.5" r="5.7" class="c39"/><circle cx="669.6" cy="642.4" r="5.7" class="c38"/><circle cx="666.2" cy="634.0" r="5.7" class="c39"/><circle cx="650.7" cy="625.1" r="5.7" class="c39"/><circle cx="637.7" cy="611.9" r="5.7" class="c39"/><circle cx="659.6" cy="632.9" r="5.7" class="c38"/><circle cx="656.9" cy="621.0" r="5.7" class="c39"/><circle cx="631.8" cy="599.4" r="5.7" class="c38"/><circle cx="614.6" cy="583.2" r="5.7" class="c38"/><circle cx="727.4" cy="698.4" r="5.7" class="c39"/><circle cx="663.5" cy="620.2" r="5.7" class="c38"/><circle cx="701.9" cy="671.4" r="5.7" class="c39"/><circle cx="717.8" cy="701.9" r="5.7" class="c36"/><circle cx="611.8" cy="575.7" r="5.7" class="c38"/><circle cx="595.2" cy="557.1" r="5.7" class="c38"/><circle cx="734.1" cy="710.4" r="5.7" class="c38"/><circle cx="727.8" cy="698.4" r="5.7" class="c39"/><circle cx="736.4" cy="695.3" r="5.7" class="c38"/><circle cx="676.6" cy="633.8" r="5.7" class="c38"/><circle cx="703.3" cy="667.3" r="5.7" class="c39"/><circle cx="600.2" cy="561.8" r="5.7" class="c39"/><circle cx="605.8" cy="557.2" r="5.7" class="c38"/><circle cx="724.4" cy="699.0" r="5.7" class="c37"/><circle cx="703.0" cy="680.6" r="5.7" class="c39"/><circle cx="621.6" cy="580.5" r="5.7" class="c38"/><circle cx="692.0" cy="662.1" r="5.7" class="c39"/><circle cx="626.6" cy="595.5" r="5.7" class="c38"/><circle cx="621.8" cy="540.0" r="5.7" class="c39"/><circle cx="691.4" cy="661.0" r="5.7" class="c38"/><circle cx="682.8" cy="642.5" r="5.7" class="c39"/><circle cx="592.7" cy="547.4" r="5.7" class="c38"/><circle cx="715.6" cy="698.2" r="5.7" class="c38"/><circle cx="729.2" cy="706.3" r="5.7" class="c38"/><circle cx="703.4" cy="670.9" r="5.7" class="c39"/><circle cx="639.2" cy="607.6" r="5.7" class="c38"/><circle cx="611.5" cy="556.5" r="5.7" class="c39"/><circle cx="687.5" cy="662.4" r="5.7" class="c38"/><circle cx="612.2" cy="584.4" r="5.7" class="c38"/><circle cx="659.0" cy="617.9" r="5.7" class="c38"/><circle cx="637.2" cy="611.8" r="5.7" class="c38"/><circle cx="671.7" cy="640.3" r="5.7" class="c39"/><circle cx="689.7" cy="655.6" r="5.7" class="c37"/><circle cx="604.9" cy="558.9" r="5.7" class="c38"/><circle cx="727.6" cy="692.1" r="5.7" class="c39"/><circle cx="715.3" cy="672.7" r="5.7" class="c39"/><circle cx="702.2" cy="670.5" r="5.7" class="c39"/><circle cx="671.9" cy="638.5" r="5.7" class="c39"/><circle cx="693.9" cy="656.5" r="5.7" class="c39"/><circle cx="628.1" cy="611.9" r="5.7" class="c39"/><circle cx="678.2" cy="635.7" r="5.7" class="c38"/><circle cx="620.5" cy="596.8" r="5.7" class="c39"/><circle cx="713.4" cy="694.4" r="5.7" class="c39"/><circle cx="730.8" cy="686.0" r="5.7" class="c39"/><circle cx="609.5" cy="574.7" r="5.7" class="c38"/><circle cx="680.8" cy="639.5" r="5.7" class="c38"/><circle cx="687.9" cy="664.2" r="5.7" class="c39"/><circle cx="672.5" cy="622.7" r="5.7" class="c39"/><circle cx="648.1" cy="610.0" r="5.7" class="c37"/><circle cx="653.2" cy="620.3" r="5.7" class="c39"/><circle cx="609.0" cy="575.2" r="5.7" class="c39"/><circle cx="718.8" cy="677.6" r="5.7" class="c39"/><circle cx="684.1" cy="652.6" r="5.7" class="c38"/><circle cx="736.3" cy="710.1" r="5.7" class="c38"/><circle cx="726.0" cy="697.6" r="5.7" class="c38"/><circle cx="600.2" cy="570.7" r="5.7" class="c38"/><circle cx="716.1" cy="692.5" r="5.7" class="c38"/><circle cx="599.6" cy="548.3" r="5.7" class="c39"/><circle cx="662.2" cy="630.3" r="5.7" class="c39"/><circle cx="638.8" cy="618.0" r="5.7" class="c39"/><circle cx="729.8" cy="707.9" r="5.7" class="c38"/><circle cx="679.0" cy="659.9" r="5.7" class="c38"/><circle cx="700.1" cy="671.8" r="5.7" class="c38"/><circle cx="705.1" cy="682.9" r="5.7" class="c38"/><circle cx="600.2" cy="554.4" r="5.7" class="c39"/><circle cx="732.6" cy="692.8" r="5.7" class="c39"/><circle cx="618.1" cy="544.2" r="5.7" class="c39"/><circle cx="658.1" cy="629.3" r="5.7" class="c39"/><circle cx="720.7" cy="669.6" r="5.7" class="c39"/><circle cx="711.9" cy="681.4" r="5.7" class="c39"/><circle cx="599.6" cy="542.0" r="5.7" class="c38"/><circle cx="617.8" cy="581.9" r="5.7" class="c38"/><circle cx="652.5" cy="627.5" r="5.7" class="c38"/><circle cx="702.2" cy="666.9" r="5.7" class="c39"/><circle cx="701.2" cy="665.6" r="5.7" class="c38"/><circle cx="639.4" cy="606.3" r="5.7" class="c38"/><circle cx="617.4" cy="589.3" r="5.7" class="c39"/><circle cx="700.4" cy="668.7" r="5.7" class="c39"/><circle cx="617.1" cy="583.8" r="5.7" class="c38"/><circle cx="716.2" cy="681.2" r="5.7" class="c39"/><circle cx="732.5" cy="690.7" r="5.7" class="c39"/><circle cx="735.7" cy="694.3" r="5.7" class="c39"/><circle cx="712.3" cy="676.0" r="5.7" class="c39"/><circle cx="707.0" cy="664.5" r="5.7" class="c38"/><circle cx="676.5" cy="657.7" r="5.7" class="c38"/><circle cx="609.4" cy="542.0" r="5.7" class="c38"/><circle cx="675.9" cy="645.5" r="5.7" class="c39"/><circle cx="597.5" cy="548.4" r="5.7" class="c37"/><circle cx="654.7" cy="634.2" r="5.7" class="c37"/><circle cx="673.9" cy="633.9" r="5.7" class="c39"/><circle cx="706.5" cy="689.3" r="5.7" class="c39"/><circle cx="708.5" cy="430.6" r="5.7" class="c39"/><circle cx="706.6" cy="662.4" r="5.7" class="c39"/><circle cx="725.3" cy="707.8" r="5.7" class="c39"/><circle cx="652.7" cy="631.3" r="5.7" class="c39"/><circle cx="603.6" cy="545.8" r="5.7" class="c38"/><circle cx="599.6" cy="565.5" r="5.7" class="c37"/><circle cx="633.0" cy="603.6" r="5.7" class="c39"/><circle cx="678.0" cy="647.1" r="5.7" class="c39"/><circle cx="711.9" cy="679.0" r="5.7" class="c38"/><circle cx="597.3" cy="559.0" r="5.7" class="c38"/><circle cx="723.1" cy="683.4" r="5.7" class="c39"/><circle cx="708.7" cy="685.1" r="5.7" class="c38"/><circle cx="714.0" cy="709.8" r="5.7" class="c39"/><circle cx="616.3" cy="592.8" r="5.7" class="c38"/><circle cx="600.8" cy="542.1" r="5.7" class="c39"/><circle cx="606.0" cy="564.4" r="5.7" class="c39"/><circle cx="618.8" cy="595.7" r="5.7" class="c38"/><circle cx="662.4" cy="628.7" r="5.7" class="c38"/><circle cx="695.9" cy="668.9" r="5.7" class="c38"/><circle cx="641.2" cy="603.9" r="5.7" class="c39"/><circle cx="722.0" cy="699.7" r="5.7" class="c39"/><circle cx="712.0" cy="692.1" r="5.7" class="c39"/><circle cx="612.8" cy="579.6" r="5.7" class="c39"/><circle cx="701.1" cy="657.9" r="5.7" class="c39"/><circle cx="629.1" cy="609.4" r="5.7" class="c38"/><circle cx="725.9" cy="705.2" r="5.7" class="c39"/><circle cx="622.6" cy="595.6" r="5.7" class="c39"/><circle cx="630.8" cy="608.3" r="5.7" class="c39"/><circle cx="606.8" cy="550.9" r="5.7" class="c38"/><circle cx="712.9" cy="692.1" r="5.7" class="c39"/><circle cx="732.9" cy="692.9" r="5.7" class="c39"/><circle cx="687.6" cy="668.6" r="5.7" class="c39"/><circle cx="692.9" cy="657.2" r="5.7" class="c38"/><circle cx="729.1" cy="696.3" r="5.7" class="c36"/><circle cx="676.0" cy="656.4" r="5.7" class="c37"/><circle cx="658.2" cy="631.3" r="5.7" class="c39"/><circle cx="703.5" cy="678.9" r="5.7" class="c36"/><circle cx="670.6" cy="644.4" r="5.7" class="c39"/><circle cx="725.1" cy="701.5" r="5.7" class="c39"/><circle cx="679.5" cy="655.8" r="5.7" class="c39"/><circle cx="592.9" cy="543.3" r="5.7" class="c39"/><circle cx="592.5" cy="537.5" r="5.7" class="c39"/><circle cx="720.8" cy="701.7" r="5.7" class="c39"/><circle cx="642.6" cy="615.7" r="5.7" class="c39"/><circle cx="720.9" cy="678.9" r="5.7" class="c38"/><circle cx="670.7" cy="627.8" r="5.7" class="c39"/><circle cx="711.7" cy="683.9" r="5.7" class="c39"/><circle cx="634.3" cy="599.2" r="5.7" class="c38"/><circle cx="727.3" cy="707.0" r="5.7" class="c38"/><circle cx="628.4" cy="597.2" r="5.7" class="c38"/><circle cx="597.4" cy="552.2" r="5.7" class="c37"/><circle cx="638.1" cy="603.3" r="5.7" class="c39"/><circle cx="694.3" cy="654.1" r="5.7" class="c39"/><circle cx="731.4" cy="693.3" r="5.7" class="c38"/><circle cx="648.9" cy="622.8" r="5.7" class="c38"/><circle cx="657.8" cy="618.7" r="5.7" class="c39"/><circle cx="618.9" cy="591.5" r="5.7" class="c39"/><circle cx="710.8" cy="704.2" r="5.7" class="c36"/><circle cx="644.6" cy="619.4" r="5.7" class="c39"/><circle cx="685.8" cy="651.6" r="5.7" class="c39"/><circle cx="700.4" cy="676.1" r="5.7" class="c39"/><circle cx="655.4" cy="633.5" r="5.7" class="c38"/><circle cx="630.5" cy="604.6" r="5.7" class="c38"/><circle cx="658.3" cy="622.2" r="5.7" class="c39"/><circle cx="624.0" cy="591.4" r="5.7" class="c39"/><circle cx="596.0" cy="540.4" r="5.7" class="c38"/><circle cx="596.1" cy="555.1" r="5.7" class="c39"/><circle cx="678.5" cy="649.4" r="5.7" class="c38"/><circle cx="696.8" cy="662.2" r="5.7" class="c38"/><circle cx="736.1" cy="698.1" r="5.7" class="c39"/><circle cx="691.5" cy="668.7" r="5.7" class="c39"/><circle cx="684.1" cy="658.3" r="5.7" class="c39"/><circle cx="614.9" cy="582.6" r="5.7" class="c39"/><circle cx="652.9" cy="614.9" r="5.7" class="c38"/><circle cx="622.3" cy="600.0" r="5.7" class="c38"/><circle cx="717.3" cy="684.4" r="5.7" class="c39"/><circle cx="677.1" cy="637.2" r="5.7" class="c38"/><circle cx="682.8" cy="649.5" r="5.7" class="c38"/><circle cx="706.3" cy="668.5" r="5.7" class="c38"/><circle cx="630.7" cy="542.2" r="5.7" class="c39"/><circle cx="617.0" cy="580.2" r="5.7" class="c39"/><circle cx="658.3" cy="622.1" r="5.7" class="c38"/><circle cx="701.1" cy="655.1" r="5.7" class="c38"/><circle cx="619.3" cy="571.9" r="5.7" class="c38"/><circle cx="696.5" cy="671.7" r="5.7" class="c38"/><circle cx="611.2" cy="575.6" r="5.7" class="c38"/><circle cx="692.1" cy="668.7" r="5.7" class="c38"/><circle cx="642.7" cy="610.2" r="5.7" class="c38"/><circle cx="631.4" cy="596.6" r="5.7" class="c38"/><circle cx="726.8" cy="686.8" r="5.7" class="c38"/><circle cx="596.8" cy="554.7" r="5.7" class="c38"/><circle cx="708.1" cy="690.6" r="5.7" class="c38"/><circle cx="707.7" cy="682.2" r="5.7" class="c39"/><circle cx="684.4" cy="647.8" r="5.7" class="c39"/><circle cx="722.3" cy="693.7" r="5.7" class="c38"/><circle cx="629.8" cy="492.9" r="5.7" class="c39"/><circle cx="604.1" cy="570.7" r="5.7" class="c37"/><circle cx="609.9" cy="588.3" r="5.7" class="c38"/><circle cx="655.8" cy="623.9" r="5.7" class="c38"/><circle cx="667.2" cy="644.5" r="5.7" class="c38"/><circle cx="661.3" cy="633.3" r="5.7" class="c39"/><circle cx="633.4" cy="528.0" r="5.7" class="c39"/><circle cx="691.5" cy="654.7" r="5.7" class="c38"/><circle cx="599.6" cy="566.9" r="5.7" class="c38"/><circle cx="611.1" cy="581.8" r="5.7" class="c39"/><circle cx="662.5" cy="632.1" r="5.7" class="c38"/><circle cx="687.6" cy="665.1" r="5.7" class="c39"/><circle cx="679.1" cy="656.9" r="5.7" class="c39"/><circle cx="634.1" cy="539.6" r="5.7" class="c37"/><circle cx="719.6" cy="700.6" r="5.7" class="c38"/><circle cx="608.8" cy="579.6" r="5.7" class="c39"/><circle cx="637.5" cy="608.2" r="5.7" class="c38"/><circle cx="623.8" cy="592.2" r="5.7" class="c39"/><circle cx="722.2" cy="704.6" r="5.7" class="c38"/><circle cx="698.0" cy="655.8" r="5.7" class="c38"/><circle cx="717.9" cy="691.1" r="5.7" class="c39"/><circle cx="637.3" cy="599.7" r="5.7" class="c38"/><circle cx="671.2" cy="637.4" r="5.7" class="c39"/><circle cx="607.1" cy="566.6" r="5.7" class="c39"/><circle cx="592.7" cy="542.4" r="5.7" class="c38"/><circle cx="610.6" cy="575.4" r="5.7" class="c39"/><circle cx="677.7" cy="632.5" r="5.7" class="c38"/><circle cx="616.2" cy="579.6" r="5.7" class="c38"/><circle cx="624.5" cy="594.2" r="5.7" class="c39"/><circle cx="739.5" cy="708.4" r="5.7" class="c39"/><circle cx="597.8" cy="546.0" r="5.7" class="c39"/><circle cx="608.9" cy="578.8" r="5.7" class="c39"/><circle cx="679.0" cy="650.1" r="5.7" class="c39"/><circle cx="680.6" cy="655.3" r="5.7" class="c38"/><circle cx="642.4" cy="614.3" r="5.7" class="c39"/><circle cx="637.2" cy="597.9" r="5.7" class="c38"/><circle cx="625.5" cy="596.9" r="5.7" class="c39"/><circle cx="665.9" cy="639.0" r="5.7" class="c39"/><circle cx="622.8" cy="545.8" r="5.7" class="c39"/><circle cx="652.3" cy="479.0" r="5.7" class="c39"/><circle cx="678.2" cy="653.5" r="5.7" class="c38"/><circle cx="617.1" cy="580.6" r="5.7" class="c39"/><circle cx="648.7" cy="617.3" r="5.7" class="c36"/><circle cx="696.6" cy="653.4" r="5.7" class="c39"/><circle cx="688.9" cy="652.1" r="5.7" class="c37"/><circle cx="676.0" cy="637.5" r="5.7" class="c39"/><circle cx="649.4" cy="610.5" r="5.7" class="c39"/><circle cx="706.5" cy="679.1" r="5.7" class="c39"/><circle cx="638.1" cy="603.0" r="5.7" class="c38"/><circle cx="630.3" cy="596.7" r="5.7" class="c39"/><circle cx="717.4" cy="702.1" r="5.7" class="c38"/><circle cx="665.9" cy="647.0" r="5.7" class="c38"/><circle cx="619.1" cy="595.0" r="5.7" class="c38"/><circle cx="613.5" cy="590.6" r="5.7" class="c39"/><circle cx="629.8" cy="602.8" r="5.7" class="c39"/><circle cx="675.1" cy="655.2" r="5.7" class="c26"/><circle cx="696.0" cy="660.8" r="5.7" class="c38"/><circle cx="723.8" cy="684.8" r="5.7" class="c38"/><circle cx="641.3" cy="616.2" r="5.7" class="c39"/><circle cx="683.6" cy="645.0" r="5.7" class="c39"/><circle cx="736.7" cy="692.1" r="5.7" class="c39"/><circle cx="700.2" cy="674.0" r="5.7" class="c39"/><circle cx="709.5" cy="674.4" r="5.7" class="c38"/><circle cx="695.6" cy="661.0" r="5.7" class="c39"/><circle cx="729.7" cy="692.7" r="5.7" class="c39"/><circle cx="691.8" cy="646.5" r="5.7" class="c39"/><circle cx="708.8" cy="668.7" r="5.7" class="c39"/><circle cx="708.8" cy="682.1" r="5.7" class="c38"/><circle cx="719.1" cy="702.6" r="5.7" class="c38"/><circle cx="673.3" cy="649.2" r="5.7" class="c38"/><circle cx="628.7" cy="594.3" r="5.7" class="c39"/><circle cx="648.7" cy="621.5" r="5.7" class="c39"/><circle cx="609.0" cy="557.9" r="5.7" class="c38"/><circle cx="590.6" cy="541.7" r="5.7" class="c39"/><circle cx="679.5" cy="660.9" r="5.7" class="c38"/><circle cx="716.8" cy="705.8" r="5.7" class="c39"/><circle cx="642.0" cy="621.1" r="5.7" class="c39"/><circle cx="609.0" cy="571.8" r="5.7" class="c38"/><circle cx="714.7" cy="694.3" r="5.7" class="c36"/><circle cx="597.7" cy="539.7" r="5.7" class="c39"/><circle cx="729.9" cy="707.4" r="5.7" class="c36"/><circle cx="730.0" cy="711.0" r="5.7" class="c39"/><circle cx="590.4" cy="542.4" r="5.7" class="c39"/><circle cx="705.4" cy="667.8" r="5.7" class="c38"/><circle cx="696.6" cy="654.5" r="5.7" class="c39"/><circle cx="716.9" cy="673.7" r="5.7" class="c38"/><circle cx="622.6" cy="542.4" r="5.7" class="c39"/><circle cx="701.8" cy="664.2" r="5.7" class="c39"/><circle cx="624.3" cy="604.7" r="5.7" class="c37"/><circle cx="604.9" cy="572.1" r="5.7" class="c38"/><circle cx="675.7" cy="648.1" r="5.7" class="c38"/><circle cx="704.2" cy="663.7" r="5.7" class="c39"/><circle cx="711.7" cy="685.6" r="5.7" class="c38"/><circle cx="640.5" cy="610.3" r="5.7" class="c39"/><circle cx="608.2" cy="508.2" r="5.7" class="c39"/><circle cx="712.2" cy="681.5" r="5.7" class="c38"/><circle cx="717.7" cy="687.6" r="5.7" class="c39"/><circle cx="683.0" cy="653.0" r="5.7" class="c39"/><circle cx="712.4" cy="699.0" r="5.7" class="c38"/><circle cx="708.7" cy="663.9" r="5.7" class="c39"/><circle cx="601.5" cy="570.6" r="5.7" class="c39"/><circle cx="714.5" cy="692.6" r="5.7" class="c38"/><circle cx="721.8" cy="694.5" r="5.7" class="c39"/><circle cx="737.1" cy="691.3" r="5.7" class="c11"/><circle cx="584.2" cy="744.0" r="5.7" class="c31"/><circle cx="704.4" cy="676.6" r="5.7" class="c37"/><circle cx="724.4" cy="686.5" r="5.7" class="c39"/><circle cx="672.9" cy="645.5" r="5.7" class="c38"/><circle cx="679.9" cy="651.8" r="5.7" class="c38"/><circle cx="664.8" cy="639.5" r="5.7" class="c38"/><circle cx="645.7" cy="609.9" r="5.7" class="c38"/><circle cx="634.4" cy="603.0" r="5.7" class="c39"/><circle cx="723.0" cy="698.3" r="5.7" class="c38"/><circle cx="723.5" cy="696.2" r="5.7" class="c38"/><circle cx="632.7" cy="597.9" r="5.7" class="c39"/><circle cx="713.0" cy="696.6" r="5.7" class="c38"/><circle cx="726.8" cy="693.4" r="5.7" class="c39"/><circle cx="722.4" cy="676.7" r="5.7" class="c37"/><circle cx="728.3" cy="709.3" r="5.7" class="c28"/><circle cx="675.2" cy="644.5" r="5.7" class="c39"/><circle cx="672.8" cy="630.3" r="5.7" class="c38"/><circle cx="713.7" cy="674.4" r="5.7" class="c27"/><circle cx="730.4" cy="679.7" r="5.7" class="c22"/></g>
</g></svg>
<line x1="193.60" y1="345.6" x2="193.60" y2="341.1" stroke="#000" stroke-width="1"/>
<text transform="translate(174.50,366.41) scale(1.0833,1)" font-family="Liberation Sans" font-style="normal" font-size="21.15" fill="#000" >132</text>
<line x1="323.60" y1="345.6" x2="323.60" y2="341.1" stroke="#000" stroke-width="1"/>
<text transform="translate(304.49,366.41) scale(1.0844,1)" font-family="Liberation Sans" font-style="normal" font-size="21.15" fill="#000" >134</text>
<line x1="69" y1="289.50" x2="73.5" y2="289.50" stroke="#000" stroke-width="1"/>
<text transform="translate(38.67,297.30) scale(1.0674,1)" font-family="Liberation Sans" font-style="normal" font-size="21.15" fill="#000" >10</text>
<line x1="69" y1="226.00" x2="73.5" y2="226.00" stroke="#000" stroke-width="1"/>
<text transform="translate(38.54,234.01) scale(1.1193,1)" font-family="Liberation Sans" font-style="normal" font-size="21.76" fill="#000" >11</text>
<line x1="69" y1="162.50" x2="73.5" y2="162.50" stroke="#000" stroke-width="1"/>
<text transform="translate(38.67,170.51) scale(1.0499,1)" font-family="Liberation Sans" font-style="normal" font-size="21.45" fill="#000" >12</text>
<line x1="69" y1="99.00" x2="73.5" y2="99.00" stroke="#000" stroke-width="1"/>
<text transform="translate(38.69,106.80) scale(1.0562,1)" font-family="Liberation Sans" font-style="normal" font-size="21.15" fill="#000" >13</text>
<line x1="69" y1="35.50" x2="73.5" y2="35.50" stroke="#000" stroke-width="1"/>
<text transform="translate(38.67,43.51) scale(1.0369,1)" font-family="Liberation Sans" font-style="normal" font-size="21.76" fill="#000" >14</text>
<rect x="69" y="1" width="354.5" height="344.6" fill="none" stroke="#000" stroke-width="2.3"/>
<line x1="602.70" y1="345.6" x2="602.70" y2="341.1" stroke="#000" stroke-width="1"/>
<text transform="translate(581.89,366.62) scale(1.1559,1)" font-family="Liberation Sans" font-style="normal" font-size="21.45" fill="#000" >−12</text>
<line x1="733.30" y1="345.6" x2="733.30" y2="341.1" stroke="#000" stroke-width="1"/>
<text transform="translate(712.49,366.41) scale(1.1730,1)" font-family="Liberation Sans" font-style="normal" font-size="21.15" fill="#000" >−10</text>
<line x1="494" y1="51.30" x2="498.5" y2="51.30" stroke="#000" stroke-width="1"/>
<text transform="translate(459.83,59.31) scale(1.1675,1)" font-family="Liberation Sans" font-style="normal" font-size="21.76" fill="#000" >−1</text>
<line x1="494" y1="115.30" x2="498.5" y2="115.30" stroke="#000" stroke-width="1"/>
<text transform="translate(459.83,123.31) scale(1.1855,1)" font-family="Liberation Sans" font-style="normal" font-size="21.45" fill="#000" >−2</text>
<line x1="494" y1="179.30" x2="498.5" y2="179.30" stroke="#000" stroke-width="1"/>
<text transform="translate(459.84,187.10) scale(1.1928,1)" font-family="Liberation Sans" font-style="normal" font-size="21.15" fill="#000" >−3</text>
<line x1="494" y1="243.30" x2="498.5" y2="243.30" stroke="#000" stroke-width="1"/>
<text transform="translate(459.83,251.31) scale(1.1679,1)" font-family="Liberation Sans" font-style="normal" font-size="21.76" fill="#000" >−4</text>
<line x1="494" y1="307.30" x2="498.5" y2="307.30" stroke="#000" stroke-width="1"/>
<text transform="translate(459.83,315.09) scale(1.1815,1)" font-family="Liberation Sans" font-style="normal" font-size="21.45" fill="#000" >−5</text>
<rect x="494" y="1" width="354" height="344.6" fill="none" stroke="#000" stroke-width="2.3"/>
<line x1="136.70" y1="760.6" x2="136.70" y2="756.1" stroke="#000" stroke-width="1"/>
<text transform="translate(124.17,781.41) scale(1.0674,1)" font-family="Liberation Sans" font-style="normal" font-size="21.15" fill="#000" >10</text>
<line x1="261.90" y1="760.6" x2="261.90" y2="756.1" stroke="#000" stroke-width="1"/>
<text transform="translate(249.38,781.40) scale(1.0471,1)" font-family="Liberation Sans" font-style="normal" font-size="21.45" fill="#000" >15</text>
<line x1="387.10" y1="760.6" x2="387.10" y2="756.1" stroke="#000" stroke-width="1"/>
<text transform="translate(374.36,781.41) scale(1.0766,1)" font-family="Liberation Sans" font-style="normal" font-size="21.15" fill="#000" >20</text>
<line x1="69" y1="415.50" x2="73.5" y2="415.50" stroke="#000" stroke-width="1"/>
<text transform="translate(51.95,423.29) scale(0.9744,1)" font-family="Liberation Sans" font-style="normal" font-size="21.45" fill="#000" >5</text>
<line x1="69" y1="464.80" x2="73.5" y2="464.80" stroke="#000" stroke-width="1"/>
<text transform="translate(51.78,472.81) scale(0.9859,1)" font-family="Liberation Sans" font-style="normal" font-size="21.76" fill="#000" >4</text>
<line x1="69" y1="514.10" x2="73.5" y2="514.10" stroke="#000" stroke-width="1"/>
<text transform="translate(51.94,521.90) scale(0.9780,1)" font-family="Liberation Sans" font-style="normal" font-size="21.15" fill="#000" >3</text>
<line x1="69" y1="563.40" x2="73.5" y2="563.40" stroke="#000" stroke-width="1"/>
<text transform="translate(51.62,571.41) scale(1.0088,1)" font-family="Liberation Sans" font-style="normal" font-size="21.45" fill="#000" >2</text>
<line x1="69" y1="612.70" x2="73.5" y2="612.70" stroke="#000" stroke-width="1"/>
<text transform="translate(51.88,620.71) scale(0.9704,1)" font-family="Liberation Sans" font-style="normal" font-size="21.76" fill="#000" >1</text>
<line x1="69" y1="662.00" x2="73.5" y2="662.00" stroke="#000" stroke-width="1"/>
<text transform="translate(51.69,669.80) scale(1.0226,1)" font-family="Liberation Sans" font-style="normal" font-size="21.15" fill="#000" >0</text>
<line x1="69" y1="711.30" x2="73.5" y2="711.30" stroke="#000" stroke-width="1"/>
<text transform="translate(34.83,719.31) scale(1.1675,1)" font-family="Liberation Sans" font-style="normal" font-size="21.76" fill="#000" >−1</text>
<line x1="69" y1="760.60" x2="73.5" y2="760.60" stroke="#000" stroke-width="1"/>
<text transform="translate(34.83,768.61) scale(1.1855,1)" font-family="Liberation Sans" font-style="normal" font-size="21.45" fill="#000" >−2</text>
<rect x="69" y="415.5" width="354.5" height="345.1" fill="none" stroke="#000" stroke-width="2.3"/>
<line x1="548.10" y1="761" x2="548.10" y2="756.5" stroke="#000" stroke-width="1"/>
<text transform="translate(542.04,781.81) scale(1.0226,1)" font-family="Liberation Sans" font-style="normal" font-size="21.15" fill="#000" >0</text>
<line x1="622.30" y1="761" x2="622.30" y2="756.5" stroke="#000" stroke-width="1"/>
<text transform="translate(616.43,782.02) scale(0.9704,1)" font-family="Liberation Sans" font-style="normal" font-size="21.76" fill="#000" >1</text>
<line x1="696.50" y1="761" x2="696.50" y2="756.5" stroke="#000" stroke-width="1"/>
<text transform="translate(690.37,782.02) scale(1.0088,1)" font-family="Liberation Sans" font-style="normal" font-size="21.45" fill="#000" >2</text>
<line x1="770.70" y1="761" x2="770.70" y2="756.5" stroke="#000" stroke-width="1"/>
<text transform="translate(764.89,781.81) scale(0.9780,1)" font-family="Liberation Sans" font-style="normal" font-size="21.15" fill="#000" >3</text>
<line x1="844.90" y1="761" x2="844.90" y2="756.5" stroke="#000" stroke-width="1"/>
<text transform="translate(838.93,782.02) scale(0.9859,1)" font-family="Liberation Sans" font-style="normal" font-size="21.76" fill="#000" >4</text>
<line x1="494" y1="431.90" x2="498.5" y2="431.90" stroke="#000" stroke-width="1"/>
<text transform="translate(476.61,439.70) scale(1.0361,1)" font-family="Liberation Sans" font-style="normal" font-size="21.15" fill="#000" >8</text>
<line x1="494" y1="480.76" x2="498.5" y2="480.76" stroke="#000" stroke-width="1"/>
<text transform="translate(463.67,488.56) scale(1.0674,1)" font-family="Liberation Sans" font-style="normal" font-size="21.15" fill="#000" >10</text>
<line x1="494" y1="529.62" x2="498.5" y2="529.62" stroke="#000" stroke-width="1"/>
<text transform="translate(463.67,537.63) scale(1.0499,1)" font-family="Liberation Sans" font-style="normal" font-size="21.45" fill="#000" >12</text>
<line x1="494" y1="578.48" x2="498.5" y2="578.48" stroke="#000" stroke-width="1"/>
<text transform="translate(463.67,586.49) scale(1.0369,1)" font-family="Liberation Sans" font-style="normal" font-size="21.76" fill="#000" >14</text>
<line x1="494" y1="627.34" x2="498.5" y2="627.34" stroke="#000" stroke-width="1"/>
<text transform="translate(463.66,635.14) scale(1.0757,1)" font-family="Liberation Sans" font-style="normal" font-size="21.15" fill="#000" >16</text>
<line x1="494" y1="676.20" x2="498.5" y2="676.20" stroke="#000" stroke-width="1"/>
<text transform="translate(463.66,684.00) scale(1.0708,1)" font-family="Liberation Sans" font-style="normal" font-size="21.15" fill="#000" >18</text>
<line x1="494" y1="725.06" x2="498.5" y2="725.06" stroke="#000" stroke-width="1"/>
<text transform="translate(463.46,732.86) scale(1.0766,1)" font-family="Liberation Sans" font-style="normal" font-size="21.15" fill="#000" >20</text>
<rect x="494" y="415.5" width="354" height="345.5" fill="none" stroke="#000" stroke-width="2.3"/>
<defs><linearGradient id="cbg" x1="0" y1="0" x2="0" y2="1">
<stop offset="0.00" stop-color="rgb(165, 0, 38)" />
<stop offset="0.10" stop-color="rgb(215, 48, 39)" />
<stop offset="0.20" stop-color="rgb(244, 109, 67)" />
<stop offset="0.30" stop-color="rgb(253, 174, 97)" />
<stop offset="0.40" stop-color="rgb(254, 224, 144)" />
<stop offset="0.50" stop-color="rgb(255, 255, 191)" />
<stop offset="0.60" stop-color="rgb(224, 243, 248)" />
<stop offset="0.70" stop-color="rgb(171, 217, 233)" />
<stop offset="0.80" stop-color="rgb(116, 173, 209)" />
<stop offset="0.90" stop-color="rgb(69, 117, 180)" />
<stop offset="1.00" stop-color="rgb(49, 54, 149)" />
</linearGradient></defs>
<rect x="898" y="1.5" width="15.799999999999955" height="754.0" fill="url(#cbg)" fill-opacity="0.7"/>
<rect x="898" y="1.5" width="15.799999999999955" height="754.0" fill="none" stroke="#222" stroke-width="1.1"/>
<line x1="913.8" y1="95.00" x2="917.8" y2="95.00" stroke="#000" stroke-width="1"/>
<text transform="translate(920.44,102.80) scale(1.0878,1)" font-family="Liberation Sans" font-style="normal" font-size="21.15" fill="#000" >0.95</text>
<line x1="913.8" y1="189.58" x2="917.8" y2="189.58" stroke="#000" stroke-width="1"/>
<text transform="translate(920.44,197.38) scale(1.0906,1)" font-family="Liberation Sans" font-style="normal" font-size="21.15" fill="#000" >0.90</text>
<line x1="913.8" y1="284.16" x2="917.8" y2="284.16" stroke="#000" stroke-width="1"/>
<text transform="translate(920.44,291.96) scale(1.0878,1)" font-family="Liberation Sans" font-style="normal" font-size="21.15" fill="#000" >0.85</text>
<line x1="913.8" y1="378.74" x2="917.8" y2="378.74" stroke="#000" stroke-width="1"/>
<text transform="translate(920.44,386.54) scale(1.0906,1)" font-family="Liberation Sans" font-style="normal" font-size="21.15" fill="#000" >0.80</text>
<line x1="913.8" y1="473.32" x2="917.8" y2="473.32" stroke="#000" stroke-width="1"/>
<text transform="translate(920.44,481.12) scale(1.0878,1)" font-family="Liberation Sans" font-style="normal" font-size="21.15" fill="#000" >0.75</text>
<line x1="913.8" y1="567.90" x2="917.8" y2="567.90" stroke="#000" stroke-width="1"/>
<text transform="translate(920.44,575.70) scale(1.0906,1)" font-family="Liberation Sans" font-style="normal" font-size="21.15" fill="#000" >0.70</text>
<line x1="913.8" y1="662.48" x2="917.8" y2="662.48" stroke="#000" stroke-width="1"/>
<text transform="translate(920.44,670.28) scale(1.0878,1)" font-family="Liberation Sans" font-style="normal" font-size="21.15" fill="#000" >0.65</text>
<text transform="translate(195.81,397.66) scale(0.9699,1)" font-family="Liberation Serif" font-style="italic" font-size="34.17" fill="#000" >α</text>
<text transform="translate(223.16,397.19) scale(1.1693,1)" font-family="Liberation Serif" font-style="normal" font-size="29.34" fill="#000" >(deg)</text>
<text transform="translate(23.92,225.43) rotate(-90) scale(1.4662,1)" font-family="Liberation Serif" font-style="italic" font-size="27.89" fill="#000" >δ</text>
<text transform="translate(23.25,196.43) rotate(-90) scale(1.2125,1)" font-family="Liberation Serif" font-style="normal" font-size="28.13" fill="#000" >(deg)</text>
<text transform="translate(591.80,396.96) scale(1.1047,1)" font-family="Liberation Serif" font-style="italic" font-size="32.74" fill="#000" >μ</text>
<text transform="translate(609.51,401.29) scale(1.0888,1)" font-family="Liberation Serif" font-style="italic" font-size="21.25" fill="#000" >α</text>
<text transform="translate(632.73,396.49) scale(1.2869,1)" font-family="Liberation Serif" font-style="normal" font-size="27.03" fill="#000" >(mas/yr)</text>
<text transform="translate(444.56,252.50) rotate(-90) scale(1.0723,1)" font-family="Liberation Serif" font-style="italic" font-size="32.74" fill="#000" >μ</text>
<text transform="translate(449.89,234.78) rotate(-90) scale(1.0658,1)" font-family="Liberation Serif" font-style="italic" font-size="21.27" fill="#000" >δ</text>
<text transform="translate(442.39,212.38) rotate(-90) scale(1.2751,1)" font-family="Liberation Serif" font-style="normal" font-size="27.47" fill="#000" >(mas/yr)</text>
<text transform="translate(189.57,811.61) scale(0.9838,1)" font-family="Liberation Sans" font-style="italic" font-size="29.08" fill="#000" >G</text>
<text transform="translate(219.68,810.19) scale(1.2340,1)" font-family="Liberation Serif" font-style="normal" font-size="28.19" fill="#000" >(mag)</text>
<text transform="translate(561.74,810.73) scale(0.9196,1)" font-family="Liberation Sans" font-style="italic" font-size="27.46" fill="#000" >G</text>
<text transform="translate(582.04,816.30) scale(0.8856,1)" font-family="Liberation Sans" font-style="italic" font-size="21.01" fill="#000" >BP</text>
<text transform="translate(614.23,813.63) scale(1.1284,1)" font-family="Liberation Sans" font-style="normal" font-size="31.43" fill="#000" >−</text>
<text transform="translate(642.08,810.73) scale(1.0365,1)" font-family="Liberation Sans" font-style="italic" font-size="27.46" fill="#000" >G</text>
<text transform="translate(663.66,816.30) scale(0.8530,1)" font-family="Liberation Sans" font-style="italic" font-size="21.01" fill="#000" >RP</text>
<text transform="translate(698.35,810.31) scale(1.1975,1)" font-family="Liberation Serif" font-style="normal" font-size="28.79" fill="#000" >(mag)</text>
<text transform="translate(23.33,641.82) rotate(-90) scale(0.8743,1)" font-family="Liberation Serif" font-style="italic" font-size="37.45" fill="#000" >ϖ</text>
<text transform="translate(21.13,610.25) rotate(-90) scale(1.2175,1)" font-family="Liberation Serif" font-style="normal" font-size="28.24" fill="#000" >(mas)</text>
<text transform="translate(448.73,645.72) rotate(-90) scale(1.2047,1)" font-family="Liberation Sans" font-style="italic" font-size="26.90" fill="#000" >G</text>
<text transform="translate(449.40,611.22) rotate(-90) scale(1.1193,1)" font-family="Liberation Serif" font-style="normal" font-size="30.22" fill="#000" >(mag)</text>
<text transform="translate(991.08,457.04) rotate(-90) scale(1.3063,1)" font-family="Liberation Serif" font-style="normal" font-size="26.59" fill="#000" >Probability</text>
</svg></body></html>
